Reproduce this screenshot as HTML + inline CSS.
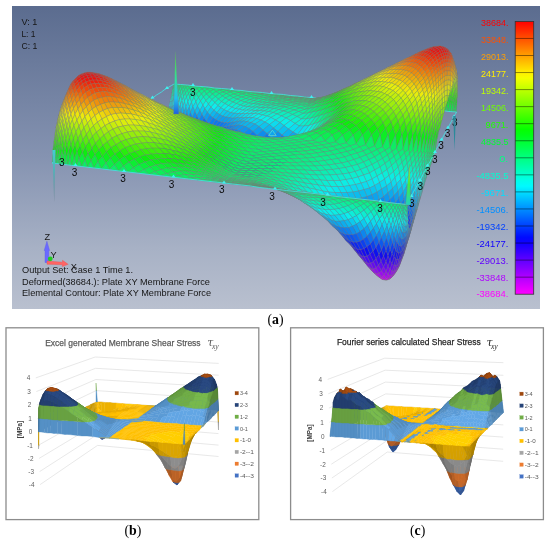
<!DOCTYPE html>
<html><head><meta charset="utf-8"><title>Membrane shear stress</title><style>
html,body{margin:0;padding:0;background:#fff;}
body{width:550px;height:543px;overflow:hidden;}
svg{display:block;}
text{font-family:"Liberation Sans",Arial,sans-serif;}
.cb{font-size:9.8px;}
.fe{font-size:9.2px;fill:#161616;}
.tr{font-size:9.2px;fill:#161616;}
.lg{font-size:6.2px;fill:#595959;}
.ax{font-size:6.4px;fill:#606060;}
.mpa{font-size:6.4px;font-weight:bold;fill:#404040;}
.tt{font-size:9.6px;stroke-width:0.25px;}
.tau{font-size:11px;font-style:italic;font-family:"DejaVu Serif","Liberation Serif",serif;}
.sub{font-size:7.6px;font-style:italic;font-family:"Liberation Serif",serif;}
.e{fill:none;stroke:#40e8e8;stroke-width:1.6px;stroke-opacity:1}
.m{fill:#40f0f0;stroke:none}
.three{font-size:10px;fill:#0a0a0a;text-anchor:middle}
.cap{font-size:13.8px;font-family:"Liberation Serif",serif;fill:#000;}
</style></head>
<body><svg width="550" height="543" viewBox="0 0 550 543"><defs>
<linearGradient id="bgA" x1="0" y1="0" x2="0" y2="1">
<stop offset="0" stop-color="#5b6c8f"/><stop offset="0.5" stop-color="#8593b1"/><stop offset="0.8" stop-color="#a7b1c5"/><stop offset="1" stop-color="#b9c0cf"/>
</linearGradient>
<linearGradient id="cbar" x1="0" y1="0" x2="0" y2="1"><stop offset="0.0000" stop-color="#ff0000"/><stop offset="0.0208" stop-color="#ff1b00"/><stop offset="0.0417" stop-color="#ff3500"/><stop offset="0.0625" stop-color="#ff5000"/><stop offset="0.0833" stop-color="#ff6a00"/><stop offset="0.1042" stop-color="#ff8500"/><stop offset="0.1250" stop-color="#ff9f00"/><stop offset="0.1458" stop-color="#ffba00"/><stop offset="0.1667" stop-color="#ffd400"/><stop offset="0.1875" stop-color="#ffef00"/><stop offset="0.2083" stop-color="#f4ff00"/><stop offset="0.2292" stop-color="#daff00"/><stop offset="0.2500" stop-color="#bfff00"/><stop offset="0.2708" stop-color="#a5ff00"/><stop offset="0.2917" stop-color="#8aff00"/><stop offset="0.3125" stop-color="#70ff00"/><stop offset="0.3333" stop-color="#55ff00"/><stop offset="0.3542" stop-color="#3aff00"/><stop offset="0.3750" stop-color="#20ff00"/><stop offset="0.3958" stop-color="#05ff00"/><stop offset="0.4167" stop-color="#00ff15"/><stop offset="0.4375" stop-color="#00ff30"/><stop offset="0.4583" stop-color="#00ff4a"/><stop offset="0.4792" stop-color="#00ff65"/><stop offset="0.5000" stop-color="#00ff80"/><stop offset="0.5208" stop-color="#00ff9a"/><stop offset="0.5417" stop-color="#00ffb5"/><stop offset="0.5625" stop-color="#00ffcf"/><stop offset="0.5833" stop-color="#00ffea"/><stop offset="0.6042" stop-color="#00faff"/><stop offset="0.6250" stop-color="#00dfff"/><stop offset="0.6458" stop-color="#00c5ff"/><stop offset="0.6667" stop-color="#00aaff"/><stop offset="0.6875" stop-color="#008fff"/><stop offset="0.7083" stop-color="#0075ff"/><stop offset="0.7292" stop-color="#005aff"/><stop offset="0.7500" stop-color="#0040ff"/><stop offset="0.7708" stop-color="#0025ff"/><stop offset="0.7917" stop-color="#000bff"/><stop offset="0.8125" stop-color="#1000ff"/><stop offset="0.8333" stop-color="#2a00ff"/><stop offset="0.8542" stop-color="#4500ff"/><stop offset="0.8750" stop-color="#6000ff"/><stop offset="0.8958" stop-color="#7a00ff"/><stop offset="0.9167" stop-color="#9500ff"/><stop offset="0.9375" stop-color="#af00ff"/><stop offset="0.9583" stop-color="#ca00ff"/><stop offset="0.9792" stop-color="#e400ff"/><stop offset="1.0000" stop-color="#ff00ff"/></linearGradient>
</defs>
<rect x="12" y="6" width="528" height="303" fill="url(#bgA)"/>
<g transform="scale(0.5)" stroke="#7a7a7a" stroke-width="1.0" stroke-opacity="0.6" stroke-linejoin="round">
<path fill="#0ded6c" d="M348 168l-1 0 2 0-1 0z"/>
<path fill="#0ded6d" d="M349 168l1 1 2-1-1 0z"/>
<path fill="#0ded6f" d="M347 168l1 2 2-1-1-1z"/>
<path fill="#0ded6d" d="M352 168l1 1 3-1-2 0z"/>
<path fill="#0ded6f" d="M350 169l1 2 2-2-1-1z"/>
<path fill="#0ded6d" d="M356 168l1 2 2-1-2 0z"/>
<path fill="#0ded73" d="M347 170l-1 2 2-2-1-2z"/>
<path fill="#0ded70" d="M353 169l1 3 3-2-1-2z"/>
<path fill="#0ded75" d="M348 170l1 3 2-2-1-2z"/>
<path fill="#0ded6d" d="M359 169l2 1 2-1-2 0z"/>
<path fill="#0d12ed" d="M358 261l2 13 4-8-2-13z"/>
<path fill="#0d42ed" d="M357 248l1 13 4-8-2-13z"/>
<path fill="#0ded77" d="M351 171l1 4 2-3-1-3z"/>
<path fill="#360ded" d="M360 274l1 13 4-9-1-12z"/>
<path fill="#240ded" d="M355 268l1 13 4-7-2-13z"/>
<path fill="#0ded7c" d="M346 172l1 4 2-3-1-3z"/>
<path fill="#0d27ed" d="M354 254l1 14 3-7-1-13z"/>
<path fill="#0ded70" d="M357 170l1 3 3-3-2-1z"/>
<path fill="#0d34ed" d="M362 253l2 13 4-10-2-12z"/>
<path fill="#0d73ed" d="M356 235l1 13 3-8-1-13z"/>
<path fill="#0d62ed" d="M360 240l2 13 4-9-2-13z"/>
<path fill="#130ded" d="M364 266l1 12 5-10-2-12z"/>
<path fill="#0d59ed" d="M353 241l1 13 3-6-1-13z"/>
<path fill="#0ded80" d="M349 173l1 5 2-3-1-4z"/>
<path fill="#520ded" d="M356 281l1 12 4-6-1-13z"/>
<path fill="#0ded79" d="M354 172l2 4 2-3-1-3z"/>
<path fill="#0d91ed" d="M359 227l1 13 4-9-2-12z"/>
<path fill="#0ded6d" d="M363 169l2 2 3-1-3-1z"/>
<path fill="#0da2ed" d="M355 222l1 13 3-8-1-12z"/>
<path fill="#0ded83" d="M346 175l-1 3 2-2-1-4z"/>
<path fill="#0d89ed" d="M352 228l1 13 3-6-1-13z"/>
<path fill="#0ded84" d="M352 175l1 5 3-4-2-4z"/>
<path fill="#5f0ded" d="M361 287l2 11 4-9-2-11z"/>
<path fill="#0d12ed" d="M350 259l1 14 4-5-1-14z"/>
<path fill="#0ded8a" d="M347 176l1 5 2-3-1-5z"/>
<path fill="#0ded71" d="M361 170l1 3 3-2-2-2z"/>
<path fill="#3d0ded" d="M365 278l2 11 5-10-2-11z"/>
<path fill="#0d44ed" d="M350 246l0 13 4-5-1-13z"/>
<path fill="#0d5aed" d="M366 244l2 12 4-10-2-12z"/>
<path fill="#380ded" d="M351 273l1 13 4-5-1-13z"/>
<path fill="#0ded91" d="M350 178l1 6 2-4-1-5z"/>
<path fill="#0dbeed" d="M358 215l1 12 3-8-1-11z"/>
<path fill="#0d86ed" d="M364 231l2 13 4-10-2-12z"/>
<path fill="#0d2eed" d="M368 256l2 12 5-11-3-11z"/>
<path fill="#0dceed" d="M354 210l1 12 3-7-2-11z"/>
<path fill="#0db7ed" d="M351 216l1 12 3-6-1-12z"/>
<path fill="#0ded7a" d="M358 173l1 4 3-4-1-3z"/>
<path fill="#0d75ed" d="M349 233l1 13 3-5-1-13z"/>
<path fill="#0ded88" d="M356 176l1 6 2-5-1-4z"/>
<path fill="#0ded97" d="M353 180l1 6 3-4-1-6z"/>
<path fill="#0ded9d" d="M348 181l1 6 2-3-1-6z"/>
<path fill="#0db2ed" d="M362 219l2 12 4-9-2-11z"/>
<path fill="#0de7ed" d="M356 204l2 11 3-7-2-10z"/>
<path fill="#7b0ded" d="M357 293l1 11 5-6-2-11z"/>
<path fill="#0deda7" d="M351 184l1 7 2-5-1-6z"/>
<path fill="#0ded93" d="M345 178l1 5 2-2-1-5z"/>
<path fill="#0dede6" d="M353 200l1 10 2-6-1-9z"/>
<path fill="#0de1ed" d="M350 205l1 11 3-6-1-10z"/>
<path fill="#0dedc4" d="M352 191l1 9 2-5-1-9z"/>
<path fill="#0dedb0" d="M354 186l1 9 3-6-1-7z"/>
<path fill="#0dedcf" d="M355 195l1 9 3-6-1-9z"/>
<path fill="#650ded" d="M352 286l1 11 4-4-1-12z"/>
<path fill="#0da4ed" d="M348 220l1 13 3-5-1-12z"/>
<path fill="#0dedb7" d="M349 187l0 8 3-4-1-7z"/>
<path fill="#0ddced" d="M361 208l1 11 4-8-2-11z"/>
<path fill="#140ded" d="M370 268l2 11 5-11-2-11z"/>
<path fill="#0ded6d" d="M368 170l2 1 3-1-2 0z"/>
<path fill="#0dedd6" d="M349 195l1 10 3-5-1-9z"/>
<path fill="#0ded9d" d="M357 182l1 7 3-6-2-6z"/>
<path fill="#0ded71" d="M365 171l2 3 3-3-2-1z"/>
<path fill="#0dedd9" d="M359 198l2 10 3-8-2-9z"/>
<path fill="#0deda9" d="M346 183l1 7 2-3-1-6z"/>
<path fill="#0ded8b" d="M359 177l2 6 3-5-2-5z"/>
<path fill="#0dedb8" d="M358 189l1 9 3-7-1-8z"/>
<path fill="#0dcfed" d="M348 209l0 11 3-4-1-11z"/>
<path fill="#0ded7c" d="M362 173l2 5 3-4-2-3z"/>
<path fill="#0dedc4" d="M347 190l0 9 2-4 0-8z"/>
<path fill="#0dede5" d="M347 199l1 10 2-4-1-10z"/>
<path fill="#0d83ed" d="M370 234l2 12 5-11-3-12z"/>
<path fill="#0ded9b" d="M344 181l0 4 2-2-1-5z"/>
<path fill="#600ded" d="M367 289l3 9 5-10-3-9z"/>
<path fill="#0daced" d="M368 222l2 12 4-11-2-10z"/>
<path fill="#0d36ed" d="M347 249l0 13 3-3 0-13z"/>
<path fill="#820ded" d="M363 298l2 9 5-9-3-9z"/>
<path fill="#150ded" d="M347 262l1 13 3-2-1-14z"/>
<path fill="#0deda2" d="M361 183l1 8 4-6-2-7z"/>
<path fill="#0d5aed" d="M372 246l3 11 4-12-2-10z"/>
<path fill="#0dd5ed" d="M366 211l2 11 4-9-3-11z"/>
<path fill="#0d67ed" d="M346 236l1 13 3-3-1-13z"/>
<path fill="#0dede0" d="M364 200l2 11 3-9-2-9z"/>
<path fill="#0dedbe" d="M362 191l2 9 3-7-1-8z"/>
<path fill="#0d96ed" d="M346 223l0 13 3-3-1-13z"/>
<path fill="#0dedb1" d="M344 185l0 8 3-3-1-7z"/>
<path fill="#440ded" d="M348 275l0 13 4-2-1-13z"/>
<path fill="#0ded8e" d="M364 178l2 7 3-6-2-5z"/>
<path fill="#370ded" d="M372 279l3 9 5-11-3-9z"/>
<path fill="#8d0ded" d="M353 297l1 11 4-4-1-11z"/>
<path fill="#0dc2ed" d="M345 212l1 11 2-3 0-11z"/>
<path fill="#0ded6d" d="M373 170l3 2 4-1-4-1z"/>
<path fill="#0d33ed" d="M375 257l2 11 6-12-4-11z"/>
<path fill="#0dedce" d="M344 193l1 9 2-3 0-9z"/>
<path fill="#0deaed" d="M345 202l0 10 3-3-1-10z"/>
<path fill="#0ded72" d="M370 171l2 4 4-3-3-2z"/>
<path fill="#0ded7d" d="M367 174l2 5 3-4-2-4z"/>
<path fill="#9d0ded" d="M358 304l2 9 5-6-2-9z"/>
<path fill="#0deda5" d="M366 185l1 8 4-7-2-7z"/>
<path fill="#0dedc2" d="M367 193l2 9 4-8-2-8z"/>
<path fill="#0dede4" d="M369 202l3 11 4-10-3-9z"/>
<path fill="#0dd2ed" d="M372 213l2 10 5-10-3-10z"/>
<path fill="#700ded" d="M348 288l1 12 4-3-1-11z"/>
<path fill="#0daced" d="M374 223l3 12 4-11-2-11z"/>
<path fill="#0dedb8" d="M343 190l-1 4 2-1 0-8z"/>
<path fill="#0ded8f" d="M369 179l2 7 4-6-3-5z"/>
<path fill="#0d86ed" d="M377 235l2 10 6-11-4-10z"/>
<path fill="#0d10ed" d="M377 268l3 9 6-12-3-9z"/>
<path fill="#0d60ed" d="M344 238l0 12 3-1-1-13z"/>
<path fill="#0dedd5" d="M342 194l1 9 2-1-1-9z"/>
<path fill="#0d8eed" d="M343 225l1 13 2-2 0-13z"/>
<path fill="#7c0ded" d="M370 298l2 8 6-10-3-8z"/>
<path fill="#0d30ed" d="M344 250l0 14 3-2 0-13z"/>
<path fill="#0ded7d" d="M372 175l3 5 4-4-3-4z"/>
<path fill="#0dbaed" d="M343 214l0 11 3-2-1-11z"/>
<path fill="#0de2ed" d="M343 203l0 11 2-2 0-10z"/>
<path fill="#0deda7" d="M371 186l2 8 4-7-2-7z"/>
<path fill="#0ded72" d="M376 172l3 4 4-3-3-2z"/>
<path fill="#0ded6d" d="M380 171l3 2 4-1-4-1z"/>
<path fill="#9d0ded" d="M365 307l2 7 5-8-2-8z"/>
<path fill="#0d61ed" d="M379 245l4 11 5-13-3-9z"/>
<path fill="#1a0ded" d="M344 264l1 12 3-1-1-13z"/>
<path fill="#540ded" d="M375 288l3 8 5-11-3-8z"/>
<path fill="#0dedc4" d="M373 194l3 9 4-8-3-8z"/>
<path fill="#ae0ded" d="M354 308l1 8 5-3-2-9z"/>
<path fill="#0dede4" d="M376 203l3 10 4-9-3-9z"/>
<path fill="#0ded90" d="M375 180l2 7 5-6-3-5z"/>
<path fill="#960ded" d="M349 300l1 10 4-2-1-11z"/>
<path fill="#0dd5ed" d="M379 213l2 11 5-11-3-9z"/>
<path fill="#470ded" d="M345 276l0 12 3 0 0-13z"/>
<path class="e" d="M348 168L361 169"/>
<path fill="#0d40ed" d="M383 256l3 9 6-13-4-9z"/>
<path fill="#b70ded" d="M360 313l2 6 5-5-2-7z"/>
<path fill="#260ded" d="M380 277l3 8 6-12-3-8z"/>
<path fill="#0dedd8" d="M341 199l-1 4 3 0-1-9z"/>
<path fill="#0db2ed" d="M381 224l4 10 5-12-4-9z"/>
<path fill="#0ded7d" d="M379 176l3 5 4-5-3-3z"/>
<path fill="#0deda7" d="M377 187l3 8 5-7-3-7z"/>
<path fill="#0ded72" d="M383 173l3 3 5-3-4-1z"/>
<path fill="#0ded6d" d="M387 172l4 1 5-1-5 0z"/>
<path fill="#0de1ed" d="M340 203l1 11 2 0 0-11z"/>
<path fill="#0db8ed" d="M341 214l0 11 2 0 0-11z"/>
<path fill="#0dedc3" d="M380 195l3 9 5-9-3-7z"/>
<path fill="#0d8ded" d="M341 225l0 13 3 0-1-13z"/>
<path fill="#0d90ed" d="M385 234l3 9 6-12-4-9z"/>
<path fill="#710ded" d="M345 288l0 11 4 1-1-12z"/>
<path fill="#0d5fed" d="M341 238l0 12 3 0 0-12z"/>
<path fill="#0ded8f" d="M382 181l3 7 4-6-3-6z"/>
<path fill="#0dede0" d="M383 204l3 9 6-10-4-8z"/>
<path fill="#0d31ed" d="M341 250l0 13 3 1 0-14z"/>
<path fill="#8f0ded" d="M372 306l3 5 6-10-3-5z"/>
<path fill="#0d24ed" d="M386 265l3 8 6-13-3-8z"/>
<path fill="#680ded" d="M378 296l3 5 6-10-4-6z"/>
<path fill="#0ded7d" d="M386 176l3 6 5-5-3-4z"/>
<path fill="#0d70ed" d="M388 243l4 9 6-12-4-9z"/>
<path fill="#b50ded" d="M350 310l1 8 4-2-1-8z"/>
<path fill="#0ddbed" d="M386 213l4 9 5-10-3-9z"/>
<path fill="#0deda6" d="M385 188l3 7 5-7-4-6z"/>
<path fill="#c60ded" d="M355 316l2 7 5-4-2-6z"/>
<path fill="#b00ded" d="M367 314l2 4 6-7-3-5z"/>
<path fill="#170ded" d="M341 263l0 12 4 1-1-12z"/>
<path fill="#0ded71" d="M391 173l3 4 6-3-4-2z"/>
<path fill="#0ded6d" d="M396 172l4 2 5-1-5 0z"/>
<path fill="#3c0ded" d="M383 285l4 6 6-12-4-6z"/>
<path fill="#0de2ed" d="M339 208l-1 5 3 1-1-11z"/>
<path fill="#0dbced" d="M390 222l4 9 6-11-5-8z"/>
<path class="e" d="M361 169L375 170"/>
<path fill="#0dedbf" d="M388 195l4 8 5-8-4-7z"/>
<path fill="#950ded" d="M345 299l1 10 4 1-1-10z"/>
<path fill="#0ded8e" d="M389 182l4 6 5-6-4-5z"/>
<path fill="#420ded" d="M341 275l1 12 3 1 0-12z"/>
<path fill="#0dbded" d="M338 213l0 11 3 1 0-11z"/>
<path fill="#0d55ed" d="M392 252l3 8 7-13-4-7z"/>
<path fill="#c70ded" d="M362 319l2 5 5-6-2-4z"/>
<path fill="#0d92ed" d="M338 224l0 12 3 2 0-13z"/>
<path fill="#0dedda" d="M392 203l3 9 6-10-4-7z"/>
<path fill="#0d0ded" d="M389 273l4 6 7-13-5-6z"/>
<path fill="#0ded7c" d="M394 177l4 5 6-4-4-4z"/>
<path fill="#0d9fed" d="M394 231l4 9 6-12-4-8z"/>
<path fill="#0d65ed" d="M338 236l0 12 3 2 0-12z"/>
<path fill="#0deda2" d="M393 188l4 7 6-7-5-6z"/>
<path fill="#0ded71" d="M400 174l4 4 6-3-5-2z"/>
<path fill="#0ded6d" d="M405 173l5 2 6-1-6 0z"/>
<path fill="#0de5ed" d="M395 212l5 8 6-10-5-8z"/>
<path class="e" d="M343 171L348 168"/>
<path fill="#6a0ded" d="M342 287l0 10 3 2 0-11z"/>
<path fill="#0d39ed" d="M338 248l0 12 3 3 0-13z"/>
<path fill="#cc0ded" d="M351 318l1 6 5-1-2-7z"/>
<path fill="#750ded" d="M381 301l3 4 6-10-3-4z"/>
<path fill="#0dedb9" d="M397 195l4 7 6-8-4-6z"/>
<path fill="#9a0ded" d="M375 311l3 3 6-9-3-4z"/>
<path fill="#0ded8c" d="M398 182l5 6 6-6-5-4z"/>
<path fill="#0d85ed" d="M398 240l4 7 6-12-4-7z"/>
<path fill="#b30ded" d="M346 309l1 8 4 1-1-8z"/>
<path fill="#0d3eed" d="M395 260l5 6 6-12-4-7z"/>
<path fill="#4b0ded" d="M387 291l3 4 7-12-4-4z"/>
<path class="e" d="M375 170L388 172"/>
<path fill="#d50ded" d="M357 323l1 4 6-3-2-5z"/>
<path fill="#0dcaed" d="M400 220l4 8 6-11-4-7z"/>
<path fill="#0d0eed" d="M338 260l0 12 3 3 0-12z"/>
<path fill="#0ded7b" d="M404 178l5 4 6-4-5-3z"/>
<path fill="#b80ded" d="M369 318l3 3 6-7-3-3z"/>
<path fill="#0dc4ed" d="M337 217l-1 4 2 3 0-11z"/>
<path fill="#0dedd1" d="M401 202l5 8 6-9-5-7z"/>
<path fill="#0ded71" d="M410 175l5 3 6-2-5-2z"/>
<path fill="#0ded9e" d="M403 188l4 6 6-6-4-6z"/>
<path fill="#1c0ded" d="M393 279l4 4 7-12-4-5z"/>
<path fill="#8c0ded" d="M342 297l0 9 4 3-1-10z"/>
<path fill="#0ded6d" d="M416 174l5 2 7 0-6-1z"/>
<path fill="#0d9eed" d="M336 221l0 12 2 3 0-12z"/>
<path fill="#0d6eed" d="M402 247l4 7 7-12-5-7z"/>
<path fill="#0db2ed" d="M404 228l4 7 7-11-5-7z"/>
<path fill="#350ded" d="M338 272l0 11 4 4-1-12z"/>
<path fill="#0dede9" d="M406 210l4 7 7-9-5-7z"/>
<path fill="#0ded89" d="M409 182l4 6 7-5-5-5z"/>
<path fill="#cf0ded" d="M364 324l2 2 6-5-3-3z"/>
<path fill="#0d73ed" d="M336 233l0 12 2 3 0-12z"/>
<path fill="#0dedb2" d="M407 194l5 7 7-7-6-6z"/>
<path fill="#0d2ded" d="M400 266l4 5 7-12-5-5z"/>
<path fill="#0ded79" d="M415 178l5 5 7-4-6-3z"/>
<path class="e" d="M388 172L402 173"/>
<path fill="#c90ded" d="M347 317l0 6 5 1-1-6z"/>
<path fill="#da0ded" d="M352 324l1 4 5-1-1-4z"/>
<path fill="#0d48ed" d="M336 245l-1 11 3 4 0-12z"/>
<path fill="#0ded70" d="M421 176l6 3 7-2-6-1z"/>
<path fill="#0d9ded" d="M408 235l5 7 7-12-5-6z"/>
<path fill="#0ddbed" d="M410 217l5 7 7-10-5-6z"/>
<path fill="#5a0ded" d="M338 283l0 10 4 4 0-10z"/>
<path fill="#0ded99" d="M413 188l6 6 6-6-5-5z"/>
<path fill="#790ded" d="M384 305l3 1 7-9-4-2z"/>
<path fill="#0dedc7" d="M412 201l5 7 7-9-5-5z"/>
<path fill="#510ded" d="M390 295l4 2 7-11-4-3z"/>
<path fill="#0ded6d" d="M428 176l6 1 7 0-7-1z"/>
<path fill="#9c0ded" d="M378 314l3 1 6-9-3-1z"/>
<path fill="#0d5ded" d="M406 254l5 5 7-12-5-5z"/>
<path fill="#a80ded" d="M342 306l0 8 5 3-1-8z"/>
<path class="m" d="M382 172l4-6 4 6z"/>
<path fill="#250ded" d="M397 283l4 3 8-12-5-3z"/>
<path fill="#db0ded" d="M358 327l2 2 6-3-2-2z"/>
<path fill="#0d1fed" d="M335 256l0 11 3 5 0-12z"/>
<path fill="#0ded85" d="M420 183l5 5 7-5-5-4z"/>
<path fill="#0daced" d="M334 225l-1 3 3 5 0-12z"/>
<path fill="#0dedaa" d="M419 194l5 5 7-6-6-5z"/>
<path fill="#b80ded" d="M372 321l2 1 7-7-3-1z"/>
<path fill="#0deddb" d="M417 208l5 6 8-9-6-6z"/>
<path fill="#0dc7ed" d="M415 224l5 6 8-10-6-6z"/>
<path fill="#0ded78" d="M427 179l5 4 8-3-6-3z"/>
<path class="e" d="M402 173L416 174"/>
<path fill="#0d23ed" d="M404 271l5 3 7-12-5-3z"/>
<path fill="#0d8ced" d="M413 242l5 5 8-12-6-5z"/>
<path fill="#0ded70" d="M434 177l6 3 7-1-6-2z"/>
<path fill="#7a0ded" d="M338 293l0 9 4 4 0-9z"/>
<path fill="#210ded" d="M335 267l0 11 3 5 0-11z"/>
<path fill="#0ded93" d="M425 188l6 5 8-6-7-4z"/>
<path fill="#0d87ed" d="M333 228l0 11 3 6 0-12z"/>
<path fill="#0ded6d" d="M441 177l6 2 8-1-7 0z"/>
<path fill="#0dedbb" d="M424 199l6 6 7-7-6-5z"/>
<path fill="#cd0ded" d="M366 326l2 1 6-5-2-1z"/>
<path fill="#0d52ed" d="M411 259l5 3 8-11-6-4z"/>
<path fill="#d60ded" d="M347 323l1 4 5 1-1-4z"/>
<path fill="#0deded" d="M422 214l6 6 8-9-6-6z"/>
<path fill="#0ded82" d="M432 183l7 4 7-3-6-4z"/>
<path fill="#bc0ded" d="M342 314l1 6 4 3 0-6z"/>
<path fill="#0db7ed" d="M420 230l6 5 8-10-6-5z"/>
<path fill="#0d5eed" d="M333 239l-1 12 3 5 1-11z"/>
<path fill="#dc0ded" d="M353 328l2 2 5-1-2-2z"/>
<path fill="#0ded76" d="M440 180l6 4 8-3-7-2z"/>
<path fill="#0deda2" d="M431 193l6 5 8-6-6-5z"/>
<path class="e" d="M416 174L429 176"/>
<path fill="#500ded" d="M394 297l4 0 8-10-5-1z"/>
<path fill="#760ded" d="M387 306l4 0 7-9-4 0z"/>
<path fill="#440ded" d="M335 278l0 9 3 6 0-10z"/>
<path fill="#0d7fed" d="M418 247l6 4 8-12-6-4z"/>
<path fill="#260ded" d="M401 286l5 1 7-11-4-2z"/>
<path fill="#0dedcc" d="M430 205l6 6 7-8-6-5z"/>
<path fill="#0ded6f" d="M447 179l7 2 8-1-7-2z"/>
<path fill="#940ded" d="M338 302l0 7 4 5 0-8z"/>
<path fill="#960ded" d="M381 315l3-1 7-8-4 0z"/>
<path fill="#0ddeed" d="M428 220l6 5 8-10-6-4z"/>
<path fill="#0ded8e" d="M439 187l6 5 8-5-7-3z"/>
<path fill="#0d37ed" d="M332 251l0 11 3 5 0-11z"/>
<path fill="#0d1fed" d="M409 274l4 2 8-12-5-2z"/>
<path fill="#0ded6c" d="M455 178l7 2 8 0-8-1z"/>
<path fill="#d90ded" d="M360 329l2 1 6-3-2-1z"/>
<path fill="#0dedb0" d="M437 198l6 5 8-7-6-4z"/>
<path fill="#0daaed" d="M426 235l6 4 8-10-6-4z"/>
<path fill="#0ded7f" d="M446 184l7 3 8-3-7-3z"/>
<path fill="#b00ded" d="M374 322l3-2 7-6-3 1z"/>
<path fill="#0d4ced" d="M416 262l5 2 8-11-5-2z"/>
<path class="e" d="M338 174L343 171"/>
<path fill="#0d9ced" d="M331 231l-1 2 3 6 0-11z"/>
<path class="e" d="M429 176L443 177"/>
<path fill="#0dedda" d="M436 211l6 4 8-8-7-4z"/>
<path fill="#0ded74" d="M454 181l7 3 8-2-7-2z"/>
<path fill="#620ded" d="M335 287l0 9 3 6 0-9z"/>
<path fill="#0d13ed" d="M332 262l0 10 3 6 0-11z"/>
<path fill="#0ded99" d="M445 192l6 4 9-5-7-4z"/>
<path fill="#c90ded" d="M343 320l1 4 4 3-1-4z"/>
<path fill="#db0ded" d="M348 327l2 3 5 0-2-2z"/>
<path fill="#0ded6f" d="M462 180l7 2 9-1-8-1z"/>
<path fill="#0dd2ed" d="M434 225l6 4 8-10-6-4z"/>
<path fill="#0d78ed" d="M424 251l5 2 9-11-6-3z"/>
<path fill="#0dedbd" d="M443 203l7 4 8-7-7-4z"/>
<path fill="#0ded6c" d="M470 180l8 1 9 0-9 0z"/>
<path fill="#c40ded" d="M368 327l3-2 6-5-3 2z"/>
<path fill="#0ded88" d="M453 187l7 4 8-3-7-4z"/>
<path fill="#a80ded" d="M338 309l1 6 4 5-1-6z"/>
<path fill="#0d79ed" d="M330 233l-1 11 3 7 1-12z"/>
<path fill="#dc0ded" d="M355 330l1 1 6-1-2-1z"/>
<path fill="#480ded" d="M398 297l5-1 8-10-5 1z"/>
<path fill="#0da2ed" d="M432 239l6 3 8-10-6-3z"/>
<path fill="#220ded" d="M406 287l5-1 8-10-6 0z"/>
<path fill="#0dede6" d="M442 215l6 4 9-8-7-4z"/>
<path fill="#0ded7b" d="M461 184l7 4 9-3-8-3z"/>
<path class="e" d="M443 177L457 178"/>
<path fill="#6b0ded" d="M391 306l4-2 8-8-5 1z"/>
<path fill="#0deda4" d="M451 196l7 4 9-5-7-4z"/>
<path fill="#0d21ed" d="M413 276l6 0 8-11-6-1z"/>
<path fill="#270ded" d="M332 272l-1 9 4 6 0-9z"/>
<path fill="#0ded73" d="M469 182l8 3 9-1-8-3z"/>
<path fill="#7a0ded" d="M335 296l-1 7 4 6 0-7z"/>
<path fill="#0d4bed" d="M421 264l6 1 8-11-6-1z"/>
<path fill="#0d54ed" d="M329 244l0 11 3 7 0-11z"/>
<path fill="#890ded" d="M384 314l4-2 7-8-4 2z"/>
<path fill="#0dc9ed" d="M440 229l6 3 9-10-7-3z"/>
<path fill="#0dedc7" d="M450 207l7 4 9-7-8-4z"/>
<path fill="#0ded91" d="M460 191l7 4 9-4-8-3z"/>
<path fill="#0ded6e" d="M478 181l8 3 9-1-8-2z"/>
<path fill="#cf0ded" d="M362 330l2-2 7-3-3 2z"/>
<path fill="#0d75ed" d="M429 253l6 1 9-10-6-2z"/>
<path fill="#0ded6c" d="M487 181l8 2 9 0-9-1z"/>
<path fill="#0ded83" d="M468 188l8 3 9-3-8-3z"/>
<path class="e" d="M457 178L470 180"/>
<path fill="#0dedae" d="M458 200l8 4 8-6-7-3z"/>
<path fill="#0deced" d="M448 219l7 3 9-8-7-3z"/>
<path fill="#a10ded" d="M377 320l4-2 7-6-4 2z"/>
<path fill="#cf0ded" d="M344 324l0 3 6 3-2-3z"/>
<path fill="#0ded78" d="M477 185l8 3 9-2-8-2z"/>
<path fill="#0d9eed" d="M438 242l6 2 9-10-7-2z"/>
<path fill="#b50ded" d="M339 315l0 5 5 4-1-4z"/>
<path fill="#440ded" d="M331 281l0 8 4 7 0-9z"/>
<path fill="#0d32ed" d="M329 255l-1 9 4 8 0-10z"/>
<path fill="#d90ded" d="M350 330l1 0 5 1-1-1z"/>
<path fill="#0ded99" d="M467 195l7 3 10-4-8-3z"/>
<path fill="#0ded72" d="M486 184l8 2 9-1-8-2z"/>
<path fill="#0dedd0" d="M457 211l7 3 9-7-7-3z"/>
<path fill="#0d94ed" d="M328 235l-2 2 3 7 1-11z"/>
<path fill="#0dc4ed" d="M446 232l7 2 9-9-7-3z"/>
<path fill="#0ded6e" d="M495 183l8 2 10 0-9-2z"/>
<path fill="#8d0ded" d="M334 303l0 6 5 6-1-6z"/>
<path fill="#0ded8a" d="M476 191l8 3 9-3-8-3z"/>
<path fill="#170ded" d="M411 286l5-2 8-9-5 1z"/>
<path fill="#0d29ed" d="M419 276l5-1 9-10-6 0z"/>
<path fill="#b30ded" d="M371 325l3-3 7-4-4 2z"/>
<path class="e" d="M470 180L484 181"/>
<path fill="#3b0ded" d="M403 296l4-3 9-9-5 2z"/>
<path fill="#d30ded" d="M356 331l2-1 6-2-2 2z"/>
<path fill="#0dedb6" d="M466 204l7 3 9-6-8-3z"/>
<path fill="#0ded6c" d="M504 183l9 2 9 0-9-1z"/>
<path fill="#0d50ed" d="M427 265l6 0 9-10-7-1z"/>
<path fill="#0ded7e" d="M485 188l8 3 9-2-8-3z"/>
<path fill="#0de7ed" d="M455 222l7 3 9-8-7-3z"/>
<path class="m" d="M460 180l4-6 4 6z"/>
<path fill="#5b0ded" d="M395 304l4-3 8-8-4 3z"/>
<path fill="#0d13ed" d="M328 264l0 9 3 8 1-9z"/>
<path fill="#0d78ed" d="M435 254l7 1 9-10-7-1z"/>
<path fill="#0deda0" d="M474 198l8 3 10-4-8-3z"/>
<path fill="#0ded75" d="M494 186l8 3 10-2-9-2z"/>
<path fill="#0d75ed" d="M326 237l0 10 3 8 0-11z"/>
<path fill="#5b0ded" d="M331 289l-1 7 4 7 1-7z"/>
<path fill="#0dedd5" d="M464 214l7 3 10-7-8-3z"/>
<path fill="#0d9fed" d="M444 244l7 1 9-10-7-1z"/>
<path fill="#770ded" d="M388 312l4-4 7-7-4 3z"/>
<path fill="#0ded70" d="M503 185l9 2 10 0-9-2z"/>
<path fill="#0ded8f" d="M484 194l8 3 9-4-8-2z"/>
<path class="e" d="M484 181L498 183"/>
<path fill="#bf0ded" d="M364 328l3-2 7-4-3 3z"/>
<path fill="#0ded6d" d="M513 185l9 2 10 0-10-2z"/>
<path fill="#bb0ded" d="M339 320l0 2 5 5 0-3z"/>
<path fill="#cd0ded" d="M344 327l1 1 6 2-1 0z"/>
<path fill="#0dc3ed" d="M453 234l7 1 9-9-7-1z"/>
<path fill="#0dedbb" d="M473 207l8 3 9-6-8-3z"/>
<path class="e" d="M333 177L338 174"/>
<path fill="#0ded83" d="M493 191l8 2 10-2-9-2z"/>
<path fill="#0ded6c" d="M522 185l10 2 10 0-10-1z"/>
<path fill="#9a0ded" d="M334 309l0 4 5 7 0-5z"/>
<path fill="#8d0ded" d="M381 318l3-4 8-6-4 4z"/>
<path fill="#0de5ed" d="M462 225l7 1 10-8-8-1z"/>
<path fill="#0d54ed" d="M326 247l-1 9 3 8 1-9z"/>
<path fill="#0ded79" d="M502 189l9 2 10-2-9-2z"/>
<path fill="#0deda5" d="M482 201l8 3 10-5-8-2z"/>
<path fill="#cf0ded" d="M351 330l1-1 6 1-2 1z"/>
<path fill="#220ded" d="M328 273l-1 8 4 8 0-8z"/>
<path fill="#0ded73" d="M512 187l9 2 10-1-9-1z"/>
<path class="e" d="M498 183L512 184"/>
<path fill="#0d35ed" d="M424 275l6-2 9-10-6 2z"/>
<path fill="#0ded94" d="M492 197l8 2 10-3-9-3z"/>
<path fill="#0dedd8" d="M471 217l8 1 9-6-7-2z"/>
<path fill="#0d59ed" d="M433 265l6-2 9-9-6 1z"/>
<path fill="#0d11ed" d="M416 284l5-2 9-9-6 2z"/>
<path fill="#6d0ded" d="M330 296l0 6 4 7 0-6z"/>
<path fill="#0ded6f" d="M522 187l9 1 10 0-9-1z"/>
<path fill="#0d7fed" d="M442 255l6-1 9-9-6 0z"/>
<path fill="#2a0ded" d="M407 293l5-3 9-8-5 2z"/>
<path fill="#0ded86" d="M501 193l9 3 10-3-9-2z"/>
<path fill="#0dedbe" d="M481 210l7 2 10-6-8-2z"/>
<path fill="#0da3ed" d="M451 245l6 0 10-9-7-1z"/>
<path fill="#c30ded" d="M358 330l2-3 7-1-3 2z"/>
<path fill="#0ded6d" d="M532 187l9 1 10 0-9-1z"/>
<path fill="#9e0ded" d="M374 322l3-3 7-5-3 4z"/>
<path fill="#470ded" d="M399 301l5-3 8-8-5 3z"/>
<path fill="#0ded7c" d="M511 191l9 2 10-2-9-2z"/>
<path fill="#0d36ed" d="M325 256l-1 9 4 8 0-9z"/>
<path fill="#0d94ed" d="M324 238l-2 0 4 9 0-10z"/>
<path fill="#0dc6ed" d="M460 235l7 1 10-9-8-1z"/>
<path fill="#0ded6c" d="M542 187l9 1 10 1-10-1z"/>
<path fill="#0deda8" d="M490 204l8 2 10-5-8-2z"/>
<path class="e" d="M512 184L525 185"/>
<path fill="#0ded76" d="M521 189l9 2 10-1-9-2z"/>
<path fill="#380ded" d="M327 281l0 7 3 8 1-7z"/>
<path fill="#0de6ed" d="M469 226l8 1 9-7-7-2z"/>
<path fill="#0ded97" d="M500 199l8 2 10-4-8-1z"/>
<path fill="#ba0ded" d="M339 322l1 2 5 4-1-1z"/>
<path fill="#610ded" d="M392 308l4-3 8-7-5 3z"/>
<path fill="#0ded71" d="M531 188l9 2 10 0-9-2z"/>
<path fill="#a00ded" d="M334 313l1 4 4 5 0-2z"/>
<path fill="#0dedd8" d="M479 218l7 2 10-7-8-1z"/>
<path fill="#c40ded" d="M345 328l1-1 6 2-1 1z"/>
<path fill="#0ded89" d="M510 196l8 1 10-2-8-2z"/>
<path fill="#0ded6e" d="M541 188l9 2 11 0-10-2z"/>
<path fill="#a90ded" d="M367 326l3-4 7-3-3 3z"/>
<path class="m" d="M330 178l4-6 4 6z"/>
<path fill="#0dedbe" d="M488 212l8 1 11-6-9-1z"/>
<path fill="#0ded7f" d="M520 193l8 2 11-2-9-2z"/>
<path fill="#0ded6d" d="M551 188l10 2 10 0-10-1z"/>
<path class="e" d="M525 185L539 187"/>
<path fill="#7a0ded" d="M330 302l0 4 4 7 0-4z"/>
<path fill="#0d79ed" d="M322 238l-1 10 4 8 1-9z"/>
<path fill="#0d1ded" d="M324 265l-1 8 4 8 1-8z"/>
<path fill="#0d66ed" d="M439 263l6-1 10-9-7 1z"/>
<path fill="#c00ded" d="M352 329l2-2 6 0-2 3z"/>
<path fill="#760ded" d="M384 314l4-4 8-5-4 3z"/>
<path fill="#0ded77" d="M530 191l9 2 10-1-9-2z"/>
<path fill="#0deda9" d="M498 206l9 1 10-4-9-2z"/>
<path fill="#0d88ed" d="M448 254l7-1 9-9-7 1z"/>
<path fill="#0d43ed" d="M430 273l6-2 9-9-6 1z"/>
<path fill="#0ded6c" d="M561 189l10 1 11 1-11-1z"/>
<path fill="#0daaed" d="M457 245l7-1 10-9-7 1z"/>
<path fill="#0d22ed" d="M421 282l5-3 10-8-6 2z"/>
<path fill="#0ded72" d="M540 190l9 2 11 0-10-2z"/>
<path fill="#0ded98" d="M508 201l9 2 10-4-9-2z"/>
<path fill="#0dcbed" d="M467 236l7-1 10-8-7 0z"/>
<path fill="#490ded" d="M327 288l-1 6 4 8 0-6z"/>
<path fill="#160ded" d="M412 290l6-3 8-8-5 3z"/>
<path fill="#0ded6f" d="M550 190l10 2 10 0-9-2z"/>
<path fill="#0deaed" d="M477 227l7 0 10-7-8 0z"/>
<path fill="#0ded8a" d="M518 197l9 2 11-3-10-1z"/>
<path class="e" d="M539 187L553 188"/>
<path fill="#0ded6e" d="M561 190l9 2 11 0-10-2z"/>
<path fill="#0dedd5" d="M486 220l8 0 11-6-9-1z"/>
<path fill="#0ded80" d="M528 195l10 1 10-1-9-2z"/>
<path fill="#ad0ded" d="M360 327l3-3 7-2-3 4z"/>
<path fill="#860ded" d="M377 319l3-4 8-5-4 4z"/>
<path fill="#320ded" d="M404 298l5-4 9-7-6 3z"/>
<path fill="#0d5ced" d="M321 248l0 9 3 8 1-9z"/>
<path fill="#0ded6d" d="M571 190l10 2 11 0-10-1z"/>
<path fill="#0dedbd" d="M496 213l9 1 10-6-8-1z"/>
<path fill="#0ded78" d="M539 193l9 2 11-1-10-2z"/>
<path class="e" d="M328 180L333 177"/>
<path fill="#a00ded" d="M335 317l0 1 5 6-1-2z"/>
<path fill="#0deda8" d="M507 207l8 1 11-4-9-1z"/>
<path fill="#b20ded" d="M340 324l1 0 5 3-1 1z"/>
<path fill="#120ded" d="M323 273l0 7 4 8 0-7z"/>
<path fill="#0ded73" d="M549 192l10 2 10-1-9-1z"/>
<path fill="#0ded6c" d="M582 191l10 1 10 1-10-1z"/>
<path class="e" d="M553 188L567 189"/>
<path fill="#0ded97" d="M517 203l9 1 10-4-9-1z"/>
<path fill="#810ded" d="M330 306l0 4 5 7-1-4z"/>
<path fill="#0ded70" d="M560 192l9 1 11 0-10-1z"/>
<path class="m" d="M539 188l4-6 4 6z"/>
<path fill="#4a0ded" d="M396 305l4-4 9-7-5 4z"/>
<path fill="#b60ded" d="M346 327l2-2 6 2-2 2z"/>
<path fill="#0ded8a" d="M527 199l9 1 11-2-9-2z"/>
<path fill="#0ded6e" d="M570 192l10 1 11 0-10-1z"/>
<path fill="#0d94ed" d="M455 253l6-1 11-9-8 1z"/>
<path fill="#0db4ed" d="M464 244l8-1 10-8-8 0z"/>
<path fill="#0d73ed" d="M445 262l7-2 9-8-6 1z"/>
<path fill="#0ded80" d="M538 196l9 2 11-2-10-1z"/>
<path fill="#0dd3ed" d="M474 235l8 0 10-8-8 0z"/>
<path fill="#0d9bed" d="M320 239l-2 0 3 9 1-10z"/>
<path fill="#900ded" d="M370 322l2-4 8-3-3 4z"/>
<path fill="#0ded6d" d="M581 192l10 1 11 1-10-2z"/>
<path fill="#0d53ed" d="M436 271l6-3 10-8-7 2z"/>
<path fill="#560ded" d="M326 294l-1 5 5 7 0-4z"/>
<path fill="#0dedeb" d="M484 227l8 0 11-7-9 0z"/>
<path fill="#0ded79" d="M548 195l10 1 10-1-9-1z"/>
<path fill="#0d43ed" d="M321 257l-1 7 3 9 1-8z"/>
<path fill="#0dedd1" d="M494 220l9 0 10-6-8 0z"/>
<path fill="#0ded6d" d="M592 192l10 2 11 0-11-1z"/>
<path fill="#0d34ed" d="M426 279l6-2 10-9-6 3z"/>
<path fill="#ab0ded" d="M354 327l2-3 7 0-3 3z"/>
<path class="e" d="M567 189L581 191"/>
<path fill="#5d0ded" d="M388 310l4-4 8-5-4 4z"/>
<path fill="#0ded74" d="M559 194l9 1 11 0-10-2z"/>
<path fill="#0dedb9" d="M505 214l8 0 11-5-9-1z"/>
<path fill="#0ded6c" d="M602 193l11 1 10 1-10-1z"/>
<path fill="#0ded70" d="M569 193l10 2 11 0-10-2z"/>
<path fill="#0deda6" d="M515 208l9 1 11-4-9-1z"/>
<path fill="#0d18ed" d="M418 287l5-3 9-7-6 2z"/>
<path fill="#230ded" d="M323 280l-1 6 4 8 1-6z"/>
<path fill="#0ded96" d="M526 204l9 1 10-4-9-1z"/>
<path fill="#0ded6e" d="M580 193l10 2 11 0-10-2z"/>
<path fill="#0ded89" d="M536 200l9 1 11-2-9-1z"/>
<path fill="#0ded6d" d="M591 193l10 2 11 0-10-1z"/>
<path fill="#0ded7f" d="M547 198l9 1 11-2-9-1z"/>
<path class="e" d="M581 191L595 192"/>
<path fill="#1c0ded" d="M409 294l5-3 9-7-5 3z"/>
<path fill="#0d83ed" d="M318 239l-1 9 4 9 0-9z"/>
<path fill="#0ded6d" d="M602 194l10 1 11 1-10-2z"/>
<path fill="#9b0ded" d="M335 318l0 1 6 5-1 0z"/>
<path fill="#950ded" d="M363 324l2-4 7-2-2 4z"/>
<path fill="#0ded78" d="M558 196l9 1 11-1-10-1z"/>
<path fill="#6c0ded" d="M380 315l4-4 8-5-4 4z"/>
<path fill="#820ded" d="M330 310l0 2 5 6 0-1z"/>
<path fill="#0ded73" d="M568 195l10 1 11 0-10-1z"/>
<path fill="#a60ded" d="M341 324l1-2 6 3-2 2z"/>
<path fill="#0ded6c" d="M613 194l10 2 11 0-11-1z"/>
<path fill="#0d2eed" d="M320 264l-1 7 4 9 0-7z"/>
<path fill="#0ded70" d="M579 195l10 1 11 0-10-1z"/>
<path fill="#0dbeed" d="M472 243l7-1 11-7-8 0z"/>
<path fill="#0ddbed" d="M482 235l8 0 10-8-8 0z"/>
<path fill="#0dede4" d="M492 227l8 0 11-6-8-1z"/>
<path fill="#0d9fed" d="M461 252l8-1 10-9-7 1z"/>
<path fill="#0dedcb" d="M503 220l8 1 11-6-9-1z"/>
<path fill="#5e0ded" d="M325 299l0 3 5 8 0-4z"/>
<path fill="#0ded6c" d="M623 195l11 1 10 1-10-1z"/>
<path fill="#0ded6f" d="M590 195l10 1 11 0-10-1z"/>
<path fill="#0d81ed" d="M452 260l6-1 11-8-8 1z"/>
<path fill="#0dedb5" d="M513 214l9 1 11-5-9-1z"/>
<path fill="#330ded" d="M400 301l5-4 9-6-5 3z"/>
<path fill="#a30ded" d="M348 325l1-2 7 1-2 3z"/>
<path fill="#0deda2" d="M524 209l9 1 11-4-9-1z"/>
<path class="e" d="M595 192L609 194"/>
<path fill="#0ded6e" d="M601 195l10 1 11 1-10-2z"/>
<path fill="#0d62ed" d="M442 268l6-1 10-8-6 1z"/>
<path fill="#0ded93" d="M535 205l9 1 11-4-10-1z"/>
<path fill="#0ded87" d="M545 201l10 1 11-2-10-1z"/>
<path fill="#0ded6c" d="M612 195l10 2 11-1-10 0z"/>
<path fill="#0ded7e" d="M556 199l10 1 11-1-10-2z"/>
<path fill="#300ded" d="M322 286l-1 4 4 9 1-5z"/>
<path fill="#0d45ed" d="M432 277l6-2 10-8-6 1z"/>
<path fill="#0ded77" d="M567 197l10 2 11-1-10-2z"/>
<path fill="#760ded" d="M372 318l4-4 8-3-4 4z"/>
<path fill="#0d6aed" d="M317 248l-1 8 4 8 1-7z"/>
<path fill="#0ded69" d="M623 196l10 0 11 0-10 0z"/>
<path fill="#0ded73" d="M578 196l10 2 11 0-10-2z"/>
<path class="e" d="M323 184L328 180"/>
<path fill="#0ded70" d="M589 196l10 2 11 0-10-2z"/>
<path fill="#940ded" d="M356 324l2-4 7 0-2 4z"/>
<path fill="#0ded69" d="M634 196l10 0 11 1-11 0z"/>
<path fill="#450ded" d="M392 306l4-3 9-6-5 4z"/>
<path class="e" d="M609 194L623 195"/>
<path fill="#0ded6f" d="M600 196l10 2 11 0-10-2z"/>
<path fill="#0d2aed" d="M423 284l5-2 10-7-6 2z"/>
<path fill="#0ded6c" d="M644 197l11 0 10 2-10-1z"/>
<path fill="#0ded6d" d="M611 196l10 2 11-1-10 0z"/>
<path fill="#0d1eed" d="M319 271l-1 6 4 9 1-6z"/>
<path fill="#0ded67" d="M622 197l10 0 11-1-10 0z"/>
<path fill="#0deddd" d="M500 227l8 0 11-6-8 0z"/>
<path fill="#0dedc5" d="M511 221l8 0 12-6-9 0z"/>
<path fill="#0de3ed" d="M490 235l7 0 11-8-8 0z"/>
<path fill="#0dedb0" d="M522 215l9 0 11-5-9 0z"/>
<path fill="#0da6ed" d="M316 240l-3 0 4 8 1-9z"/>
<path fill="#7e0ded" d="M330 312l0 1 5 6 0-1z"/>
<path fill="#0ded9e" d="M533 210l9 0 11-3-9-1z"/>
<path fill="#900ded" d="M335 319l1-1 6 4-1 2z"/>
<path fill="#0dc7ed" d="M479 242l8 0 10-7-7 0z"/>
<path fill="#0ded90" d="M544 206l9 1 11-3-9-2z"/>
<path fill="#0d11ed" d="M414 291l5-2 9-7-5 2z"/>
<path fill="#0ded85" d="M555 202l9 2 11-3-9-1z"/>
<path fill="#0ded7c" d="M566 200l9 1 12-1-10-1z"/>
<path fill="#0daaed" d="M469 251l7-1 11-8-8 0z"/>
<path class="e" d="M623 195L638 197"/>
<path fill="#0ded63" d="M633 196l10 0 11 0-10 0z"/>
<path fill="#0ded76" d="M577 199l10 1 11-1-10-1z"/>
<path fill="#600ded" d="M325 302l0 3 5 7 0-2z"/>
<path fill="#0ded72" d="M588 198l10 1 11 0-10-1z"/>
<path fill="#7b0ded" d="M365 320l3-4 8-2-4 4z"/>
<path fill="#540ded" d="M384 311l3-4 9-4-4 3z"/>
<path fill="#940ded" d="M342 322l1-2 6 3-1 2z"/>
<path fill="#0d8ced" d="M458 259l7-1 11-8-7 1z"/>
<path fill="#0ded70" d="M599 198l10 1 11 0-10-1z"/>
<path fill="#0ded62" d="M644 196l10 0 11 1-10 0z"/>
<path fill="#0d56ed" d="M316 256l-1 7 4 8 1-7z"/>
<path fill="#0ded6e" d="M610 198l10 1 11-2-10 1z"/>
<path fill="#0ded65" d="M655 197l10 0 11 1-11 1z"/>
<path fill="#0d6fed" d="M448 267l7-1 10-8-7 1z"/>
<path fill="#380ded" d="M321 290l-1 4 5 8 0-3z"/>
<path fill="#0ded6b" d="M665 199l11-1 10 3-10-1z"/>
<path class="m" d="M619 196l4-6 4 6z"/>
<path fill="#1e0ded" d="M405 297l4-2 10-6-5 2z"/>
<path fill="#0ded65" d="M621 198l10-1 11-2-10 2z"/>
<path fill="#8d0ded" d="M349 323l2-3 7 0-2 4z"/>
<path class="e" d="M638 197L652 198"/>
<path fill="#0ded5e" d="M632 197l10-2 11-1-10 2z"/>
<path fill="#0d53ed" d="M438 275l6-1 11-8-7 1z"/>
<path fill="#0d11ed" d="M318 277l-1 5 4 8 1-4z"/>
<path fill="#0ded59" d="M643 196l10-2 11 0-10 2z"/>
<path fill="#0d91ed" d="M313 240l-1 7 4 9 1-8z"/>
<path fill="#0ded7b" d="M575 201l10 2 11-1-9-2z"/>
<path fill="#0ded82" d="M564 204l10 1 11-2-10-2z"/>
<path fill="#0ded75" d="M587 200l9 2 12-1-10-2z"/>
<path fill="#0ded8d" d="M553 207l9 1 12-3-10-1z"/>
<path fill="#0ded9b" d="M542 210l9 1 11-3-9-1z"/>
<path fill="#0ded72" d="M598 199l10 2 11 0-10-2z"/>
<path fill="#5d0ded" d="M376 314l3-4 8-3-3 4z"/>
<path fill="#0dedac" d="M531 215l8 1 12-5-9-1z"/>
<path fill="#0dedc0" d="M519 221l9 1 11-6-8-1z"/>
<path fill="#0ded58" d="M654 196l10-2 11 1-10 2z"/>
<path fill="#0ded6f" d="M609 199l10 2 11-3-10 1z"/>
<path fill="#0dedd7" d="M508 227l9 1 11-6-9-1z"/>
<path fill="#0d38ed" d="M428 282l6-1 10-7-6 1z"/>
<path fill="#300ded" d="M396 303l4-3 9-5-4 2z"/>
<path fill="#0deaed" d="M497 235l8 0 12-7-9-1z"/>
<path fill="#0ded5a" d="M665 197l10-2 11 2-10 1z"/>
<path class="e" d="M652 198L666 199"/>
<path fill="#0ded64" d="M620 199l10-1 11-3-10 2z"/>
<path fill="#7b0ded" d="M358 320l2-3 8-1-3 4z"/>
<path fill="#0ded61" d="M676 198l10-1 10 2-10 2z"/>
<path fill="#0dcfed" d="M487 242l7 1 11-8-8 0z"/>
<path fill="#0ded6b" d="M686 201l10-2 10 4-10-1z"/>
<path fill="#0d45ed" d="M315 263l-2 6 5 8 1-6z"/>
<path fill="#0db2ed" d="M476 250l7 1 11-8-7-1z"/>
<path fill="#0ded59" d="M631 197l10-2 12-1-11 1z"/>
<path fill="#750ded" d="M330 313l0 0 6 5-1 1z"/>
<path fill="#5e0ded" d="M325 305l-1 1 6 7 0-1z"/>
<path fill="#0d21ed" d="M419 289l5-1 10-7-6 1z"/>
<path fill="#810ded" d="M336 318l0-2 7 4-1 2z"/>
<path fill="#0ded51" d="M642 195l11-1 11-2-11 2z"/>
<path fill="#0d94ed" d="M465 258l7 1 11-8-7-1z"/>
<path fill="#0ded4c" d="M653 194l11-2 11 0-11 2z"/>
<path fill="#3b0ded" d="M320 294l0 3 5 8 0-3z"/>
<path class="e" d="M666 199L680 201"/>
<path class="e" d="M318 187L323 184"/>
<path fill="#0d77ed" d="M455 266l6 1 11-8-7-1z"/>
<path fill="#0ded75" d="M596 202l10 1 11 0-9-2z"/>
<path fill="#0ded71" d="M608 201l9 2 12-4-10 2z"/>
<path fill="#0ded4a" d="M664 194l11-2 10 1-10 2z"/>
<path fill="#800ded" d="M343 320l1-3 7 3-2 3z"/>
<path fill="#3d0ded" d="M387 307l4-3 9-4-4 3z"/>
<path fill="#0ded7a" d="M585 203l10 1 11-1-10-1z"/>
<path fill="#620ded" d="M368 316l3-4 8-2-3 4z"/>
<path fill="#0ded81" d="M574 205l9 1 12-2-10-1z"/>
<path fill="#0d7ded" d="M312 247l-2 7 5 9 1-7z"/>
<path fill="#0ded4c" d="M675 195l10-2 11 1-10 3z"/>
<path fill="#0ded8a" d="M562 208l10 1 11-3-9-1z"/>
<path fill="#0ded63" d="M619 201l10-2 11-3-10 2z"/>
<path fill="#0ded52" d="M686 197l10-3 10 3-10 2z"/>
<path fill="#0ded98" d="M551 211l9 2 12-4-10-1z"/>
<path fill="#0ded5d" d="M696 199l10-2 10 3-10 3z"/>
<path fill="#0ded6a" d="M706 203l10-3 10 5-10-1z"/>
<path fill="#110ded" d="M317 282l-1 4 4 8 1-4z"/>
<path fill="#0deda8" d="M539 216l9 1 12-4-9-2z"/>
<path fill="#0e0ded" d="M409 295l5-1 10-6-5 1z"/>
<path fill="#0ded56" d="M630 198l10-2 12-3-11 2z"/>
<path fill="#0d5bed" d="M444 274l7 1 10-8-6-1z"/>
<path fill="#0dedbc" d="M528 222l9 1 11-6-9-1z"/>
<path fill="#0dedd3" d="M517 228l8 2 12-7-9-1z"/>
<path class="e" d="M680 201L694 202"/>
<path fill="#0ded4a" d="M641 195l11-2 11-2-10 3z"/>
<path fill="#740ded" d="M351 320l2-4 7 1-2 3z"/>
<path fill="#0dedec" d="M505 235l9 2 11-7-8-2z"/>
<path fill="#0ded41" d="M653 194l10-3 11-1-10 2z"/>
<path fill="#0db4ed" d="M310 239l-2 0 4 8 1-7z"/>
<path fill="#0dd3ed" d="M494 243l8 2 12-8-9-2z"/>
<path fill="#0d38ed" d="M313 269l-1 5 5 8 1-5z"/>
<path fill="#0d41ed" d="M434 281l6 2 11-8-7-1z"/>
<path fill="#0ded3b" d="M664 192l10-2 11-1-10 3z"/>
<path fill="#0db5ed" d="M483 251l8 2 11-8-8-2z"/>
<path fill="#460ded" d="M379 310l3-3 9-3-4 3z"/>
<path fill="#0ded39" d="M675 192l10-3 10 1-10 3z"/>
<path fill="#1e0ded" d="M400 300l5-1 9-5-5 1z"/>
<path fill="#0ded74" d="M606 203l10 2 12-4-11 2z"/>
<path fill="#0ded7a" d="M595 204l9 2 12-1-10-2z"/>
<path fill="#0ded3b" d="M685 193l10-3 11 1-10 3z"/>
<path fill="#0ded69" d="M726 205l10-4 9 6-9-1z"/>
<path class="e" d="M694 202L709 204"/>
<path fill="#0ded58" d="M716 200l10-3 10 4-10 4z"/>
<path fill="#0ded64" d="M617 203l11-2 11-4-10 2z"/>
<path fill="#0ded40" d="M696 194l10-3 10 2-10 4z"/>
<path fill="#0ded4a" d="M706 197l10-4 10 4-10 3z"/>
<path fill="#0d98ed" d="M472 259l7 3 12-9-8-2z"/>
<path fill="#0ded80" d="M583 206l10 2 11-2-9-2z"/>
<path fill="#610ded" d="M360 317l3-4 8-1-3 4z"/>
<path fill="#560ded" d="M324 306l0 0 6 7 0 0z"/>
<path fill="#0ded53" d="M629 199l10-2 12-4-11 3z"/>
<path fill="#0ded89" d="M572 209l9 2 12-3-10-2z"/>
<path fill="#680ded" d="M330 313l0-1 6 4 0 2z"/>
<path fill="#0d6ced" d="M310 254l-1 6 4 9 2-6z"/>
<path fill="#0d2aed" d="M424 288l6 1 10-6-6-2z"/>
<path fill="#0ded96" d="M560 213l9 1 12-3-9-2z"/>
<path fill="#3a0ded" d="M320 297l-1 2 5 7 1-1z"/>
<path fill="#0ded44" d="M640 196l11-3 11-3-10 3z"/>
<path fill="#0d7aed" d="M461 267l7 3 11-8-7-3z"/>
<path fill="#6e0ded" d="M336 316l1-2 7 3-1 3z"/>
<path fill="#0deda6" d="M548 217l9 2 12-5-9-1z"/>
<path fill="#0ded38" d="M652 193l10-3 11-2-10 3z"/>
<path fill="#0dedba" d="M537 223l9 2 11-6-9-2z"/>
<path class="e" d="M709 204L723 205"/>
<path fill="#150ded" d="M316 286l-1 3 5 8 0-3z"/>
<path fill="#0ded2e" d="M663 191l10-3 11-2-10 4z"/>
<path fill="#0dedd1" d="M525 230l9 2 12-7-9-2z"/>
<path fill="#0ded69" d="M745 207l10-5 8 7-9-1z"/>
<path fill="#2b0ded" d="M391 304l4-1 10-4-5 1z"/>
<path fill="#0ded28" d="M674 190l10-4 11 0-10 3z"/>
<path fill="#0d5eed" d="M451 275l6 4 11-9-7-3z"/>
<path fill="#0da3ed" d="M308 239l-2 7 4 8 2-7z"/>
<path fill="#0ded54" d="M736 201l9-4 10 5-10 5z"/>
<path fill="#690ded" d="M344 317l2-3 7 2-2 4z"/>
<path fill="#0dedeb" d="M514 237l8 3 12-8-9-2z"/>
<path fill="#0ded25" d="M685 189l10-3 10 0-10 4z"/>
<path class="m" d="M701 204l4-6 4 6z"/>
<path fill="#0d16ed" d="M414 294l6 1 10-6-6-1z"/>
<path fill="#4a0ded" d="M371 312l3-3 8-2-3 3z"/>
<path fill="#0ded42" d="M726 197l10-5 9 5-9 4z"/>
<path fill="#0ded26" d="M695 190l10-4 11 1-10 4z"/>
<path fill="#0ded34" d="M716 193l10-4 10 3-10 5z"/>
<path fill="#0ded2b" d="M706 191l10-4 10 2-10 4z"/>
<path fill="#0dd3ed" d="M502 245l8 3 12-8-8-3z"/>
<path fill="#0d30ed" d="M312 274l-1 4 5 8 1-4z"/>
<path fill="#0ded78" d="M604 206l10 3 12-6-10 2z"/>
<path fill="#0ded66" d="M616 205l10-2 12-5-10 3z"/>
<path class="e" d="M723 205L737 206"/>
<path fill="#0ded80" d="M593 208l9 2 12-1-10-3z"/>
<path fill="#0ded52" d="M628 201l10-3 11-5-10 4z"/>
<path fill="#0db4ed" d="M491 253l7 4 12-9-8-3z"/>
<path fill="#0d43ed" d="M440 283l6 3 11-7-6-4z"/>
<path fill="#0ded89" d="M581 211l9 2 12-3-9-2z"/>
<path fill="#0ded40" d="M639 197l10-4 12-4-10 4z"/>
<path fill="#5c0ded" d="M353 316l2-4 8 1-3 4z"/>
<path class="e" d="M313 190L318 187"/>
<path fill="#0ded30" d="M651 193l10-4 11-3-10 4z"/>
<path fill="#0ded68" d="M763 209l9-6 9 8-9-1z"/>
<path fill="#0d95ed" d="M479 262l8 5 11-10-7-4z"/>
<path fill="#0ded95" d="M569 214l10 3 11-4-9-2z"/>
<path fill="#0d5fed" d="M309 260l-1 6 4 8 1-5z"/>
<path fill="#0ded23" d="M662 190l10-4 11-2-10 4z"/>
<path fill="#0ded50" d="M755 202l9-5 8 6-9 6z"/>
<path fill="#130ded" d="M405 299l5 1 10-5-6-1z"/>
<path fill="#0deda6" d="M557 219l10 3 12-5-10-3z"/>
<path fill="#330ded" d="M382 307l4-2 9-2-4 1z"/>
<path fill="#0ded19" d="M673 188l10-4 11-2-10 4z"/>
<path class="e" d="M737 206L752 208"/>
<path fill="#0ded3a" d="M745 197l10-6 9 6-9 5z"/>
<path fill="#0ded12" d="M684 186l10-4 11-1-10 5z"/>
<path fill="#0d75ed" d="M468 270l7 6 12-9-8-5z"/>
<path fill="#0dedba" d="M546 225l8 3 13-6-10-3z"/>
<path fill="#0d2ced" d="M430 289l5 4 11-7-6-3z"/>
<path fill="#4b0ded" d="M324 306l0 0 6 6 0 1z"/>
<path fill="#0ded0f" d="M695 186l10-5 10 0-10 5z"/>
<path fill="#0ded29" d="M736 192l9-5 10 4-10 6z"/>
<path fill="#340ded" d="M319 299l0 0 5 7 0 0z"/>
<path fill="#0ded0f" d="M705 186l10-5 11 1-10 5z"/>
<path fill="#0ded1c" d="M726 189l10-5 9 3-9 5z"/>
<path fill="#0ded14" d="M716 187l10-5 10 2-10 5z"/>
<path fill="#0dedd2" d="M534 232l8 3 12-7-8-3z"/>
<path fill="#560ded" d="M330 312l1-2 6 4-1 2z"/>
<path fill="#0d92ed" d="M306 246l-1 7 4 7 1-6z"/>
<path fill="#490ded" d="M363 313l2-3 9-1-3 3z"/>
<path fill="#150ded" d="M315 289l-1 2 5 8 1-2z"/>
<path fill="#0ded68" d="M781 211l8-7 8 8-8 0z"/>
<path fill="#0deded" d="M522 240l8 4 12-9-8-3z"/>
<path fill="#0d58ed" d="M457 279l7 5 11-8-7-6z"/>
<path fill="#580ded" d="M337 314l1-3 8 3-2 3z"/>
<path class="e" d="M752 208L766 209"/>
<path fill="#0ded6a" d="M614 209l10-3 12-6-10 3z"/>
<path fill="#0ded80" d="M602 210l10 3 12-7-10 3z"/>
<path fill="#0ded4d" d="M772 203l9-6 8 7-8 7z"/>
<path fill="#0dceed" d="M510 248l8 5 12-9-8-4z"/>
<path fill="#0ded53" d="M626 203l10-3 12-5-10 3z"/>
<path fill="#0d2bed" d="M311 278l-1 3 5 8 1-3z"/>
<path fill="#0ded3d" d="M638 198l10-3 11-5-10 3z"/>
<path fill="#0ded8a" d="M590 213l10 3 12-3-10-3z"/>
<path fill="#0d19ed" d="M420 295l5 3 10-5-5-4z"/>
<path fill="#1e0ded" d="M395 303l5 0 10-3-5-1z"/>
<path fill="#0dc4ed" d="M305 239l-3 0 4 7 2-7z"/>
<path fill="#0ded2a" d="M649 193l10-3 12-4-10 3z"/>
<path fill="#0daded" d="M498 257l8 6 12-10-8-5z"/>
<path fill="#0ded33" d="M764 197l9-6 8 6-9 6z"/>
<path fill="#0ded19" d="M661 189l10-3 11-4-10 4z"/>
<path fill="#0ded97" d="M579 217l9 3 12-4-10-3z"/>
<path fill="#0d3ded" d="M446 286l6 6 12-8-7-5z"/>
<path fill="#0eed0d" d="M672 186l10-4 11-3-10 5z"/>
<path fill="#500ded" d="M346 314l1-3 8 1-2 4z"/>
<path fill="#0ded1e" d="M755 191l9-5 9 5-9 6z"/>
<path fill="#360ded" d="M374 309l3-2 9-2-4 2z"/>
<path fill="#0ded68" d="M797 212l8-7 7 9-7-1z"/>
<path fill="#19ed0d" d="M683 184l10-5 11-2-10 5z"/>
<path fill="#0d8bed" d="M487 267l7 6 12-10-8-6z"/>
<path fill="#0d57ed" d="M308 266l-2 4 5 8 1-4z"/>
<path fill="#0ded0d" d="M745 187l10-5 9 4-9 5z"/>
<path class="e" d="M766 209L781 211"/>
<path fill="#20ed0d" d="M694 182l10-5 11-1-10 5z"/>
<path fill="#0deda7" d="M567 222l9 3 12-5-9-3z"/>
<path fill="#18ed0d" d="M736 184l9-5 10 3-10 5z"/>
<path fill="#24ed0d" d="M705 181l10-5 10 0-10 5z"/>
<path fill="#24ed0d" d="M715 181l10-5 10 1-9 5z"/>
<path fill="#20ed0d" d="M726 182l9-5 10 2-9 5z"/>
<path fill="#0ded49" d="M789 204l9-8 7 9-8 7z"/>
<path fill="#0dedbd" d="M554 228l9 4 13-7-9-3z"/>
<path fill="#0d69ed" d="M475 276l7 7 12-10-7-6z"/>
<path fill="#0dedd7" d="M542 235l9 5 12-8-9-4z"/>
<path fill="#430ded" d="M355 312l2-3 8 1-2 3z"/>
<path fill="#0f0ded" d="M410 300l4 2 11-4-5-3z"/>
<path fill="#0ded2c" d="M781 197l9-7 8 6-9 8z"/>
<path fill="#0d85ed" d="M305 253l-2 5 5 8 1-6z"/>
<path fill="#0d26ed" d="M435 293l6 5 11-6-6-6z"/>
<path fill="#0ded67" d="M812 214l8-9 6 10-7 0z"/>
<path class="e" d="M781 211L795 212"/>
<path fill="#0de6ed" d="M530 244l9 5 12-9-9-5z"/>
<path fill="#250ded" d="M386 305l4 0 10-2-5 0z"/>
<path fill="#0ded13" d="M773 191l9-7 8 6-9 7z"/>
<path fill="#0d49ed" d="M464 284l6 8 12-9-7-7z"/>
<path fill="#2a0ded" d="M319 299l-1 0 6 7 0 0z"/>
<path fill="#0ded46" d="M805 205l8-9 7 9-8 9z"/>
<path fill="#3b0ded" d="M324 306l0-2 7 6-1 2z"/>
<path fill="#0ded71" d="M612 213l10-2 12-7-10 2z"/>
<path fill="#0ded56" d="M624 206l10-2 12-7-10 3z"/>
<path fill="#0dc4ed" d="M518 253l8 7 13-11-9-5z"/>
<path fill="#0ded3d" d="M636 200l10-3 12-6-10 4z"/>
<path fill="#0ded8b" d="M600 216l9 3 13-8-10 2z"/>
<path fill="#100ded" d="M314 291l-1 1 6 7 0 0z"/>
<path fill="#1aed0d" d="M764 186l9-7 9 5-9 7z"/>
<path fill="#0ded27" d="M648 195l10-4 11-5-10 4z"/>
<path fill="#0ded12" d="M659 190l10-4 12-5-10 5z"/>
<path fill="#0db7ed" d="M302 239l-2 6 5 8 1-7z"/>
<path fill="#420ded" d="M331 310l0-3 7 4-1 3z"/>
<path fill="#19ed0d" d="M671 186l10-5 11-4-10 5z"/>
<path fill="#2aed0d" d="M755 182l9-6 9 3-9 7z"/>
<path class="e" d="M308 194L313 190"/>
<path fill="#0ded67" d="M826 215l7-9 6 11-6-1z"/>
<path fill="#0d9fed" d="M506 263l8 8 12-11-8-7z"/>
<path fill="#0ded9a" d="M588 220l9 3 12-4-9-3z"/>
<path fill="#28ed0d" d="M682 182l10-5 11-3-10 5z"/>
<path fill="#340ded" d="M365 310l3-3 9 0-3 2z"/>
<path fill="#35ed0d" d="M745 179l10-6 9 3-9 6z"/>
<path fill="#0d2bed" d="M310 281l-1 2 5 8 1-2z"/>
<path fill="#33ed0d" d="M693 179l10-5 11-2-10 5z"/>
<path fill="#0ded25" d="M798 196l8-7 7 7-8 9z"/>
<path fill="#3bed0d" d="M704 177l10-5 11-1-10 5z"/>
<path fill="#3ced0d" d="M735 177l10-5 10 1-10 6z"/>
<path class="e" d="M795 212L810 214"/>
<path fill="#3fed0d" d="M715 176l10-5 10 0-10 5z"/>
<path fill="#3fed0d" d="M725 176l10-5 10 1-10 5z"/>
<path fill="#0d13ed" d="M425 298l5 5 11-5-6-5z"/>
<path fill="#0d2ded" d="M452 292l7 8 11-8-6-8z"/>
<path fill="#0dedab" d="M576 225l9 4 12-6-9-3z"/>
<path fill="#0d7aed" d="M494 273l8 9 12-11-8-8z"/>
<path class="m" d="M784 212l4-6 4 6z"/>
<path fill="#400ded" d="M338 311l2-3 7 3-1 3z"/>
<path fill="#0ded43" d="M820 205l7-9 6 10-7 9z"/>
<path fill="#180ded" d="M400 303l4 2 10-3-4-2z"/>
<path fill="#0d52ed" d="M306 270l-1 3 5 8 1-3z"/>
<path fill="#11ed0d" d="M790 190l8-8 8 7-8 7z"/>
<path fill="#0ded67" d="M839 217l6-11 6 12-6-1z"/>
<path fill="#0dedc2" d="M563 232l9 4 13-7-9-4z"/>
<path fill="#0d55ed" d="M482 283l7 10 13-11-8-9z"/>
<path fill="#28ed0d" d="M782 184l8-7 8 5-8 8z"/>
<path fill="#0dedde" d="M551 240l9 5 12-9-9-4z"/>
<path class="e" d="M810 214L825 215"/>
<path fill="#250ded" d="M377 307l4-1 9-1-4 0z"/>
<path fill="#0ded1f" d="M813 196l8-8 6 8-7 9z"/>
<path fill="#380ded" d="M347 311l2-4 8 2-2 3z"/>
<path fill="#0d7ded" d="M303 258l-2 4 5 8 2-4z"/>
<path fill="#3aed0d" d="M773 179l9-6 8 4-8 7z"/>
<path fill="#0ded40" d="M833 206l7-10 5 10-6 11z"/>
<path fill="#0d16ed" d="M441 298l6 8 12-6-7-8z"/>
<path fill="#0ddbed" d="M539 249l8 7 13-11-9-5z"/>
<path fill="#0ded66" d="M851 218l5-11 5 12-5-1z"/>
<path fill="#49ed0d" d="M764 176l9-7 9 4-9 6z"/>
<path fill="#120ded" d="M414 302l6 5 10-4-5-5z"/>
<path fill="#0d33ed" d="M470 292l7 10 12-9-7-10z"/>
<path fill="#0db6ed" d="M526 260l8 7 13-11-8-7z"/>
<path fill="#1aed0d" d="M806 189l8-8 7 7-8 8z"/>
<path fill="#54ed0d" d="M755 173l9-6 9 2-9 7z"/>
<path fill="#0ded27" d="M646 197l10-3 12-7-10 4z"/>
<path fill="#0ded41" d="M634 204l10-3 12-7-10 3z"/>
<path fill="#0ded0f" d="M658 191l10-4 11-5-10 4z"/>
<path fill="#5aed0d" d="M745 172l9-7 10 2-9 6z"/>
<path fill="#0ded5e" d="M622 211l9-3 13-7-10 3z"/>
<path fill="#20ed0d" d="M669 186l10-4 12-5-10 4z"/>
<path fill="#0ded7d" d="M609 219l10-2 12-9-9 3z"/>
<path fill="#33ed0d" d="M681 181l10-4 11-4-10 4z"/>
<path fill="#5ded0d" d="M735 171l9-6 10 0-9 7z"/>
<path fill="#42ed0d" d="M692 177l10-4 11-4-10 5z"/>
<path fill="#0daaed" d="M300 245l-2 6 5 7 2-5z"/>
<path class="e" d="M825 215L839 217"/>
<path fill="#4eed0d" d="M703 174l10-5 11-2-10 5z"/>
<path fill="#0ded66" d="M861 219l5-11 4 12-4-1z"/>
<path fill="#5ced0d" d="M725 171l9-6 10 0-9 6z"/>
<path fill="#57ed0d" d="M714 172l10-5 10-2-9 6z"/>
<path fill="#0d8ded" d="M514 271l8 9 12-13-8-7z"/>
<path fill="#0ded9c" d="M597 223l9 4 13-10-10 2z"/>
<path fill="#0ded3e" d="M845 206l7-10 4 11-5 11z"/>
<path fill="#0ded19" d="M827 196l7-9 6 9-7 10z"/>
<path fill="#2c0ded" d="M357 309l3-3 8 1-3 3z"/>
<path fill="#1b0ded" d="M390 305l4 1 10-1-4-2z"/>
<path fill="#34ed0d" d="M798 182l8-7 8 6-8 8z"/>
<path fill="#1c0ded" d="M318 299l0-1 6 6 0 2z"/>
<path fill="#0d13ed" d="M313 292l-1 0 6 7 1 0z"/>
<path fill="#0dedb0" d="M585 229l9 4 12-6-9-4z"/>
<path fill="#0d63ed" d="M502 282l7 10 13-12-8-9z"/>
<path fill="#0d16ed" d="M459 300l6 11 12-9-7-10z"/>
<path fill="#0ded66" d="M870 220l5-12 3 13-4-1z"/>
<path fill="#270ded" d="M324 304l1-2 6 5 0 3z"/>
<path fill="#140ded" d="M430 303l6 8 11-5-6-8z"/>
<path fill="#4aed0d" d="M790 177l8-7 8 5-8 7z"/>
<path fill="#0d2fed" d="M309 283l-1 1 5 8 1-1z"/>
<path fill="#0dd7ed" d="M299 239l-3-1 4 7 2-6z"/>
<path fill="#0ded3c" d="M856 207l6-10 4 11-5 11z"/>
<path fill="#22ed0d" d="M821 188l7-8 6 7-7 9z"/>
<path fill="#0dedc9" d="M572 236l9 5 13-8-9-4z"/>
<path class="e" d="M839 217L854 218"/>
<path fill="#0ded15" d="M840 196l6-9 6 9-7 10z"/>
<path fill="#5ced0d" d="M782 173l8-8 8 5-8 7z"/>
<path fill="#2b0ded" d="M331 307l1-4 8 5-2 3z"/>
<path fill="#0ded66" d="M878 221l4-12 3 12-3 0z"/>
<path fill="#0d3bed" d="M489 293l7 11 13-12-7-10z"/>
<path fill="#0d51ed" d="M305 273l-2 2 6 8 1-2z"/>
<path fill="#200ded" d="M368 307l3-2 10 1-4 1z"/>
<path fill="#0dede8" d="M560 245l8 6 13-10-9-5z"/>
<path fill="#180ded" d="M404 305l5 3 11-1-6-5z"/>
<path fill="#6aed0d" d="M773 169l9-7 8 3-8 8z"/>
<path fill="#0ded3b" d="M866 208l5-11 4 11-5 12z"/>
<path fill="#40ed0d" d="M814 181l7-8 7 7-7 8z"/>
<path fill="#0ded66" d="M885 221l4-11 2 12-3 0z"/>
<path fill="#74ed0d" d="M764 167l9-7 9 2-9 7z"/>
<path fill="#0dceed" d="M547 256l9 7 12-12-8-6z"/>
<path fill="#270ded" d="M340 308l1-4 8 3-2 4z"/>
<path fill="#1a0ded" d="M447 306l6 10 12-5-6-11z"/>
<path fill="#0d78ed" d="M301 262l-1 3 5 8 1-3z"/>
<path fill="#7aed0d" d="M754 165l9-6 10 1-9 7z"/>
<path fill="#0ded11" d="M852 196l6-9 4 10-6 10z"/>
<path fill="#2aed0d" d="M834 187l7-9 5 9-6 9z"/>
<path fill="#0d16ed" d="M477 302l7 12 12-10-7-11z"/>
<path fill="#0ded66" d="M891 222l3-11 2 11-2 0z"/>
<path fill="#7ced0d" d="M744 165l10-6 9 0-9 6z"/>
<path class="e" d="M854 218L869 220"/>
<path fill="#0da4ed" d="M534 267l9 9 13-13-9-7z"/>
<path fill="#0ded3b" d="M875 208l4-10 3 11-4 12z"/>
<path class="e" d="M303 197L308 194"/>
<path fill="#59ed0d" d="M806 175l8-8 7 6-7 8z"/>
<path fill="#7aed0d" d="M734 165l10-5 10-1-10 6z"/>
<path fill="#74ed0d" d="M724 167l9-6 11-1-10 5z"/>
<path fill="#6bed0d" d="M713 169l10-5 10-3-9 6z"/>
<path fill="#5eed0d" d="M702 173l10-5 11-4-10 5z"/>
<path fill="#0ded67" d="M896 222l3-10 2 11-2 0z"/>
<path fill="#4eed0d" d="M691 177l10-5 11-4-10 5z"/>
<path fill="#3aed0d" d="M679 182l10-5 12-5-10 5z"/>
<path fill="#24ed0d" d="M668 187l10-4 11-6-10 5z"/>
<path fill="#190ded" d="M381 306l3 0 10 0-4-1z"/>
<path fill="#0ded0f" d="M656 194l10-4 12-7-10 4z"/>
<path fill="#1d0ded" d="M420 307l5 6 11-2-6-8z"/>
<path fill="#0d77ed" d="M522 280l8 10 13-14-9-9z"/>
<path fill="#0ded2a" d="M644 201l9-4 13-7-10 4z"/>
<path fill="#0ded67" d="M901 223l2-10 2 10-2 0z"/>
<path fill="#0ded3b" d="M882 209l4-11 3 12-4 11z"/>
<path fill="#0da1ed" d="M298 251l-1 4 4 7 2-4z"/>
<path fill="#0ded49" d="M631 208l10-2 12-9-9 4z"/>
<path fill="#6eed0d" d="M798 170l8-8 8 5-8 8z"/>
<path fill="#0ded0e" d="M862 197l5-10 4 10-5 11z"/>
<path fill="#0ded6b" d="M619 217l10-2 12-9-10 2z"/>
<path fill="#4aed0d" d="M828 180l7-9 6 7-7 9z"/>
<path fill="#1f0ded" d="M349 307l2-4 9 3-3 3z"/>
<path fill="#0ded8f" d="M606 227l10-1 13-11-10 2z"/>
<path fill="#0ded67" d="M905 223l2-9 1 10-2-1z"/>
<path fill="#30ed0d" d="M846 187l7-10 5 10-6 9z"/>
<path fill="#0d48ed" d="M509 292l8 11 13-13-8-10z"/>
<path fill="#0ded3c" d="M889 210l3-10 2 11-3 11z"/>
<path fill="#0dedb4" d="M594 233l9 5 13-12-10 1z"/>
<path fill="#210ded" d="M465 311l7 11 12-8-7-12z"/>
<path fill="#0ded68" d="M908 224l2-9 1 9-1 0z"/>
<path fill="#7fed0d" d="M790 165l9-7 7 4-8 8z"/>
<path class="e" d="M869 220L883 221"/>
<path fill="#0ded68" d="M911 224l2-7 0 7 0 0z"/>
<path fill="#0ded3e" d="M894 211l4-10 1 11-3 10z"/>
<path fill="#0ded0d" d="M871 197l5-10 3 11-4 10z"/>
<path fill="#0dcded" d="M296 238l-2 6 4 7 2-6z"/>
<path fill="#66ed0d" d="M821 173l7-9 7 7-7 9z"/>
<path fill="#8ced0d" d="M782 162l8-7 9 3-9 7z"/>
<path fill="#280ded" d="M436 311l6 9 11-4-6-10z"/>
<path fill="#0dedd1" d="M581 241l9 6 13-9-9-5z"/>
<path fill="#170ded" d="M394 306l5 2 10 0-5-3z"/>
<path fill="#0d1ced" d="M496 304l8 12 13-13-8-11z"/>
<path fill="#0ded41" d="M899 212l3-9 1 10-2 10z"/>
<path class="m" d="M301 197l4-6 4 6z"/>
<path fill="#95ed0d" d="M773 160l8-7 9 2-8 7z"/>
<path fill="#35ed0d" d="M858 187l5-10 4 10-5 10z"/>
<path fill="#0d20ed" d="M312 292l0-1 6 7 0 1z"/>
<path fill="#53ed0d" d="M841 178l6-9 6 8-7 10z"/>
<path fill="#0ded44" d="M903 213l3-9 1 10-2 9z"/>
<path fill="#160ded" d="M360 306l2-3 9 2-3 2z"/>
<path fill="#0ded0d" d="M879 198l5-10 2 10-4 11z"/>
<path fill="#0d10ed" d="M318 298l0-3 7 7-1 2z"/>
<path fill="#0de8ed" d="M568 251l9 7 13-11-9-6z"/>
<path fill="#0d37ed" d="M308 284l-1 0 5 8 1 0z"/>
<path fill="#0ded47" d="M907 214l2-7 1 8-2 9z"/>
<path fill="#9aed0d" d="M763 159l9-7 9 1-8 7z"/>
<path fill="#7fed0d" d="M814 167l8-8 6 5-7 9z"/>
<path fill="#0ded4b" d="M910 215l2-6 1 8-2 7z"/>
<path class="m" d="M867 221l4-6 4 6z"/>
<path class="e" d="M883 221L898 223"/>
<path fill="#9ced0d" d="M754 159l9-7 9 0-9 7z"/>
<path fill="#110ded" d="M325 302l0-4 7 5-1 4z"/>
<path fill="#0dc0ed" d="M556 263l8 7 13-12-9-7z"/>
<path fill="#0d55ed" d="M303 275l-1 2 6 7 1-1z"/>
<path fill="#0ded0e" d="M886 198l4-9 2 11-3 10z"/>
<path fill="#99ed0d" d="M744 160l9-6 10-2-9 7z"/>
<path fill="#240ded" d="M484 314l7 12 13-10-8-12z"/>
<path fill="#360ded" d="M453 316l7 11 12-5-7-11z"/>
<path fill="#38ed0d" d="M867 187l5-10 4 10-5 10z"/>
<path fill="#1e0ded" d="M409 308l5 5 11 0-5-6z"/>
<path fill="#92ed0d" d="M733 161l10-5 10-2-9 6z"/>
<path fill="#93ed0d" d="M806 162l8-8 8 5-8 8z"/>
<path fill="#72ed0d" d="M835 171l7-9 5 7-6 9z"/>
<path fill="#0ded11" d="M892 200l4-10 2 11-4 10z"/>
<path fill="#0d91ed" d="M543 276l8 9 13-15-8-7z"/>
<path fill="#88ed0d" d="M723 164l9-5 11-3-10 5z"/>
<path fill="#7aed0d" d="M712 168l10-5 10-4-9 5z"/>
<path fill="#5aed0d" d="M853 177l6-9 4 9-5 10z"/>
<path fill="#0d77ed" d="M300 265l-2 3 5 7 2-2z"/>
<path fill="#69ed0d" d="M701 172l9-5 12-4-10 5z"/>
<path fill="#110ded" d="M332 303l1-3 8 4-1 4z"/>
<path fill="#100ded" d="M371 305l4-1 9 2-3 0z"/>
<path fill="#0ded15" d="M898 201l2-9 2 11-3 9z"/>
<path fill="#54ed0d" d="M689 177l10-4 11-6-9 5z"/>
<path fill="#0d5fed" d="M530 290l8 10 13-15-8-9z"/>
<path fill="#3ded0d" d="M678 183l9-4 12-6-10 4z"/>
<path fill="#0ded1b" d="M902 203l2-8 2 9-3 9z"/>
<path fill="#a3ed0d" d="M799 158l8-8 7 4-8 8z"/>
<path fill="#39ed0d" d="M876 187l5-10 3 11-5 10z"/>
<path fill="#23ed0d" d="M666 190l9-4 12-7-9 4z"/>
<path fill="#0ded21" d="M906 204l2-7 1 10-2 7z"/>
<path class="e" d="M898 223L913 224"/>
<path fill="#0ded28" d="M909 207l2-7 1 9-2 6z"/>
<path fill="#0ded31" d="M912 209l2-5 0 6-1 7z"/>
<path fill="#8ded0d" d="M828 164l7-8 7 6-7 9z"/>
<path fill="#0ded13" d="M653 197l10-3 12-8-9 4z"/>
<path fill="#2c0ded" d="M425 313l5 7 12 0-6-9z"/>
<path fill="#0d9ced" d="M297 255l-2 3 5 7 1-3z"/>
<path fill="#0d2ded" d="M517 303l7 11 14-14-8-10z"/>
<path fill="#afed0d" d="M790 155l8-7 9 2-8 8z"/>
<path fill="#0ded33" d="M641 206l10-3 12-9-10 3z"/>
<path fill="#38ed0d" d="M884 188l4-10 2 11-4 9z"/>
<path fill="#5fed0d" d="M863 177l5-9 4 9-5 10z"/>
<path fill="#420ded" d="M472 322l7 12 12-8-7-12z"/>
<path fill="#0d0ded" d="M341 304l2-4 8 3-2 4z"/>
<path fill="#7ced0d" d="M847 169l6-9 6 8-6 9z"/>
<path fill="#0ded57" d="M629 215l9-2 13-10-10 3z"/>
<path fill="#0ded7e" d="M616 226l9-2 13-11-9 2z"/>
<path fill="#b8ed0d" d="M781 153l9-7 8 2-8 7z"/>
<path fill="#100ded" d="M384 306l4 0 11 2-5-2z"/>
<path fill="#35ed0d" d="M890 189l4-9 2 10-4 10z"/>
<path fill="#0dedaa" d="M603 238l9 0 13-14-9 2z"/>
<path fill="#a5ed0d" d="M822 159l7-9 6 6-7 8z"/>
<path fill="#1c0ded" d="M504 316l7 11 13-13-7-11z"/>
<path fill="#0dc4ed" d="M294 244l-2 4 5 7 1-4z"/>
<path fill="#0dedd7" d="M590 247l9 5 13-14-9 0z"/>
<path fill="#2fed0d" d="M896 190l3-8 1 10-2 9z"/>
<path fill="#bced0d" d="M772 152l9-6 9 0-9 7z"/>
<path fill="#400ded" d="M442 320l6 9 12-2-7-11z"/>
<path fill="#62ed0d" d="M872 177l5-9 4 9-5 10z"/>
<path fill="#28ed0d" d="M900 192l3-7 1 10-2 8z"/>
<path fill="#20ed0d" d="M904 195l3-7 1 9-2 7z"/>
<path fill="#0ded0f" d="M911 200l2-4 1 8-2 5z"/>
<path fill="#bced0d" d="M763 152l9-6 9 0-9 6z"/>
<path fill="#16ed0d" d="M908 197l2-6 1 9-2 7z"/>
<path fill="#9aed0d" d="M842 162l6-9 5 7-6 9z"/>
<path fill="#0ddded" d="M577 258l9 6 13-12-9-5z"/>
<path fill="#84ed0d" d="M859 168l5-9 4 9-5 9z"/>
<path fill="#0d13ed" d="M351 303l2-3 9 3-2 3z"/>
<path fill="#b8ed0d" d="M814 154l8-8 7 4-7 9z"/>
<path class="e" d="M297 201L303 197"/>
<path fill="#b8ed0d" d="M753 154l9-6 10-2-9 6z"/>
<path fill="#62ed0d" d="M881 177l4-9 3 10-4 10z"/>
<path fill="#0deaed" d="M292 238l-3 0 5 6 2-6z"/>
<path fill="#170ded" d="M399 308l4 3 11 2-5-5z"/>
<path fill="#b0ed0d" d="M743 156l9-6 10-2-9 6z"/>
<path fill="#0db2ed" d="M564 270l9 7 13-13-9-6z"/>
<path fill="#440ded" d="M491 326l7 12 13-11-7-11z"/>
<path fill="#a5ed0d" d="M732 159l10-6 10-3-9 6z"/>
<path fill="#530ded" d="M460 327l6 10 13-3-7-12z"/>
<path fill="#c8ed0d" d="M807 150l7-7 8 3-8 8z"/>
<path fill="#5fed0d" d="M888 178l3-8 3 10-4 9z"/>
<path fill="#96ed0d" d="M722 163l9-5 11-5-10 6z"/>
<path fill="#b5ed0d" d="M835 156l7-9 6 6-6 9z"/>
<path fill="#0d80ed" d="M551 285l8 8 14-16-9-7z"/>
<path fill="#88ed0d" d="M868 168l5-10 4 10-5 9z"/>
<path fill="#0d31ed" d="M312 291l-1-2 7 6 0 3z"/>
<path fill="#0d44ed" d="M307 284l-1 0 6 7 0 1z"/>
<path fill="#84ed0d" d="M710 167l10-4 11-5-9 5z"/>
<path fill="#5aed0d" d="M894 180l3-8 2 10-3 8z"/>
<path fill="#1eed0d" d="M913 196l2-4-1 6 0 6z"/>
<path fill="#a5ed0d" d="M853 160l6-9 5 8-5 9z"/>
<path fill="#0d5ded" d="M302 277l-1 0 6 7 1 0z"/>
<path fill="#0d26ed" d="M318 295l0-3 7 6 0 4z"/>
<path fill="#0d18ed" d="M362 303l3-2 10 3-4 1z"/>
<path fill="#d3ed0d" d="M798 148l8-8 8 3-7 7z"/>
<path fill="#6fed0d" d="M699 173l10-5 11-5-10 4z"/>
<path fill="#52ed0d" d="M899 182l2-7 2 10-3 7z"/>
<path fill="#270ded" d="M414 313l5 5 11 2-5-7z"/>
<path fill="#2eed0d" d="M910 191l2-4 1 9-2 4z"/>
<path fill="#0d4aed" d="M538 300l8 9 13-16-8-8z"/>
<path fill="#48ed0d" d="M903 185l2-7 2 10-3 7z"/>
<path fill="#3ced0d" d="M907 188l2-6 1 9-2 6z"/>
<path fill="#57ed0d" d="M687 179l10-4 12-7-10 5z"/>
<path fill="#0d7aed" d="M298 268l-1 1 5 8 1-2z"/>
<path fill="#8aed0d" d="M877 168l5-9 3 9-4 9z"/>
<path fill="#cbed0d" d="M829 150l7-8 6 5-7 9z"/>
<path class="e" d="M911 228L913 224"/>
<path fill="#3ced0d" d="M675 186l10-4 12-7-10 4z"/>
<path fill="#daed0d" d="M790 146l8-7 8 1-8 8z"/>
<path fill="#0d22ed" d="M325 298l1-4 7 6-1 3z"/>
<path fill="#0d14ed" d="M524 314l8 10 14-15-8-9z"/>
<path fill="#600ded" d="M479 334l6 10 13-6-7-12z"/>
<path fill="#1eed0d" d="M663 194l10-3 12-9-10 4z"/>
<path fill="#3e0ded" d="M430 320l6 7 12 2-6-9z"/>
<path fill="#aced0d" d="M864 159l5-9 4 8-5 10z"/>
<path fill="#c2ed0d" d="M848 153l6-9 5 7-6 9z"/>
<path fill="#88ed0d" d="M885 168l4-8 2 10-3 8z"/>
<path fill="#dded0d" d="M781 146l8-7 9 0-8 7z"/>
<path fill="#0d9bed" d="M295 258l-2 3 5 7 2-3z"/>
<path fill="#0ded1d" d="M651 203l9-3 13-9-10 3z"/>
<path fill="#0d18ed" d="M375 304l3-1 10 3-4 0z"/>
<path fill="#deed0d" d="M822 146l7-8 7 4-7 8z"/>
<path fill="#40ed0d" d="M912 187l2-3 1 8-2 4z"/>
<path fill="#83ed0d" d="M891 170l4-8 2 10-3 8z"/>
<path fill="#0d23ed" d="M333 300l2-5 8 5-2 4z"/>
<path fill="#dced0d" d="M772 146l8-6 9-1-8 7z"/>
<path fill="#0ded42" d="M638 213l10-3 12-10-9 3z"/>
<path fill="#360ded" d="M511 327l8 10 13-13-8-10z"/>
<path fill="#53ed0d" d="M909 182l2-4 1 9-2 4z"/>
<path fill="#7bed0d" d="M897 172l3-7 1 10-2 7z"/>
<path fill="#63ed0d" d="M905 178l3-5 1 9-2 6z"/>
<path fill="#70ed0d" d="M901 175l3-6 1 9-2 7z"/>
<path fill="#0ded6b" d="M625 224l10-2 13-12-10 3z"/>
<path fill="#0dbfed" d="M292 248l-2 4 5 6 2-3z"/>
<path fill="#d7ed0d" d="M762 148l9-6 9-2-8 6z"/>
<path fill="#b0ed0d" d="M873 158l5-8 4 9-5 9z"/>
<path fill="#580ded" d="M448 329l6 8 12 0-6-10z"/>
<path fill="#0ded9a" d="M612 238l10-2 13-14-10 2z"/>
<path fill="#dbed0d" d="M842 147l6-8 6 5-6 9z"/>
<path fill="#eced0d" d="M814 143l8-8 7 3-7 8z"/>
<path fill="#0dedce" d="M599 252l9 0 14-16-10 2z"/>
<path fill="#ceed0d" d="M752 150l9-6 10-2-9 6z"/>
<path fill="#cced0d" d="M859 151l6-8 4 7-5 9z"/>
<path fill="#0dd6ed" d="M586 264l9 5 13-17-9 0z"/>
<path fill="#0d11ed" d="M388 306l5 1 10 4-4-3z"/>
<path fill="#0d27ed" d="M343 300l2-4 8 4-2 3z"/>
<path fill="#c1ed0d" d="M742 153l9-5 10-4-9 6z"/>
<path fill="#b0ed0d" d="M882 159l4-8 3 9-4 8z"/>
<path fill="#0de4ed" d="M289 238l-2 4 5 6 2-4z"/>
<path fill="#4fed0d" d="M914 184l1-2 0 5 0 5z"/>
<path fill="#ede40d" d="M806 140l8-7 8 2-8 8z"/>
<path fill="#0da6ed" d="M573 277l8 7 14-15-9-5z"/>
<path fill="#5d0ded" d="M498 338l8 9 13-10-8-10z"/>
<path fill="#b1ed0d" d="M731 158l9-5 11-5-9 5z"/>
<path fill="#ede90d" d="M836 142l6-8 6 5-6 8z"/>
<path fill="#65ed0d" d="M911 178l1-3 2 9-2 3z"/>
<path fill="#6d0ded" d="M466 337l7 9 12-2-6-10z"/>
<path fill="#aced0d" d="M889 160l3-8 3 10-4 8z"/>
<path fill="#9eed0d" d="M720 163l9-5 11-5-9 5z"/>
<path fill="#d2ed0d" d="M869 150l5-8 4 8-5 8z"/>
<path fill="#0d71ed" d="M559 293l9 6 13-15-8-7z"/>
<path fill="#79ed0d" d="M908 173l1-4 2 9-2 4z"/>
<path fill="#190ded" d="M403 311l5 3 11 4-5-5z"/>
<path fill="#a4ed0d" d="M895 162l3-7 2 10-3 7z"/>
<path fill="#edde0d" d="M798 139l8-7 8 1-8 7z"/>
<path fill="#e9ed0d" d="M854 144l6-8 5 7-6 8z"/>
<path fill="#8aed0d" d="M904 169l2-6 2 10-3 5z"/>
<path fill="#98ed0d" d="M900 165l2-6 2 10-3 6z"/>
<path fill="#88ed0d" d="M709 168l9-4 11-6-9 5z"/>
<path fill="#0d2bed" d="M353 300l3-4 9 5-3 2z"/>
<path fill="#0d39ed" d="M546 309l8 7 14-17-9-6z"/>
<path fill="#6fed0d" d="M697 175l9-4 12-7-9 4z"/>
<path fill="#eddc0d" d="M789 139l9-7 8 0-8 7z"/>
<path fill="#edd80d" d="M829 138l7-8 6 4-6 8z"/>
<path fill="#d4ed0d" d="M878 150l4-8 4 9-4 8z"/>
<path fill="#310ded" d="M419 318l6 5 11 4-6-7z"/>
<path fill="#0d54ed" d="M306 284l-1-2 6 7 1 2z"/>
<path fill="#54ed0d" d="M685 182l9-3 12-8-9 4z"/>
<path fill="#0d68ed" d="M301 277l-1-1 6 8 1 0z"/>
<path fill="#72ed0d" d="M912 175l2-2 1 9-1 2z"/>
<path fill="#0d47ed" d="M311 289l0-3 7 6 0 3z"/>
<path fill="#170ded" d="M532 324l8 7 14-15-8-7z"/>
<path fill="#eddf0d" d="M780 140l9-6 9-2-9 7z"/>
<path fill="#edd90d" d="M848 139l6-9 6 6-6 8z"/>
<path class="e" d="M292 204L297 201"/>
<path fill="#ede90d" d="M865 143l5-9 4 8-5 8z"/>
<path fill="#760ded" d="M485 344l8 8 13-5-8-9z"/>
<path fill="#d2ed0d" d="M886 151l3-8 3 9-3 8z"/>
<path fill="#0d82ed" d="M297 269l-2 1 6 7 1 0z"/>
<path fill="#35ed0d" d="M673 191l9-4 12-8-9 3z"/>
<path fill="#8bed0d" d="M909 169l2-4 1 10-1 3z"/>
<path fill="#edca0d" d="M822 135l7-8 7 3-7 8z"/>
<path fill="#0d2bed" d="M365 301l4-3 9 5-3 1z"/>
<path fill="#0d3fed" d="M318 292l0-4 8 6-1 4z"/>
<path fill="#ede50d" d="M771 142l8-6 10-2-9 6z"/>
<path fill="#4e0ded" d="M436 327l6 6 12 4-6-8z"/>
<path fill="#cbed0d" d="M892 152l3-6 3 9-3 7z"/>
<path fill="#a0ed0d" d="M906 163l2-4 1 10-1 4z"/>
<path fill="#13ed0d" d="M660 200l10-3 12-10-9 4z"/>
<path fill="#0d9eed" d="M293 261l-2 1 6 7 1-1z"/>
<path fill="#b2ed0d" d="M902 159l3-5 1 9-2 6z"/>
<path fill="#c0ed0d" d="M898 155l2-6 2 10-2 6z"/>
<path fill="#ebed0d" d="M761 144l9-5 9-3-8 6z"/>
<path fill="#480ded" d="M519 337l8 6 13-12-8-7z"/>
<path fill="#ede40d" d="M874 142l5-8 3 8-4 8z"/>
<path fill="#edc10d" d="M814 133l7-7 8 1-7 8z"/>
<path fill="#0ded2c" d="M648 210l9-3 13-10-10 3z"/>
<path fill="#7bed0d" d="M914 173l1-1 0 5 0 5z"/>
<path fill="#0d3ded" d="M326 294l1-4 8 5-2 5z"/>
<path fill="#edc40d" d="M842 134l7-8 5 4-6 9z"/>
<path fill="#0dbeed" d="M290 252l-2 2 5 7 2-3z"/>
<path fill="#dded0d" d="M751 148l9-5 10-4-9 5z"/>
<path fill="#6a0ded" d="M454 337l6 7 13 2-7-9z"/>
<path fill="#edcd0d" d="M860 136l5-8 5 6-5 9z"/>
<path fill="#0ded57" d="M635 222l9-2 13-13-9 3z"/>
<path fill="#0d25ed" d="M378 303l4-1 11 5-5-1z"/>
<path fill="#98ed0d" d="M911 165l2-1 1 9-2 2z"/>
<path fill="#ede40d" d="M882 142l4-7 3 8-3 8z"/>
<path fill="#cced0d" d="M740 153l9-5 11-5-9 5z"/>
<path fill="#edbd0d" d="M806 132l8-7 7 1-7 7z"/>
<path fill="#0ded88" d="M622 236l9-2 13-14-9 2z"/>
<path class="e" d="M909 231L911 228"/>
<path fill="#0dedbe" d="M608 252l10-1 13-17-9 2z"/>
<path fill="#0ddfed" d="M287 242l-2 4 5 6 2-4z"/>
<path fill="#b1ed0d" d="M908 159l2-3 1 9-2 4z"/>
<path fill="#0d3fed" d="M335 295l1-4 9 5-2 4z"/>
<path fill="#0de0ed" d="M595 269l9 0 14-18-10 1z"/>
<path fill="#edb40d" d="M836 130l6-8 7 4-7 8z"/>
<path fill="#ede90d" d="M889 143l4-6 2 9-3 6z"/>
<path fill="#b8ed0d" d="M729 158l9-4 11-6-9 5z"/>
<path fill="#0da1ed" d="M581 284l9 4 14-19-9 0z"/>
<path fill="#c7ed0d" d="M905 154l2-4 1 9-2 4z"/>
<path fill="#6c0ded" d="M506 347l7 5 14-9-8-6z"/>
<path fill="#edbd0d" d="M798 132l7-6 9-1-8 7z"/>
<path fill="#e8ed0d" d="M895 146l3-6 2 9-2 6z"/>
<path fill="#edc50d" d="M870 134l5-7 4 7-5 8z"/>
<path fill="#d9ed0d" d="M900 149l3-5 2 10-3 5z"/>
<path fill="#0d17ed" d="M393 307l4 1 11 6-5-3z"/>
<path fill="#edb50d" d="M854 130l6-7 5 5-5 8z"/>
<path fill="#7d0ded" d="M473 346l7 6 13 0-8-8z"/>
<path fill="#a1ed0d" d="M718 164l9-3 11-7-9 4z"/>
<path fill="#0deddb" d="M285 237l-3 0 5 5 2-4z"/>
<path fill="#0d69ed" d="M568 299l8 5 14-16-9-4z"/>
<path fill="#9fed0d" d="M913 164l1-1 1 9-1 1z"/>
<path fill="#edc00d" d="M789 134l8-6 8-2-7 6z"/>
<path fill="#eda80d" d="M829 127l7-7 6 2-6 8z"/>
<path fill="#87ed0d" d="M706 171l10-3 11-7-9 3z"/>
<path fill="#0d42ed" d="M345 296l2-5 9 5-3 4z"/>
<path fill="#edc20d" d="M879 134l4-7 3 8-4 7z"/>
<path fill="#190ded" d="M408 314l5 2 12 7-6-5z"/>
<path fill="#0d31ed" d="M554 316l8 4 14-16-8-5z"/>
<path fill="#beed0d" d="M910 156l2-2 1 10-2 1z"/>
<path fill="#edc80d" d="M779 136l9-5 9-3-8 6z"/>
<path fill="#6bed0d" d="M694 179l10-3 12-8-10 3z"/>
<path fill="#eda10d" d="M849 126l6-8 5 5-6 7z"/>
<path fill="#eda90d" d="M865 128l5-7 5 6-5 7z"/>
<path fill="#edc50d" d="M886 135l4-7 3 9-4 6z"/>
<path fill="#eda00d" d="M821 126l7-7 8 1-7 7z"/>
<path fill="#d8ed0d" d="M907 150l2-3 1 9-2 3z"/>
<path fill="#370ded" d="M425 323l5 3 12 7-6-6z"/>
<path fill="#edd40d" d="M770 139l8-5 10-3-9 5z"/>
<path fill="#edcd0d" d="M893 137l3-6 2 9-3 6z"/>
<path fill="#eded0d" d="M903 144l2-3 2 9-2 4z"/>
<path fill="#a3ed0d" d="M914 163l1 1 0 4 0 4z"/>
<path fill="#4ced0d" d="M682 187l10-3 12-8-10 3z"/>
<path fill="#1e0ded" d="M540 331l9 3 13-14-8-4z"/>
<path fill="#eddb0d" d="M898 140l3-5 2 9-3 5z"/>
<path fill="#0d43ed" d="M356 296l3-3 10 5-4 3z"/>
<path fill="#7f0ded" d="M493 352l7 3 13-3-7-5z"/>
<path fill="#0d78ed" d="M300 276l-1-2 6 8 1 2z"/>
<path fill="#0d69ed" d="M305 282l-1-3 7 7 0 3z"/>
<path fill="#0d8ded" d="M295 270l-1-1 6 7 1 1z"/>
<path fill="#ede30d" d="M760 143l8-4 10-5-8 5z"/>
<path fill="#ed9d0d" d="M814 125l7-6 7 0-7 7z"/>
<path fill="#2aed0d" d="M670 197l9-3 13-10-10 3z"/>
<path fill="#eda40d" d="M875 127l4-7 4 7-4 7z"/>
<path fill="#ed910d" d="M842 122l7-7 6 3-6 8z"/>
<path fill="#570ded" d="M442 333l6 4 12 7-6-7z"/>
<path fill="#c5ed0d" d="M912 154l1 0 1 9-1 1z"/>
<path fill="#0d5fed" d="M311 286l0-4 7 6 0 4z"/>
<path fill="#0da6ed" d="M291 262l-2 1 6 7 2-1z"/>
<path fill="#ed920d" d="M860 123l5-8 5 6-5 7z"/>
<path fill="#e5ed0d" d="M749 148l9-4 10-5-8 4z"/>
<path fill="#0ded16" d="M657 207l10-2 12-11-9 3z"/>
<path fill="#4c0ded" d="M527 343l8 3 14-12-9-3z"/>
<path fill="#e4ed0d" d="M909 147l1-2 2 9-2 2z"/>
<path fill="#ed9e0d" d="M805 126l8-6 8-1-7 6z"/>
<path fill="#0d3eed" d="M369 298l3-2 10 6-4 1z"/>
<path fill="#eda40d" d="M883 127l4-7 3 8-4 7z"/>
<path fill="#0dc1ed" d="M288 254l-2 2 5 6 2-1z"/>
<path fill="#0d5bed" d="M318 288l1-4 8 6-1 4z"/>
<path fill="#d0ed0d" d="M738 154l9-4 11-6-9 4z"/>
<path fill="#eddd0d" d="M905 141l2-3 2 9-2 3z"/>
<path fill="#ed870d" d="M836 120l6-6 7 1-7 7z"/>
<path fill="#720ded" d="M460 344l7 3 13 5-7-6z"/>
<path fill="#0ded42" d="M644 220l10-3 13-12-10 2z"/>
<path fill="#edaa0d" d="M890 128l3-5 3 8-3 6z"/>
<path class="e" d="M286 208L292 204"/>
<path fill="#edc70d" d="M901 135l2-3 2 9-2 3z"/>
<path fill="#0ddeed" d="M285 246l-3 2 6 6 2-2z"/>
<path fill="#edb60d" d="M896 131l3-4 2 8-3 5z"/>
<path fill="#eda40d" d="M797 128l7-5 9-3-8 6z"/>
<path fill="#c7ed0d" d="M913 154l1 1 1 9-1-1z"/>
<path fill="#ed890d" d="M870 121l5-7 4 6-4 7z"/>
<path fill="#0ded73" d="M631 234l9-3 14-14-10 3z"/>
<path fill="#ed7f0d" d="M855 118l5-6 5 3-5 8z"/>
<path fill="#b8ed0d" d="M727 161l9-4 11-7-9 4z"/>
<path fill="#0d5bed" d="M327 290l1-5 8 6-1 4z"/>
<path fill="#0d33ed" d="M382 302l4-2 11 8-4-1z"/>
<path fill="#0dedab" d="M618 251l9-3 13-17-9 3z"/>
<path fill="#0dedde" d="M282 237l-3 4 6 5 2-4z"/>
<path fill="#ed800d" d="M828 119l7-6 7 1-6 6z"/>
<path fill="#0dede9" d="M604 269l9-2 14-19-9 3z"/>
<path fill="#edad0d" d="M788 131l7-5 9-3-7 5z"/>
<path fill="#ebed0d" d="M910 145l2 0 1 9-1 0z"/>
<path fill="#0daeed" d="M590 288l9-2 14-19-9 2z"/>
<path fill="#9eed0d" d="M716 168l9-4 11-7-9 4z"/>
<path fill="#ed860d" d="M879 120l4-6 4 6-4 7z"/>
<path fill="#6b0ded" d="M513 352l8 0 14-6-8-3z"/>
<path fill="#0d6bed" d="M576 304l9 2 14-20-9 2z"/>
<path fill="#7f0ded" d="M480 352l7 1 13 2-7-3z"/>
<path fill="#0d1fed" d="M397 308l5-1 11 9-5-2z"/>
<path fill="#edd10d" d="M907 138l2-1 1 8-1 2z"/>
<path fill="#c6ed0d" d="M914 155l1 3 0 3 0 3z"/>
<path fill="#0d5ced" d="M336 291l2-5 9 5-2 5z"/>
<path fill="#edba0d" d="M778 134l8-4 9-4-7 5z"/>
<path fill="#ed710d" d="M849 115l5-6 6 3-5 6z"/>
<path fill="#ed730d" d="M865 115l5-6 5 5-5 7z"/>
<path fill="#ed890d" d="M887 120l3-5 3 8-3 5z"/>
<path fill="#82ed0d" d="M704 176l9-4 12-8-9 4z"/>
<path fill="#ed7f0d" d="M821 119l7-5 7-1-7 6z"/>
<path fill="#edb80d" d="M903 132l2-3 2 9-2 3z"/>
<path class="e" d="M907 235L909 231"/>
<path fill="#ed930d" d="M893 123l3-4 3 8-3 4z"/>
<path fill="#eda30d" d="M899 127l2-4 2 9-2 3z"/>
<path fill="#0d34ed" d="M562 320l9 1 14-15-9-2z"/>
<path fill="#edcb0d" d="M768 139l8-4 10-5-8 4z"/>
<path fill="#160ded" d="M413 316l6 1 11 9-5-3z"/>
<path fill="#eded0d" d="M912 145l1 1 1 9-1-1z"/>
<path fill="#62ed0d" d="M692 184l9-3 12-9-9 4z"/>
<path fill="#ed820d" d="M813 120l7-5 8-1-7 5z"/>
<path fill="#0d5ded" d="M347 291l2-4 10 6-3 3z"/>
<path fill="#ed680d" d="M842 114l6-6 6 1-5 6z"/>
<path fill="#ed6c0d" d="M875 114l4-6 4 6-4 6z"/>
<path fill="#edde0d" d="M758 144l8-3 10-6-8 4z"/>
<path fill="#370ded" d="M430 326l6 1 12 10-6-4z"/>
<path fill="#edcb0d" d="M909 137l1 0 2 8-2 0z"/>
<path fill="#ed610d" d="M860 112l5-6 5 3-5 6z"/>
<path fill="#40ed0d" d="M679 194l10-3 12-10-9 3z"/>
<path fill="#180ded" d="M549 334l8 0 14-13-9-1z"/>
<path fill="#ed890d" d="M804 123l8-5 8-3-7 5z"/>
<path fill="#ed6c0d" d="M883 114l4-5 3 6-3 5z"/>
<path fill="#0d9ced" d="M294 269l-2-2 7 7 1 2z"/>
<path fill="#edad0d" d="M905 129l2-1 2 9-2 1z"/>
<path fill="#e7ed0d" d="M747 150l9-3 10-6-8 3z"/>
<path fill="#0d8ced" d="M299 274l-1-2 6 7 1 3z"/>
<path fill="#780ded" d="M500 355l8-1 13-2-8 0z"/>
<path fill="#e9ed0d" d="M913 146l1 3 1 9-1-3z"/>
<path fill="#0db1ed" d="M289 263l-1-1 6 7 1 1z"/>
<path fill="#ed630d" d="M835 113l6-5 7 0-6 6z"/>
<path fill="#560ded" d="M448 337l7 1 12 9-7-3z"/>
<path fill="#0d5bed" d="M359 293l3-4 10 7-3 2z"/>
<path fill="#0d81ed" d="M304 279l0-4 7 7 0 4z"/>
<path fill="#19ed0d" d="M667 205l9-3 13-11-10 3z"/>
<path fill="#ed730d" d="M890 115l3-4 3 8-3 4z"/>
<path fill="#ed940d" d="M901 123l2-2 2 8-2 3z"/>
<path fill="#ed810d" d="M896 119l3-3 2 7-2 4z"/>
<path fill="#0dc8ed" d="M286 256l-2 0 5 7 2-1z"/>
<path fill="#ed940d" d="M795 126l8-4 9-4-8 5z"/>
<path fill="#ed570d" d="M870 109l5-5 4 4-4 6z"/>
<path fill="#ceed0d" d="M736 157l9-3 11-7-9 3z"/>
<path fill="#ed540d" d="M854 109l6-6 5 3-5 6z"/>
<path fill="#0d7aed" d="M311 282l0-5 8 7-1 4z"/>
<path fill="#0de1ed" d="M282 248l-2 2 6 6 2-2z"/>
<path fill="#edca0d" d="M910 137l1 1 2 8-1-1z"/>
<path fill="#0ded2c" d="M654 217l9-3 13-12-9 3z"/>
<path fill="#400ded" d="M535 346l8-3 14-9-8 0z"/>
<path fill="#ed630d" d="M828 114l6-5 7-1-6 5z"/>
<path fill="#0d53ed" d="M372 296l4-3 10 7-4 2z"/>
<path fill="#eda20d" d="M786 130l8-4 9-4-8 4z"/>
<path fill="#e2ed0d" d="M914 149l1 4 0 2 0 3z"/>
<path fill="#6b0ded" d="M467 347l7-1 13 7-7-1z"/>
<path fill="#0deddf" d="M279 241l-2 2 5 5 3-2z"/>
<path fill="#b4ed0d" d="M725 164l8-2 12-8-9 3z"/>
<path fill="#0d78ed" d="M319 284l1-5 8 6-1 5z"/>
<path fill="#ed530d" d="M879 108l4-4 4 5-4 5z"/>
<path fill="#0ded5d" d="M640 231l10-3 13-14-9 3z"/>
<path fill="#eda80d" d="M907 128l2 1 1 8-1 0z"/>
<path fill="#ed4c0d" d="M848 108l6-5 6 0-6 6z"/>
<path fill="#0dedc5" d="M278 237l-4-1 5 5 3-4z"/>
<path class="m" d="M904 235l4-6 4 6z"/>
<path fill="#0ded95" d="M627 248l9-3 14-17-10 3z"/>
<path fill="#ed8b0d" d="M903 121l2 0 2 7-2 1z"/>
<path fill="#ed570d" d="M887 109l3-4 3 6-3 4z"/>
<path fill="#ed460d" d="M865 106l5-5 5 3-5 5z"/>
<path fill="#ed680d" d="M820 115l7-4 7-2-6 5z"/>
<path fill="#edb40d" d="M776 135l8-3 10-6-8 4z"/>
<path fill="#97ed0d" d="M713 172l9-2 11-8-8 2z"/>
<path fill="#0d43ed" d="M386 300l5-2 11 9-5 1z"/>
<path fill="#ed740d" d="M899 116l2-2 2 7-2 2z"/>
<path fill="#ed620d" d="M893 111l3-2 3 7-3 3z"/>
<path fill="#edce0d" d="M911 138l2 3 1 8-1-3z"/>
<path fill="#0dedd2" d="M613 267l9-4 14-18-9 3z"/>
<path fill="#0d79ed" d="M328 285l1-5 9 6-2 5z"/>
<path class="e" d="M281 211L286 208"/>
<path fill="#0dc6ed" d="M599 286l9-4 14-19-9 4z"/>
<path fill="#edc80d" d="M766 141l8-3 10-6-8 3z"/>
<path fill="#ed710d" d="M812 118l7-4 8-3-7 4z"/>
<path fill="#0d82ed" d="M585 306l9-5 14-19-9 4z"/>
<path fill="#580ded" d="M521 352l9-4 13-5-8 3z"/>
<path fill="#ed490d" d="M841 108l6-5 7 0-6 5z"/>
<path fill="#77ed0d" d="M701 181l9-2 12-9-9 2z"/>
<path fill="#0d2bed" d="M402 307l5-1 12 11-6-1z"/>
<path fill="#ed3f0d" d="M875 104l4-4 4 4-4 4z"/>
<path fill="#eda70d" d="M909 129l1 1 1 8-1-1z"/>
<path fill="#700ded" d="M487 353l8-4 13 5-8 1z"/>
<path fill="#ed3b0d" d="M860 103l5-4 5 2-5 5z"/>
<path fill="#0d7aed" d="M338 286l2-5 9 6-2 4z"/>
<path fill="#edd80d" d="M913 141l0 4 2 8-1-4z"/>
<path fill="#0d44ed" d="M571 321l9-3 14-17-9 5z"/>
<path fill="#ed870d" d="M905 121l2 0 2 8-2-1z"/>
<path fill="#eddf0d" d="M756 147l8-3 10-6-8 3z"/>
<path fill="#ed3f0d" d="M883 104l4-4 3 5-3 4z"/>
<path fill="#0d0eed" d="M419 317l5-1 12 11-6-1z"/>
<path fill="#ed7d0d" d="M803 122l7-4 9-4-7 4z"/>
<path fill="#55ed0d" d="M689 191l9-2 12-10-9 2z"/>
<path fill="#ed6b0d" d="M901 114l2 0 2 7-2 0z"/>
<path fill="#ed4b0d" d="M834 109l6-5 7-1-6 5z"/>
<path fill="#ed470d" d="M890 105l3-2 3 6-3 2z"/>
<path fill="#ed560d" d="M896 109l3-2 2 7-2 2z"/>
<path class="e" d="M905 239L907 235"/>
<path fill="#e3ed0d" d="M745 154l8-3 11-7-8 3z"/>
<path fill="#2c0ded" d="M436 327l7-1 12 12-7-1z"/>
<path fill="#edac0d" d="M910 130l1 3 2 8-2-3z"/>
<path fill="#ed300d" d="M870 101l4-4 5 3-4 4z"/>
<path fill="#0d7aed" d="M349 287l3-5 10 7-3 4z"/>
<path fill="#ed340d" d="M854 103l5-5 6 1-5 4z"/>
<path fill="#ed8d0d" d="M794 126l7-3 9-5-7 4z"/>
<path fill="#2fed0d" d="M676 202l9-3 13-10-9 2z"/>
<path fill="#0d16ed" d="M557 334l9-5 14-11-9 3z"/>
<path fill="#0dafed" d="M292 267l-1-2 7 7 1 2z"/>
<path fill="#0dbfed" d="M288 262l-2-1 6 6 2 2z"/>
<path fill="#ede40d" d="M913 145l1 5 1 1 0 2z"/>
<path fill="#0dd2ed" d="M284 256l-2 0 6 6 1 1z"/>
<path fill="#0da3ed" d="M298 272l-1-4 7 7 0 4z"/>
<path fill="#ed510d" d="M827 111l6-4 7-3-6 5z"/>
<path fill="#ed870d" d="M907 121l1 2 2 7-1-1z"/>
<path fill="#0de7ed" d="M280 250l-2 0 6 6 2 0z"/>
<path fill="#c8ed0d" d="M733 162l9-3 11-8-8 3z"/>
<path fill="#ed2c0d" d="M879 100l4-3 4 3-4 4z"/>
<path fill="#0d9bed" d="M304 275l0-4 7 6 0 5z"/>
<path fill="#0ded16" d="M663 214l9-2 13-13-9 3z"/>
<path fill="#460ded" d="M455 338l7-3 12 11-7 1z"/>
<path fill="#ed9f0d" d="M784 132l8-3 9-6-7 3z"/>
<path fill="#0d75ed" d="M362 289l3-4 11 8-4 3z"/>
<path fill="#5e0ded" d="M508 354l8-7 14 1-9 4z"/>
<path fill="#0deddc" d="M277 243l-2 2 5 5 2-2z"/>
<path fill="#ed680d" d="M903 114l2 1 2 6-2 0z"/>
<path fill="#ed330d" d="M847 103l6-4 6-1-5 5z"/>
<path fill="#ed300d" d="M887 100l3-2 3 5-3 2z"/>
<path fill="#edb60d" d="M911 133l1 4 1 8 0-4z"/>
<path fill="#ed250d" d="M865 99l4-4 5 2-4 4z"/>
<path fill="#ed4f0d" d="M899 107l2 0 2 7-2 0z"/>
<path fill="#ed5b0d" d="M819 114l6-3 8-4-6 4z"/>
<path fill="#0d98ed" d="M311 277l1-4 8 6-1 5z"/>
<path fill="#ed3c0d" d="M893 103l3-1 3 5-3 2z"/>
<path fill="#0dedc5" d="M274 236l-2 3 5 4 2-2z"/>
<path fill="#0ded46" d="M650 228l9-3 13-13-9 2z"/>
<path fill="#abed0d" d="M722 170l9-3 11-8-9 3z"/>
<path fill="#edb50d" d="M774 138l8-3 10-6-8 3z"/>
<path fill="#240ded" d="M543 343l9-6 14-8-9 5z"/>
<path fill="#0d69ed" d="M376 293l4-4 11 9-5 2z"/>
<path fill="#ed8d0d" d="M908 123l1 3 2 7-1-3z"/>
<path fill="#0d98ed" d="M320 279l1-5 8 6-1 5z"/>
<path fill="#0ded7c" d="M636 245l9-4 14-16-9 3z"/>
<path fill="#ed1e0d" d="M874 97l4-3 5 3-4 3z"/>
<path fill="#540ded" d="M474 346l8-6 13 9-8 4z"/>
<path fill="#ed360d" d="M840 104l6-3 7-2-6 4z"/>
<path fill="#ed690d" d="M810 118l7-3 8-4-6 3z"/>
<path fill="#8bed0d" d="M710 179l9-3 12-9-9 3z"/>
<path fill="#edc50d" d="M912 137l1 6 1 7-1-5z"/>
<path fill="#ed200d" d="M859 98l5-3 5 0-4 4z"/>
<path fill="#edcc0d" d="M764 144l8-2 10-7-8 3z"/>
<path fill="#ed6a0d" d="M905 115l1 2 2 6-1-2z"/>
<path fill="#0dedb7" d="M622 263l9-5 14-17-9 4z"/>
<path fill="#0d57ed" d="M391 298l5-3 11 11-5 1z"/>
<path fill="#ed1e0d" d="M883 97l3-2 4 3-3 2z"/>
<path fill="#ed4d0d" d="M901 107l2 2 2 6-2-1z"/>
<path fill="#0d99ed" d="M329 280l2-6 9 7-2 5z"/>
<path fill="#0de5ed" d="M608 282l9-6 14-18-9 5z"/>
<path fill="#ed7a0d" d="M801 123l7-2 9-6-7 3z"/>
<path fill="#ed260d" d="M890 98l3 0 3 4-3 1z"/>
<path fill="#ed360d" d="M896 102l2 0 3 5-2 0z"/>
<path fill="#ed3d0d" d="M833 107l6-3 7-3-6 3z"/>
<path fill="#69ed0d" d="M698 189l8-3 13-10-9 3z"/>
<path fill="#ed970d" d="M909 126l1 5 2 6-1-4z"/>
<path class="e" d="M275 215L281 211"/>
<path fill="#ede50d" d="M753 151l8-2 11-7-8 2z"/>
<path fill="#0d3eed" d="M407 306l5-3 12 13-5 1z"/>
<path fill="#ed140d" d="M869 95l4-2 5 1-4 3z"/>
<path fill="#0da5ed" d="M594 301l9-8 14-17-9 6z"/>
<path fill="#ed200d" d="M853 99l5-3 6-1-5 3z"/>
<path fill="#edd60d" d="M913 143l0 7 1 0 0 0z"/>
<path fill="#350ded" d="M530 348l8-9 14-2-9 6z"/>
<path fill="#0d99ed" d="M340 281l2-5 10 6-3 5z"/>
<path fill="#ed8d0d" d="M792 129l7-2 9-6-7 2z"/>
<path fill="#ed710d" d="M906 117l1 3 2 6-1-3z"/>
<path fill="#4f0ded" d="M495 349l8-7 13 5-8 7z"/>
<path fill="#0d21ed" d="M424 316l6-4 13 14-7 1z"/>
<path fill="#ed490d" d="M825 111l6-3 8-4-6 3z"/>
<path fill="#44ed0d" d="M685 199l9-2 12-11-8 3z"/>
<path fill="#ed100d" d="M878 94l4-1 4 2-3 2z"/>
<path fill="#daed0d" d="M742 159l8-2 11-8-8 2z"/>
<path fill="#0d6aed" d="M580 318l9-9 14-16-9 8z"/>
<path fill="#ed500d" d="M903 109l1 2 2 6-1-2z"/>
<path fill="#eda70d" d="M910 131l1 6 2 6-1-6z"/>
<path fill="#0dd1ed" d="M286 261l-1-2 6 6 1 2z"/>
<path fill="#0de0ed" d="M282 256l-2-1 6 6 2 1z"/>
<path fill="#ed150d" d="M886 95l3 0 4 3-3 0z"/>
<path fill="#ed240d" d="M846 101l5-2 7-3-5 3z"/>
<path fill="#0dc5ed" d="M291 265l-1-3 7 6 1 4z"/>
<path fill="#0dede9" d="M278 250l-2 0 6 6 2 0z"/>
<path fill="#ed100d" d="M864 95l4-2 5 0-4 2z"/>
<path fill="#ed350d" d="M898 102l2 2 3 5-2-2z"/>
<path fill="#eda30d" d="M782 135l7-2 10-6-7 2z"/>
<path fill="#ed210d" d="M893 98l2 0 3 4-2 0z"/>
<path class="e" d="M903 243L905 239"/>
<path fill="#140ded" d="M443 326l6-5 13 14-7 3z"/>
<path fill="#0d97ed" d="M352 282l3-5 10 8-3 4z"/>
<path fill="#0dedd6" d="M275 245l-3 1 6 4 2 0z"/>
<path fill="#1aed0d" d="M672 212l9-3 13-12-9 2z"/>
<path fill="#0dbded" d="M297 268l0-3 7 6 0 4z"/>
<path fill="#ed570d" d="M817 115l6-2 8-5-6 3z"/>
<path fill="#bded0d" d="M731 167l8-1 11-9-8 2z"/>
<path fill="#0dedc2" d="M272 239l-3 2 6 4 2-2z"/>
<path fill="#ed7c0d" d="M907 120l1 5 2 6-1-5z"/>
<path fill="#0d39ed" d="M566 329l9-7 14-13-9 9z"/>
<path fill="#0dedaf" d="M270 236l-4 0 6 3 2-3z"/>
<path fill="#0db8ed" d="M304 271l0-5 8 7-1 4z"/>
<path fill="#ed0d0d" d="M873 93l4-1 5 1-4 1z"/>
<path fill="#edbb0d" d="M772 142l7-2 10-7-7 2z"/>
<path fill="#ed2d0d" d="M839 104l5-2 7-3-5 2z"/>
<path fill="#0ded2e" d="M659 225l9-3 13-13-9 3z"/>
<path fill="#0d90ed" d="M365 285l4-5 11 9-4 4z"/>
<path fill="#edbb0d" d="M911 137l0 6 2 7 0-7z"/>
<path fill="#280ded" d="M462 335l7-7 13 12-8 6z"/>
<path fill="#ed580d" d="M904 111l1 4 2 5-1-3z"/>
<path fill="#ed110d" d="M858 96l4-1 6-2-4 2z"/>
<path fill="#ed690d" d="M808 121l7-2 8-6-6 2z"/>
<path fill="#9eed0d" d="M719 176l8-1 12-9-8 1z"/>
<path fill="#0db7ed" d="M312 273l0-5 9 6-1 5z"/>
<path fill="#ed0d0d" d="M882 93l3 0 4 2-3 0z"/>
<path fill="#ed3a0d" d="M900 104l2 3 2 4-1-2z"/>
<path fill="#330ded" d="M516 347l9-10 13 2-8 9z"/>
<path fill="#ed110d" d="M889 95l3 1 3 2-2 0z"/>
<path fill="#0ded61" d="M645 241l9-5 14-14-9 3z"/>
<path fill="#ed220d" d="M895 98l2 2 3 4-2-2z"/>
<path fill="#edd50d" d="M761 149l8-1 10-8-7 2z"/>
<path fill="#0d83ed" d="M380 289l4-4 12 10-5 3z"/>
<path fill="#ed8c0d" d="M908 125l1 6 2 6-1-6z"/>
<path fill="#ed390d" d="M831 108l6-1 7-5-5 2z"/>
<path fill="#0db7ed" d="M321 274l1-6 9 6-2 6z"/>
<path fill="#ed7e0d" d="M799 127l7-2 9-6-7 2z"/>
<path fill="#ed0d0d" d="M868 93l4 0 5-1-4 1z"/>
<path fill="#7ced0d" d="M706 186l9-2 12-9-8 1z"/>
<path fill="#0d1fed" d="M552 337l9-10 14-5-9 7z"/>
<path fill="#ed170d" d="M851 99l5-1 6-3-4 1z"/>
<path fill="#edd00d" d="M911 143l1 9 0-1 1-1z"/>
<path fill="#0ded98" d="M631 258l10-6 13-16-9 5z"/>
<path fill="#ed640d" d="M905 115l1 5 2 5-1-5z"/>
<path fill="#2d0ded" d="M482 340l8-9 13 11-8 7z"/>
<path fill="#0d70ed" d="M396 295l5-4 11 12-5 3z"/>
<path fill="#eaed0d" d="M750 157l8-1 11-8-8 1z"/>
<path fill="#ed0d0d" d="M877 92l4 0 4 1-3 0z"/>
<path fill="#0db8ed" d="M331 274l2-5 9 7-2 5z"/>
<path fill="#ed490d" d="M823 113l6-1 8-5-6 1z"/>
<path fill="#ed420d" d="M902 107l1 4 2 4-1-4z"/>
<path fill="#0dedd2" d="M617 276l10-8 14-16-10 6z"/>
<path fill="#ed940d" d="M789 133l8-1 9-7-7 2z"/>
<path fill="#58ed0d" d="M694 197l9-2 12-11-9 2z"/>
<path fill="#eda00d" d="M909 131l1 7 1 5 0-6z"/>
<path fill="#ed0d0d" d="M885 93l3 1 4 2-3-1z"/>
<path fill="#ed270d" d="M897 100l2 4 3 3-2-3z"/>
<path fill="#0d58ed" d="M412 303l6-4 12 13-6 4z"/>
<path fill="#ed0d0d" d="M862 95l5-1 5-1-4 0z"/>
<path fill="#ed200d" d="M844 102l6-1 6-3-5 1z"/>
<path fill="#ed120d" d="M892 96l2 2 3 2-2-2z"/>
<path class="e" d="M270 218L275 215"/>
<path fill="#0dd0ed" d="M603 293l10-9 14-16-10 8z"/>
<path class="m" d="M270 217l4-6 4 6z"/>
<path fill="#cded0d" d="M739 166l8-2 11-8-8 1z"/>
<path fill="#0db8ed" d="M342 276l3-5 10 6-3 5z"/>
<path fill="#0dede9" d="M280 255l-2-2 7 6 1 2z"/>
<path fill="#0deddc" d="M276 250l-2-1 6 6 2 1z"/>
<path fill="#ed740d" d="M906 120l1 6 2 5-1-6z"/>
<path fill="#ed5c0d" d="M815 119l6-1 8-6-6 1z"/>
<path fill="#0dedcc" d="M272 246l-2 0 6 4 2 0z"/>
<path fill="#0de6ed" d="M285 259l-2-3 7 6 1 3z"/>
<path fill="#edad0d" d="M779 140l8-1 10-7-8 1z"/>
<path fill="#30ed0d" d="M681 209l9-3 13-11-9 2z"/>
<path fill="#0dedbc" d="M269 241l-2 1 5 4 3-1z"/>
<path fill="#0d3eed" d="M430 312l7-5 12 14-6 5z"/>
<path fill="#ed0d0d" d="M872 93l4 0 5-1-4 0z"/>
<path fill="#0ddded" d="M290 262l-1-4 8 7 0 3z"/>
<path fill="#0dedab" d="M266 236l-2 2 5 3 3-2z"/>
<path fill="#0d16ed" d="M538 339l9-11 14-1-9 10z"/>
<path fill="#edb80d" d="M910 138l0 8 2 6-1-9z"/>
<path fill="#ed2d0d" d="M837 107l6-1 7-5-6 1z"/>
<path fill="#ed500d" d="M903 111l1 6 2 3-1-5z"/>
<path fill="#1e0ded" d="M503 342l8-12 14 7-9 10z"/>
<path fill="#ed0d0d" d="M856 98l5-1 6-3-5 1z"/>
<path fill="#0dd8ed" d="M297 265l-1-5 8 6 0 5z"/>
<path fill="#0d9bed" d="M589 309l9-11 15-14-10 9z"/>
<path fill="#0db5ed" d="M355 277l4-4 10 7-4 5z"/>
<path fill="#ed0d0d" d="M881 92l3 2 4 0-3-1z"/>
<path fill="#aeed0d" d="M727 175l9-2 11-9-8 2z"/>
<path class="e" d="M901 246L903 243"/>
<path fill="#ed310d" d="M899 104l1 4 3 3-1-4z"/>
<path fill="#ed710d" d="M806 125l6-1 9-6-6 1z"/>
<path fill="#edc70d" d="M769 148l8-1 10-8-8 1z"/>
<path fill="#0ded15" d="M668 222l9-4 13-12-9 3z"/>
<path fill="#0d29ed" d="M449 321l7-7 13 14-7 7z"/>
<path fill="#ed0d0d" d="M888 94l2 3 4 1-2-2z"/>
<path fill="#ed180d" d="M894 98l2 3 3 3-2-4z"/>
<path fill="#0dd6ed" d="M304 266l0-4 8 6 0 5z"/>
<path fill="#ed890d" d="M907 126l0 8 3 4-1-7z"/>
<path fill="#ed0d0d" d="M867 94l4 1 5-2-4 0z"/>
<path fill="#ed3e0d" d="M829 112l6-1 8-5-6 1z"/>
<path fill="#0daded" d="M369 280l4-4 11 9-4 4z"/>
<path fill="#ed170d" d="M850 101l4 0 7-4-5 1z"/>
<path fill="#0dd6ed" d="M312 268l1-5 9 5-1 6z"/>
<path fill="#8eed0d" d="M715 184l9-1 12-10-9 2z"/>
<path fill="#edd00d" d="M910 146l0 9 1-2 1-1z"/>
<path fill="#0d6fed" d="M575 322l9-13 14-11-9 11z"/>
<path fill="#0ded45" d="M654 236l10-4 13-14-9 4z"/>
<path fill="#ed600d" d="M904 117l1 6 2 3-1-6z"/>
<path fill="#ed880d" d="M797 132l6-1 9-7-6 1z"/>
<path fill="#ede20d" d="M758 156l8-1 11-8-8 1z"/>
<path fill="#ed0d0d" d="M876 93l3 2 5-1-3-2z"/>
<path fill="#0d1ded" d="M469 328l8-9 13 12-8 9z"/>
<path fill="#ed3e0d" d="M900 108l1 6 3 3-1-6z"/>
<path fill="#0d9fed" d="M384 285l5-4 12 10-5 4z"/>
<path fill="#0dd7ed" d="M322 268l2-5 9 6-2 5z"/>
<path fill="#ed510d" d="M821 118l6-1 8-6-6 1z"/>
<path fill="#ed0d0d" d="M884 94l2 2 4 1-2-3z"/>
<path fill="#eda00d" d="M907 134l1 7 2 5 0-8z"/>
<path fill="#ed230d" d="M896 101l1 5 3 2-1-4z"/>
<path fill="#ed0e0d" d="M890 97l2 3 4 1-2-3z"/>
<path fill="#0ded77" d="M641 252l9-6 14-14-10 4z"/>
<path fill="#ed0d0d" d="M861 97l4 1 6-3-4-1z"/>
<path fill="#6aed0d" d="M703 195l8-2 13-10-9 1z"/>
<path fill="#0d1fed" d="M525 337l9-13 13 4-9 11z"/>
<path fill="#ed250d" d="M843 106l4 0 7-5-4 0z"/>
<path fill="#eda10d" d="M787 139l7 0 9-8-6 1z"/>
<path fill="#dbed0d" d="M747 164l8-1 11-8-8 1z"/>
<path fill="#0d8ded" d="M401 291l5-5 12 13-6 4z"/>
<path fill="#ed750d" d="M905 123l0 7 2 4 0-8z"/>
<path fill="#0dd8ed" d="M333 269l2-5 10 7-3 5z"/>
<path fill="#0d54ed" d="M561 327l9-12 14-6-9 13z"/>
<path fill="#ed0d0d" d="M871 95l3 2 5-2-3-2z"/>
<path fill="#0dedab" d="M627 268l9-8 14-14-9 6z"/>
<path fill="#ed660d" d="M812 124l6 0 9-7-6 1z"/>
<path fill="#0dedc0" d="M270 246l-2-1 6 4 2 1z"/>
<path fill="#0dedcc" d="M274 249l-2-1 6 5 2 2z"/>
<path fill="#0dedb3" d="M267 242l-3 0 6 4 2 0z"/>
<path fill="#0d21ed" d="M490 331l8-11 13 10-8 12z"/>
<path fill="#0deda6" d="M264 238l-3 1 6 3 2-1z"/>
<path fill="#0dedd6" d="M278 253l-1-3 6 6 2 3z"/>
<path fill="#ed500d" d="M901 114l1 6 3 3-1-6z"/>
<path fill="#45ed0d" d="M690 206l9-2 12-11-8 2z"/>
<path fill="#0ded99" d="M262 235l-4 0 6 3 2-2z"/>
<path fill="#edbb0d" d="M908 141l0 9 2 5 0-9z"/>
<path class="e" d="M264 222L270 218"/>
<path fill="#0d78ed" d="M418 299l6-6 13 14-7 5z"/>
<path fill="#0dedde" d="M283 256l-1-3 7 5 1 4z"/>
<path fill="#edbb0d" d="M777 147l7 0 10-8-7 0z"/>
<path fill="#ed360d" d="M835 111l5 1 7-6-4 0z"/>
<path fill="#ed120d" d="M854 101l5 1 6-4-4-1z"/>
<path fill="#ed0d0d" d="M879 95l3 2 4-1-2-2z"/>
<path fill="#bded0d" d="M736 173l8-1 11-9-8 1z"/>
<path fill="#ed310d" d="M897 106l1 6 3 2-1-6z"/>
<path fill="#0dd7ed" d="M345 271l3-5 11 7-4 4z"/>
<path fill="#0dede3" d="M289 258l0-3 7 5 1 5z"/>
<path fill="#ed0d0d" d="M886 96l2 4 4 0-2-3z"/>
<path fill="#ed190d" d="M892 100l2 5 3 1-1-5z"/>
<path fill="#0deddd" d="M613 284l9-10 14-14-9 8z"/>
<path fill="#ed8c0d" d="M905 130l1 8 2 3-1-7z"/>
<path fill="#ed7e0d" d="M803 131l7 0 8-7-6 0z"/>
<path fill="#0dede6" d="M296 260l0-4 8 6 0 4z"/>
<path fill="#0d64ed" d="M437 307l6-7 13 14-7 7z"/>
<path fill="#1ced0d" d="M677 218l9-3 13-11-9 2z"/>
<path fill="#ed0d0d" d="M865 98l3 2 6-3-3-2z"/>
<path fill="#edd60d" d="M766 155l7 0 11-8-7 0z"/>
<path fill="#0dd3ed" d="M359 273l3-5 11 8-4 4z"/>
<path fill="#ed490d" d="M827 117l5 1 8-6-5-1z"/>
<path fill="#9ded0d" d="M724 183l8-1 12-10-8 1z"/>
<path fill="#ed200d" d="M847 106l5 1 7-5-5-1z"/>
<path fill="#ed640d" d="M902 120l1 7 2 3 0-7z"/>
<path class="e" d="M899 250L901 246"/>
<path fill="#0dede7" d="M304 262l1-5 8 6-1 5z"/>
<path fill="#edd60d" d="M908 150l0 10 1-3 1-2z"/>
<path fill="#0d50ed" d="M547 328l9-13 14 0-9 12z"/>
<path fill="#ed0d0d" d="M874 97l3 2 5-2-3-2z"/>
<path fill="#0dd1ed" d="M598 298l10-12 14-12-9 10z"/>
<path fill="#ed430d" d="M898 112l1 6 3 2-1-6z"/>
<path fill="#0d37ed" d="M511 330l9-13 14 7-9 13z"/>
<path fill="#ed970d" d="M794 139l6 0 10-8-7 0z"/>
<path fill="#0ded29" d="M664 232l9-5 13-12-9 3z"/>
<path fill="#0d55ed" d="M456 314l7-9 14 14-8 9z"/>
<path fill="#ed0d0d" d="M882 97l2 4 4-1-2-4z"/>
<path fill="#0dcaed" d="M373 276l5-5 11 10-5 4z"/>
<path fill="#ed270d" d="M894 105l1 6 3 1-1-6z"/>
<path fill="#0dede6" d="M313 263l1-5 10 5-2 5z"/>
<path fill="#ed130d" d="M888 100l2 5 4 0-2-5z"/>
<path fill="#eda70d" d="M906 138l0 9 2 3 0-9z"/>
<path fill="#e8ed0d" d="M755 163l8 0 10-8-7 0z"/>
<path fill="#ed100d" d="M859 102l4 2 5-4-3-2z"/>
<path fill="#ed5f0d" d="M818 124l6 1 8-7-5-1z"/>
<path fill="#7ced0d" d="M711 193l9-1 12-10-8 1z"/>
<path fill="#ed310d" d="M840 112l5 1 7-6-5-1z"/>
<path fill="#ed7c0d" d="M903 127l0 8 3 3-1-8z"/>
<path fill="#0dede5" d="M324 263l1-4 10 5-2 5z"/>
<path fill="#0dbeed" d="M389 281l5-5 12 10-5 5z"/>
<path fill="#0ded56" d="M650 246l9-6 14-13-9 5z"/>
<path fill="#0daded" d="M584 309l10-14 14-9-10 12z"/>
<path fill="#edb10d" d="M784 147l7 0 9-8-6 0z"/>
<path fill="#ed0d0d" d="M868 100l4 3 5-4-3-2z"/>
<path fill="#0d52ed" d="M477 319l7-11 14 12-8 11z"/>
<path fill="#0ded9e" d="M261 239l-3 0 6 3 3 0z"/>
<path fill="#0deda8" d="M264 242l-2-1 6 4 2 1z"/>
<path fill="#0ded93" d="M258 235l-3 2 6 2 3-1z"/>
<path fill="#ed580d" d="M899 118l1 8 3 1-1-7z"/>
<path fill="#0dedb1" d="M268 245l-2-1 6 4 2 1z"/>
<path fill="#caed0d" d="M744 172l7 0 12-9-8 0z"/>
<path fill="#0dedb9" d="M272 248l-2-2 7 4 1 3z"/>
<path fill="#58ed0d" d="M699 204l8-2 13-10-9 1z"/>
<path fill="#ed760d" d="M810 131l6 1 8-7-6-1z"/>
<path fill="#ed0d0d" d="M877 99l3 4 4-2-2-4z"/>
<path fill="#edc40d" d="M906 147l0 9 2 4 0-10z"/>
<path fill="#ed1e0d" d="M852 107l4 2 7-5-4-2z"/>
<path fill="#ed390d" d="M895 111l1 7 3 0-1-6z"/>
<path fill="#0dedc0" d="M277 250l-2-2 7 5 1 3z"/>
<path fill="#0dede4" d="M335 264l3-4 10 6-3 5z"/>
<path fill="#0daeed" d="M406 286l6-5 12 12-6 6z"/>
<path fill="#ed440d" d="M832 118l6 1 7-6-5-1z"/>
<path fill="#ed110d" d="M884 101l2 5 4-1-2-5z"/>
<path fill="#ed210d" d="M890 105l2 6 3 0-1-6z"/>
<path fill="#0dedc6" d="M282 253l-1-4 8 6 0 3z"/>
<path fill="#0ded83" d="M636 260l9-8 14-12-9 6z"/>
<path fill="#0d5ded" d="M534 324l8-13 14 4-9 13z"/>
<path fill="#edcc0d" d="M773 155l7 0 11-8-7 0z"/>
<path fill="#ed960d" d="M903 135l1 9 2 3 0-9z"/>
<path class="e" d="M258 226L264 222"/>
<path fill="#0dedc9" d="M289 255l-1-4 8 5 0 4z"/>
<path fill="#ed120d" d="M863 104l3 3 6-4-4-3z"/>
<path fill="#0dede6" d="M348 266l3-4 11 6-3 5z"/>
<path fill="#0d9ded" d="M424 293l7-6 12 13-6 7z"/>
<path fill="#0d95ed" d="M570 315l10-14 14-6-10 14z"/>
<path fill="#abed0d" d="M732 182l8-1 11-9-7 0z"/>
<path fill="#32ed0d" d="M686 215l8-2 13-11-8 2z"/>
<path fill="#ed8f0d" d="M800 139l7 1 9-8-6-1z"/>
<path fill="#ed6f0d" d="M900 126l1 8 2 1 0-8z"/>
<path fill="#0dedca" d="M296 256l0-4 9 5-1 5z"/>
<path fill="#ed2f0d" d="M845 113l4 1 7-5-4-2z"/>
<path fill="#0d5ded" d="M498 320l8-12 14 9-9 13z"/>
<path fill="#ed5a0d" d="M824 125l6 1 8-7-6-1z"/>
<path fill="#ed0e0d" d="M872 103l3 3 5-3-3-4z"/>
<path fill="#ede00d" d="M906 156l0 10 1-3 1-3z"/>
<path fill="#0dedae" d="M622 274l9-10 14-12-9 8z"/>
<path fill="#ed4e0d" d="M896 118l1 7 3 1-1-8z"/>
<path fill="#ede80d" d="M763 163l7 1 10-9-7 0z"/>
<path fill="#0dedea" d="M362 268l4-4 12 7-5 5z"/>
<path fill="#ed120d" d="M880 103l2 5 4-2-2-5z"/>
<path fill="#0dedca" d="M305 257l0-4 9 5-1 5z"/>
<path fill="#ed330d" d="M892 111l1 7 3 0-1-7z"/>
<path fill="#0d8fed" d="M443 300l7-8 13 13-7 9z"/>
<path fill="#ed1f0d" d="M886 106l2 6 4-1-2-6z"/>
<path class="e" d="M897 254L899 250"/>
<path fill="#0ded0f" d="M673 227l8-3 13-11-8 2z"/>
<path fill="#edb20d" d="M904 144l0 9 2 3 0-9z"/>
<path fill="#8bed0d" d="M720 192l8-1 12-10-8 1z"/>
<path fill="#ed1f0d" d="M856 109l4 3 6-5-3-3z"/>
<path fill="#eda90d" d="M791 147l6 1 10-8-7-1z"/>
<path fill="#0dedc9" d="M314 258l2-4 9 5-1 4z"/>
<path fill="#ed710d" d="M816 132l5 1 9-7-6-1z"/>
<path fill="#ed420d" d="M838 119l4 2 7-7-4-1z"/>
<path fill="#0de9ed" d="M378 271l4-4 12 9-5 5z"/>
<path fill="#0dedd4" d="M608 286l9-12 14-10-9 10z"/>
<path fill="#ed880d" d="M901 134l0 8 3 2-1-9z"/>
<path fill="#ed180d" d="M866 107l3 3 6-4-3-3z"/>
<path fill="#d5ed0d" d="M751 172l8 0 11-8-7-1z"/>
<path fill="#0d8eed" d="M556 315l9-13 15-1-10 14z"/>
<path fill="#0ded85" d="M254 235l-5 1 6 1 3-2z"/>
<path fill="#0ded8c" d="M255 237l-3 0 6 2 3 0z"/>
<path fill="#0ded93" d="M258 239l-2 0 6 2 2 1z"/>
<path fill="#0d88ed" d="M463 305l8-9 13 12-7 11z"/>
<path fill="#0ded9a" d="M262 241l-3 0 7 3 2 1z"/>
<path fill="#ed650d" d="M897 125l1 8 3 1-1-8z"/>
<path fill="#0d77ed" d="M520 317l9-12 13 6-8 13z"/>
<path fill="#0dedc8" d="M325 259l3-4 10 5-3 4z"/>
<path fill="#0deda0" d="M266 244l-2-2 6 4 2 2z"/>
<path fill="#0ded37" d="M659 240l9-5 13-11-8 3z"/>
<path fill="#69ed0d" d="M707 202l9-1 12-10-8 1z"/>
<path fill="#ed180d" d="M875 106l2 5 5-3-2-5z"/>
<path fill="#0deda6" d="M270 246l-2-2 7 4 2 2z"/>
<path fill="#edc40d" d="M780 155l7 1 10-8-6-1z"/>
<path fill="#0ddeed" d="M394 276l5-5 13 10-6 5z"/>
<path fill="#ed470d" d="M893 118l1 7 3 0-1-7z"/>
<path fill="#ed300d" d="M849 114l4 3 7-5-4-3z"/>
<path fill="#ed200d" d="M882 108l2 6 4-2-2-6z"/>
<path fill="#edd00d" d="M904 153l0 10 2 3 0-10z"/>
<path fill="#ed300d" d="M888 112l1 7 4-1-1-7z"/>
<path fill="#0dedaa" d="M275 248l-1-3 7 4 1 4z"/>
<path fill="#ed8a0d" d="M807 140l5 1 9-8-5-1z"/>
<path fill="#ed570d" d="M830 126l5 2 7-7-4-2z"/>
<path fill="#0dedad" d="M281 249l-1-3 8 5 1 4z"/>
<path fill="#0dedc8" d="M338 260l2-4 11 6-3 4z"/>
<path fill="#0de9ed" d="M594 295l9-13 14-8-9 12z"/>
<path fill="#b7ed0d" d="M740 181l8 1 11-10-8 0z"/>
<path fill="#eda40d" d="M901 142l0 9 3 2 0-9z"/>
<path fill="#ed240d" d="M860 112l3 3 6-5-3-3z"/>
<path fill="#0dd1ed" d="M412 281l6-5 13 11-7 6z"/>
<path fill="#0d8bed" d="M484 308l8-11 14 11-8 12z"/>
<path fill="#0ded5e" d="M645 252l9-6 14-11-9 5z"/>
<path fill="#0dedaf" d="M288 251l0-4 8 5 0 4z"/>
<path fill="#46ed0d" d="M694 213l9-2 13-10-9 1z"/>
<path fill="#ede00d" d="M770 164l7 1 10-9-7-1z"/>
<path class="e" d="M252 230L258 226"/>
<path fill="#ed7e0d" d="M898 133l0 9 3 0 0-8z"/>
<path fill="#ed430d" d="M842 121l5 3 6-7-4-3z"/>
<path fill="#ed210d" d="M869 110l3 5 5-4-2-5z"/>
<path fill="#0dedca" d="M351 262l4-4 11 6-4 4z"/>
<path fill="#eda40d" d="M797 148l6 1 9-8-5-1z"/>
<path fill="#0dedaf" d="M296 252l1-4 8 5 0 4z"/>
<path fill="#ed6f0d" d="M821 133l5 2 9-7-5-2z"/>
<path fill="#ed5e0d" d="M894 125l1 8 3 0-1-8z"/>
<path fill="#eded0d" d="M904 163l0 11 1-4 1-4z"/>
<path fill="#ed250d" d="M877 111l2 6 5-3-2-6z"/>
<path fill="#0dc5ed" d="M431 287l6-6 13 11-7 8z"/>
<path fill="#0d9bed" d="M542 311l9-12 14 3-9 13z"/>
<path fill="#ed440d" d="M889 119l1 7 4-1-1-7z"/>
<path fill="#97ed0d" d="M728 191l8 0 12-9-8-1z"/>
<path fill="#ed310d" d="M884 114l1 6 4-1-1-7z"/>
<path fill="#0dedae" d="M305 253l1-4 10 5-2 4z"/>
<path fill="#0ded82" d="M631 264l9-8 14-10-9 6z"/>
<path fill="#ed340d" d="M853 117l4 4 6-6-3-3z"/>
<path fill="#22ed0d" d="M681 224l9-3 13-10-9 2z"/>
<path fill="#0dedce" d="M366 264l4-3 12 6-4 4z"/>
<path fill="#0dd7ed" d="M580 301l9-14 14-5-9 13z"/>
<path fill="#edc10d" d="M901 151l0 10 3 2 0-10z"/>
<path class="e" d="M895 258L897 254"/>
<path fill="#dded0d" d="M759 172l7 1 11-8-7-1z"/>
<path fill="#0d9aed" d="M506 308l9-12 14 9-9 12z"/>
<path fill="#0ded7d" d="M249 236l-3 1 6 0 3 0z"/>
<path fill="#0ded82" d="M252 237l-2 1 6 1 2 0z"/>
<path fill="#ed580d" d="M835 128l4 3 8-7-5-3z"/>
<path fill="#edbf0d" d="M787 156l6 2 10-9-6-1z"/>
<path fill="#0dedae" d="M316 254l2-3 10 4-3 4z"/>
<path fill="#0ded87" d="M256 239l-3 0 6 2 3 0z"/>
<path fill="#0dbced" d="M450 292l8-7 13 11-8 9z"/>
<path fill="#ed990d" d="M898 142l0 9 3 0 0-9z"/>
<path fill="#ed870d" d="M812 141l6 2 8-8-5-2z"/>
<path fill="#ed2d0d" d="M863 115l3 5 6-5-3-5z"/>
<path fill="#0ded8b" d="M259 241l-2-1 7 2 2 2z"/>
<path fill="#0dedd5" d="M382 267l5-3 12 7-5 5z"/>
<path fill="#77ed0d" d="M716 201l8 0 12-10-8 0z"/>
<path fill="#0ded8e" d="M264 242l-2-1 6 3 2 2z"/>
<path fill="#ed770d" d="M895 133l0 9 3 0 0-9z"/>
<path fill="#ed2d0d" d="M872 115l2 5 5-3-2-6z"/>
<path fill="#0ded92" d="M268 244l-1-2 7 3 1 3z"/>
<path fill="#0ded1b" d="M668 235l9-4 13-10-9 3z"/>
<path fill="#ed5a0d" d="M890 126l1 8 4-1-1-8z"/>
<path fill="#0dedad" d="M328 255l2-3 10 4-2 4z"/>
<path fill="#0deda1" d="M617 274l9-10 14-8-9 8z"/>
<path fill="#ed350d" d="M879 117l2 6 4-3-1-6z"/>
<path fill="#ed440d" d="M885 120l2 8 3-2-1-7z"/>
<path fill="#ed470d" d="M847 124l3 3 7-6-4-4z"/>
<path fill="#c0ed0d" d="M748 182l7 1 11-10-7-1z"/>
<path class="m" d="M892 257l4-6 4 6z"/>
<path fill="#0ded94" d="M274 245l-1-2 7 3 1 3z"/>
<path fill="#eddf0d" d="M901 161l0 10 3 3 0-11z"/>
<path fill="#0deddd" d="M399 271l6-3 13 8-6 5z"/>
<path fill="#eddb0d" d="M777 165l6 1 10-8-6-2z"/>
<path fill="#0dbbed" d="M471 296l8-9 13 10-8 11z"/>
<path fill="#ed6f0d" d="M826 135l5 3 8-7-4-3z"/>
<path fill="#0ded95" d="M280 246l0-2 8 3 0 4z"/>
<path fill="#eda10d" d="M803 149l6 2 9-8-6-2z"/>
<path fill="#0dd0ed" d="M565 302l10-13 14-2-9 14z"/>
<path fill="#0dedae" d="M340 256l4-2 11 4-4 4z"/>
<path fill="#0db4ed" d="M529 305l8-12 14 6-9 12z"/>
<path fill="#57ed0d" d="M703 211l8-1 13-9-8 0z"/>
<path fill="#ed3c0d" d="M857 121l3 4 6-5-3-5z"/>
<path fill="#edb50d" d="M898 151l0 9 3 1 0-10z"/>
<path fill="#0ded96" d="M288 247l0-2 9 3-1 4z"/>
<path fill="#0ded3d" d="M654 246l9-5 14-10-9 4z"/>
<path fill="#ed910d" d="M895 142l0 9 3 0 0-9z"/>
<path fill="#0dede7" d="M418 276l6-4 13 9-6 6z"/>
<path fill="#ed380d" d="M866 120l3 5 5-5-2-5z"/>
<path fill="#a2ed0d" d="M736 191l7 1 12-9-7-1z"/>
<path fill="#ed5b0d" d="M839 131l4 3 7-7-3-3z"/>
<path class="e" d="M246 234L252 230"/>
<path fill="#0dedba" d="M603 282l9-11 14-7-9 10z"/>
<path fill="#0ded96" d="M297 248l0-2 9 3-1 4z"/>
<path fill="#0dedb0" d="M355 258l4-2 11 5-4 3z"/>
<path fill="#ed730d" d="M891 134l1 8 3 0 0-9z"/>
<path fill="#ed3c0d" d="M874 120l2 7 5-4-2-6z"/>
<path fill="#e3ed0d" d="M766 173l7 2 10-9-6-1z"/>
<path fill="#ed870d" d="M818 143l5 3 8-8-5-3z"/>
<path fill="#ed5a0d" d="M887 128l1 8 3-2-1-8z"/>
<path fill="#ed470d" d="M881 123l1 7 5-2-2-8z"/>
<path fill="#0dc2ed" d="M492 297l9-9 14 8-9 12z"/>
<path fill="#edbc0d" d="M793 158l6 2 10-9-6-2z"/>
<path fill="#deed0d" d="M901 171l0 11 1-4 2-4z"/>
<path fill="#0ded73" d="M245 236l-5 2 6-1 3-1z"/>
<path fill="#0ded75" d="M246 237l-2 1 6 0 2-1z"/>
<path fill="#36ed0d" d="M690 221l8-1 13-10-8 1z"/>
<path fill="#0ded96" d="M306 249l2-2 10 4-2 3z"/>
<path fill="#0ded77" d="M250 238l-3 0 6 1 3 0z"/>
<path fill="#ed4d0d" d="M850 127l4 5 6-7-3-4z"/>
<path fill="#0deced" d="M437 281l7-6 14 10-8 7z"/>
<path fill="#0ded79" d="M253 239l-2 0 6 1 2 1z"/>
<path fill="#0dedb4" d="M370 261l5-3 12 6-5 3z"/>
<path fill="#edd30d" d="M898 160l0 10 3 1 0-10z"/>
<path fill="#0ded5c" d="M640 256l9-7 14-8-9 5z"/>
<path class="e" d="M893 262L895 258"/>
<path fill="#0ded7b" d="M257 240l-2-1 7 2 2 1z"/>
<path fill="#83ed0d" d="M724 201l7 0 12-9-7-1z"/>
<path fill="#0dd5ed" d="M551 299l9-10 15 0-10 13z"/>
<path fill="#0ded96" d="M318 251l2-3 10 4-2 3z"/>
<path fill="#0ded7d" d="M262 241l-2-1 7 2 1 2z"/>
<path fill="#ed720d" d="M831 138l5 4 7-8-4-3z"/>
<path fill="#ed460d" d="M860 125l3 6 6-6-3-5z"/>
<path fill="#edad0d" d="M895 151l1 9 2 0 0-9z"/>
<path fill="#c6ed0d" d="M755 183l7 1 11-9-7-2z"/>
<path fill="#eda10d" d="M809 151l5 3 9-8-5-3z"/>
<path fill="#0ded7e" d="M267 242l-2-2 8 3 1 2z"/>
<path fill="#0dedc9" d="M589 287l9-11 14-5-9 11z"/>
<path fill="#edd80d" d="M783 166l7 3 9-9-6-2z"/>
<path fill="#ed8d0d" d="M892 142l0 9 3 0 0-9z"/>
<path fill="#0dedba" d="M387 264l5-3 13 7-6 3z"/>
<path fill="#ed460d" d="M869 125l2 6 5-4-2-7z"/>
<path fill="#0dd2ed" d="M515 296l8-9 14 6-8 12z"/>
<path fill="#17ed0d" d="M677 231l8-2 13-9-8 1z"/>
<path fill="#0de8ed" d="M458 285l7-7 14 9-8 9z"/>
<path fill="#0ded7f" d="M273 243l-1-2 8 3 0 2z"/>
<path fill="#ed720d" d="M888 136l0 8 4-2-1-8z"/>
<path fill="#0ded96" d="M330 252l3-2 11 4-4 2z"/>
<path fill="#ed4e0d" d="M876 127l2 7 4-4-1-7z"/>
<path fill="#ed5c0d" d="M882 130l2 8 4-2-1-8z"/>
<path fill="#ed610d" d="M843 134l4 5 7-7-4-5z"/>
<path fill="#0ded80" d="M280 244l0-2 8 3 0 2z"/>
<path fill="#0ded76" d="M626 264l10-7 13-8-9 7z"/>
<path fill="#65ed0d" d="M711 210l8 0 12-9-7 0z"/>
<path fill="#e9ed0d" d="M898 170l0 10 3 2 0-11z"/>
<path fill="#0dedc1" d="M405 268l6-3 13 7-6 4z"/>
<path fill="#ed8a0d" d="M823 146l5 4 8-8-5-4z"/>
<path fill="#0ded98" d="M344 254l3-2 12 4-4 2z"/>
<path fill="#a9ed0d" d="M743 192l8 1 11-9-7-1z"/>
<path fill="#0ded80" d="M288 245l0-2 9 3 0 2z"/>
<path fill="#ed570d" d="M854 132l3 5 6-6-3-6z"/>
<path fill="#edbc0d" d="M799 160l6 3 9-9-5-3z"/>
<path fill="#e7ed0d" d="M773 175l6 3 11-9-7-3z"/>
<path fill="#edca0d" d="M896 160l-1 10 3 0 0-10z"/>
<path fill="#0deaed" d="M479 287l8-7 14 8-9 9z"/>
<path fill="#0ded21" d="M663 241l9-3 13-9-8 2z"/>
<path fill="#0ded81" d="M297 246l1-1 10 2-2 2z"/>
<path fill="#ed530d" d="M863 131l3 6 5-6-2-6z"/>
<path fill="#0dedd0" d="M575 289l9-10 14-3-9 11z"/>
<path fill="#eda80d" d="M892 151l0 10 4-1-1-9z"/>
<path fill="#0ded66" d="M240 238l-2-14 6 14 2-1z"/>
<path fill="#0de9ed" d="M537 293l9-8 14 4-9 10z"/>
<path class="e" d="M240 237L246 234"/>
<path fill="#0ded9a" d="M359 256l4-2 12 4-5 3z"/>
<path fill="#0dedc7" d="M424 272l7-4 13 7-7 6z"/>
<path fill="#ed770d" d="M836 142l4 4 7-7-4-5z"/>
<path fill="#0ded65" d="M244 238l-3-16 6 16 3 0z"/>
<path fill="#ed8b0d" d="M888 144l1 9 3-2 0-9z"/>
<path fill="#ed570d" d="M871 131l2 7 5-4-2-7z"/>
<path fill="#46ed0d" d="M698 220l9-1 12-9-8 0z"/>
<path fill="#ed730d" d="M884 138l1 9 3-3 0-8z"/>
<path fill="#ed620d" d="M878 134l1 8 5-4-2-8z"/>
<path fill="#0ded64" d="M247 238l-3-17 7 18 2 0z"/>
<path fill="#0ded81" d="M308 247l1-1 11 2-2 3z"/>
<path fill="#0ded8b" d="M612 271l9-8 15-6-10 7z"/>
<path fill="#eda30d" d="M814 154l5 4 9-8-5-4z"/>
<path fill="#0ded64" d="M251 239l-3-19 7 19 2 1z"/>
<path fill="#8ced0d" d="M731 201l8 2 12-10-8-1z"/>
<path fill="#cced0d" d="M898 180l0 11 1-4 2-5z"/>
<path fill="#edd70d" d="M790 169l6 3 9-9-6-3z"/>
<path fill="#caed0d" d="M762 184l7 3 10-9-6-3z"/>
<path fill="#0ded64" d="M255 239l-2-20 7 21 2 1z"/>
<path fill="#ed6a0d" d="M847 139l3 5 7-7-3-5z"/>
<path fill="#0ded9e" d="M375 258l5-1 12 4-5 3z"/>
<path fill="#0dede8" d="M501 288l8-7 14 6-8 9z"/>
<path class="e" d="M890 266L893 262"/>
<path fill="#0ded3c" d="M649 249l9-3 14-8-9 3z"/>
<path fill="#0dedcb" d="M444 275l7-4 14 7-7 7z"/>
<path fill="#0ded82" d="M320 248l2 0 11 2-3 2z"/>
<path fill="#0ded64" d="M260 240l-2-21 7 21 2 2z"/>
<path fill="#ede70d" d="M895 170l0 10 3 0 0-10z"/>
<path fill="#ed630d" d="M857 137l3 6 6-6-3-6z"/>
<path fill="#0ded64" d="M265 240l-1-21 8 22 1 2z"/>
<path fill="#ed8f0d" d="M828 150l4 4 8-8-4-4z"/>
<path fill="#edc40d" d="M892 161l0 10 3-1 1-10z"/>
<path fill="#29ed0d" d="M685 229l9-1 13-9-9 1z"/>
<path fill="#0deda3" d="M392 261l6-1 13 5-6 3z"/>
<path fill="#0ded83" d="M333 250l3 0 11 2-3 2z"/>
<path fill="#0ded64" d="M272 241l-1-21 9 22 0 2z"/>
<path fill="#0dedce" d="M560 289l9-9 15-1-9 10z"/>
<path fill="#ed630d" d="M866 137l2 7 5-6-2-7z"/>
<path fill="#eda60d" d="M889 153l0 10 3-2 0-10z"/>
<path fill="#edbe0d" d="M805 163l5 4 9-9-5-4z"/>
<path fill="#6eed0d" d="M719 210l8 2 12-9-8-2z"/>
<path fill="#ed6a0d" d="M873 138l2 8 4-4-1-8z"/>
<path fill="#ed8c0d" d="M885 147l0 9 4-3-1-9z"/>
<path fill="#0ded99" d="M598 276l9-8 14-5-9 8z"/>
<path fill="#e8ed0d" d="M779 178l7 3 10-9-6-3z"/>
<path fill="#aded0d" d="M751 193l7 3 11-9-7-3z"/>
<path fill="#ed780d" d="M879 142l1 8 5-3-1-9z"/>
<path fill="#0dedcc" d="M465 278l8-4 14 6-8 7z"/>
<path fill="#0ded65" d="M280 242l0-21 8 22 0 2z"/>
<path fill="#ed800d" d="M840 146l3 5 7-7-3-5z"/>
<path fill="#0dedd9" d="M523 287l9-7 14 5-9 8z"/>
<path fill="#0ded54" d="M636 257l8-4 14-7-9 3z"/>
<path fill="#0ded85" d="M347 252l4 0 12 2-4 2z"/>
<path fill="#0deda7" d="M411 265l6-2 14 5-7 4z"/>
<path fill="#0ded66" d="M288 243l1-21 9 23-1 1z"/>
<path class="m" d="M236 238l4-6 4 6z"/>
<path fill="#d4ed0d" d="M895 180l0 11 3 0 0-11z"/>
<path fill="#eda80d" d="M819 158l5 5 8-9-4-4z"/>
<path fill="#ed760d" d="M850 144l3 6 7-7-3-6z"/>
<path fill="#0eed0d" d="M672 238l8-1 14-9-9 1z"/>
<path fill="#0ded35" d="M236 225l-4-5 6 4 2 14z"/>
<path fill="#0ded67" d="M298 245l2-21 9 22-1 1z"/>
<path fill="#ede10d" d="M892 171l0 10 3-1 0-10z"/>
<path fill="#edd90d" d="M796 172l5 4 9-9-5-4z"/>
<path fill="#52ed0d" d="M707 219l7 2 13-9-8-2z"/>
<path fill="#0ded88" d="M363 254l4 1 13 2-5 1z"/>
<path fill="#0dedc8" d="M487 280l8-4 14 5-8 7z"/>
<path fill="#0ded2e" d="M238 224l-3-7 6 5 3 16z"/>
<path fill="#cbed0d" d="M769 187l6 3 11-9-7-3z"/>
<path fill="#91ed0d" d="M739 203l7 2 12-9-7-3z"/>
<path fill="#ed720d" d="M860 143l2 7 6-6-2-7z"/>
<path class="e" d="M234 241L240 237"/>
<path fill="#edc10d" d="M889 163l0 9 3-1 0-10z"/>
<path fill="#0dedac" d="M431 268l6-2 14 5-7 4z"/>
<path fill="#0ded27" d="M241 222l-3-8 6 7 3 17z"/>
<path fill="#ed760d" d="M868 144l2 7 5-5-2-8z"/>
<path fill="#ed970d" d="M832 154l4 5 7-8-3-5z"/>
<path fill="#0deda0" d="M584 279l9-7 14-4-9 8z"/>
<path fill="#eda60d" d="M885 156l1 9 3-2 0-10z"/>
<path fill="#0ded68" d="M309 246l3-19 10 21-2 0z"/>
<path fill="#0dedc5" d="M546 285l9-6 14 1-9 9z"/>
<path fill="#ed800d" d="M875 146l1 8 4-4-1-8z"/>
<path fill="#ed910d" d="M880 150l1 9 4-3 0-9z"/>
<path fill="#0ded21" d="M244 221l-2-9 6 8 3 19z"/>
<path fill="#0ded67" d="M621 263l9-4 14-6-8 4z"/>
<path fill="#0ded8c" d="M380 257l5 0 13 3-6 1z"/>
<path fill="#0ded1c" d="M248 220l-2-9 7 8 2 20z"/>
<path fill="#edc20d" d="M810 167l5 4 9-8-5-5z"/>
<path fill="#0ded25" d="M658 246l9-2 13-7-8 1z"/>
<path fill="#0ded6a" d="M322 248l3-18 11 20-3 0z"/>
<path class="e" d="M888 270L890 266"/>
<path fill="#ed8b0d" d="M843 151l4 6 6-7-3-6z"/>
<path fill="#b7ed0d" d="M895 191l0 11 1-6 2-5z"/>
<path fill="#0ded18" d="M253 219l-2-10 7 10 2 21z"/>
<path fill="#e6ed0d" d="M786 181l5 4 10-9-5-4z"/>
<path fill="#0dedae" d="M451 271l7-2 15 5-8 4z"/>
<path fill="#36ed0d" d="M694 228l8 1 12-8-7-2z"/>
<path fill="#0dedc0" d="M509 281l8-5 15 4-9 7z"/>
<path fill="#afed0d" d="M758 196l6 3 11-9-6-3z"/>
<path fill="#74ed0d" d="M727 212l7 2 12-9-7-2z"/>
<path fill="#0ded16" d="M258 219l-1-10 7 10 1 21z"/>
<path fill="#dced0d" d="M892 181l0 10 3 0 0-11z"/>
<path fill="#ed840d" d="M853 150l3 6 6-6-2-7z"/>
<path fill="#0ded90" d="M398 260l6 0 13 3-6 2z"/>
<path fill="#0ded6d" d="M336 250l3-17 12 19-4 0z"/>
<path fill="#edb00d" d="M824 163l4 5 8-9-4-5z"/>
<path fill="#0ded15" d="M264 219l0-10 7 11 1 21z"/>
<path fill="#edde0d" d="M889 172l0 11 3-2 0-10z"/>
<path fill="#ed840d" d="M862 150l2 7 6-6-2-7z"/>
<path fill="#edc20d" d="M886 165l0 10 3-3 0-9z"/>
<path fill="#0deda2" d="M569 280l9-6 15-2-9 7z"/>
<path fill="#0ded15" d="M271 220l0-10 9 11 0 21z"/>
<path fill="#ed8b0d" d="M870 151l1 9 5-6-1-8z"/>
<path fill="#0ded75" d="M607 268l9-4 14-5-9 4z"/>
<path fill="#edaa0d" d="M881 159l1 10 4-4-1-9z"/>
<path fill="#edde0d" d="M801 176l5 5 9-10-5-4z"/>
<path fill="#ed980d" d="M876 154l1 9 4-4-1-9z"/>
<path fill="#0dedad" d="M473 274l7-2 15 4-8 4z"/>
<path fill="#0ded70" d="M351 252l4-15 12 18-4-1z"/>
<path fill="#0ded3b" d="M644 253l9-1 14-8-9 2z"/>
<path fill="#eda20d" d="M836 159l3 6 8-8-4-6z"/>
<path fill="#0ded93" d="M417 263l6 0 14 3-6 2z"/>
<path fill="#c9ed0d" d="M775 190l6 4 10-9-5-4z"/>
<path fill="#0dedb3" d="M532 280l8-3 15 2-9 6z"/>
<path fill="#0ded17" d="M280 221l0-10 9 11-1 21z"/>
<path fill="#1ced0d" d="M680 237l9 1 13-9-8-1z"/>
<path fill="#92ed0d" d="M746 205l7 4 11-10-6-3z"/>
<path fill="#59ed0d" d="M714 221l8 2 12-9-7-2z"/>
<path fill="#0ded0e" d="M232 220l-3-6 6 3 3 7z"/>
<path fill="#0ded1a" d="M289 222l1-8 10 10-2 21z"/>
<path fill="#ed990d" d="M847 157l3 7 6-8-3-6z"/>
<path fill="#bded0d" d="M892 191l0 11 3 0 0-11z"/>
<path fill="#edca0d" d="M815 171l5 6 8-9-4-5z"/>
<path fill="#0ded74" d="M367 255l5-14 13 16-5 0z"/>
<path fill="#18ed0d" d="M235 217l-3-6 6 3 3 8z"/>
<path class="e" d="M228 245L234 241"/>
<path fill="#0deda9" d="M495 276l8-3 14 3-8 5z"/>
<path fill="#0ded96" d="M437 266l7 0 14 3-7 2z"/>
<path fill="#dfed0d" d="M889 183l0 10 3-2 0-10z"/>
<path fill="#22ed0d" d="M238 214l-2-7 6 5 2 9z"/>
<path fill="#0ded1e" d="M300 224l1-8 11 11-3 19z"/>
<path fill="#ed950d" d="M856 156l2 8 6-7-2-7z"/>
<path fill="#e1ed0d" d="M791 185l6 5 9-9-5-5z"/>
<path fill="#edde0d" d="M886 175l0 10 3-2 0-11z"/>
<path fill="#2aed0d" d="M242 212l-2-7 6 6 2 9z"/>
<path fill="#ed990d" d="M864 157l2 8 5-5-1-9z"/>
<path fill="#0ded7e" d="M593 272l9-4 14-4-9 4z"/>
<path fill="#aded0d" d="M764 199l6 5 11-10-6-4z"/>
<path fill="#0ded4d" d="M630 259l9-1 14-6-9 1z"/>
<path fill="#edc50d" d="M882 169l0 10 4-4 0-10z"/>
<path fill="#edba0d" d="M828 168l4 6 7-9-3-6z"/>
<path fill="#0ded78" d="M385 257l6-11 13 14-6 0z"/>
<path fill="#0ded9f" d="M555 279l9-4 14-1-9 6z"/>
<path fill="#0ded15" d="M667 244l8 1 14-7-9-1z"/>
<path fill="#eda20d" d="M871 160l1 9 5-6-1-9z"/>
<path fill="#edb10d" d="M877 163l0 10 5-4-1-10z"/>
<path fill="#76ed0d" d="M734 214l7 4 12-9-7-4z"/>
<path fill="#0ded23" d="M312 227l2-7 11 10-3 18z"/>
<path fill="#3eed0d" d="M702 229l7 3 13-9-8-2z"/>
<path fill="#31ed0d" d="M246 211l-2-8 7 6 2 10z"/>
<path class="e" d="M886 274L888 270"/>
<path fill="#0ded97" d="M458 269l8 0 14 3-7 2z"/>
<path fill="#36ed0d" d="M251 209l-1-7 7 7 1 10z"/>
<path fill="#ede50d" d="M806 181l5 5 9-9-5-6z"/>
<path fill="#edaf0d" d="M839 165l4 7 7-8-3-7z"/>
<path fill="#0ded29" d="M325 230l3-6 11 9-3 17z"/>
<path fill="#0deda1" d="M517 276l9-1 14 2-8 3z"/>
<path fill="#0ded7c" d="M404 260l6-10 13 13-6 0z"/>
<path fill="#a0ed0d" d="M892 202l-1 11 2-6 2-5z"/>
<path fill="#3aed0d" d="M257 209l-1-8 8 8 0 10z"/>
<path fill="#c4ed0d" d="M781 194l6 5 10-9-6-5z"/>
<path fill="#eda90d" d="M850 164l2 8 6-8-2-8z"/>
<path fill="#c1ed0d" d="M889 193l0 11 3-2 0-11z"/>
<path fill="#3bed0d" d="M264 209l-1-7 8 8 0 10z"/>
<path fill="#90ed0d" d="M753 209l6 4 11-9-6-5z"/>
<path fill="#0ded30" d="M339 233l4-5 12 9-4 15z"/>
<path fill="#edd40d" d="M820 177l4 6 8-9-4-6z"/>
<path fill="#5bed0d" d="M722 223l7 4 12-9-7-4z"/>
<path fill="#1fed0d" d="M227 216l-5-2 7 0 3 6z"/>
<path fill="#0ded2b" d="M653 252l9 1 13-8-8-1z"/>
<path fill="#0ded5c" d="M616 264l9-1 14-5-9 1z"/>
<path fill="#25ed0d" d="M689 238l8 2 12-8-7-3z"/>
<path fill="#dfed0d" d="M886 185l-1 11 4-3 0-10z"/>
<path fill="#eda90d" d="M858 164l2 8 6-7-2-8z"/>
<path fill="#0ded83" d="M578 274l9-3 15-3-9 4z"/>
<path fill="#0ded95" d="M480 272l8-1 15 2-8 3z"/>
<path fill="#39ed0d" d="M271 210l0-7 9 8 0 10z"/>
<path fill="#ede10d" d="M882 179l0 10 4-4 0-10z"/>
<path fill="#edaf0d" d="M866 165l1 10 5-6-1-9z"/>
<path fill="#0ded80" d="M423 263l7-8 14 11-7 0z"/>
<path fill="#2eed0d" d="M229 214l-3-5 6 2 3 6z"/>
<path fill="#edcc0d" d="M877 173l1 10 4-4 0-10z"/>
<path fill="#edbb0d" d="M872 169l1 9 4-5 0-10z"/>
<path fill="#0ded98" d="M540 277l9-2 15 0-9 4z"/>
<path fill="#0ded38" d="M355 237l5-4 12 8-5 14z"/>
<path fill="#d9ed0d" d="M797 190l5 6 9-10-5-5z"/>
<path fill="#36ed0d" d="M280 211l1-6 9 9-1 8z"/>
<path fill="#edc80d" d="M832 174l3 7 8-9-4-7z"/>
<path fill="#3ced0d" d="M232 211l-3-6 7 2 2 7z"/>
<path fill="#a8ed0d" d="M770 204l6 5 11-10-6-5z"/>
<path class="e" d="M222 249L228 245"/>
<path fill="#31ed0d" d="M290 214l1-6 10 8-1 8z"/>
<path fill="#48ed0d" d="M236 207l-3-6 7 4 2 7z"/>
<path fill="#74ed0d" d="M741 218l7 5 11-10-6-4z"/>
<path fill="#0ded41" d="M372 241l6-3 13 8-6 11z"/>
<path fill="#edbf0d" d="M843 172l2 8 7-8-2-8z"/>
<path fill="#0ded82" d="M444 266l8-6 14 9-8 0z"/>
<path fill="#0ded92" d="M503 273l8 0 15 2-9 1z"/>
<path fill="#40ed0d" d="M709 232l8 4 12-9-7-4z"/>
<path fill="#ebed0d" d="M811 186l4 7 9-10-4-6z"/>
<path fill="#52ed0d" d="M240 205l-3-7 7 5 2 8z"/>
<path fill="#0ded0d" d="M675 245l8 3 14-8-8-2z"/>
<path fill="#a3ed0d" d="M889 204l-1 11 3-2 1-11z"/>
<path fill="#2aed0d" d="M301 216l2-5 11 9-2 7z"/>
<path fill="#0ded3d" d="M639 258l9 1 14-6-9-1z"/>
<path fill="#0ded67" d="M602 268l9 0 14-5-9 1z"/>
<path fill="#edbd0d" d="M852 172l2 8 6-8-2-8z"/>
<path fill="#c2ed0d" d="M885 196l0 10 4-2 0-11z"/>
<path fill="#5aed0d" d="M244 203l-2-7 8 6 1 7z"/>
<path fill="#0ded84" d="M564 275l9-1 14-3-9 3z"/>
<path class="e" d="M884 279L886 274"/>
<path fill="#bced0d" d="M787 199l5 7 10-10-5-6z"/>
<path fill="#22ed0d" d="M314 220l3-5 11 9-3 6z"/>
<path fill="#0ded4a" d="M391 246l5-3 14 7-6 10z"/>
<path fill="#edc00d" d="M860 172l2 9 5-6-1-10z"/>
<path fill="#dced0d" d="M882 189l0 10 3-3 1-11z"/>
<path fill="#ede80d" d="M878 183l0 10 4-4 0-10z"/>
<path fill="#edc80d" d="M867 175l1 9 5-6-1-9z"/>
<path fill="#ede20d" d="M824 183l3 7 8-9-3-7z"/>
<path fill="#60ed0d" d="M250 202l-2-7 8 6 1 8z"/>
<path fill="#edd60d" d="M873 178l1 10 4-5-1-10z"/>
<path fill="#0ded84" d="M466 269l8-5 14 7-8 1z"/>
<path fill="#8bed0d" d="M759 213l7 6 10-10-6-5z"/>
<path fill="#0ded8c" d="M526 275l8 0 15 0-9 2z"/>
<path fill="#62ed0d" d="M256 201l-1-6 8 7 1 7z"/>
<path fill="#19ed0d" d="M328 224l3-4 12 8-4 5z"/>
<path fill="#58ed0d" d="M729 227l7 5 12-9-7-5z"/>
<path fill="#0ded53" d="M410 250l6-2 14 7-7 8z"/>
<path fill="#26ed0d" d="M697 240l7 5 13-9-8-4z"/>
<path fill="#edd80d" d="M835 181l3 8 7-9-2-8z"/>
<path fill="#3ded0d" d="M222 214l-2-6 6 1 3 5z"/>
<path fill="#ceed0d" d="M802 196l4 6 9-9-4-7z"/>
<path fill="#62ed0d" d="M263 202l0-6 8 7 0 7z"/>
<path fill="#0ded23" d="M662 253l8 3 13-8-8-3z"/>
<path fill="#0ded4e" d="M625 263l8 3 15-7-9-1z"/>
<path fill="#0eed0d" d="M343 228l4-3 13 8-5 4z"/>
<path fill="#4fed0d" d="M226 209l-3-6 6 2 3 6z"/>
<path fill="#86ed0d" d="M888 215l0 11 1-7 2-6z"/>
<path fill="#5fed0d" d="M271 203l1-5 9 7-1 6z"/>
<path fill="#0ded6f" d="M587 271l9 2 15-5-9 0z"/>
<path fill="#edd30d" d="M845 180l3 8 6-8-2-8z"/>
<path fill="#0ded83" d="M488 271l8-2 15 4-8 0z"/>
<path fill="#9fed0d" d="M776 209l6 7 10-10-5-7z"/>
<path fill="#a4ed0d" d="M885 206l0 11 3-2 1-11z"/>
<path fill="#0ded5b" d="M430 255l7-1 15 6-8 6z"/>
<path fill="#5fed0d" d="M229 205l-2-6 6 2 3 6z"/>
<path fill="#dded0d" d="M815 193l4 7 8-10-3-7z"/>
<path fill="#edd30d" d="M854 180l2 9 6-8-2-9z"/>
<path fill="#0ded83" d="M549 275l9 1 15-2-9 1z"/>
<path fill="#5aed0d" d="M281 205l1-5 9 8-1 6z"/>
<path fill="#6eed0d" d="M748 223l6 6 12-10-7-6z"/>
<path fill="#bfed0d" d="M882 199l0 11 3-4 0-10z"/>
<path fill="#0ded17" d="M360 233l5-2 13 7-6 3z"/>
<path fill="#edd80d" d="M862 181l1 10 5-7-1-9z"/>
<path fill="#d6ed0d" d="M878 193l0 11 4-5 0-10z"/>
<path fill="#ede30d" d="M868 184l1 10 5-6-1-10z"/>
<path fill="#e9ed0d" d="M874 188l0 11 4-6 0-10z"/>
<path fill="#3ded0d" d="M717 236l7 5 12-9-7-5z"/>
<path fill="#6ced0d" d="M233 201l-2-6 6 3 3 7z"/>
<path class="e" d="M216 253L222 249"/>
<path fill="#53ed0d" d="M291 208l2-4 10 7-2 5z"/>
<path fill="#0eed0d" d="M683 248l8 5 13-8-7-5z"/>
<path fill="#b1ed0d" d="M792 206l5 7 9-11-4-6z"/>
<path fill="#e8ed0d" d="M827 190l4 8 7-9-3-8z"/>
<path fill="#0ded81" d="M511 273l8 0 15 2-8 0z"/>
<path fill="#76ed0d" d="M237 198l-2-6 7 4 2 7z"/>
<path fill="#0ded37" d="M648 259l8 4 14-7-8-3z"/>
<path fill="#0ded23" d="M378 238l5-2 13 7-5 3z"/>
<path fill="#0ded64" d="M452 260l7 0 15 4-8 5z"/>
<path fill="#4aed0d" d="M303 211l3-3 11 7-3 5z"/>
<path fill="#0ded5c" d="M611 268l8 4 14-6-8-3z"/>
<path fill="#7eed0d" d="M242 196l-1-6 7 5 2 7z"/>
<path fill="#81ed0d" d="M766 219l5 7 11-10-6-7z"/>
<path fill="#edeb0d" d="M838 189l3 8 7-9-3-8z"/>
<path fill="#0ded76" d="M573 274l8 3 15-4-9-2z"/>
<path class="e" d="M881 283L884 279"/>
<path fill="#3fed0d" d="M317 215l3-2 11 7-3 4z"/>
<path fill="#c0ed0d" d="M806 202l5 8 8-10-4-7z"/>
<path fill="#83ed0d" d="M248 195l-1-6 8 6 1 6z"/>
<path fill="#51ed0d" d="M736 232l7 7 11-10-6-6z"/>
<path fill="#47ed0d" d="M218 211l-5-1 7-2 2 6z"/>
<path fill="#0ded2f" d="M396 243l7 0 13 5-6 2z"/>
<path class="m" d="M879 281l4-6 4 6z"/>
<path fill="#85ed0d" d="M885 217l-1 11 4-2 0-11z"/>
<path fill="#ede90d" d="M848 188l2 10 6-9-2-9z"/>
<path fill="#22ed0d" d="M704 245l8 6 12-10-7-5z"/>
<path fill="#0ded6b" d="M474 264l8 1 14 4-8 2z"/>
<path fill="#85ed0d" d="M255 195l-1-5 9 6 0 6z"/>
<path fill="#0ded7f" d="M534 275l9 2 15-1-9-1z"/>
<path fill="#a1ed0d" d="M882 210l-1 11 4-4 0-11z"/>
<path fill="#33ed0d" d="M331 220l4-2 12 7-4 3z"/>
<path fill="#edeb0d" d="M856 189l1 10 6-8-1-10z"/>
<path fill="#5ced0d" d="M220 208l-3-5 6 0 3 6z"/>
<path fill="#0ded23" d="M670 256l8 6 13-9-8-5z"/>
<path fill="#93ed0d" d="M782 216l5 7 10-10-5-7z"/>
<path fill="#b8ed0d" d="M878 204l0 11 4-5 0-11z"/>
<path fill="#e8ed0d" d="M863 191l1 11 5-8-1-10z"/>
<path fill="#cced0d" d="M819 200l4 8 8-10-4-8z"/>
<path fill="#cced0d" d="M874 199l0 11 4-6 0-11z"/>
<path fill="#dced0d" d="M869 194l0 11 5-6 0-11z"/>
<path fill="#83ed0d" d="M263 196l0-5 9 7-1 5z"/>
<path fill="#0ded4a" d="M633 266l9 5 14-8-8-4z"/>
<path fill="#0ded3c" d="M416 248l7 1 14 5-7 1z"/>
<path fill="#6fed0d" d="M223 203l-3-5 7 1 2 6z"/>
<path fill="#26ed0d" d="M347 225l5-1 13 7-5 2z"/>
<path fill="#0ded69" d="M596 273l8 6 15-7-8-4z"/>
<path fill="#64ed0d" d="M754 229l7 7 10-10-5-7z"/>
<path fill="#7fed0d" d="M272 198l0-5 10 7-1 5z"/>
<path fill="#0ded71" d="M496 269l9 2 14 2-8 0z"/>
<path fill="#d5ed0d" d="M831 198l3 9 7-10-3-8z"/>
<path fill="#80ed0d" d="M227 199l-3-6 7 2 2 6z"/>
<path fill="#35ed0d" d="M724 241l7 8 12-10-7-7z"/>
<path fill="#a2ed0d" d="M797 213l4 8 10-11-5-8z"/>
<path fill="#77ed0d" d="M282 200l1-3 10 7-2 4z"/>
<path fill="#0ded7a" d="M558 276l8 2 15-1-8-3z"/>
<path fill="#0ded48" d="M437 254l8 1 14 5-7 0z"/>
<path fill="#18ed0d" d="M365 231l5 0 13 5-5 2z"/>
<path fill="#0ded11" d="M691 253l8 7 13-9-8-6z"/>
<path fill="#8ded0d" d="M231 195l-3-6 7 3 2 6z"/>
<path fill="#d9ed0d" d="M841 197l2 10 7-9-2-10z"/>
<path fill="#6ded0d" d="M293 204l2-3 11 7-3 3z"/>
<path fill="#69ed0d" d="M884 228l0 12 2-7 2-7z"/>
<path fill="#0ded3a" d="M656 263l8 7 14-8-8-6z"/>
<path fill="#74ed0d" d="M771 226l6 8 10-11-5-7z"/>
<path class="e" d="M209 258L216 253"/>
<path fill="#98ed0d" d="M235 192l-2-5 8 3 1 6z"/>
<path fill="#d9ed0d" d="M850 198l1 10 6-9-1-10z"/>
<path fill="#aeed0d" d="M811 210l3 9 9-11-4-8z"/>
<path fill="#83ed0d" d="M881 221l0 12 3-5 1-11z"/>
<path fill="#0ded5d" d="M619 272l8 9 15-10-9-5z"/>
<path fill="#0ded76" d="M519 273l9 3 15 1-9-2z"/>
<path fill="#0ded11" d="M383 236l6 1 14 6-7 0z"/>
<path fill="#62ed0d" d="M306 208l3-2 11 7-3 2z"/>
<path fill="#d4ed0d" d="M857 199l2 11 5-8-1-11z"/>
<path fill="#9aed0d" d="M878 215l0 11 3-5 1-11z"/>
<path fill="#0ded54" d="M459 260l8 2 15 3-8-1z"/>
<path fill="#45ed0d" d="M743 239l6 8 12-11-7-7z"/>
<path fill="#aeed0d" d="M874 210l0 11 4-6 0-11z"/>
<path fill="#9fed0d" d="M241 190l-2-5 8 4 1 6z"/>
<path fill="#cbed0d" d="M864 202l1 11 4-8 0-11z"/>
<path fill="#beed0d" d="M869 205l1 12 4-7 0-11z"/>
<path fill="#0ded75" d="M581 277l9 3 14-1-8-6z"/>
<path fill="#64ed0d" d="M213 210l-3-6 7-1 3 5z"/>
<path fill="#b8ed0d" d="M823 208l3 10 8-11-3-9z"/>
<path fill="#18ed0d" d="M712 251l7 8 12-10-7-8z"/>
<path fill="#54ed0d" d="M320 213l3-1 12 6-4 2z"/>
<path fill="#a3ed0d" d="M247 189l-1-4 8 5 1 5z"/>
<path fill="#82ed0d" d="M787 223l5 9 9-11-4-8z"/>
<path class="e" d="M879 287L881 283"/>
<path fill="#0ded20" d="M403 243l6 1 14 5-7-1z"/>
<path fill="#0ded2c" d="M678 262l7 8 14-10-8-7z"/>
<path fill="#7bed0d" d="M217 203l-3-5 6 0 3 5z"/>
<path fill="#a3ed0d" d="M254 190l0-5 9 6 0 5z"/>
<path fill="#0ded60" d="M482 265l8 4 15 2-9-2z"/>
<path fill="#0ded76" d="M543 277l8 2 15-1-8-2z"/>
<path fill="#beed0d" d="M834 207l2 11 7-11-2-10z"/>
<path fill="#46ed0d" d="M335 218l4 0 13 6-5 1z"/>
<path fill="#0ded52" d="M642 271l8 11 14-12-8-7z"/>
<path fill="#54ed0d" d="M761 236l5 9 11-11-6-8z"/>
<path fill="#a0ed0d" d="M263 191l0-4 9 6 0 5z"/>
<path fill="#8fed0d" d="M801 221l5 9 8-11-3-9z"/>
<path fill="#8fed0d" d="M220 198l-2-6 6 1 3 6z"/>
<path fill="#0ded30" d="M423 249l7 2 15 4-8-1z"/>
<path fill="#0ded71" d="M604 279l9 3 14-1-8-9z"/>
<path fill="#c0ed0d" d="M843 207l2 11 6-10-1-10z"/>
<path fill="#27ed0d" d="M731 249l6 9 12-11-6-8z"/>
<path fill="#36ed0d" d="M352 224l5 1 13 6-5 0z"/>
<path fill="#99ed0d" d="M272 193l1-2 10 6-1 3z"/>
<path fill="#64ed0d" d="M881 233l-1 11 4-4 0-12z"/>
<path fill="#beed0d" d="M851 208l2 11 6-9-2-11z"/>
<path fill="#a0ed0d" d="M224 193l-2-5 6 1 3 6z"/>
<path fill="#0ded6a" d="M505 271l8 4 15 1-9-3z"/>
<path fill="#7bed0d" d="M878 226l-1 12 4-5 0-12z"/>
<path fill="#0ded1f" d="M699 260l7 10 13-11-7-8z"/>
<path fill="#b7ed0d" d="M859 210l0 11 6-8-1-11z"/>
<path fill="#62ed0d" d="M777 234l5 10 10-12-5-9z"/>
<path fill="#8fed0d" d="M874 221l0 12 4-7 0-11z"/>
<path fill="#99ed0d" d="M814 219l4 10 8-11-3-10z"/>
<path fill="#8fed0d" d="M283 197l2-2 10 6-2 3z"/>
<path fill="#aded0d" d="M865 213l0 11 5-7-1-12z"/>
<path fill="#a0ed0d" d="M870 217l0 11 4-7 0-11z"/>
<path fill="#0ded74" d="M566 278l9 4 15-2-9-3z"/>
<path fill="#0ded3f" d="M445 255l7 4 15 3-8-2z"/>
<path fill="#0ded48" d="M664 270l7 14 14-14-7-8z"/>
<path fill="#25ed0d" d="M370 231l5 1 14 5-6-1z"/>
<path fill="#aded0d" d="M228 189l-2-5 7 3 2 5z"/>
<path fill="#83ed0d" d="M295 201l3-1 11 6-3 2z"/>
<path fill="#0ded6d" d="M627 281l9 4 14-3-8-11z"/>
<path fill="#34ed0d" d="M749 247l6 10 11-12-5-9z"/>
<path fill="#a0ed0d" d="M826 218l3 11 7-11-2-11z"/>
<path fill="#b7ed0d" d="M233 187l-1-6 7 4 2 5z"/>
<path fill="#69ed0d" d="M209 208l-5-1 6-3 3 6z"/>
<path class="e" d="M203 262L209 258"/>
<path fill="#6eed0d" d="M792 232l4 10 10-12-5-9z"/>
<path fill="#0ded72" d="M528 276l8 5 15-2-8-2z"/>
<path fill="#14ed0d" d="M389 237l6 2 14 5-6-1z"/>
<path fill="#74ed0d" d="M309 206l3 0 11 6-3 1z"/>
<path fill="#0ded13" d="M719 259l6 11 12-12-6-9z"/>
<path fill="#0ded4e" d="M467 262l8 4 15 3-8-4z"/>
<path fill="#beed0d" d="M239 185l-1-5 8 5 1 4z"/>
<path fill="#a3ed0d" d="M836 218l2 11 7-11-2-11z"/>
<path fill="#83ed0d" d="M210 204l-2-5 6-1 3 5z"/>
<path fill="#0ded72" d="M590 280l8 4 15-2-9-3z"/>
<path fill="#0ded40" d="M685 270l7 16 14-16-7-10z"/>
<path fill="#64ed0d" d="M323 212l4 0 12 6-4 0z"/>
<path fill="#c0ed0d" d="M246 185l-1-5 9 5 0 5z"/>
<path fill="#40ed0d" d="M766 245l5 11 11-12-5-10z"/>
<path fill="#a3ed0d" d="M845 218l2 12 6-11-2-11z"/>
<path fill="#77ed0d" d="M806 230l3 11 9-12-4-10z"/>
<path fill="#0ded18" d="M409 244l7 3 14 4-7-2z"/>
<path fill="#0ded6b" d="M650 282l8 5 13-3-7-14z"/>
<path fill="#47ed0d" d="M880 244l0 12 2-9 2-7z"/>
<path fill="#9aed0d" d="M214 198l-3-6 7 0 2 6z"/>
<path fill="#a0ed0d" d="M853 219l1 12 5-10 0-11z"/>
<path class="e" d="M877 292L879 287"/>
<path fill="#5ced0d" d="M877 238l-1 12 4-6 1-11z"/>
<path fill="#beed0d" d="M254 185l0-3 9 5 0 4z"/>
<path fill="#0ded5d" d="M490 269l8 4 15 2-8-4z"/>
<path fill="#98ed0d" d="M859 221l1 13 5-10 0-11z"/>
<path fill="#70ed0d" d="M874 233l-1 12 4-7 1-12z"/>
<path fill="#0ded71" d="M551 279l9 4 15-1-9-4z"/>
<path fill="#53ed0d" d="M339 218l5 1 13 6-5-1z"/>
<path fill="#12ed0d" d="M737 258l6 12 12-13-6-10z"/>
<path fill="#80ed0d" d="M870 228l-1 13 5-8 0-12z"/>
<path fill="#8ded0d" d="M865 224l0 13 5-9 0-11z"/>
<path fill="#b8ed0d" d="M263 187l1-2 9 6-1 2z"/>
<path fill="#aeed0d" d="M218 192l-3-5 7 1 2 5z"/>
<path fill="#7fed0d" d="M818 229l3 12 8-12-3-11z"/>
<path fill="#0ded71" d="M613 282l9 5 14-2-9-4z"/>
<path fill="#4aed0d" d="M782 244l4 11 10-13-4-10z"/>
<path fill="#0ded38" d="M706 270l6 18 13-18-6-11z"/>
<path fill="#0ded2a" d="M430 251l7 4 15 4-7-4z"/>
<path class="m" d="M201 262l4-6 4 6z"/>
<path fill="#41ed0d" d="M357 225l5 1 13 6-5-1z"/>
<path fill="#aeed0d" d="M273 191l1-2 11 6-2 2z"/>
<path fill="#0ded69" d="M671 284l8 5 13-3-7-16z"/>
<path fill="#beed0d" d="M222 188l-3-6 7 2 2 5z"/>
<path fill="#84ed0d" d="M829 229l2 12 7-12-2-11z"/>
<path fill="#0ded6a" d="M513 275l8 5 15 1-8-5z"/>
<path fill="#1bed0d" d="M755 257l5 13 11-14-5-11z"/>
<path fill="#a2ed0d" d="M285 195l2-1 11 6-3 1z"/>
<path fill="#0ded71" d="M575 282l9 4 14-2-8-4z"/>
<path fill="#54ed0d" d="M796 242l4 13 9-14-3-11z"/>
<path fill="#cbed0d" d="M226 184l-2-5 8 2 1 6z"/>
<path fill="#0ded3c" d="M452 259l8 4 15 3-8-4z"/>
<path fill="#2eed0d" d="M375 232l6 2 14 5-6-2z"/>
<path fill="#85ed0d" d="M838 229l2 12 7-11-2-12z"/>
<path fill="#0ded31" d="M725 270l6 20 12-20-6-12z"/>
<path fill="#0ded71" d="M636 285l8 5 14-3-8-5z"/>
<path fill="#93ed0d" d="M298 200l2-1 12 7-3 0z"/>
<path fill="#85ed0d" d="M204 207l-3-6 7-2 2 5z"/>
<path fill="#83ed0d" d="M847 230l1 13 6-12-1-12z"/>
<path fill="#d5ed0d" d="M232 181l-2-4 8 3 1 5z"/>
<path fill="#0ded67" d="M692 286l8 6 12-4-6-18z"/>
<path fill="#7fed0d" d="M854 231l0 13 6-10-1-13z"/>
<path fill="#3ded0d" d="M876 250l0 12 4-6 0-12z"/>
<path fill="#5bed0d" d="M809 241l3 13 9-13-3-12z"/>
<path fill="#24ed0d" d="M771 256l5 14 10-15-4-11z"/>
<path fill="#19ed0d" d="M395 239l7 4 14 4-7-3z"/>
<path fill="#0ded70" d="M536 281l9 4 15-2-9-4z"/>
<path fill="#83ed0d" d="M312 206l3 0 12 6-4 0z"/>
<path fill="#4fed0d" d="M873 245l0 12 3-7 1-12z"/>
<path fill="#77ed0d" d="M860 234l0 13 5-10 0-13z"/>
<path fill="#5fed0d" d="M869 241l0 12 4-8 1-12z"/>
<path fill="#6ced0d" d="M865 237l0 13 4-9 1-13z"/>
<path fill="#0ded4e" d="M475 266l8 5 15 2-8-4z"/>
<path fill="#d9ed0d" d="M238 180l-1-4 8 4 1 5z"/>
<path fill="#a1ed0d" d="M208 199l-3-6 6-1 3 6z"/>
<path class="e" d="M196 266L203 262"/>
<path fill="#0ded71" d="M598 284l9 5 15-2-9-5z"/>
<path fill="#0ded2b" d="M743 270l6 22 11-22-5-13z"/>
<path fill="#d9ed0d" d="M245 180l0-3 9 5 0 3z"/>
<path fill="#60ed0d" d="M821 241l2 13 8-13-2-12z"/>
<path fill="#70ed0d" d="M327 212l4 1 13 6-5-1z"/>
<path fill="#0ded71" d="M658 287l8 6 13-4-8-5z"/>
<path fill="#0ded15" d="M416 247l7 4 14 4-7-4z"/>
<path fill="#b8ed0d" d="M211 192l-2-5 6 0 3 5z"/>
<path fill="#0ded66" d="M712 288l7 6 12-4-6-20z"/>
<path fill="#2ced0d" d="M786 255l5 15 9-15-4-13z"/>
<path fill="#d5ed0d" d="M254 182l0-3 10 6-1 2z"/>
<path fill="#0ded5f" d="M498 273l8 6 15 1-8-5z"/>
<path fill="#63ed0d" d="M831 241l2 14 7-14-2-12z"/>
<path fill="#5ded0d" d="M344 219l5 2 13 5-5-1z"/>
<path fill="#0ded6f" d="M560 283l9 5 15-2-9-4z"/>
<path class="e" d="M874 296L877 292"/>
<path fill="#0ded25" d="M760 270l5 24 11-24-5-14z"/>
<path fill="#cced0d" d="M215 187l-2-6 6 1 3 6z"/>
<path fill="#cced0d" d="M264 185l1-2 9 6-1 2z"/>
<path fill="#63ed0d" d="M840 241l1 15 7-13-1-13z"/>
<path fill="#0ded72" d="M622 287l8 5 14-2-8-5z"/>
<path fill="#32ed0d" d="M800 255l4 15 8-16-3-13z"/>
<path fill="#0ded2a" d="M437 255l8 5 15 3-8-4z"/>
<path fill="#0ded72" d="M679 289l8 7 13-4-8-6z"/>
<path fill="#0ded65" d="M731 290l6 7 12-5-6-22z"/>
<path fill="#c0ed0d" d="M274 189l2-2 11 7-2 1z"/>
<path fill="#48ed0d" d="M362 226l6 3 13 5-6-2z"/>
<path fill="#60ed0d" d="M848 243l1 14 5-13 0-13z"/>
<path fill="#dced0d" d="M219 182l-2-5 7 2 2 5z"/>
<path fill="#86ed0d" d="M200 206l-5-1 6-4 3 6z"/>
<path fill="#5aed0d" d="M854 244l1 15 5-12 0-13z"/>
<path fill="#0ded6d" d="M521 280l9 6 15-1-9-4z"/>
<path fill="#1fed0d" d="M876 262l-1 12 2-10 3-8z"/>
<path fill="#52ed0d" d="M860 247l0 14 5-11 0-13z"/>
<path fill="#2eed0d" d="M873 257l-1 13 4-8 0-12z"/>
<path fill="#0ded20" d="M776 270l4 25 11-25-5-15z"/>
<path fill="#b2ed0d" d="M287 194l2-1 11 6-2 1z"/>
<path fill="#37ed0d" d="M812 254l3 16 8-16-2-13z"/>
<path fill="#48ed0d" d="M865 250l-1 14 5-11 0-12z"/>
<path fill="#3ced0d" d="M869 253l-1 14 5-10 0-12z"/>
<path fill="#e8ed0d" d="M224 179l-1-5 7 3 2 4z"/>
<path fill="#0ded3e" d="M460 263l8 6 15 2-8-5z"/>
<path fill="#0ded70" d="M584 286l8 5 15-2-9-5z"/>
<path fill="#32ed0d" d="M381 234l7 4 14 5-7-4z"/>
<path fill="#0ded64" d="M749 292l5 7 11-5-5-24z"/>
<path fill="#a4ed0d" d="M201 201l-2-6 6-2 3 6z"/>
<path fill="#0ded73" d="M644 290l8 5 14-2-8-6z"/>
<path fill="#0ded73" d="M700 292l7 7 12-5-7-6z"/>
<path fill="#a0ed0d" d="M300 199l4 1 11 6-3 0z"/>
<path fill="#3aed0d" d="M823 254l2 17 8-16-2-14z"/>
<path fill="#edeb0d" d="M230 177l-1-4 8 3 1 4z"/>
<path fill="#0ded1b" d="M791 270l2 27 11-27-4-15z"/>
<path fill="#1bed0d" d="M402 243l6 4 15 4-7-4z"/>
<path fill="#8ded0d" d="M315 206l4 1 12 6-4-1z"/>
<path fill="#0ded6e" d="M545 285l9 4 15-1-9-5z"/>
<path fill="#3bed0d" d="M833 255l1 17 7-16-1-15z"/>
<path fill="#0ded52" d="M483 271l8 6 15 2-8-6z"/>
<path fill="#ede90d" d="M237 176l0-3 8 4 0 3z"/>
<path fill="#bfed0d" d="M205 193l-3-5 7-1 2 5z"/>
<path fill="#0ded64" d="M765 294l5 7 10-6-4-25z"/>
<path fill="#0ded72" d="M607 289l9 5 14-2-8-5z"/>
<path fill="#0ded74" d="M719 294l7 8 11-5-6-7z"/>
<path fill="#0ded18" d="M804 270l2 28 9-28-3-16z"/>
<path fill="#3aed0d" d="M841 256l1 17 7-16-1-14z"/>
<path fill="#edeb0d" d="M245 177l0-3 9 5 0 3z"/>
<path fill="#78ed0d" d="M331 213l5 2 13 6-5-2z"/>
<path fill="#0ded75" d="M666 293l8 6 13-3-8-7z"/>
<path class="e" d="M190 270L196 266"/>
<path fill="#d6ed0d" d="M209 187l-3-5 7-1 2 6z"/>
<path fill="#0ded15" d="M423 251l7 5 15 4-8-5z"/>
<path fill="#37ed0d" d="M849 257l0 17 6-15-1-15z"/>
<path fill="#e9ed0d" d="M254 179l1-2 10 6-1 2z"/>
<path fill="#32ed0d" d="M855 259l0 17 5-15 0-14z"/>
<path fill="#0ded63" d="M780 295l4 8 9-6-2-27z"/>
<path fill="#0ded65" d="M506 279l9 7 15 0-9-6z"/>
<path fill="#0ded15" d="M815 270l2 29 8-28-2-17z"/>
<path fill="#2bed0d" d="M860 261l0 16 4-13 1-14z"/>
<path fill="#62ed0d" d="M349 221l5 3 14 5-6-3z"/>
<path fill="#0ded0e" d="M872 270l-1 14 4-10 1-12z"/>
<path fill="#22ed0d" d="M864 264l0 15 4-12 1-14z"/>
<path fill="#18ed0d" d="M868 267l0 15 4-12 1-13z"/>
<path fill="#e9ed0d" d="M213 181l-2-5 6 1 2 5z"/>
<path fill="#0ded75" d="M737 297l6 8 11-6-5-7z"/>
<path fill="#0ded6f" d="M569 288l9 4 14-1-8-5z"/>
<path fill="#dded0d" d="M265 183l1-1 10 5-2 2z"/>
<path fill="#0ded2d" d="M445 260l8 6 15 3-8-6z"/>
<path fill="#0ded75" d="M630 292l8 6 14-3-8-5z"/>
<path fill="#0ded78" d="M687 296l7 7 13-4-7-7z"/>
<path fill="#0ded14" d="M825 271l1 29 8-28-1-17z"/>
<path fill="#0ded63" d="M793 297l4 8 9-7-2-28z"/>
<path class="e" d="M872 300L874 296"/>
<path fill="#cfed0d" d="M276 187l2 0 11 6-2 1z"/>
<path fill="#4bed0d" d="M368 229l6 4 14 5-7-4z"/>
<path fill="#a3ed0d" d="M195 205l-3-6 7-4 2 6z"/>
<path fill="#ede20d" d="M217 177l-1-5 7 2 1 5z"/>
<path fill="#0ded14" d="M834 272l1 29 7-28-1-17z"/>
<path fill="#0ded77" d="M754 299l6 8 10-6-5-7z"/>
<path fill="#0ded6d" d="M530 286l9 5 15-2-9-4z"/>
<path fill="#bded0d" d="M289 193l3 1 12 6-4-1z"/>
<path fill="#0ded63" d="M806 298l3 8 8-7-2-29z"/>
<path fill="#edd80d" d="M223 174l-1-4 7 3 1 4z"/>
<path fill="#0ded15" d="M842 273l0 29 7-28 0-17z"/>
<path fill="#0ded43" d="M468 269l8 6 15 2-8-6z"/>
<path fill="#32ed0d" d="M388 238l6 4 14 5-6-4z"/>
<path fill="#0ded72" d="M592 291l9 5 15-2-9-5z"/>
<path fill="#0ded7b" d="M707 299l7 7 12-4-7-8z"/>
<path fill="#c2ed0d" d="M199 195l-3-5 6-2 3 5z"/>
<path fill="#0ded78" d="M652 295l8 7 14-3-8-6z"/>
<path fill="#aaed0d" d="M304 200l3 1 12 6-4-1z"/>
<path fill="#0ded18" d="M849 274l-1 29 7-27 0-17z"/>
<path fill="#edd30d" d="M229 173l0-4 8 4 0 3z"/>
<path fill="#0ded62" d="M817 299l2 9 7-8-1-29z"/>
<path fill="#0ded1c" d="M855 276l-1 27 6-26 0-16z"/>
<path fill="#0ded79" d="M770 301l5 9 9-7-4-8z"/>
<path fill="#0ded21" d="M860 277l-2 27 6-25 0-15z"/>
<path fill="#0ded26" d="M864 279l-2 25 6-22 0-15z"/>
<path fill="#19ed0d" d="M408 247l8 5 14 4-7-5z"/>
<path fill="#94ed0d" d="M319 207l5 2 12 6-5-2z"/>
<path fill="#0ded2d" d="M868 282l-2 23 5-21 1-14z"/>
<path fill="#dced0d" d="M202 188l-2-5 6-1 3 5z"/>
<path fill="#0ded59" d="M491 277l8 7 16 2-9-7z"/>
<path fill="#0ded35" d="M871 284l-1 21 3-19 2-12z"/>
<path fill="#edd20d" d="M237 173l0-3 8 4 0 3z"/>
<path fill="#0ded62" d="M826 300l2 9 7-8-1-29z"/>
<path fill="#0ded6e" d="M554 289l9 5 15-2-9-4z"/>
<path fill="#0ded7f" d="M726 302l6 8 11-5-6-8z"/>
<path fill="#0ded7a" d="M784 303l4 10 9-8-4-8z"/>
<path fill="#0ded75" d="M616 294l8 6 14-2-8-6z"/>
<path fill="#0ded7d" d="M674 299l7 7 13-3-7-7z"/>
<path fill="#edd80d" d="M245 174l1-2 9 5-1 2z"/>
<path fill="#7ded0d" d="M336 215l5 3 13 6-5-3z"/>
<path fill="#0ded62" d="M835 301l1 9 6-8 0-29z"/>
<path fill="#ede80d" d="M206 182l-2-6 7 0 2 5z"/>
<path fill="#0ded1a" d="M430 256l8 6 15 4-8-6z"/>
<path fill="#0ded63" d="M842 302l1 8 5-7 1-29z"/>
<path fill="#ede10d" d="M255 177l1-1 10 6-1 1z"/>
<path fill="#a0ed0d" d="M191 204l-5-1 6-4 3 6z"/>
<path fill="#0ded7b" d="M797 305l4 10 8-9-3-8z"/>
<path fill="#0ded6c" d="M515 286l8 7 16-2-9-5z"/>
<path fill="#0ded82" d="M743 305l6 9 11-7-6-8z"/>
<path fill="#64ed0d" d="M354 224l6 4 14 5-6-4z"/>
<path class="e" d="M183 275L190 270"/>
<path fill="#0ded63" d="M848 303l1 7 5-7 1-27z"/>
<path fill="#edd60d" d="M211 176l-2-4 7 0 1 5z"/>
<path fill="#ebed0d" d="M266 182l2 0 10 5-2 0z"/>
<path fill="#0ded63" d="M854 303l0 8 4-7 2-27z"/>
<path fill="#0ded71" d="M578 292l8 5 15-1-9-5z"/>
<path fill="#0ded82" d="M694 303l7 7 13-4-7-7z"/>
<path fill="#0ded33" d="M453 266l8 6 15 3-8-6z"/>
<path fill="#0ded7c" d="M809 306l3 10 7-8-2-9z"/>
<path fill="#0ded7a" d="M638 298l9 6 13-2-8-7z"/>
<path fill="#0ded64" d="M858 304l0 7 4-7 2-25z"/>
<path fill="#daed0d" d="M278 187l3 1 11 6-3-1z"/>
<path fill="#4aed0d" d="M374 233l6 4 14 5-6-4z"/>
<path fill="#c1ed0d" d="M192 199l-2-6 6-3 3 5z"/>
<path fill="#0ded86" d="M760 307l5 10 10-7-5-9z"/>
<path fill="#edc80d" d="M216 172l-2-4 8 2 1 4z"/>
<path fill="#0ded64" d="M862 304l0 6 4-5 2-23z"/>
<path fill="#0ded65" d="M866 305l0 5 4-5 1-21z"/>
<path fill="#0ded7d" d="M819 308l2 10 7-9-2-9z"/>
<path fill="#c6ed0d" d="M292 194l3 1 12 6-3-1z"/>
<path class="e" d="M870 305L872 300"/>
<path fill="#0ded6d" d="M539 291l8 5 16-2-9-5z"/>
<path fill="#edbf0d" d="M222 170l-1-4 8 3 0 4z"/>
<path fill="#0ded4b" d="M476 275l8 7 15 2-8-7z"/>
<path fill="#0ded87" d="M714 306l6 9 12-5-6-8z"/>
<path fill="#30ed0d" d="M394 242l7 5 15 5-8-5z"/>
<path fill="#e0ed0d" d="M196 190l-3-6 7-1 2 5z"/>
<path fill="#0ded7d" d="M828 309l2 10 6-9-1-9z"/>
<path fill="#0ded89" d="M775 310l4 10 9-7-4-10z"/>
<path fill="#0ded75" d="M601 296l9 6 14-2-8-6z"/>
<path fill="#b0ed0d" d="M307 201l4 3 13 5-5-2z"/>
<path fill="#0ded80" d="M660 302l8 7 13-3-7-7z"/>
<path fill="#edbd0d" d="M229 169l-1-3 9 4 0 3z"/>
<path fill="#0ded7c" d="M836 310l1 9 6-9-1-8z"/>
<path fill="#98ed0d" d="M324 209l4 3 13 6-5-3z"/>
<path fill="#15ed0d" d="M416 252l7 6 15 4-8-6z"/>
<path fill="#0ded8c" d="M788 313l4 10 9-8-4-10z"/>
<path fill="#0ded8d" d="M732 310l6 9 11-5-6-9z"/>
<path fill="#ede10d" d="M200 183l-3-6 7-1 2 6z"/>
<path fill="#0ded62" d="M499 284l9 7 15 2-8-7z"/>
<path fill="#edbf0d" d="M237 170l0-2 9 4-1 2z"/>
<path fill="#0ded7b" d="M843 310l1 9 5-9-1-7z"/>
<path fill="#0ded70" d="M563 294l8 5 15-2-8-5z"/>
<path fill="#0ded7a" d="M849 310l0 9 5-8 0-8z"/>
<path fill="#0ded87" d="M681 306l8 8 12-4-7-7z"/>
<path fill="#edc70d" d="M246 172l1-1 9 5-1 1z"/>
<path fill="#7eed0d" d="M341 218l6 4 13 6-6-4z"/>
<path fill="#0ded7b" d="M624 300l9 6 14-2-9-6z"/>
<path fill="#0ded8f" d="M801 315l3 10 8-9-3-10z"/>
<path fill="#edcc0d" d="M204 176l-2-5 7 1 2 4z"/>
<path fill="#0ded78" d="M854 311l0 7 4-7 0-7z"/>
<path fill="#0ded20" d="M438 262l8 6 15 4-8-6z"/>
<path fill="#0ded93" d="M749 314l6 9 10-6-5-10z"/>
<path fill="#edd40d" d="M256 176l2 0 10 6-2 0z"/>
<path fill="#bded0d" d="M186 203l-2-6 6-4 2 6z"/>
<path fill="#0ded76" d="M858 311l0 7 4-8 0-6z"/>
<path fill="#0ded90" d="M812 316l2 11 7-9-2-10z"/>
<path fill="#63ed0d" d="M360 228l6 4 14 5-6-4z"/>
<path fill="#0ded6d" d="M523 293l9 4 15-1-8-5z"/>
<path fill="#0ded75" d="M862 310l0 7 4-7 0-5z"/>
<path fill="#ede40d" d="M268 182l2 0 11 6-3-1z"/>
<path fill="#edbb0d" d="M209 172l-2-5 7 1 2 4z"/>
<path fill="#0ded8e" d="M701 310l7 9 12-4-6-9z"/>
<path fill="#0ded73" d="M866 310l0 6 2-6 2-5z"/>
<path fill="#0ded99" d="M765 317l5 10 9-7-4-10z"/>
<path fill="#0ded3b" d="M461 272l8 7 15 3-8-7z"/>
<path fill="#0ded91" d="M821 318l2 11 7-10-2-10z"/>
<path fill="#0ded74" d="M586 297l9 6 15-1-9-6z"/>
<path fill="#0ded82" d="M647 304l8 7 13-2-8-7z"/>
<path fill="#e2ed0d" d="M281 188l3 1 11 6-3-1z"/>
<path fill="#dfed0d" d="M190 193l-3-6 6-3 3 6z"/>
<path fill="#47ed0d" d="M380 237l7 6 14 4-7-5z"/>
<path class="e" d="M176 279L183 275"/>
<path fill="#edaf0d" d="M214 168l-1-4 8 2 1 4z"/>
<path fill="#0ded90" d="M830 319l1 10 6-10-1-9z"/>
<path fill="#cced0d" d="M295 195l4 3 12 6-4-3z"/>
<path fill="#0ded9e" d="M779 320l4 11 9-8-4-10z"/>
<path class="m" d="M866 306l4-6 4 6z"/>
<path fill="#0ded96" d="M720 315l7 9 11-5-6-9z"/>
<path fill="#eda90d" d="M221 166l-1-3 8 3 1 3z"/>
<path fill="#0ded55" d="M484 282l9 7 15 2-9-7z"/>
<path fill="#0ded8f" d="M837 319l1 10 6-10-1-9z"/>
<path fill="#2bed0d" d="M401 247l7 6 15 5-7-6z"/>
<path fill="#edde0d" d="M193 184l-2-5 6-2 3 6z"/>
<path fill="#0ded6e" d="M547 296l9 4 15-1-8-5z"/>
<path fill="#b3ed0d" d="M311 204l5 3 12 5-4-3z"/>
<path fill="#0ded8a" d="M668 309l8 8 13-3-8-8z"/>
<path fill="#0deda2" d="M792 323l4 11 8-9-3-10z"/>
<path fill="#0ded7a" d="M610 302l8 6 15-2-9-6z"/>
<path fill="#0ded8c" d="M844 319l0 10 5-10 0-9z"/>
<path fill="#eda90d" d="M228 166l0-2 9 4 0 2z"/>
<path class="e" d="M867 310L870 305"/>
<path fill="#0ded9f" d="M738 319l6 10 11-6-6-9z"/>
<path fill="#99ed0d" d="M328 212l6 4 13 6-6-4z"/>
<path fill="#0ded89" d="M849 319l0 9 5-10 0-7z"/>
<path fill="#0ded0d" d="M423 258l8 6 15 4-8-6z"/>
<path fill="#edc50d" d="M197 177l-2-5 7-1 2 5z"/>
<path fill="#b7ed0d" d="M182 202l-4 0 6-5 2 6z"/>
<path fill="#edaf0d" d="M237 168l0-2 10 5-1 1z"/>
<path fill="#0deda6" d="M804 325l3 12 7-10-2-11z"/>
<path fill="#0ded6b" d="M508 291l9 8 15-2-9-4z"/>
<path fill="#0ded85" d="M854 318l0 8 4-8 0-7z"/>
<path fill="#0ded94" d="M689 314l7 9 12-4-7-9z"/>
<path fill="#edba0d" d="M247 171l1 0 10 5-2 0z"/>
<path fill="#0deda7" d="M755 323l5 11 10-7-5-10z"/>
<path fill="#7ded0d" d="M347 222l6 5 13 5-6-4z"/>
<path fill="#0ded81" d="M858 318l0 7 4-8 0-7z"/>
<path fill="#0ded72" d="M571 299l9 5 15-1-9-6z"/>
<path fill="#0deda7" d="M814 327l2 12 7-10-2-11z"/>
<path fill="#0ded82" d="M633 306l8 7 14-2-8-7z"/>
<path fill="#edb10d" d="M202 171l-2-4 7 0 2 5z"/>
<path fill="#0ded29" d="M446 268l8 8 15 3-8-7z"/>
<path fill="#edc90d" d="M258 176l2 1 10 5-2 0z"/>
<path fill="#0ded7c" d="M862 317l0 6 4-7 0-6z"/>
<path fill="#dced0d" d="M184 197l-3-6 6-4 3 6z"/>
<path fill="#0deda7" d="M823 329l2 11 6-11-1-10z"/>
<path fill="#60ed0d" d="M366 232l7 5 14 6-7-6z"/>
<path fill="#0dedaf" d="M770 327l4 12 9-8-4-11z"/>
<path fill="#0ded9e" d="M708 319l7 10 12-5-7-9z"/>
<path fill="#eddc0d" d="M270 182l3 2 11 5-3-1z"/>
<path fill="#eda20d" d="M207 167l-1-4 7 1 1 4z"/>
<path fill="#0ded6d" d="M532 297l9 5 15-2-9-4z"/>
<path fill="#0deda5" d="M831 329l1 11 6-11-1-10z"/>
<path fill="#0ded46" d="M469 279l8 8 16 2-9-7z"/>
<path fill="#e8ed0d" d="M284 189l3 3 12 6-4-3z"/>
<path fill="#0ded8c" d="M655 311l8 8 13-2-8-8z"/>
<path fill="#0dedb5" d="M783 331l4 12 9-9-4-11z"/>
<path fill="#edde0d" d="M187 187l-2-6 6-2 2 5z"/>
<path fill="#42ed0d" d="M387 243l7 6 14 4-7-6z"/>
<path fill="#0ded79" d="M595 303l9 6 14-1-8-6z"/>
<path fill="#ed990d" d="M213 164l-1-3 8 2 1 3z"/>
<path fill="#0deda2" d="M838 329l1 10 5-10 0-10z"/>
<path fill="#0deda9" d="M727 324l6 10 11-5-6-10z"/>
<path fill="#cfed0d" d="M299 198l4 3 13 6-5-3z"/>
<path fill="#0dedbb" d="M796 334l3 12 8-9-3-12z"/>
<path fill="#0ded9d" d="M844 329l0 9 5-10 0-9z"/>
<path fill="#ed950d" d="M220 163l0-3 8 4 0 2z"/>
<path fill="#0ded61" d="M493 289l8 8 16 2-9-8z"/>
<path fill="#23ed0d" d="M408 253l8 7 15 4-8-6z"/>
<path fill="#edc20d" d="M191 179l-2-5 6-2 2 5z"/>
<path class="e" d="M170 283L176 279"/>
<path fill="#b4ed0d" d="M316 207l5 3 13 6-6-4z"/>
<path fill="#0ded97" d="M676 317l7 9 13-3-7-9z"/>
<path fill="#0ded97" d="M849 328l0 8 5-10 0-8z"/>
<path fill="#0dedb3" d="M744 329l5 11 11-6-5-11z"/>
<path fill="#0ded71" d="M556 300l9 6 15-2-9-5z"/>
<path fill="#0dedbe" d="M807 337l2 12 7-10-2-12z"/>
<path fill="#ed980d" d="M228 164l0-2 9 4 0 2z"/>
<path fill="#0ded81" d="M618 308l9 7 14-2-8-7z"/>
<path fill="#0ded91" d="M854 326l0 7 4-8 0-7z"/>
<path fill="#97ed0d" d="M334 216l5 5 14 6-6-5z"/>
<path fill="#d4ed0d" d="M178 202l-3-7 6-4 3 6z"/>
<path fill="#0ded16" d="M431 264l8 8 15 4-8-8z"/>
<path fill="#eda10d" d="M237 166l1 0 10 5-1 0z"/>
<path fill="#edaa0d" d="M195 172l-2-5 7 0 2 4z"/>
<path fill="#0dedc0" d="M816 339l2 11 7-10-2-11z"/>
<path fill="#0dedbe" d="M760 334l4 12 10-7-4-12z"/>
<path fill="#0ded8a" d="M858 325l0 6 4-8 0-6z"/>
<path fill="#0deda3" d="M696 323l7 9 12-3-7-10z"/>
<path fill="#0ded6d" d="M517 299l9 4 15-1-9-5z"/>
<path fill="#edaf0d" d="M248 171l2 0 10 6-2-1z"/>
<path fill="#79ed0d" d="M353 227l6 5 14 5-7-5z"/>
<path fill="#0dedbe" d="M825 340l1 11 6-11-1-11z"/>
<path class="e" d="M865 314L867 310"/>
<path fill="#0ded83" d="M862 323l0 5 2-6 2-6z"/>
<path fill="#ed980d" d="M200 167l-1-5 7 1 1 4z"/>
<path fill="#0ded35" d="M454 276l8 7 15 4-8-8z"/>
<path fill="#0dedc7" d="M774 339l4 12 9-8-4-12z"/>
<path fill="#0ded8c" d="M641 313l8 8 14-2-8-8z"/>
<path fill="#0ded77" d="M580 304l9 6 15-1-9-6z"/>
<path fill="#edc10d" d="M260 177l2 1 11 6-3-2z"/>
<path fill="#ede10d" d="M181 191l-2-6 6-4 2 6z"/>
<path fill="#0dedbb" d="M832 340l1 10 6-11-1-10z"/>
<path fill="#0dedb0" d="M715 329l6 10 12-5-6-10z"/>
<path fill="#5aed0d" d="M373 237l7 6 14 6-7-6z"/>
<path fill="#edd70d" d="M273 184l3 2 11 6-3-3z"/>
<path fill="#0dedcf" d="M787 343l3 12 9-9-3-12z"/>
<path fill="#ed8b0d" d="M206 163l-1-4 7 2 1 3z"/>
<path fill="#0dedb5" d="M839 339l0 9 5-10 0-9z"/>
<path fill="#0ded52" d="M477 287l9 8 15 2-8-8z"/>
<path fill="#eaed0d" d="M287 192l4 3 12 6-4-3z"/>
<path fill="#0ded99" d="M663 319l7 9 13-2-7-9z"/>
<path fill="#0ded6f" d="M541 302l9 5 15-1-9-6z"/>
<path fill="#edc10d" d="M185 181l-2-5 6-2 2 5z"/>
<path fill="#3aed0d" d="M394 249l7 6 15 5-8-7z"/>
<path fill="#0dedbe" d="M733 334l6 12 10-6-5-11z"/>
<path fill="#0dedd5" d="M799 346l2 13 8-10-2-12z"/>
<path fill="#ed840d" d="M212 161l0-3 8 2 0 3z"/>
<path fill="#0dedad" d="M844 338l1 8 4-10 0-8z"/>
<path fill="#0ded7f" d="M604 309l9 7 14-1-9-7z"/>
<path fill="#cfed0d" d="M303 201l5 3 13 6-5-3z"/>
<path fill="#cced0d" d="M174 202l-4-1 5-6 3 7z"/>
<path fill="#0dedd8" d="M809 349l2 12 7-11-2-11z"/>
<path fill="#0deda5" d="M849 336l0 7 5-10 0-7z"/>
<path fill="#ed840d" d="M220 160l0-1 8 3 0 2z"/>
<path fill="#0dedcb" d="M749 340l5 12 10-6-4-12z"/>
<path fill="#19ed0d" d="M416 260l8 7 15 5-8-8z"/>
<path fill="#0ded6b" d="M501 297l9 8 16-2-9-4z"/>
<path fill="#eda60d" d="M189 174l-2-5 6-2 2 5z"/>
<path fill="#b2ed0d" d="M321 210l5 5 13 6-5-5z"/>
<path fill="#0deda7" d="M683 326l8 9 12-3-7-9z"/>
<path fill="#0dedd8" d="M818 350l2 12 6-11-1-11z"/>
<path fill="#0ded9b" d="M854 333l0 7 4-9 0-6z"/>
<path fill="#ed8a0d" d="M228 162l1-1 9 5-1 0z"/>
<path fill="#0dedd7" d="M764 346l5 12 9-7-4-12z"/>
<path fill="#0ded74" d="M565 306l9 5 15-1-9-6z"/>
<path fill="#0ded8b" d="M627 315l8 8 14-2-8-8z"/>
<path fill="#93ed0d" d="M339 221l6 5 14 6-6-5z"/>
<path fill="#ede70d" d="M175 195l-2-6 6-4 2 6z"/>
<path fill="#0ded21" d="M439 272l8 7 15 4-8-7z"/>
<path fill="#ed960d" d="M238 166l2 0 10 5-2 0z"/>
<path fill="#0ded91" d="M858 331l0 6 4-9 0-5z"/>
<path fill="#ed900d" d="M193 167l-1-4 7-1 1 5z"/>
<path fill="#0dedd5" d="M826 351l1 11 6-12-1-10z"/>
<path fill="#0dedb6" d="M703 332l7 11 11-4-6-10z"/>
<path class="e" d="M163 288L170 283"/>
<path fill="#0dede2" d="M778 351l4 13 8-9-3-12z"/>
<path fill="#eda70d" d="M250 171l2 1 10 6-2-1z"/>
<path fill="#73ed0d" d="M359 232l7 6 14 5-7-6z"/>
<path fill="#0dedcf" d="M833 350l1 10 5-12 0-9z"/>
<path fill="#0ded6e" d="M526 303l9 5 15-1-9-5z"/>
<path fill="#ed800d" d="M199 162l-2-4 8 1 1 4z"/>
<path fill="#0ded41" d="M462 283l9 8 15 4-9-8z"/>
<path fill="#edbc0d" d="M262 178l3 2 11 6-3-2z"/>
<path fill="#0dedeb" d="M790 355l3 13 8-9-2-13z"/>
<path fill="#0ded98" d="M649 321l8 9 13-2-7-9z"/>
<path fill="#0dedc6" d="M721 339l6 11 12-4-6-12z"/>
<path fill="#edc40d" d="M179 185l-2-6 6-3 2 5z"/>
<path fill="#0ded7d" d="M589 310l9 7 15-1-9-7z"/>
<path fill="#0dedc6" d="M839 348l1 9 5-11-1-8z"/>
<path fill="#51ed0d" d="M380 243l7 7 14 5-7-6z"/>
<path fill="#edd50d" d="M276 186l4 3 11 6-4-3z"/>
<path fill="#0deaed" d="M801 359l3 13 7-11-2-12z"/>
<path fill="#ed760d" d="M205 159l-1-3 8 2 0 3z"/>
<path class="m" d="M162 286l4-6 4 6z"/>
<path class="e" d="M862 319L865 314"/>
<path fill="#0dedd6" d="M739 346l5 12 10-6-5-12z"/>
<path fill="#0dedbb" d="M845 346l0 8 4-11 0-7z"/>
<path fill="#ebed0d" d="M291 195l5 3 12 6-5-3z"/>
<path fill="#0ded5f" d="M486 295l9 8 15 2-9-8z"/>
<path fill="#0deda8" d="M670 328l8 9 13-2-8-9z"/>
<path fill="#2fed0d" d="M401 255l8 7 15 5-8-7z"/>
<path fill="#eda50d" d="M183 176l-2-5 6-2 2 5z"/>
<path fill="#0de8ed" d="M811 361l2 12 7-11-2-12z"/>
<path fill="#ed720d" d="M212 158l0-2 8 3 0 1z"/>
<path fill="#0ded72" d="M550 307l9 5 15-1-9-5z"/>
<path fill="#cded0d" d="M308 204l5 5 13 6-5-5z"/>
<path fill="#0dede5" d="M754 352l5 13 10-7-5-12z"/>
<path fill="#0dedb0" d="M849 343l0 7 5-10 0-7z"/>
<path fill="#e9ed0d" d="M170 201l-3-6 6-6 2 6z"/>
<path fill="#0ded88" d="M613 316l8 8 14-1-8-8z"/>
<path fill="#0deaed" d="M820 362l1 12 6-12-1-11z"/>
<path fill="#ed760d" d="M220 159l0-2 9 4-1 1z"/>
<path fill="#0ded0d" d="M424 267l8 8 15 4-8-7z"/>
<path fill="#0dedb9" d="M691 335l7 11 12-3-7-11z"/>
<path fill="#aeed0d" d="M326 215l6 5 13 6-6-5z"/>
<path fill="#ed8c0d" d="M187 169l-2-5 7-1 1 4z"/>
<path fill="#0de7ed" d="M769 358l4 14 9-8-4-13z"/>
<path fill="#0deda3" d="M854 340l-1 6 5-9 0-6z"/>
<path fill="#ed7f0d" d="M229 161l1 0 10 5-2 0z"/>
<path fill="#0ded6d" d="M510 305l9 5 16-2-9-5z"/>
<path fill="#0dedeb" d="M827 362l1 10 6-12-1-10z"/>
<path fill="#0ddbed" d="M782 364l3 13 8-9-3-13z"/>
<path fill="#0ded96" d="M858 337l-1 4 3-6 2-7z"/>
<path fill="#8ded0d" d="M345 226l7 6 14 6-7-6z"/>
<path fill="#edca0d" d="M173 189l-2-6 6-4 2 6z"/>
<path fill="#ed8e0d" d="M240 166l2 1 10 5-2-1z"/>
<path fill="#0ded97" d="M635 323l8 8 14-1-8-9z"/>
<path fill="#0ded2f" d="M447 279l9 9 15 3-9-8z"/>
<path fill="#0dedcb" d="M710 343l6 11 11-4-6-11z"/>
<path fill="#0ded7a" d="M574 311l9 7 15-1-9-7z"/>
<path fill="#ed780d" d="M192 163l-2-5 7 0 2 4z"/>
<path fill="#0dede1" d="M834 360l0 9 6-12-1-9z"/>
<path fill="#0dd2ed" d="M793 368l3 14 8-10-3-13z"/>
<path fill="#eda20d" d="M252 172l2 2 11 6-3-2z"/>
<path fill="#6aed0d" d="M366 238l7 6 14 6-7-7z"/>
<path fill="#0dedde" d="M727 350l6 13 11-5-5-12z"/>
<path fill="#edba0d" d="M265 180l3 3 12 6-4-3z"/>
<path fill="#ed6a0d" d="M197 158l0-3 7 1 1 3z"/>
<path fill="#0dedd5" d="M840 357l0 9 5-12 0-8z"/>
<path fill="#0ded4f" d="M471 291l9 9 15 3-9-8z"/>
<path fill="#0dceed" d="M804 372l2 12 7-11-2-12z"/>
<path fill="#0deda7" d="M657 330l8 9 13-2-8-9z"/>
<path fill="#eda80d" d="M177 179l-2-5 6-3 2 5z"/>
<path fill="#0ded70" d="M535 308l9 5 15-1-9-5z"/>
<path fill="#deed0d" d="M166 201l-4 0 5-6 3 6z"/>
<path fill="#47ed0d" d="M387 250l7 7 15 5-8-7z"/>
<path fill="#edd50d" d="M280 189l4 3 12 6-5-3z"/>
<path fill="#0deaed" d="M744 358l5 13 10-6-5-13z"/>
<path fill="#0ded85" d="M598 317l9 7 14 0-8-8z"/>
<path class="e" d="M156 292L163 288"/>
<path fill="#0dceed" d="M813 373l1 12 7-11-1-12z"/>
<path fill="#ed630d" d="M204 156l0-3 8 3 0 2z"/>
<path fill="#0dedc7" d="M845 354l0 7 4-11 0-7z"/>
<path fill="#e8ed0d" d="M296 198l5 5 12 6-5-5z"/>
<path fill="#0dd9ed" d="M759 365l4 13 10-6-4-14z"/>
<path fill="#0dedba" d="M678 337l7 11 13-2-7-11z"/>
<path fill="#0ded6b" d="M495 303l9 8 15-1-9-5z"/>
<path fill="#23ed0d" d="M409 262l8 8 15 5-8-8z"/>
<path fill="#ed8b0d" d="M181 171l-2-5 6-2 2 5z"/>
<path fill="#ed630d" d="M212 156l0-2 8 3 0 2z"/>
<path fill="#0dd3ed" d="M821 374l1 11 6-13-1-10z"/>
<path fill="#0dedb8" d="M849 350l0 6 4-10 1-6z"/>
<path fill="#c8ed0d" d="M313 209l6 5 13 6-6-5z"/>
<path fill="#edd30d" d="M167 195l-2-7 6-5 2 6z"/>
<path fill="#0dc9ed" d="M773 372l3 13 9-8-3-13z"/>
<path fill="#ed6a0d" d="M220 157l1 0 9 4-1 0z"/>
<path fill="#0ded94" d="M621 324l9 8 13-1-8-8z"/>
<path fill="#0ded76" d="M559 312l9 6 15 0-9-7z"/>
<path fill="#0dedce" d="M698 346l6 11 12-3-6-11z"/>
<path fill="#0ded1a" d="M432 275l9 8 15 5-9-9z"/>
<path fill="#0ddced" d="M828 372l1 10 5-13 0-9z"/>
<path fill="#a7ed0d" d="M332 220l6 6 14 6-7-6z"/>
<path fill="#0deda8" d="M853 346l0 5 4-10 1-4z"/>
<path fill="#0dbded" d="M785 377l3 14 8-9-3-14z"/>
<path fill="#ed730d" d="M185 164l-1-5 6-1 2 5z"/>
<path class="e" d="M860 324L862 319"/>
<path fill="#ed770d" d="M230 161l2 1 10 5-2-1z"/>
<path fill="#0db5ed" d="M796 382l2 13 8-11-2-12z"/>
<path fill="#0dede4" d="M716 354l6 12 11-3-6-13z"/>
<path fill="#84ed0d" d="M352 232l7 6 14 6-7-6z"/>
<path fill="#ed890d" d="M242 167l2 2 10 5-2-2z"/>
<path fill="#0de9ed" d="M834 369l1 9 5-12 0-9z"/>
<path fill="#edad0d" d="M171 183l-2-6 6-3 2 5z"/>
<path fill="#0ded6e" d="M519 310l10 4 15-1-9-5z"/>
<path fill="#0ded3d" d="M456 288l9 8 15 4-9-9z"/>
<path fill="#0deda5" d="M643 331l9 9 13-1-8-9z"/>
<path fill="#ed620d" d="M190 158l0-4 7 1 0 3z"/>
<path fill="#eda00d" d="M254 174l3 3 11 6-3-3z"/>
<path fill="#0db2ed" d="M806 384l2 13 6-12-1-12z"/>
<path fill="#0ded81" d="M583 318l9 7 15-1-9-7z"/>
<path fill="#0de2ed" d="M733 363l6 13 10-5-5-13z"/>
<path fill="#60ed0d" d="M373 244l7 7 14 6-7-7z"/>
<path fill="#0dede2" d="M840 366l0 7 5-12 0-7z"/>
<path fill="#edba0d" d="M268 183l4 3 12 6-4-3z"/>
<path fill="#ed570d" d="M197 155l-1-3 8 1 0 3z"/>
<path fill="#0dcded" d="M749 371l5 13 9-6-4-13z"/>
<path fill="#0ded5e" d="M480 300l9 9 15 2-9-8z"/>
<path fill="#0db5ed" d="M814 385l2 12 6-12-1-11z"/>
<path fill="#ed8c0d" d="M175 174l-2-6 6-2 2 5z"/>
<path fill="#0dedb9" d="M665 339l8 10 12-1-7-11z"/>
<path fill="#eddf0d" d="M162 201l-2-7 5-6 2 7z"/>
<path fill="#edd70d" d="M284 192l4 4 13 7-5-5z"/>
<path fill="#3bed0d" d="M394 257l8 8 15 5-8-8z"/>
<path fill="#0dedd0" d="M845 361l0 6 4-11 0-6z"/>
<path fill="#0dbaed" d="M763 378l4 15 9-8-3-13z"/>
<path fill="#ed530d" d="M204 153l0-2 8 3 0 2z"/>
<path fill="#0ded73" d="M544 313l9 6 15-1-9-6z"/>
<path fill="#e3ed0d" d="M301 203l5 5 13 6-6-5z"/>
<path fill="#0ded8f" d="M607 324l9 8 14 0-9-8z"/>
<path fill="#0dbeed" d="M822 385l1 10 6-13-1-10z"/>
<path fill="#0dedcf" d="M685 348l7 11 12-2-6-11z"/>
<path fill="#0daaed" d="M776 385l4 14 8-8-3-14z"/>
<path fill="#15ed0d" d="M417 270l9 8 15 5-9-8z"/>
<path fill="#ed720d" d="M179 166l-2-5 7-2 1 5z"/>
<path fill="#ed570d" d="M212 154l1-1 8 4-1 0z"/>
<path fill="#0dedbd" d="M849 356l0 5 4-10 0-5z"/>
<path fill="#c2ed0d" d="M319 214l6 6 13 6-6-6z"/>
<path fill="#0ded6d" d="M504 311l9 5 16-2-10-4z"/>
<path fill="#0d9eed" d="M788 391l3 14 7-10-2-13z"/>
<path fill="#edb50d" d="M165 188l-2-6 6-5 2 6z"/>
<path fill="#0dcbed" d="M829 382l0 9 6-13-1-9z"/>
<path fill="#ed610d" d="M221 157l2 0 9 5-2-1z"/>
<path fill="#0dede7" d="M704 357l7 12 11-3-6-12z"/>
<path fill="#0ded29" d="M441 283l8 9 16 4-9-8z"/>
<path fill="#9eed0d" d="M338 226l7 6 14 6-7-6z"/>
<path fill="#0deda1" d="M630 332l8 9 14-1-9-9z"/>
<path fill="#0dedab" d="M853 351l0 3 2-6 2-7z"/>
<path class="e" d="M149 297L156 292"/>
<path fill="#0d98ed" d="M798 395l3 13 7-11-2-13z"/>
<path fill="#ed5c0d" d="M184 159l-1-4 7-1 0 4z"/>
<path fill="#ed710d" d="M232 162l2 1 10 6-2-2z"/>
<path fill="#0ded7d" d="M568 318l10 7 14 0-9-7z"/>
<path fill="#0ddced" d="M722 366l6 13 11-3-6-13z"/>
<path fill="#0ddced" d="M835 378l0 8 5-13 0-7z"/>
<path fill="#ed860d" d="M244 169l3 2 10 6-3-3z"/>
<path fill="#eded0d" d="M158 201l-4 0 6-7 2 7z"/>
<path fill="#79ed0d" d="M359 238l7 8 14 5-7-7z"/>
<path fill="#0d98ed" d="M808 397l1 12 7-12-2-12z"/>
<path fill="#ed910d" d="M169 177l-2-5 6-4 2 6z"/>
<path fill="#0dc4ed" d="M739 376l5 13 10-5-5-13z"/>
<path fill="#0ded4d" d="M465 296l9 9 15 4-9-9z"/>
<path fill="#ed4e0d" d="M190 154l-1-3 7 1 1 3z"/>
<path fill="#0dedb6" d="M652 340l8 10 13-1-8-10z"/>
<path fill="#eda00d" d="M257 177l4 3 11 6-4-3z"/>
<path fill="#0ded70" d="M529 314l9 6 15-1-9-6z"/>
<path fill="#53ed0d" d="M380 251l8 8 14 6-8-8z"/>
<path fill="#0daeed" d="M754 384l4 15 9-6-4-15z"/>
<path fill="#0dedeb" d="M840 373l0 6 5-12 0-6z"/>
<path fill="#0d9fed" d="M816 397l1 11 6-13-1-10z"/>
<path fill="#edbd0d" d="M272 186l5 4 11 6-4-4z"/>
<path fill="#0ded8a" d="M592 325l9 7 15 0-9-8z"/>
<path class="e" d="M857 328L860 324"/>
<path fill="#ed460d" d="M196 152l0-2 8 1 0 2z"/>
<path fill="#0d9aed" d="M767 393l4 14 9-8-4-14z"/>
<path fill="#0dedce" d="M673 349l7 12 12-2-7-11z"/>
<path fill="#ed730d" d="M173 168l-2-5 6-2 2 5z"/>
<path fill="#edc10d" d="M160 194l-2-7 5-5 2 6z"/>
<path fill="#eddc0d" d="M288 196l5 5 13 7-5-5z"/>
<path fill="#0ded6a" d="M489 309l9 8 15-1-9-5z"/>
<path fill="#2ced0d" d="M402 265l9 8 15 5-9-8z"/>
<path fill="#0d8aed" d="M780 399l3 15 8-9-3-14z"/>
<path fill="#0dedd6" d="M845 367l0 5 4-11 0-5z"/>
<path fill="#0dabed" d="M823 395l1 9 5-13 0-9z"/>
<path fill="#ed460d" d="M204 151l0-1 9 3-1 1z"/>
<path fill="#dced0d" d="M306 208l6 5 13 7-6-6z"/>
<path fill="#0dede7" d="M692 359l7 12 12-2-7-12z"/>
<path fill="#0d80ed" d="M791 405l2 14 8-11-3-13z"/>
<path fill="#0ded9c" d="M616 332l8 9 14 0-8-9z"/>
<path fill="#0ded78" d="M553 319l10 6 15 0-10-7z"/>
<path fill="#0ded14" d="M426 278l8 9 15 5-8-9z"/>
<path fill="#ed4d0d" d="M213 153l1 0 9 4-2 0z"/>
<path fill="#ed5a0d" d="M177 161l-1-5 7-1 1 4z"/>
<path fill="#b8ed0d" d="M325 220l6 6 14 6-7-6z"/>
<path fill="#0dedc0" d="M849 361l0 4 4-11 0-3z"/>
<path fill="#0dbded" d="M829 391l1 8 5-13 0-8z"/>
<path fill="#0dd9ed" d="M711 369l6 13 11-3-6-13z"/>
<path fill="#0d7ced" d="M801 408l2 13 6-12-1-12z"/>
<path fill="#ed990d" d="M163 182l-1-6 5-4 2 5z"/>
<path fill="#ed5b0d" d="M223 157l2 2 9 4-2-1z"/>
<path fill="#93ed0d" d="M345 232l7 7 14 7-7-8z"/>
<path fill="#0dbeed" d="M728 379l6 14 10-4-5-13z"/>
<path fill="#0ded39" d="M449 292l9 9 16 4-9-9z"/>
<path fill="#0ded6e" d="M513 316l10 4 15 0-9-6z"/>
<path fill="#ed6e0d" d="M234 163l3 3 10 5-3-2z"/>
<path fill="#ed470d" d="M183 155l-1-4 7 0 1 3z"/>
<path fill="#0dedb2" d="M638 341l8 9 14 0-8-10z"/>
<path fill="#0d80ed" d="M809 409l2 11 6-12-1-11z"/>
<path fill="#0dd2ed" d="M835 386l0 6 5-13 0-6z"/>
<path fill="#0da4ed" d="M744 389l5 15 9-5-4-15z"/>
<path fill="#edd00d" d="M154 201l-1-7 5-7 2 7z"/>
<path fill="#ed860d" d="M247 171l3 3 11 6-4-3z"/>
<path fill="#6ced0d" d="M366 246l7 7 15 6-8-8z"/>
<path fill="#0ded85" d="M578 325l9 7 14 0-9-7z"/>
<path fill="#ed770d" d="M167 172l-1-6 5-3 2 5z"/>
<path fill="#0d8ced" d="M758 399l4 14 9-6-4-14z"/>
<path fill="#eda20d" d="M261 180l4 4 12 6-5-4z"/>
<path fill="#ed3c0d" d="M189 151l0-2 7 1 0 2z"/>
<path fill="#0ded5d" d="M474 305l9 9 15 3-9-8z"/>
<path fill="#0dedca" d="M660 350l7 11 13 0-7-12z"/>
<path fill="#0d8bed" d="M817 408l1 10 6-14-1-9z"/>
<path fill="#0d78ed" d="M771 407l4 15 8-8-3-15z"/>
<path fill="#45ed0d" d="M388 259l8 8 15 6-9-8z"/>
<path fill="#edc10d" d="M277 190l4 5 12 6-5-5z"/>
<path fill="#0de9ed" d="M840 379l0 6 5-13 0-5z"/>
<path fill="#0d6aed" d="M783 414l3 14 7-9-2-14z"/>
<path fill="#ed380d" d="M196 150l0-2 8 2 0 1z"/>
<path fill="#0ded74" d="M538 320l10 5 15 0-10-6z"/>
<path class="e" d="M141 302L149 297"/>
<path fill="#0dede5" d="M680 361l7 12 12-2-7-12z"/>
<path fill="#ede30d" d="M293 201l6 6 13 6-6-5z"/>
<path fill="#0ded96" d="M601 332l9 8 14 1-8-9z"/>
<path fill="#ed5a0d" d="M171 163l-1-4 6-3 1 5z"/>
<path fill="#eda30d" d="M158 187l-2-6 6-5 1 6z"/>
<path fill="#0d9ced" d="M824 404l1 9 5-14-1-8z"/>
<path fill="#1ded0d" d="M411 273l8 9 15 5-8-9z"/>
<path fill="#0d62ed" d="M793 419l3 13 7-11-2-13z"/>
<path fill="#ed3b0d" d="M204 150l1 0 9 3-1 0z"/>
<path fill="#d3ed0d" d="M312 213l6 7 13 6-6-6z"/>
<path fill="#0dedd9" d="M845 372l0 5 4-12 0-4z"/>
<path fill="#0dd8ed" d="M699 371l7 13 11-2-6-13z"/>
<path fill="#0ded6d" d="M498 317l10 4 15-1-10-4z"/>
<path fill="#ede00d" d="M151 201l-3 1 5-8 1 7z"/>
<path fill="#ed460d" d="M214 153l1 1 10 5-2-2z"/>
<path fill="#0d62ed" d="M803 421l1 12 7-13-2-11z"/>
<path fill="#0ded25" d="M434 287l9 9 15 5-9-9z"/>
<path fill="#0dbbed" d="M717 382l6 14 11-3-6-14z"/>
<path fill="#ed440d" d="M176 156l-1-4 7-1 1 4z"/>
<path fill="#aded0d" d="M331 226l7 7 14 6-7-7z"/>
<path fill="#0dedac" d="M624 341l9 9 13 0-8-9z"/>
<path fill="#0db2ed" d="M830 399l0 7 5-14 0-6z"/>
<path fill="#ed570d" d="M225 159l2 2 10 5-3-3z"/>
<path fill="#ed7e0d" d="M162 176l-2-5 6-5 1 6z"/>
<path fill="#0ded80" d="M563 325l9 7 15 0-9-7z"/>
<path fill="#0d9eed" d="M734 393l5 15 10-4-5-15z"/>
<path fill="#0dedc0" d="M849 365l0 3 2-7 2-7z"/>
<path class="e" d="M854 333L857 328"/>
<path fill="#86ed0d" d="M352 239l7 8 14 6-7-7z"/>
<path fill="#0d6aed" d="M811 420l1 11 6-13-1-10z"/>
<path fill="#0d82ed" d="M749 404l4 15 9-6-4-14z"/>
<path fill="#ed6e0d" d="M237 166l3 3 10 5-3-3z"/>
<path fill="#0ded4b" d="M458 301l10 9 15 4-9-9z"/>
<path fill="#ed350d" d="M182 151l0-3 7 1 0 2z"/>
<path fill="#0d6aed" d="M762 413l4 15 9-6-4-15z"/>
<path fill="#0dedc5" d="M646 350l8 11 13 0-7-11z"/>
<path fill="#ed890d" d="M250 174l4 4 11 6-4-4z"/>
<path fill="#edb20d" d="M153 194l-2-7 5-6 2 6z"/>
<path fill="#0dcbed" d="M835 392l1 6 4-13 0-6z"/>
<path fill="#5ded0d" d="M373 253l9 8 14 6-8-8z"/>
<path fill="#0ded71" d="M523 320l10 6 15-1-10-5z"/>
<path fill="#0d57ed" d="M775 422l3 14 8-8-3-14z"/>
<path fill="#ed5e0d" d="M166 166l-2-4 6-3 1 4z"/>
<path fill="#eda70d" d="M265 184l5 5 11 6-4-5z"/>
<path fill="#0d7aed" d="M818 418l1 8 6-13-1-9z"/>
<path fill="#ed2d0d" d="M189 149l0-2 7 1 0 2z"/>
<path fill="#0ded90" d="M587 332l9 8 14 0-9-8z"/>
<path fill="#0dede1" d="M667 361l8 12 12 0-7-12z"/>
<path fill="#0d4aed" d="M786 428l2 14 8-10-3-13z"/>
<path fill="#0ded6a" d="M483 314l9 9 16-2-10-4z"/>
<path fill="#edc90d" d="M281 195l6 5 12 7-6-6z"/>
<path fill="#34ed0d" d="M396 267l9 9 14 6-8-9z"/>
<path fill="#0de6ed" d="M840 385l0 4 5-12 0-5z"/>
<path fill="#ed2c0d" d="M196 148l1-1 8 3-1 0z"/>
<path fill="#0d46ed" d="M796 432l2 12 6-11-1-12z"/>
<path fill="#0ddbed" d="M687 373l7 12 12-1-7-13z"/>
<path fill="#eded0d" d="M299 207l6 6 13 7-6-7z"/>
<path fill="#ed880d" d="M156 181l-1-5 5-5 2 5z"/>
<path fill="#ed440d" d="M170 159l-1-5 6-2 1 4z"/>
<path fill="#0d90ed" d="M825 413l0 7 5-14 0-7z"/>
<path fill="#0ded0e" d="M419 282l9 9 15 5-9-9z"/>
<path fill="#0dbbed" d="M706 384l6 14 11-2-6-14z"/>
<path fill="#0deda5" d="M610 340l9 9 14 1-9-9z"/>
<path fill="#ed340d" d="M205 150l2 1 8 3-1-1z"/>
<path fill="#0ded7a" d="M548 325l9 6 15 1-9-7z"/>
<path fill="#c8ed0d" d="M318 220l7 6 13 7-7-7z"/>
<path fill="#0d4bed" d="M804 433l2 11 6-13-1-11z"/>
<path fill="#edc40d" d="M148 202l-2-7 5-8 2 7z"/>
<path fill="#0d9bed" d="M723 396l5 15 11-3-5-15z"/>
<path fill="#ed420d" d="M215 154l3 2 9 5-2-2z"/>
<path fill="#0dedd8" d="M845 377l0 2 4-11 0-3z"/>
<path class="m" d="M851 333l4-6 4 6z"/>
<path fill="#0d7ced" d="M739 408l5 15 9-4-4-15z"/>
<path fill="#a0ed0d" d="M338 233l7 7 14 7-7-8z"/>
<path fill="#ed310d" d="M175 152l0-3 7-1 0 3z"/>
<path fill="#0ded36" d="M443 296l10 9 15 5-10-9z"/>
<path fill="#0ded6e" d="M508 321l9 5 16 0-10-6z"/>
<path fill="#0d5fed" d="M753 419l4 15 9-6-4-15z"/>
<path fill="#ed570d" d="M227 161l3 2 10 6-3-3z"/>
<path fill="#0daaed" d="M830 406l1 5 5-13-1-6z"/>
<path fill="#0dedbe" d="M633 350l8 10 13 1-8-11z"/>
<path fill="#ed650d" d="M160 171l-1-5 5-4 2 4z"/>
<path fill="#0d47ed" d="M766 428l4 16 8-8-3-14z"/>
<path fill="#0d58ed" d="M812 431l1 9 6-14-1-8z"/>
<path fill="#ed700d" d="M240 169l3 3 11 6-4-4z"/>
<path fill="#77ed0d" d="M359 247l8 8 15 6-9-8z"/>
<path fill="#0ded89" d="M572 332l9 7 15 1-9-8z"/>
<path class="e" d="M134 306L141 302"/>
<path fill="#0d36ed" d="M778 436l3 15 7-9-2-14z"/>
<path fill="#ed250d" d="M182 148l0-2 7 1 0 2z"/>
<path fill="#0ded5c" d="M468 310l9 9 15 4-9-9z"/>
<path fill="#ed8e0d" d="M254 178l4 5 12 6-5-5z"/>
<path fill="#0deddb" d="M654 361l8 12 13 0-8-12z"/>
<path fill="#ed960d" d="M151 187l-1-6 5-5 1 5z"/>
<path fill="#4ded0d" d="M382 261l8 9 15 6-9-9z"/>
<path fill="#0d2ced" d="M788 442l3 13 7-11-2-12z"/>
<path fill="#edaf0d" d="M270 189l5 5 12 6-6-5z"/>
<path fill="#0dc7ed" d="M836 398l0 4 4-13 0-4z"/>
<path fill="#ed470d" d="M164 162l-1-5 6-3 1 5z"/>
<path fill="#edd60d" d="M144 202l-3 1 5-8 2 7z"/>
<path fill="#0d6ded" d="M819 426l1 8 5-14 0-7z"/>
<path fill="#ed200d" d="M189 147l0-1 8 1-1 1z"/>
<path fill="#0ddfed" d="M675 373l7 12 12 0-7-12z"/>
<path fill="#edd20d" d="M287 200l6 7 12 6-6-6z"/>
<path fill="#0ded76" d="M533 326l9 5 15 0-9-6z"/>
<path fill="#0d2ced" d="M798 444l1 12 7-12-2-11z"/>
<path fill="#23ed0d" d="M405 276l8 9 15 6-9-9z"/>
<path fill="#0ded9d" d="M596 340l9 8 14 1-9-9z"/>
<path fill="#0dbeed" d="M694 385l7 14 11-1-6-14z"/>
<path fill="#ed240d" d="M197 147l1 1 9 3-2-1z"/>
<path fill="#e3ed0d" d="M305 213l7 7 13 6-7-6z"/>
<path fill="#0ded6d" d="M492 323l10 4 15-1-9-5z"/>
<path fill="#ed6f0d" d="M155 176l-2-6 6-4 1 5z"/>
<path class="e" d="M852 338L854 333"/>
<path fill="#0d9bed" d="M712 398l6 14 10-1-5-15z"/>
<path fill="#ed300d" d="M169 154l0-3 6-2 0 3z"/>
<path fill="#0de6ed" d="M840 389l0 3 5-13 0-2z"/>
<path fill="#ed300d" d="M207 151l2 1 9 4-3-2z"/>
<path fill="#0d87ed" d="M825 420l1 6 5-15-1-5z"/>
<path fill="#0ded20" d="M428 291l10 9 15 5-10-9z"/>
<path fill="#0d79ed" d="M728 411l6 15 10-3-5-15z"/>
<path fill="#0d36ed" d="M806 444l1 10 6-14-1-9z"/>
<path fill="#bbed0d" d="M325 226l7 8 13 6-7-7z"/>
<path fill="#0d58ed" d="M744 423l4 15 9-4-4-15z"/>
<path fill="#eda70d" d="M146 195l-1-7 5-7 1 6z"/>
<path fill="#0dedb6" d="M619 349l9 10 13 1-8-10z"/>
<path fill="#ed420d" d="M218 156l2 3 10 4-3-2z"/>
<path fill="#0d3ced" d="M757 434l4 15 9-5-4-16z"/>
<path fill="#0ded82" d="M557 331l10 7 14 1-9-7z"/>
<path fill="#0d25ed" d="M770 444l3 14 8-7-3-15z"/>
<path fill="#91ed0d" d="M345 240l8 8 14 7-8-8z"/>
<path fill="#ed200d" d="M175 149l0-2 7-1 0 2z"/>
<path fill="#ed590d" d="M230 163l3 4 10 5-3-3z"/>
<path fill="#0ded49" d="M453 305l9 10 15 4-9-9z"/>
<path fill="#ed4e0d" d="M159 166l-1-5 5-4 1 5z"/>
<path fill="#0dedd5" d="M845 379l0 2 2-7 2-6z"/>
<path fill="#0d16ed" d="M781 451l2 14 8-10-3-13z"/>
<path fill="#0d49ed" d="M813 440l1 8 6-14-1-8z"/>
<path fill="#0dedd3" d="M641 360l8 12 13 1-8-12z"/>
<path fill="#ed750d" d="M243 172l4 5 11 6-4-5z"/>
<path fill="#0da6ed" d="M831 411l0 5 5-14 0-4z"/>
<path fill="#67ed0d" d="M367 255l9 9 14 6-8-9z"/>
<path fill="#0ded72" d="M517 326l10 5 15 0-9-5z"/>
<path fill="#ed180d" d="M182 146l0-1 7 1 0 1z"/>
<path fill="#ed950d" d="M258 183l5 5 12 6-5-5z"/>
<path fill="#0d11ed" d="M791 455l2 12 6-11-1-12z"/>
<path fill="#ed7c0d" d="M150 181l-2-5 5-6 2 6z"/>
<path fill="#0de6ed" d="M662 373l8 12 12 0-7-12z"/>
<path fill="#0ded6a" d="M477 319l10 9 15-1-10-4z"/>
<path fill="#0ded95" d="M581 339l10 8 14 1-9-8z"/>
<path fill="#3ced0d" d="M390 270l9 9 14 6-8-9z"/>
<path fill="#edb80d" d="M275 194l5 6 13 7-6-7z"/>
<path fill="#edbb0d" d="M141 203l-1-7 5-8 1 7z"/>
<path fill="#ed330d" d="M163 157l0-3 6-3 0 3z"/>
<path fill="#ed180d" d="M189 146l1 0 8 2-1-1z"/>
<path fill="#0dc3ed" d="M682 385l7 14 12 0-7-14z"/>
<path fill="#0d63ed" d="M820 434l1 6 5-14-1-6z"/>
<path fill="#0d16ed" d="M799 456l2 11 6-13-1-10z"/>
<path fill="#edde0d" d="M293 207l6 6 13 7-7-7z"/>
<path fill="#0dc7ed" d="M836 402l0 3 4-13 0-3z"/>
<path fill="#0d9eed" d="M701 399l6 14 11-1-6-14z"/>
<path fill="#10ed0d" d="M413 285l10 9 15 6-10-9z"/>
<path fill="#ed1f0d" d="M198 148l2 1 9 3-2-1z"/>
<path fill="#0d79ed" d="M718 412l6 16 10-2-6-15z"/>
<path fill="#d5ed0d" d="M312 220l7 7 13 7-7-8z"/>
<path fill="#0d55ed" d="M734 426l5 15 9-3-4-15z"/>
<path fill="#0dedad" d="M605 348l9 10 14 1-9-10z"/>
<path fill="#ed580d" d="M153 170l-1-4 6-5 1 5z"/>
<path fill="#0ded7c" d="M542 331l10 7 15 0-10-7z"/>
<path fill="#0d34ed" d="M748 438l4 16 9-5-4-15z"/>
<path fill="#ed1f0d" d="M169 151l-1-3 7-1 0 2z"/>
<path fill="#ed2e0d" d="M209 152l2 3 9 4-2-3z"/>
<path fill="#0d18ed" d="M761 449l4 16 8-7-3-14z"/>
<path fill="#0d26ed" d="M807 454l2 8 5-14-1-8z"/>
<path fill="#abed0d" d="M332 234l8 8 13 6-8-8z"/>
<path fill="#0ded33" d="M438 300l9 9 15 6-9-10z"/>
<path fill="#160ded" d="M773 458l3 15 7-8-2-14z"/>
<path fill="#ed8c0d" d="M145 188l-1-5 4-7 2 5z"/>
<path fill="#ed440d" d="M220 159l3 3 10 5-3-4z"/>
<path fill="#0d83ed" d="M826 426l0 4 5-14 0-5z"/>
<path fill="#edd00d" d="M138 204l-3 1 5-9 1 7z"/>
<path fill="#0ded6f" d="M502 327l10 5 15-1-10-5z"/>
<path class="e" d="M127 311L134 306"/>
<path fill="#0debed" d="M840 392l1 2 4-13 0-2z"/>
<path fill="#0dedca" d="M628 359l8 11 13 2-8-12z"/>
<path fill="#210ded" d="M783 465l3 13 7-11-2-12z"/>
<path fill="#ed5e0d" d="M233 167l4 4 10 6-4-5z"/>
<path fill="#81ed0d" d="M353 248l8 9 15 7-9-9z"/>
<path fill="#ed120d" d="M175 147l0-2 7 0 0 1z"/>
<path fill="#ed390d" d="M158 161l-1-4 6-3 0 3z"/>
<path fill="#0ded5b" d="M462 315l10 9 15 4-10-9z"/>
<path fill="#ed7d0d" d="M247 177l5 5 11 6-5-5z"/>
<path fill="#0ded8d" d="M567 338l9 8 15 1-10-8z"/>
<path fill="#0d3fed" d="M814 448l1 7 6-15-1-6z"/>
<path fill="#55ed0d" d="M376 264l8 8 15 7-9-9z"/>
<path fill="#0dedeb" d="M649 372l8 12 13 1-8-12z"/>
<path fill="#210ded" d="M793 467l2 12 6-12-2-11z"/>
<path fill="#ed9f0d" d="M263 188l6 6 11 6-5-6z"/>
<path fill="#ed0e0d" d="M182 145l1 0 7 1-1 0z"/>
<path fill="#ed640d" d="M148 176l-1-5 5-5 1 4z"/>
<path fill="#0da6ed" d="M831 416l0 3 5-14 0-3z"/>
<path fill="#0dcbed" d="M670 385l7 13 12 1-7-14z"/>
<path fill="#edc40d" d="M280 200l7 7 12 6-6-6z"/>
<path fill="#eda00d" d="M140 196l-1-6 5-7 1 5z"/>
<path fill="#29ed0d" d="M399 279l9 9 15 6-10-9z"/>
<path fill="#ed210d" d="M163 154l-1-3 6-3 1 3z"/>
<path fill="#ed120d" d="M190 146l2 1 8 2-2-1z"/>
<path fill="#0ded77" d="M527 331l10 6 15 1-10-7z"/>
<path class="e" d="M849 343L852 338"/>
<path fill="#0da4ed" d="M689 399l7 14 11 0-6-14z"/>
<path fill="#160ded" d="M801 467l2 9 6-14-2-8z"/>
<path fill="#edeb0d" d="M299 213l7 8 13 6-7-7z"/>
<path fill="#0d7ced" d="M707 413l6 15 11 0-6-16z"/>
<path fill="#0deda4" d="M591 347l9 9 14 2-9-10z"/>
<path fill="#0d55ed" d="M724 428l5 15 10-2-5-15z"/>
<path fill="#0ded6d" d="M487 328l10 4 15 0-10-5z"/>
<path fill="#0d30ed" d="M739 441l4 16 9-3-4-16z"/>
<path fill="#0d0fed" d="M752 454l4 15 9-4-4-16z"/>
<path fill="#ed1e0d" d="M200 149l2 2 9 4-2-3z"/>
<path fill="#0d5eed" d="M821 440l0 5 5-15 0-4z"/>
<path fill="#0ded1d" d="M423 294l9 10 15 5-9-9z"/>
<path fill="#250ded" d="M765 465l3 14 8-6-3-15z"/>
<path fill="#c6ed0d" d="M319 227l7 8 14 7-8-8z"/>
<path fill="#ed430d" d="M152 166l0-4 5-5 1 4z"/>
<path fill="#ed300d" d="M211 155l3 3 9 4-3-3z"/>
<path fill="#360ded" d="M776 473l3 13 7-8-3-13z"/>
<path fill="#ed110d" d="M168 148l1-2 6-1 0 2z"/>
<path fill="#0dcbed" d="M836 405l0 2 5-13-1-2z"/>
<path fill="#edb80d" d="M135 205l-1-6 5-9 1 6z"/>
<path fill="#9bed0d" d="M340 242l8 8 13 7-8-9z"/>
<path fill="#0dedc0" d="M614 358l9 10 13 2-8-11z"/>
<path fill="#ed750d" d="M144 183l-1-5 4-7 1 5z"/>
<path fill="#ed490d" d="M223 162l4 5 10 4-4-4z"/>
<path fill="#0d1aed" d="M809 462l1 7 5-14-1-7z"/>
<path fill="#0ded47" d="M447 309l10 10 15 5-10-9z"/>
<path fill="#3c0ded" d="M786 478l2 11 7-10-2-12z"/>
<path fill="#0ded85" d="M552 338l10 7 14 1-9-8z"/>
<path fill="#ed660d" d="M237 171l4 6 11 5-5-5z"/>
<path fill="#ed0d0d" d="M175 145l1-1 7 1-1 0z"/>
<path fill="#6eed0d" d="M361 257l9 9 14 6-8-8z"/>
<path fill="#0dede1" d="M636 370l9 12 12 2-8-12z"/>
<path fill="#0d82ed" d="M826 430l1 4 4-15 0-3z"/>
<path fill="#ed870d" d="M252 182l5 6 12 6-6-6z"/>
<path fill="#ed270d" d="M157 157l0-3 5-3 1 3z"/>
<path fill="#0ded72" d="M512 332l10 5 15 0-10-6z"/>
<path fill="#360ded" d="M795 479l1 9 7-12-2-9z"/>
<path fill="#0dedea" d="M841 394l0 0 2-6 2-7z"/>
<path fill="#edab0d" d="M269 194l6 7 12 6-7-7z"/>
<path fill="#41ed0d" d="M384 272l9 10 15 6-9-9z"/>
<path fill="#0ded6a" d="M472 324l10 9 15-1-10-4z"/>
<path fill="#ed0d0d" d="M183 145l1 0 8 2-2-1z"/>
<path fill="#0dd4ed" d="M657 384l8 12 12 2-7-13z"/>
<path fill="#edd00d" d="M133 207l-3 2 4-10 1 6z"/>
<path fill="#ed500d" d="M147 171l0-3 5-6 0 4z"/>
<path fill="#0d38ed" d="M815 455l1 5 5-15 0-5z"/>
<path fill="#ed890d" d="M139 190l-1-4 5-8 1 5z"/>
<path fill="#0ded9a" d="M576 346l10 8 14 2-9-9z"/>
<path fill="#edd20d" d="M287 207l6 7 13 7-7-8z"/>
<path fill="#0daced" d="M677 398l8 14 11 1-7-14z"/>
<path fill="#ed100d" d="M192 147l2 2 8 2-2-2z"/>
<path fill="#0d82ed" d="M696 413l7 15 10 0-6-15z"/>
<path fill="#ed130d" d="M162 151l0-2 7-3-1 2z"/>
<path fill="#0f0ded" d="M743 457l5 16 8-4-4-15z"/>
<path fill="#14ed0d" d="M408 288l9 10 15 6-9-10z"/>
<path fill="#0d30ed" d="M729 443l5 16 9-2-4-16z"/>
<path fill="#0d58ed" d="M713 428l6 16 10-1-5-15z"/>
<path fill="#2f0ded" d="M756 469l4 16 8-6-3-14z"/>
<path fill="#dfed0d" d="M306 221l7 8 13 6-7-8z"/>
<path fill="#460ded" d="M768 479l3 15 8-8-3-13z"/>
<path fill="#230ded" d="M803 476l1 7 6-14-1-7z"/>
<path fill="#0da9ed" d="M831 419l1 2 4-14 0-2z"/>
<path fill="#ed1f0d" d="M202 151l3 3 9 4-3-3z"/>
<path fill="#530ded" d="M779 486l2 13 7-10-2-11z"/>
<path fill="#b4ed0d" d="M326 235l8 9 14 6-8-8z"/>
<path fill="#0ded7e" d="M537 337l10 6 15 2-10-7z"/>
<path fill="#0dedb5" d="M600 356l9 10 14 2-9-10z"/>
<path fill="#0ded31" d="M432 304l10 10 15 5-10-10z"/>
<path fill="#ed350d" d="M214 158l3 4 10 5-4-5z"/>
<path fill="#ed310d" d="M152 162l-1-3 6-5 0 3z"/>
<path fill="#ed0d0d" d="M169 146l0 0 7-2-1 1z"/>
<path class="m" d="M121 313l4-6 4 6z"/>
<path class="e" d="M119 316L127 311"/>
<path fill="#eda00d" d="M134 199l0-5 4-8 1 4z"/>
<path fill="#0d5ded" d="M821 445l1 4 5-15-1-4z"/>
<path fill="#ed510d" d="M227 167l4 5 10 5-4-6z"/>
<path fill="#ed600d" d="M143 178l-1-4 5-6 0 3z"/>
<path fill="#0ded6f" d="M497 332l10 5 15 0-10-5z"/>
<path fill="#88ed0d" d="M348 250l8 9 14 7-9-9z"/>
<path fill="#520ded" d="M788 489l2 11 6-12-1-9z"/>
<path fill="#ed700d" d="M241 177l5 6 11 5-5-6z"/>
<path fill="#0dedd5" d="M623 368l9 11 13 3-9-12z"/>
<path fill="#0ded5a" d="M457 319l10 10 15 4-10-9z"/>
<path fill="#0d12ed" d="M810 469l1 6 5-15-1-5z"/>
<path fill="#ed0d0d" d="M176 144l1 1 7 0-1 0z"/>
<path fill="#5bed0d" d="M370 266l9 9 14 7-9-10z"/>
<path fill="#ed930d" d="M257 188l6 7 12 6-6-7z"/>
<path fill="#ed190d" d="M157 154l0-2 5-3 0 2z"/>
<path fill="#0dd3ed" d="M836 407l1 1 4-14 0 0z"/>
<path fill="#edbb0d" d="M130 209l0-5 4-10 0 5z"/>
<path fill="#0ded90" d="M562 345l10 7 14 2-10-8z"/>
<path fill="#0de0ed" d="M645 382l8 12 12 2-8-12z"/>
<path fill="#edb90d" d="M275 201l6 7 12 6-6-7z"/>
<path fill="#ed0d0d" d="M184 145l2 2 8 2-2-2z"/>
<path fill="#450ded" d="M796 488l2 9 6-14-1-7z"/>
<path fill="#2ded0d" d="M393 282l10 9 14 7-9-10z"/>
<path fill="#ed3e0d" d="M147 168l-1-3 5-6 1 3z"/>
<path fill="#0db7ed" d="M665 396l8 14 12 2-8-14z"/>
<path fill="#ed740d" d="M138 186l-1-4 5-8 1 4z"/>
<path fill="#350ded" d="M748 473l4 15 8-3-4-16z"/>
<path fill="#100ded" d="M734 459l5 16 9-2-5-16z"/>
<path fill="#520ded" d="M760 485l4 14 7-5-3-15z"/>
<path fill="#0d85ed" d="M827 434l0 2 5-15-1-2z"/>
<path fill="#ede20d" d="M293 214l7 8 13 7-7-8z"/>
<path fill="#0d8ced" d="M685 412l7 14 11 2-7-15z"/>
<path fill="#0d33ed" d="M719 444l6 15 9 0-5-16z"/>
<path class="e" d="M846 348L849 343"/>
<path fill="#0d5fed" d="M703 428l6 15 10 1-6-16z"/>
<path fill="#ed120d" d="M194 149l2 3 9 2-3-3z"/>
<path fill="#0ded78" d="M522 337l10 5 15 1-10-6z"/>
<path fill="#ed0d0d" d="M162 149l1-1 6-2 0 0z"/>
<path fill="#650ded" d="M771 494l3 13 7-8-2-13z"/>
<path fill="#0ded6d" d="M482 333l10 4 15 0-10-5z"/>
<path fill="#edd60d" d="M128 212l-2 2 4-10 0 5z"/>
<path fill="#ceed0d" d="M313 229l8 8 13 7-8-9z"/>
<path fill="#0ded1a" d="M417 298l10 10 15 6-10-10z"/>
<path fill="#0d36ed" d="M816 460l1 4 5-15-1-4z"/>
<path fill="#ed250d" d="M205 154l3 5 9 3-3-4z"/>
<path fill="#0dedaa" d="M586 354l9 9 14 3-9-10z"/>
<path fill="#6b0ded" d="M781 499l3 11 6-10-2-11z"/>
<path fill="#ed3e0d" d="M217 162l4 5 10 5-4-5z"/>
<path fill="#2c0ded" d="M804 483l1 6 6-14-1-6z"/>
<path fill="#a1ed0d" d="M334 244l8 9 14 6-8-9z"/>
<path fill="#ed230d" d="M151 159l0-2 6-5 0 2z"/>
<path fill="#ed8c0d" d="M134 194l-1-3 4-9 1 4z"/>
<path fill="#ed0d0d" d="M169 146l1 0 7-1-1-1z"/>
<path fill="#ed500d" d="M142 174l-1-3 5-6 1 3z"/>
<path fill="#0ded46" d="M442 314l10 9 15 6-10-10z"/>
<path fill="#ed5b0d" d="M231 172l5 6 10 5-5-6z"/>
<path fill="#0dedc9" d="M609 366l9 10 14 3-9-11z"/>
<path fill="#74ed0d" d="M356 259l9 10 14 6-9-9z"/>
<path fill="#ed7d0d" d="M246 183l6 6 11 6-6-7z"/>
<path fill="#0db1ed" d="M832 421l0 1 5-14-1-1z"/>
<path fill="#640ded" d="M790 500l2 9 6-12-2-9z"/>
<path fill="#0ded87" d="M547 343l10 7 15 2-10-7z"/>
<path fill="#ed0d0d" d="M177 145l2 2 7 0-2-2z"/>
<path fill="#eda20d" d="M263 195l6 7 12 6-6-7z"/>
<path fill="#eda70d" d="M130 204l-1-4 4-9 1 3z"/>
<path fill="#ed0e0d" d="M157 152l0-1 6-3-1 1z"/>
<path fill="#46ed0d" d="M379 275l9 10 15 6-10-9z"/>
<path fill="#0deded" d="M632 379l8 12 13 3-8-12z"/>
<path fill="#0d60ed" d="M822 449l1 2 4-15 0-2z"/>
<path fill="#0ded73" d="M507 337l10 5 15 0-10-5z"/>
<path fill="#0ded6a" d="M467 329l10 9 15-1-10-4z"/>
<path fill="#ed0d0d" d="M186 147l2 3 8 2-2-3z"/>
<path fill="#edca0d" d="M281 208l7 8 12 6-7-8z"/>
<path fill="#580ded" d="M752 488l4 15 8-4-4-14z"/>
<path fill="#0d10ed" d="M811 475l1 4 5-15-1-4z"/>
<path fill="#350ded" d="M739 475l5 15 8-2-4-15z"/>
<path fill="#ed640d" d="M137 182l0-3 4-8 1 3z"/>
<path fill="#ed310d" d="M146 165l0-2 5-6 0 2z"/>
<path fill="#0dc4ed" d="M653 394l8 13 12 3-8-14z"/>
<path fill="#720ded" d="M764 499l3 14 7-6-3-13z"/>
<path fill="#0d0eed" d="M725 459l5 16 9 0-5-16z"/>
<path fill="#0d3bed" d="M709 443l6 15 10 1-6-15z"/>
<path fill="#edc50d" d="M126 214l-1-4 4-10 1 4z"/>
<path fill="#0d98ed" d="M673 410l7 14 12 2-7-14z"/>
<path fill="#17ed0d" d="M403 291l10 10 14 7-10-10z"/>
<path fill="#e6ed0d" d="M300 222l8 9 13 6-8-8z"/>
<path fill="#ed170d" d="M196 152l3 4 9 3-3-5z"/>
<path fill="#0d69ed" d="M692 426l6 15 11 2-6-15z"/>
<path fill="#500ded" d="M798 497l2 6 5-14-1-6z"/>
<path fill="#800ded" d="M774 507l3 11 7-8-3-11z"/>
<path fill="#ed0d0d" d="M163 148l1 0 6-2-1 0z"/>
<path fill="#0ded9e" d="M572 352l9 9 14 2-9-9z"/>
<path fill="#0ddced" d="M837 408l0-1 2-6 2-7z"/>
<path fill="#ed2d0d" d="M208 159l4 5 9 3-4-5z"/>
<path fill="#baed0d" d="M321 237l8 9 13 7-8-9z"/>
<path fill="#0ded2f" d="M427 308l10 9 15 6-10-9z"/>
<path fill="#ede40d" d="M123 218l-2 4 4-12 1 4z"/>
<path fill="#ed7c0d" d="M133 191l0-3 4-9 0 3z"/>
<path fill="#ed490d" d="M221 167l5 7 10 4-5-6z"/>
<path fill="#800ded" d="M784 510l2 10 6-11-2-9z"/>
<path fill="#ed180d" d="M151 157l1-1 5-5 0 1z"/>
<path fill="#ed0d0d" d="M170 146l2 2 7-1-2-2z"/>
<path fill="#8ded0d" d="M342 253l9 9 14 7-9-10z"/>
<path fill="#ed420d" d="M141 171l0-1 5-7 0 2z"/>
<path fill="#0d8ded" d="M827 436l1 0 4-14 0-1z"/>
<path fill="#0ded7f" d="M532 342l11 7 14 1-10-7z"/>
<path fill="#ed690d" d="M236 178l5 7 11 4-6-6z"/>
<path fill="#0dedbc" d="M595 363l10 10 13 3-9-10z"/>
<path fill="#0d39ed" d="M817 464l1 2 5-15-1-2z"/>
<path fill="#0ded6f" d="M492 337l11 4 14 1-10-5z"/>
<path class="e" d="M112 321L119 316"/>
<path fill="#ed8d0d" d="M252 189l6 8 11 5-6-7z"/>
<path fill="#310ded" d="M805 489l2 5 5-15-1-4z"/>
<path fill="#0ded5a" d="M452 323l10 10 15 5-10-9z"/>
<path fill="#ed970d" d="M129 200l0-2 4-10 0 3z"/>
<path fill="#5fed0d" d="M365 269l9 9 14 7-9-10z"/>
<path fill="#ed0d0d" d="M179 147l2 3 7 0-2-3z"/>
<path fill="#edb30d" d="M269 202l7 8 12 6-7-8z"/>
<path fill="#ed0d0d" d="M157 151l1 1 6-4-1 0z"/>
<path fill="#710ded" d="M792 509l2 7 6-13-2-6z"/>
<path fill="#0deddf" d="M618 376l9 11 13 4-8-12z"/>
<path fill="#7a0ded" d="M756 503l4 14 7-4-3-14z"/>
<path fill="#5a0ded" d="M744 490l4 15 8-2-4-15z"/>
<path fill="#ed0d0d" d="M188 150l3 4 8 2-3-4z"/>
<path fill="#ed580d" d="M137 179l0-1 4-8 0 1z"/>
<path fill="#30ed0d" d="M388 285l10 10 15 6-10-10z"/>
<path fill="#edb60d" d="M125 210l0-2 4-10 0 2z"/>
<path fill="#ed270d" d="M146 163l0-1 6-6-1 1z"/>
<path fill="#eddd0d" d="M288 216l7 9 13 6-8-9z"/>
<path fill="#320ded" d="M730 475l5 15 9 0-5-15z"/>
<path fill="#8f0ded" d="M767 513l3 12 7-7-3-11z"/>
<path fill="#0dd2ed" d="M640 391l9 12 12 4-8-13z"/>
<path fill="#0ded93" d="M557 350l10 8 14 3-9-9z"/>
<path fill="#0d15ed" d="M715 458l6 16 9 1-5-16z"/>
<path fill="#ed200d" d="M199 156l4 5 9 3-4-5z"/>
<path fill="#0da6ed" d="M661 407l8 13 11 4-7-14z"/>
<path fill="#0d46ed" d="M698 441l7 15 10 2-6-15z"/>
<path fill="#edd80d" d="M121 222l0-3 4-11 0 2z"/>
<path fill="#d3ed0d" d="M308 231l8 9 13 6-8-9z"/>
<path fill="#0d76ed" d="M680 424l7 14 11 3-6-15z"/>
<path fill="#ed0d0d" d="M164 148l1 2 7-2-2-2z"/>
<path fill="#0dbded" d="M832 422l1-1 4-14 0 1z"/>
<path fill="#960ded" d="M777 518l3 10 6-8-2-10z"/>
<path fill="#0ded18" d="M413 301l10 10 14 6-10-9z"/>
<path fill="#ed390d" d="M212 164l4 6 10 4-5-7z"/>
<path fill="#ed710d" d="M133 188l0-1 4-9 0 1z"/>
<path fill="#0ded6d" d="M477 338l11 3 15 0-11-4z"/>
<path fill="#0ded78" d="M517 342l11 5 15 2-11-7z"/>
<path fill="#0d67ed" d="M823 451l0 0 5-15-1 0z"/>
<path fill="#e2ed0d" d="M120 226l-2 5 3-12 0 3z"/>
<path fill="#0d11ed" d="M812 479l1 2 5-15-1-2z"/>
<path class="e" d="M844 354L846 348"/>
<path fill="#a5ed0d" d="M329 246l9 10 13 6-9-9z"/>
<path fill="#ed570d" d="M226 174l5 7 10 4-5-7z"/>
<path fill="#560ded" d="M800 503l1 5 6-14-2-5z"/>
<path fill="#ed120d" d="M152 156l0 1 6-5-1-1z"/>
<path fill="#ed3a0d" d="M141 170l0-1 5-7 0 1z"/>
<path fill="#ed0d0d" d="M172 148l2 3 7-1-2-3z"/>
<path fill="#0dedaf" d="M581 361l10 9 14 3-10-10z"/>
<path fill="#ed790d" d="M241 185l6 7 11 5-6-8z"/>
<path fill="#0ded45" d="M437 317l10 10 15 6-10-10z"/>
<path fill="#ed8d0d" d="M129 198l0-1 4-10 0 1z"/>
<path fill="#8e0ded" d="M786 520l2 7 6-11-2-7z"/>
<path fill="#77ed0d" d="M351 262l9 10 14 6-9-9z"/>
<path fill="#ed9f0d" d="M258 197l6 8 12 5-7-8z"/>
<path fill="#ed0d0d" d="M181 150l2 4 8 0-3-4z"/>
<path fill="#edac0d" d="M125 208l0-1 4-10 0 1z"/>
<path fill="#ed0d0d" d="M158 152l1 2 6-4-1-2z"/>
<path fill="#48ed0d" d="M374 278l10 10 14 7-10-10z"/>
<path fill="#ed500d" d="M137 178l0 0 4-9 0 1z"/>
<path fill="#edc70d" d="M276 210l7 9 12 6-7-9z"/>
<path fill="#0dedd1" d="M605 373l9 11 13 3-9-11z"/>
<path fill="#7c0ded" d="M748 505l4 14 8-2-4-14z"/>
<path fill="#ed170d" d="M191 154l3 6 9 1-4-5z"/>
<path fill="#980ded" d="M760 517l3 12 7-4-3-12z"/>
<path fill="#ed220d" d="M146 162l1 1 5-6 0-1z"/>
<path fill="#edce0d" d="M121 219l0-1 4-11 0 1z"/>
<path fill="#0ded89" d="M543 349l10 7 14 2-10-8z"/>
<path fill="#560ded" d="M735 490l5 15 8 0-4-15z"/>
<path fill="#0ded6a" d="M462 333l11 9 15-1-11-3z"/>
<path fill="#e9ed0d" d="M118 231l0-1 3-12 0 1z"/>
<path fill="#e9ed0d" d="M295 225l8 9 13 6-8-9z"/>
<path fill="#290ded" d="M721 474l5 15 9 1-5-15z"/>
<path fill="#ed2d0d" d="M203 161l4 7 9 2-4-6z"/>
<path fill="#a70ded" d="M770 525l3 10 7-7-3-10z"/>
<path fill="#0ded73" d="M503 341l10 5 15 1-11-5z"/>
<path fill="#300ded" d="M807 494l1 2 5-15-1-2z"/>
<path fill="#c6ed0d" d="M116 236l-1 6 3-12 0 1z"/>
<path fill="#0de2ed" d="M627 387l9 12 13 4-9-12z"/>
<path fill="#0d98ed" d="M828 436l1 0 4-15-1 1z"/>
<path fill="#19ed0d" d="M398 295l10 10 15 6-10-10z"/>
<path fill="#0d40ed" d="M818 466l1 1 4-16 0 0z"/>
<path fill="#780ded" d="M794 516l2 5 5-13-1-5z"/>
<path fill="#ed0d0d" d="M165 150l2 3 7-2-2-3z"/>
<path fill="#ed6a0d" d="M133 187l0 0 4-9 0 0z"/>
<path fill="#0d21ed" d="M705 456l6 15 10 3-6-16z"/>
<path fill="#ed480d" d="M216 170l5 7 10 4-5-7z"/>
<path fill="#0db6ed" d="M649 403l8 13 12 4-8-13z"/>
<path fill="#bded0d" d="M316 240l8 9 14 7-9-10z"/>
<path fill="#0d54ed" d="M687 438l7 15 11 3-7-15z"/>
<path fill="#0d86ed" d="M669 420l7 14 11 4-7-14z"/>
<path fill="#ed350d" d="M141 169l1 1 5-7-1-1z"/>
<path fill="#ed110d" d="M152 157l1 2 6-5-1-2z"/>
<path fill="#ed690d" d="M231 181l5 8 11 3-6-7z"/>
<path fill="#a70ded" d="M780 528l2 8 6-9-2-7z"/>
<path fill="#ed870d" d="M129 197l0 0 4-10 0 0z"/>
<path fill="#ed0d0d" d="M174 151l2 4 7-1-2-4z"/>
<path fill="#0ded2e" d="M423 311l10 10 14 6-10-10z"/>
<path fill="#8fed0d" d="M338 256l9 9 13 7-9-10z"/>
<path fill="#0deda2" d="M567 358l10 8 14 4-10-9z"/>
<path fill="#ed8c0d" d="M247 192l6 9 11 4-6-8z"/>
<path fill="#eda70d" d="M125 207l0 1 4-11 0 0z"/>
<path fill="#a3ed0d" d="M114 248l-2 7 3-12 0-1z"/>
<path fill="#ed110d" d="M183 154l3 6 8 0-3-6z"/>
<path fill="#c7ed0d" d="M115 242l0 1 3-12 0-1z"/>
<path fill="#edca0d" d="M121 218l1 1 3-11 0-1z"/>
<path fill="#eded0d" d="M118 230l0 1 4-12-1-1z"/>
<path fill="#edb30d" d="M264 205l7 9 12 5-7-9z"/>
<path fill="#ed4d0d" d="M137 178l0 1 5-9-1-1z"/>
<path fill="#60ed0d" d="M360 272l10 10 14 6-10-10z"/>
<path fill="#ed0d0d" d="M159 154l2 3 6-4-2-3z"/>
<path fill="#0ded59" d="M447 327l11 10 15 5-11-9z"/>
<path fill="#0ded80" d="M528 347l10 6 15 3-10-7z"/>
<path fill="#0ded6f" d="M488 341l10 5 15 0-10-5z"/>
<path fill="#560ded" d="M801 508l2 2 5-14-1-2z"/>
<path fill="#ed210d" d="M147 163l1 2 5-6-1-2z"/>
<path fill="#ed240d" d="M194 160l4 7 9 1-4-7z"/>
<path fill="#0dc9ed" d="M833 421l1-2 2-6 1-6z"/>
<path fill="#970ded" d="M788 527l2 5 6-11-2-5z"/>
<path fill="#0dedc2" d="M591 370l10 9 13 5-9-11z"/>
<path fill="#eddc0d" d="M283 219l8 10 12 5-8-9z"/>
<path fill="#0d18ed" d="M813 481l1 1 5-15-1-1z"/>
<path fill="#9b0ded" d="M752 519l4 13 7-3-3-12z"/>
<path fill="#0ded68" d="M104 326l0 0 2 0-1-10z"/>
<path fill="#790ded" d="M740 505l4 14 8 0-4-14z"/>
<path fill="#0d72ed" d="M823 451l1 0 5-15-1 0z"/>
<path fill="#ed680d" d="M133 187l0 2 4-10 0-1z"/>
<path fill="#31ed0d" d="M384 288l10 10 14 7-10-10z"/>
<path fill="#b10ded" d="M763 529l4 11 6-5-3-10z"/>
<path fill="#7bed0d" d="M111 261l-1 7 3-11-1-2z"/>
<path fill="#ed3d0d" d="M207 168l4 7 10 2-5-7z"/>
<path fill="#ed0d0d" d="M167 153l2 5 7-3-2-4z"/>
<path fill="#4e0ded" d="M726 489l5 14 9 2-5-15z"/>
<path fill="#9fed0d" d="M112 255l1 2 3-12-1-2z"/>
<path fill="#0ded68" d="M106 326l2 0 1 1-1-11z"/>
<path fill="#d3ed0d" d="M303 234l8 10 13 5-8-9z"/>
<path fill="#0ded4b" d="M105 316l1 10 2-10-1-10z"/>
<path fill="#0ded31" d="M106 308l-1 8 2-10-1-7z"/>
<path fill="#ed870d" d="M129 197l0 2 4-10 0-2z"/>
<path fill="#ed5b0d" d="M221 177l5 9 10 3-5-8z"/>
<path class="e" d="M104 326L112 321"/>
<path fill="#4fed0d" d="M109 276l-1 7 3-11-1-4z"/>
<path fill="#0dede8" d="M614 384l9 11 13 4-9-12z"/>
<path fill="#c5ed0d" d="M115 243l1 2 3-12-1-2z"/>
<path fill="#1d0ded" d="M711 471l6 15 9 3-5-15z"/>
<path fill="#ed360d" d="M142 170l1 3 5-8-1-2z"/>
<path fill="#1eed0d" d="M107 291l-1 8 3-10-1-6z"/>
<path fill="#b90ded" d="M773 535l3 9 6-8-2-8z"/>
<path fill="#0ded67" d="M109 327l2 0 2 0-1-12z"/>
<path fill="#eda80d" d="M125 208l1 2 3-11 0-2z"/>
<path fill="#ed150d" d="M153 159l2 3 6-5-2-3z"/>
<path fill="#ebed0d" d="M118 231l1 2 3-12 0-2z"/>
<path fill="#edcb0d" d="M122 219l0 2 4-11-1-2z"/>
<path fill="#0ded17" d="M408 305l10 10 15 6-10-10z"/>
<path fill="#0ded0f" d="M106 299l1 7 3-10-1-7z"/>
<path fill="#0ded47" d="M108 316l1 11 3-12-1-11z"/>
<path fill="#72ed0d" d="M110 268l1 4 3-11-1-4z"/>
<path fill="#a6ed0d" d="M324 249l9 10 14 6-9-9z"/>
<path fill="#ed100d" d="M176 155l3 6 7-1-3-6z"/>
<path fill="#ed7d0d" d="M236 189l6 8 11 4-6-9z"/>
<path fill="#0d30ed" d="M694 453l7 14 10 4-6-15z"/>
<path fill="#0ded28" d="M107 306l1 10 3-12-1-8z"/>
<path fill="#0dc7ed" d="M636 399l9 12 12 5-8-13z"/>
<path fill="#40ed0d" d="M108 283l1 6 3-11-1-6z"/>
<path fill="#0ded67" d="M113 327l2 0 3 1-2-14z"/>
<path fill="#0ded96" d="M553 356l10 7 14 3-10-8z"/>
<path fill="#0d64ed" d="M676 434l8 14 10 5-7-15z"/>
<path fill="#0d97ed" d="M657 416l8 13 11 5-7-14z"/>
<path fill="#0ded6d" d="M473 342l11 3 14 1-10-5z"/>
<path fill="#98ed0d" d="M113 257l1 4 2-12 0-4z"/>
<path fill="#ed4f0d" d="M137 179l1 3 5-9-1-3z"/>
<path fill="#eda20d" d="M253 201l7 9 11 4-7-9z"/>
<path fill="#0ded44" d="M112 315l1 12 3-13-1-11z"/>
<path fill="#2eed0d" d="M109 289l1 7 3-12-1-6z"/>
<path fill="#790ded" d="M796 521l2 3 5-14-2-2z"/>
<path fill="#ed200d" d="M186 160l4 7 8 0-4-7z"/>
<path fill="#77ed0d" d="M347 265l9 10 14 7-10-10z"/>
<path fill="#65ed0d" d="M111 272l1 6 2-12 0-5z"/>
<path fill="#0ded67" d="M118 328l2 0 3 0-2-14z"/>
<path fill="#0ded21" d="M111 304l1 11 3-12-1-10z"/>
<path fill="#0ded79" d="M513 346l11 6 14 1-10-6z"/>
<path fill="#16ed0d" d="M110 296l1 8 3-11-1-9z"/>
<path fill="#ed100d" d="M161 157l2 5 6-4-2-5z"/>
<path fill="#beed0d" d="M116 245l0 4 3-12 0-4z"/>
<path fill="#290ded" d="M808 496l1 1 5-15-1-1z"/>
<path fill="#0ded44" d="M433 321l10 10 15 6-11-10z"/>
<path fill="#b10ded" d="M782 536l3 6 5-10-2-5z"/>
<path fill="#ed260d" d="M148 165l1 4 6-7-2-3z"/>
<path fill="#ed6b0d" d="M133 189l1 3 4-10-1-3z"/>
<path fill="#edca0d" d="M271 214l8 10 12 5-8-10z"/>
<path fill="#0ded41" d="M116 314l2 14 3-14-2-12z"/>
<path fill="#ed360d" d="M198 167l5 8 8 0-4-7z"/>
<path fill="#e4ed0d" d="M119 233l0 4 4-12-1-4z"/>
<path fill="#53ed0d" d="M112 278l1 6 2-11-1-7z"/>
<path fill="#0d4bed" d="M819 467l1-1 4-15-1 0z"/>
<path fill="#8bed0d" d="M114 261l0 5 3-12-1-5z"/>
<path fill="#ed8b0d" d="M129 199l1 3 4-10-1-3z"/>
<path fill="#0ded66" d="M123 328l3 1 3 0-3-15z"/>
<path fill="#edd10d" d="M122 221l1 4 3-11 0-4z"/>
<path fill="#48ed0d" d="M370 282l10 10 14 6-10-10z"/>
<path fill="#edad0d" d="M126 210l0 4 4-12-1-3z"/>
<path fill="#0ded1b" d="M115 303l1 11 3-12-1-11z"/>
<path fill="#3ced0d" d="M113 284l1 9 2-12-1-8z"/>
<path fill="#0da8ed" d="M829 436l0-3 5-14-1 2z"/>
<path fill="#0dedb3" d="M577 366l10 9 14 4-10-9z"/>
<path fill="#20ed0d" d="M114 293l1 10 3-12-2-10z"/>
<path fill="#e7ed0d" d="M291 229l8 9 12 6-8-10z"/>
<path fill="#ed510d" d="M211 175l5 9 10 2-5-9z"/>
<path fill="#ed140d" d="M169 158l3 6 7-3-3-6z"/>
<path fill="#0ded3e" d="M121 314l2 14 3-14-2-13z"/>
<path fill="#980ded" d="M744 519l5 12 7 1-4-13z"/>
<path fill="#b1ed0d" d="M116 249l1 5 3-12-1-5z"/>
<path fill="#b50ded" d="M756 532l4 10 7-2-4-11z"/>
<path fill="#ed3c0d" d="M143 173l1 4 5-8-1-4z"/>
<path fill="#79ed0d" d="M114 266l1 7 3-12-1-7z"/>
<path class="e" d="M841 359L844 354"/>
<path fill="#0ded66" d="M129 329l3 0 3 1-2-16z"/>
<path fill="#ed1e0d" d="M155 162l2 5 6-5-2-5z"/>
<path fill="#700ded" d="M731 503l5 14 8 2-4-14z"/>
<path fill="#ed700d" d="M226 186l6 9 10 2-6-8z"/>
<path fill="#0ded15" d="M119 302l2 12 3-13-2-12z"/>
<path fill="#0ded6a" d="M458 337l11 9 15-1-11-3z"/>
<path fill="#bbed0d" d="M311 244l9 10 13 5-9-10z"/>
<path fill="#c50ded" d="M767 540l3 9 6-5-3-9z"/>
<path fill="#d8ed0d" d="M119 237l1 5 4-12-1-5z"/>
<path fill="#19ed0d" d="M394 298l10 11 14 6-10-10z"/>
<path fill="#63ed0d" d="M115 273l1 8 3-12-1-8z"/>
<path fill="#ed200d" d="M179 161l3 7 8-1-4-7z"/>
<path fill="#28ed0d" d="M118 291l1 11 3-13-1-11z"/>
<path fill="#ed560d" d="M138 182l1 4 5-9-1-4z"/>
<path fill="#48ed0d" d="M116 281l2 10 3-13-2-9z"/>
<path fill="#0ded3c" d="M126 314l3 15 4-15-3-14z"/>
<path fill="#a0ed0d" d="M117 254l1 7 3-12-1-7z"/>
<path fill="#400ded" d="M717 486l6 14 8 3-5-14z"/>
<path fill="#0dedd7" d="M601 379l9 11 13 5-9-11z"/>
<path fill="#ed940d" d="M242 197l7 10 11 3-7-9z"/>
<path fill="#990ded" d="M790 532l2 4 6-12-2-3z"/>
<path fill="#eddd0d" d="M123 225l1 5 3-11-1-5z"/>
<path fill="#0ded8b" d="M538 353l11 7 14 3-10-7z"/>
<path fill="#ed740d" d="M134 192l1 4 4-10-1-4z"/>
<path fill="#0ded73" d="M498 346l11 4 15 2-11-6z"/>
<path fill="#edb80d" d="M126 214l1 5 4-12-1-5z"/>
<path fill="#0ded66" d="M135 330l4 0 4 1-3-16z"/>
<path fill="#500ded" d="M803 510l1 1 5-14-1-1z"/>
<path fill="#ed940d" d="M130 202l1 5 4-11-1-4z"/>
<path fill="#0ded11" d="M124 301l2 13 4-14-2-12z"/>
<path fill="#ed330d" d="M190 167l4 8 9 0-5-8z"/>
<path fill="#8ded0d" d="M333 259l9 11 14 5-9-10z"/>
<path fill="#0d0ded" d="M701 467l6 14 10 5-6-15z"/>
<path fill="#ed1e0d" d="M163 162l2 6 7-4-3-6z"/>
<path fill="#8aed0d" d="M118 261l1 8 4-12-2-8z"/>
<path fill="#ed300d" d="M149 169l2 5 6-7-2-5z"/>
<path fill="#c7ed0d" d="M120 242l1 7 4-12-1-7z"/>
<path fill="#edba0d" d="M260 210l7 10 12 4-8-10z"/>
<path fill="#c50ded" d="M776 544l3 6 6-8-3-6z"/>
<path fill="#0ded2e" d="M418 315l11 10 14 6-10-10z"/>
<path fill="#0ddaed" d="M623 395l9 11 13 5-9-12z"/>
<path fill="#2fed0d" d="M122 289l2 12 4-13-2-12z"/>
<path fill="#0ded3b" d="M133 314l2 16 5-15-3-14z"/>
<path fill="#70ed0d" d="M119 269l2 9 3-12-1-9z"/>
<path fill="#52ed0d" d="M121 278l1 11 4-13-2-10z"/>
<path fill="#0d43ed" d="M684 448l7 14 10 5-7-14z"/>
<path fill="#0d23ed" d="M814 482l1-1 5-15-1 1z"/>
<path fill="#ed4b0d" d="M203 175l4 8 9 1-5-9z"/>
<path fill="#0dabed" d="M645 411l8 13 12 5-8-13z"/>
<path fill="#0d78ed" d="M665 429l8 14 11 5-8-14z"/>
<path fill="#eded0d" d="M124 230l1 7 3-12-1-6z"/>
<path fill="#5fed0d" d="M356 275l10 11 14 6-10-10z"/>
<path fill="#ede20d" d="M279 224l8 10 12 4-8-9z"/>
<path fill="#b2ed0d" d="M121 249l2 8 3-12-1-8z"/>
<path fill="#ed470d" d="M144 177l2 5 5-8-2-5z"/>
<path fill="#0ded0e" d="M130 300l3 14 4-13-3-14z"/>
<path fill="#ed250d" d="M172 164l3 7 7-3-3-7z"/>
<path fill="#0ded66" d="M143 331l5 0 5 1-4-16z"/>
<path fill="#ed680d" d="M216 184l6 9 10 2-6-9z"/>
<path fill="#0d81ed" d="M824 451l1-3 4-15 0 3z"/>
<path fill="#edc70d" d="M127 219l1 6 4-12-1-6z"/>
<path fill="#ed2c0d" d="M157 167l2 7 6-6-2-6z"/>
<path fill="#35ed0d" d="M128 288l2 12 4-13-2-12z"/>
<path fill="#98ed0d" d="M123 257l1 9 4-12-2-9z"/>
<path fill="#ed620d" d="M139 186l2 6 5-10-2-5z"/>
<path fill="#0ded3b" d="M140 315l3 16 6-15-4-15z"/>
<path fill="#eda30d" d="M131 207l1 6 4-11-1-6z"/>
<path fill="#5aed0d" d="M126 276l2 12 4-13-2-11z"/>
<path fill="#7bed0d" d="M124 266l2 10 4-12-2-10z"/>
<path fill="#0deda4" d="M563 363l10 8 14 4-10-9z"/>
<path fill="#ed810d" d="M135 196l1 6 5-10-2-6z"/>
<path fill="#0ded59" d="M443 331l11 9 15 6-11-9z"/>
<path fill="#d9ed0d" d="M125 237l1 8 4-12-2-8z"/>
<path fill="#ceed0d" d="M299 238l8 11 13 5-9-10z"/>
<path class="e" d="M104 326L121 328"/>
<path fill="#ed340d" d="M182 168l4 9 8-2-4-8z"/>
<path fill="#ed890d" d="M232 195l6 10 11 2-7-10z"/>
<path fill="#30ed0d" d="M380 292l10 10 14 7-10-11z"/>
<path fill="#0ded0d" d="M137 301l3 14 5-14-3-14z"/>
<path fill="#0ded6f" d="M484 345l10 4 15 1-11-4z"/>
<path fill="#b40ded" d="M785 542l2 3 5-9-2-4z"/>
<path fill="#b20ded" d="M749 531l4 11 7 0-4-10z"/>
<path fill="#740ded" d="M798 524l2 0 4-13-1-1z"/>
<path fill="#ed3f0d" d="M151 174l2 7 6-7-2-7z"/>
<path fill="#c0ed0d" d="M126 245l2 9 4-13-2-8z"/>
<path fill="#eddb0d" d="M128 225l2 8 4-12-2-8z"/>
<path fill="#0ded66" d="M153 332l5 0 5 1-5-16z"/>
<path fill="#ca0ded" d="M760 542l3 9 7-2-3-9z"/>
<path fill="#8e0ded" d="M736 517l5 12 8 2-5-12z"/>
<path fill="#ed300d" d="M165 168l3 8 7-5-3-7z"/>
<path fill="#38ed0d" d="M134 287l3 14 5-14-3-13z"/>
<path fill="#0ded81" d="M524 352l11 6 14 2-11-7z"/>
<path fill="#edad0d" d="M249 207l7 10 11 3-7-10z"/>
<path fill="#ed490d" d="M194 175l5 9 8-1-4-8z"/>
<path fill="#a1ed0d" d="M320 254l9 10 13 6-9-11z"/>
<path fill="#a4ed0d" d="M128 254l2 10 4-13-2-10z"/>
<path fill="#0ded3b" d="M149 316l4 16 5-15-4-15z"/>
<path fill="#5fed0d" d="M132 275l2 12 5-13-3-12z"/>
<path fill="#83ed0d" d="M130 264l2 11 4-13-2-11z"/>
<path fill="#edb60d" d="M132 213l2 8 4-11-2-8z"/>
<path fill="#ed570d" d="M146 182l2 7 5-8-2-7z"/>
<path fill="#610ded" d="M723 500l5 13 8 4-5-14z"/>
<path fill="#0ded18" d="M404 309l11 10 14 6-11-10z"/>
<path fill="#0dedc5" d="M587 375l10 10 13 5-9-11z"/>
<path fill="#1e0ded" d="M809 497l2-1 4-15-1 1z"/>
<path fill="#ed930d" d="M136 202l2 8 5-11-2-7z"/>
<path fill="#e8ed0d" d="M130 233l2 8 4-11-2-9z"/>
<path fill="#ed730d" d="M141 192l2 7 5-10-2-7z"/>
<path fill="#ed630d" d="M207 183l6 10 9 0-6-9z"/>
<path fill="#0ded0d" d="M145 301l4 15 5-14-4-14z"/>
<path fill="#edd30d" d="M267 220l8 11 12 3-8-10z"/>
<path fill="#d20ded" d="M770 549l3 6 6-5-3-6z"/>
<path fill="#ed3b0d" d="M175 171l4 9 7-3-4-9z"/>
<path fill="#ed3f0d" d="M159 174l3 8 6-6-3-8z"/>
<path fill="#74ed0d" d="M342 270l10 10 14 6-10-11z"/>
<path fill="#2e0ded" d="M707 481l7 14 9 5-6-14z"/>
<path fill="#39ed0d" d="M142 287l3 14 5-13-3-13z"/>
<path fill="#cbed0d" d="M132 241l2 10 4-12-2-9z"/>
<path fill="#edcd0d" d="M134 221l2 9 4-12-2-8z"/>
<path fill="#ed820d" d="M222 193l6 11 10 1-6-10z"/>
<path fill="#62ed0d" d="M139 274l3 13 5-12-4-13z"/>
<path fill="#0ded66" d="M163 333l6 1 6 0-5-15z"/>
<path fill="#aced0d" d="M134 251l2 11 4-12-2-11z"/>
<path fill="#0d5aed" d="M820 466l1-3 4-15-1 3z"/>
<path fill="#88ed0d" d="M136 262l3 12 4-12-3-12z"/>
<path fill="#deed0d" d="M287 234l8 11 12 4-8-11z"/>
<path fill="#0deded" d="M610 390l10 10 12 6-9-11z"/>
<path fill="#0ded3c" d="M158 317l5 16 7-14-5-15z"/>
<path class="e" d="M121 328L137 330"/>
<path fill="#ed4c0d" d="M186 177l4 9 9-2-5-9z"/>
<path fill="#0ded6d" d="M469 346l11 3 14 0-10-4z"/>
<path fill="#ed530d" d="M153 181l3 8 6-7-3-8z"/>
<path fill="#0d22ed" d="M691 462l7 14 9 5-6-14z"/>
<path fill="#edaa0d" d="M138 210l2 8 5-10-2-9z"/>
<path fill="#0ded45" d="M429 325l11 10 14 5-11-9z"/>
<path fill="#0db7ed" d="M829 433l1-3 2-6 2-5z"/>
<path fill="#ed460d" d="M168 176l3 9 8-5-4-9z"/>
<path fill="#ede90d" d="M136 230l2 9 4-11-2-10z"/>
<path fill="#0ded0e" d="M154 302l4 15 7-13-5-14z"/>
<path fill="#ed6c0d" d="M148 189l2 9 6-9-3-8z"/>
<path fill="#46ed0d" d="M366 286l10 10 14 6-10-10z"/>
<path fill="#ed890d" d="M143 199l2 9 5-10-2-9z"/>
<path fill="#eda30d" d="M238 205l7 10 11 2-7-10z"/>
<path fill="#0d58ed" d="M673 443l7 13 11 6-7-14z"/>
<path fill="#0dbfed" d="M632 406l9 12 12 6-8-13z"/>
<path fill="#950ded" d="M792 536l3 0 5-12-2 0z"/>
<path fill="#0ded97" d="M549 360l10 8 14 3-10-8z"/>
<path fill="#0d8ded" d="M653 424l8 12 12 7-8-14z"/>
<path fill="#c90ded" d="M779 550l3 3 5-8-2-3z"/>
<path fill="#38ed0d" d="M150 288l4 14 6-12-4-14z"/>
<path fill="#ed630d" d="M199 184l5 11 9-2-6-10z"/>
<path fill="#b3ed0d" d="M307 249l9 10 13 5-9-10z"/>
<path fill="#d2ed0d" d="M138 239l2 11 5-11-3-11z"/>
<path fill="#0ded79" d="M509 350l11 6 15 2-11-6z"/>
<path fill="#62ed0d" d="M147 275l3 13 6-12-4-13z"/>
<path fill="#b0ed0d" d="M140 250l3 12 5-11-3-12z"/>
<path fill="#edc50d" d="M140 218l2 10 5-11-2-9z"/>
<path fill="#8aed0d" d="M143 262l4 13 5-12-4-12z"/>
<path fill="#ed570d" d="M162 182l3 9 6-6-3-9z"/>
<path fill="#edc80d" d="M256 217l7 11 12 3-8-11z"/>
<path fill="#ed540d" d="M179 180l4 10 7-4-4-9z"/>
<path fill="#450ded" d="M804 511l2-1 5-14-2 1z"/>
<path fill="#ed7f0d" d="M213 193l5 11 10 0-6-11z"/>
<path fill="#eda40d" d="M145 208l2 9 6-10-3-9z"/>
<path fill="#0ded67" d="M175 334l6 1 7 1-6-15z"/>
<path fill="#17ed0d" d="M390 302l10 10 15 7-11-10z"/>
<path fill="#0ded3e" d="M170 319l5 15 7-13-6-14z"/>
<path fill="#ed6c0d" d="M156 189l3 10 6-8-3-9z"/>
<path fill="#ede40d" d="M142 228l3 11 5-11-3-11z"/>
<path fill="#ed860d" d="M150 198l3 9 6-8-3-10z"/>
<path fill="#87ed0d" d="M329 264l10 11 13 5-10-10z"/>
<path fill="#0ded11" d="M165 304l5 15 6-12-5-15z"/>
<path fill="#c60ded" d="M753 542l4 8 6 1-3-9z"/>
<path fill="#a80ded" d="M741 529l5 10 7 3-4-11z"/>
<path fill="#0ded6a" d="M454 340l11 9 15 0-11-3z"/>
<path fill="#ebed0d" d="M275 231l8 10 12 4-8-11z"/>
<path fill="#ed680d" d="M190 186l5 11 9-2-5-11z"/>
<path fill="#35ed0d" d="M160 290l5 14 6-12-5-13z"/>
<path fill="#d4ed0d" d="M145 239l3 12 6-11-4-12z"/>
<path fill="#ed610d" d="M171 185l4 10 8-5-4-10z"/>
<path fill="#ed9e0d" d="M228 204l7 11 10 0-7-10z"/>
<path fill="#5fed0d" d="M156 276l4 14 6-11-4-14z"/>
<path fill="#b0ed0d" d="M148 251l4 12 6-11-4-12z"/>
<path fill="#88ed0d" d="M152 263l4 13 6-11-4-13z"/>
<path fill="#0dedb5" d="M573 371l11 9 13 5-10-10z"/>
<path fill="#edc20d" d="M147 217l3 11 6-10-3-11z"/>
<path fill="#7e0ded" d="M728 513l5 12 8 4-5-12z"/>
<path fill="#d70ded" d="M763 551l4 6 6-2-3-6z"/>
<path class="e" d="M137 330L154 332"/>
<path fill="#0d32ed" d="M815 481l1-3 5-15-1 3z"/>
<path fill="#ed730d" d="M165 191l3 11 7-7-4-10z"/>
<path fill="#eda40d" d="M153 207l3 11 6-9-3-10z"/>
<path fill="#0ded2f" d="M415 319l10 10 15 6-11-10z"/>
<path fill="#5aed0d" d="M352 280l10 11 14 5-10-10z"/>
<path fill="#ed800d" d="M204 195l5 11 9-2-5-11z"/>
<path fill="#ed890d" d="M159 199l3 10 6-7-3-11z"/>
<path fill="#ede40d" d="M150 228l4 12 6-10-4-12z"/>
<path fill="#c2ed0d" d="M295 245l9 11 12 3-9-10z"/>
<path fill="#edc00d" d="M245 215l7 12 11 1-7-11z"/>
<path fill="#4d0ded" d="M714 495l6 12 8 6-5-13z"/>
<path fill="#b00ded" d="M787 545l2 1 6-10-3 0z"/>
<path fill="#ed710d" d="M183 190l4 11 8-4-5-11z"/>
<path fill="#0ded73" d="M494 349l12 5 14 2-11-6z"/>
<path fill="#d2ed0d" d="M154 240l4 12 6-10-4-12z"/>
<path fill="#0ded40" d="M182 321l6 15 8-13-6-14z"/>
<path fill="#0ded15" d="M176 307l6 14 8-12-6-13z"/>
<path fill="#0ded8b" d="M535 358l10 6 14 4-10-8z"/>
<path fill="#aced0d" d="M158 252l4 13 6-10-4-13z"/>
<path fill="#0ded67" d="M188 336l7 1 8 1-7-15z"/>
<path fill="#edc50d" d="M156 218l4 12 6-9-4-12z"/>
<path fill="#30ed0d" d="M171 292l5 15 8-11-6-14z"/>
<path fill="#0d95ed" d="M825 448l1-3 4-15-1 3z"/>
<path fill="#84ed0d" d="M162 265l4 14 7-11-5-13z"/>
<path fill="#5aed0d" d="M166 279l5 13 7-10-5-14z"/>
<path fill="#0dedda" d="M597 385l10 10 13 5-10-10z"/>
<path fill="#d60ded" d="M773 555l3 3 6-5-3-3z"/>
<path fill="#ed9d0d" d="M218 204l7 11 10 0-7-11z"/>
<path fill="#ed7f0d" d="M175 195l5 11 7-5-4-11z"/>
<path fill="#180ded" d="M698 476l6 12 10 7-7-14z"/>
<path fill="#690ded" d="M800 524l1-1 5-13-2 1z"/>
<path fill="#ede50d" d="M263 228l8 11 12 2-8-10z"/>
<path fill="#eda90d" d="M162 209l4 12 7-8-5-11z"/>
<path fill="#ed870d" d="M195 197l6 12 8-3-5-11z"/>
<path fill="#ed920d" d="M168 202l5 11 7-7-5-11z"/>
<path fill="#98ed0d" d="M316 259l10 11 13 5-10-11z"/>
<path fill="#2ced0d" d="M376 296l10 11 14 5-10-10z"/>
<path fill="#ede90d" d="M160 230l4 12 6-9-4-12z"/>
<path fill="#0d39ed" d="M680 456l8 12 10 8-7-14z"/>
<path fill="#0ded5a" d="M440 335l11 9 14 5-11-9z"/>
<path fill="#0dd5ed" d="M620 400l9 11 12 7-9-12z"/>
<path fill="#edbc0d" d="M235 215l7 11 10 1-7-12z"/>
<path fill="#cced0d" d="M164 242l4 13 7-9-5-13z"/>
<path fill="#ed910d" d="M187 201l5 12 9-4-6-12z"/>
<path fill="#0d70ed" d="M661 436l8 13 11 7-7-13z"/>
<path fill="#edcd0d" d="M166 221l4 12 7-8-4-12z"/>
<path fill="#0da4ed" d="M641 418l9 11 11 7-8-12z"/>
<path class="e" d="M838 364L841 359"/>
<path fill="#eda00d" d="M209 206l6 11 10-2-7-11z"/>
<path fill="#a5ed0d" d="M168 255l5 13 7-9-5-13z"/>
<path fill="#cfed0d" d="M283 241l9 12 12 3-9-11z"/>
<path class="e" d="M154 332L171 334"/>
<path fill="#eda10d" d="M180 206l4 12 8-5-5-12z"/>
<path fill="#7ced0d" d="M173 268l5 14 7-10-5-13z"/>
<path fill="#edb50d" d="M173 213l4 12 7-7-4-12z"/>
<path fill="#0f0ded" d="M811 496l1-3 4-15-1 3z"/>
<path fill="#6ced0d" d="M339 275l10 11 13 5-10-11z"/>
<path fill="#53ed0d" d="M178 282l6 14 7-10-6-14z"/>
<path fill="#2aed0d" d="M184 296l6 13 8-10-7-13z"/>
<path fill="#e9ed0d" d="M170 233l5 13 7-8-5-13z"/>
<path fill="#0ded19" d="M190 309l6 14 9-10-7-14z"/>
<path fill="#0ded1a" d="M400 312l11 11 14 6-10-10z"/>
<path fill="#0ded6f" d="M480 349l11 4 15 1-12-5z"/>
<path fill="#0ded43" d="M196 323l7 15 9-12-7-13z"/>
<path fill="#eddf0d" d="M252 227l8 11 11 1-8-11z"/>
<path fill="#eda80d" d="M201 209l5 12 9-4-6-11z"/>
<path fill="#0deda5" d="M559 368l11 7 14 5-11-9z"/>
<path fill="#edbd0d" d="M225 215l7 12 10-1-7-11z"/>
<path fill="#c50ded" d="M782 553l2 1 5-8-2-1z"/>
<path fill="#bb0ded" d="M746 539l4 8 7 3-4-8z"/>
<path fill="#c2ed0d" d="M175 246l5 13 7-8-5-13z"/>
<path fill="#0ded67" d="M203 338l8 0 8 1-7-13z"/>
<path fill="#edd90d" d="M177 225l5 13 8-7-6-13z"/>
<path fill="#a6ed0d" d="M304 256l9 11 13 3-10-11z"/>
<path fill="#edb40d" d="M192 213l6 12 8-4-5-12z"/>
<path fill="#d30ded" d="M757 550l4 6 6 1-4-6z"/>
<path fill="#edc40d" d="M184 218l6 13 8-6-6-12z"/>
<path fill="#970ded" d="M733 525l5 9 8 5-5-10z"/>
<path fill="#890ded" d="M795 536l2-1 4-12-1 1z"/>
<path fill="#9aed0d" d="M180 259l5 13 8-8-6-13z"/>
<path fill="#0ded81" d="M520 356l11 5 14 3-10-6z"/>
<path fill="#40ed0d" d="M362 291l11 10 13 6-10-11z"/>
<path class="m" d="M147 332l4-6 4 6z"/>
<path fill="#0d6eed" d="M821 463l1-3 4-15-1 3z"/>
<path fill="#d7ed0d" d="M271 239l9 12 12 2-9-12z"/>
<path fill="#72ed0d" d="M185 272l6 14 9-9-7-13z"/>
<path fill="#dbed0d" d="M182 238l5 13 8-7-5-13z"/>
<path fill="#edc10d" d="M215 217l7 12 10-2-7-12z"/>
<path fill="#eddc0d" d="M242 226l7 12 11 0-8-11z"/>
<path fill="#690ded" d="M720 507l5 11 8 7-5-12z"/>
<path fill="#4aed0d" d="M191 286l7 13 8-9-6-13z"/>
<path fill="#0ded46" d="M425 329l11 9 15 6-11-9z"/>
<path fill="#db0ded" d="M767 557l3 3 6-2-3-3z"/>
<path fill="#ede90d" d="M190 231l5 13 9-6-6-13z"/>
<path fill="#edca0d" d="M206 221l7 12 9-4-7-12z"/>
<path fill="#22ed0d" d="M198 299l7 14 8-10-7-13z"/>
<path fill="#7ced0d" d="M326 270l10 11 13 5-10-11z"/>
<path fill="#0ded6d" d="M465 349l12 3 14 1-11-4z"/>
<path fill="#b5ed0d" d="M187 251l6 13 9-7-7-13z"/>
<path fill="#edd80d" d="M198 225l6 13 9-5-7-12z"/>
<path fill="#0dedc7" d="M584 380l10 9 13 6-10-10z"/>
<path fill="#0ded1f" d="M205 313l7 13 9-10-8-13z"/>
<path fill="#340ded" d="M806 510l2-3 4-14-1 3z"/>
<path fill="#350ded" d="M704 488l7 12 9 7-6-12z"/>
<path class="e" d="M171 334L188 336"/>
<path fill="#edde0d" d="M232 227l7 12 10-1-7-12z"/>
<path fill="#b1ed0d" d="M292 253l9 11 12 3-9-11z"/>
<path fill="#8ded0d" d="M193 264l7 13 8-7-6-13z"/>
<path fill="#13ed0d" d="M386 307l11 10 14 6-11-11z"/>
<path class="m" d="M836 362l4-6 4 6z"/>
<path fill="#0ded46" d="M212 326l7 13 10-10-8-13z"/>
<path fill="#dced0d" d="M260 238l8 12 12 1-9-12z"/>
<path fill="#cbed0d" d="M195 244l7 13 8-6-6-13z"/>
<path fill="#66ed0d" d="M200 277l6 13 9-7-7-13z"/>
<path fill="#ede40d" d="M222 229l7 13 10-3-7-12z"/>
<path fill="#0d1ced" d="M688 468l7 12 9 8-6-12z"/>
<path fill="#deed0d" d="M204 238l6 13 9-5-6-13z"/>
<path fill="#0debed" d="M607 395l9 10 13 6-9-11z"/>
<path fill="#eced0d" d="M213 233l6 13 10-4-7-13z"/>
<path fill="#51ed0d" d="M349 286l10 10 14 5-11-10z"/>
<path fill="#0ded68" d="M219 339l9 1 9 2-8-13z"/>
<path fill="#a5ed0d" d="M202 257l6 13 9-7-7-12z"/>
<path fill="#0ded79" d="M506 354l11 5 14 2-11-5z"/>
<path fill="#40ed0d" d="M206 290l7 13 9-8-7-12z"/>
<path fill="#a40ded" d="M789 546l3-2 5-9-2 1z"/>
<path fill="#0ded97" d="M545 364l11 7 14 4-11-7z"/>
<path fill="#d20ded" d="M776 558l3 0 5-4-2-1z"/>
<path fill="#dded0d" d="M249 238l8 12 11 0-8-12z"/>
<path fill="#0d53ed" d="M669 449l8 11 11 8-8-12z"/>
<path fill="#0ded6a" d="M451 344l11 8 15 0-12-3z"/>
<path fill="#89ed0d" d="M313 267l10 11 13 3-10-11z"/>
<path fill="#0dbced" d="M629 411l9 11 12 7-9-11z"/>
<path fill="#b8ed0d" d="M280 251l9 11 12 2-9-11z"/>
<path fill="#0d89ed" d="M650 429l8 12 11 8-8-13z"/>
<path fill="#0d46ed" d="M816 478l2-4 4-14-1 3z"/>
<path fill="#1aed0d" d="M213 303l8 13 9-8-8-13z"/>
<path fill="#0ded32" d="M411 323l11 9 14 6-11-9z"/>
<path fill="#b8ed0d" d="M210 251l7 12 9-5-7-12z"/>
<path fill="#7fed0d" d="M208 270l7 13 9-7-7-13z"/>
<path fill="#daed0d" d="M239 239l7 13 11-2-8-12z"/>
<path fill="#c8ed0d" d="M219 246l7 12 10-4-7-12z"/>
<path fill="#d3ed0d" d="M229 242l7 12 10-2-7-13z"/>
<path fill="#0ded25" d="M221 316l8 13 10-9-9-12z"/>
<path fill="#26ed0d" d="M373 301l10 10 14 6-11-10z"/>
<path fill="#580ded" d="M801 523l2-3 5-13-2 3z"/>
<path fill="#59ed0d" d="M215 283l7 12 10-6-8-13z"/>
<path fill="#bced0d" d="M268 250l9 12 12 0-9-11z"/>
<path fill="#c70ded" d="M750 547l5 5 6 4-4-6z"/>
<path fill="#a90ded" d="M738 534l5 7 7 6-4-8z"/>
<path fill="#93ed0d" d="M217 263l7 13 10-5-8-13z"/>
<path class="e" d="M188 336L205 338"/>
<path fill="#60ed0d" d="M336 281l10 11 13 4-10-10z"/>
<path fill="#93ed0d" d="M301 264l9 11 13 3-10-11z"/>
<path fill="#0da8ed" d="M826 445l1-5 2-5 1-5z"/>
<path fill="#0ded49" d="M229 329l8 13 10-10-8-12z"/>
<path fill="#7f0ded" d="M725 518l6 9 7 7-5-9z"/>
<path fill="#0dedb5" d="M570 375l10 9 14 5-10-9z"/>
<path fill="#d70ded" d="M761 556l4 3 5 1-3-3z"/>
<path fill="#34ed0d" d="M222 295l8 13 10-7-8-12z"/>
<path fill="#bced0d" d="M257 250l9 12 11 0-9-12z"/>
<path fill="#0ded73" d="M491 353l11 4 15 2-11-5z"/>
<path fill="#a3ed0d" d="M226 258l8 13 10-4-8-13z"/>
<path fill="#0ded5a" d="M436 338l12 9 14 5-11-8z"/>
<path fill="#b8ed0d" d="M246 252l9 12 11-2-9-12z"/>
<path fill="#6eed0d" d="M224 276l8 13 10-6-8-12z"/>
<path fill="#afed0d" d="M236 254l8 13 11-3-9-12z"/>
<path fill="#0ded68" d="M237 342l9 1 10 1-9-12z"/>
<path fill="#0ded1f" d="M397 317l11 10 14 5-11-9z"/>
<path fill="#4e0ded" d="M711 500l6 10 8 8-5-11z"/>
<path fill="#99ed0d" d="M289 262l9 12 12 1-9-11z"/>
<path fill="#b90ded" d="M784 554l3-3 5-7-3 2z"/>
<path fill="#11ed0d" d="M230 308l9 12 10-7-9-12z"/>
<path fill="#0ded8b" d="M531 361l11 6 14 4-11-7z"/>
<path fill="#36ed0d" d="M359 296l11 11 13 4-10-10z"/>
<path fill="#0d20ed" d="M812 493l1-4 5-15-2 4z"/>
<path fill="#6ced0d" d="M323 278l10 11 13 3-10-11z"/>
<path fill="#7fed0d" d="M234 271l8 12 10-4-8-12z"/>
<path fill="#4aed0d" d="M232 289l8 12 11-6-9-12z"/>
<path fill="#d70ded" d="M770 560l4 0 5-2-3 0z"/>
<path fill="#0dedda" d="M594 389l10 9 12 7-9-10z"/>
<path fill="#9ced0d" d="M277 262l9 11 12 1-9-12z"/>
<path fill="#190ded" d="M695 480l7 11 9 9-7-12z"/>
<path fill="#770ded" d="M797 535l2-4 4-11-2 3z"/>
<path fill="#0ded2c" d="M239 320l8 12 11-8-9-11z"/>
<path fill="#8ced0d" d="M244 267l8 12 11-3-8-12z"/>
<path fill="#0ded6f" d="M477 352l11 4 14 1-11-4z"/>
<path fill="#9bed0d" d="M266 262l8 12 12-1-9-11z"/>
<path fill="#95ed0d" d="M255 264l8 12 11-2-8-12z"/>
<path fill="#0d38ed" d="M677 460l8 11 10 9-7-12z"/>
<path fill="#75ed0d" d="M310 275l10 12 13 2-10-11z"/>
<path class="e" d="M205 338L222 340"/>
<path fill="#28ed0d" d="M240 301l9 12 10-6-8-12z"/>
<path fill="#0dd5ed" d="M616 405l10 10 12 7-9-11z"/>
<path fill="#5ced0d" d="M242 283l9 12 10-4-9-12z"/>
<path fill="#0ded48" d="M422 332l12 9 14 6-12-9z"/>
<path fill="#44ed0d" d="M346 292l10 11 14 4-11-11z"/>
<path fill="#0ded0d" d="M383 311l11 10 14 6-11-10z"/>
<path fill="#0d6fed" d="M658 441l9 11 10 8-8-11z"/>
<path fill="#0ded4d" d="M247 332l9 12 11-8-9-12z"/>
<path fill="#0da4ed" d="M638 422l9 11 11 8-8-12z"/>
<path fill="#0d85ed" d="M822 460l1-6 4-14-1 5z"/>
<path fill="#7aed0d" d="M298 274l10 11 12 2-10-12z"/>
<path fill="#6aed0d" d="M252 279l9 12 11-3-9-12z"/>
<path fill="#0deda4" d="M556 371l11 7 13 6-10-9z"/>
<path fill="#0ded6d" d="M462 352l12 3 14 1-11-4z"/>
<path fill="#0ded80" d="M517 359l11 5 14 3-11-6z"/>
<path fill="#0ded13" d="M249 313l9 11 11-6-10-11z"/>
<path fill="#1f0ded" d="M808 507l1-5 4-13-1 4z"/>
<path fill="#3aed0d" d="M251 295l8 12 11-4-9-12z"/>
<path fill="#7ced0d" d="M286 273l9 12 13 0-10-11z"/>
<path fill="#74ed0d" d="M263 276l9 12 12-2-10-12z"/>
<path fill="#c60ded" d="M779 558l3-2 5-5-3 3z"/>
<path fill="#7aed0d" d="M274 274l10 12 11-1-9-12z"/>
<path fill="#0ded68" d="M256 344l10 1 10 1-9-10z"/>
<path fill="#50ed0d" d="M333 289l10 11 13 3-10-11z"/>
<path fill="#b30ded" d="M743 541l5 5 7 6-5-5z"/>
<path fill="#ca0ded" d="M755 552l4 3 6 4-4-3z"/>
<path fill="#8f0ded" d="M731 527l5 6 7 8-5-7z"/>
<path fill="#920ded" d="M792 544l2-4 5-9-2 4z"/>
<path fill="#1ded0d" d="M370 307l11 10 13 4-11-10z"/>
<path fill="#0ded35" d="M408 327l12 9 14 5-12-9z"/>
<path fill="#49ed0d" d="M261 291l9 12 12-4-10-11z"/>
<path fill="#0ded33" d="M258 324l9 12 11-7-9-11z"/>
<path fill="#0ded6a" d="M448 347l11 8 15 0-12-3z"/>
<path fill="#58ed0d" d="M320 287l10 10 13 3-10-11z"/>
<path fill="#1aed0d" d="M259 307l10 11 11-5-10-10z"/>
<path fill="#620ded" d="M717 510l6 7 8 10-6-9z"/>
<path fill="#0dedc6" d="M580 384l11 8 13 6-10-9z"/>
<path class="e" d="M222 340L239 342"/>
<path fill="#d20ded" d="M765 559l4-1 5 2-4 0z"/>
<path fill="#54ed0d" d="M272 288l10 11 11-2-9-11z"/>
<path fill="#5ced0d" d="M308 285l10 11 12 1-10-10z"/>
<path fill="#0ded78" d="M502 357l12 5 14 2-11-5z"/>
<path fill="#2f0ded" d="M702 491l7 9 8 10-6-10z"/>
<path fill="#5aed0d" d="M284 286l9 11 12-1-10-11z"/>
<path fill="#2aed0d" d="M356 303l11 10 14 4-11-10z"/>
<path fill="#5ded0d" d="M295 285l10 11 13 0-10-11z"/>
<path fill="#0d5eed" d="M818 474l1-5 4-15-1 6z"/>
<path fill="#0ded50" d="M267 336l9 10 12-7-10-10z"/>
<path class="e" d="M835 369L838 364"/>
<path fill="#410ded" d="M803 520l2-6 4-12-1 5z"/>
<path fill="#2aed0d" d="M270 303l10 10 11-3-9-11z"/>
<path fill="#0ded96" d="M542 367l11 7 14 4-11-7z"/>
<path fill="#0ded25" d="M394 321l12 10 14 5-12-9z"/>
<path fill="#0ded1e" d="M269 318l9 11 12-5-10-11z"/>
<path fill="#0deded" d="M604 398l10 9 12 8-10-10z"/>
<path fill="#0d21ed" d="M685 471l7 10 10 10-7-11z"/>
<path fill="#0ded5c" d="M434 341l11 9 14 5-11-8z"/>
<path fill="#34ed0d" d="M343 300l11 10 13 3-11-10z"/>
<path fill="#35ed0d" d="M282 299l9 11 12-2-10-11z"/>
<path fill="#0d58ed" d="M667 452l8 9 10 10-8-11z"/>
<path fill="#0dbfed" d="M626 415l9 9 12 9-9-11z"/>
<path fill="#a50ded" d="M787 551l3-5 4-6-2 4z"/>
<path fill="#0d8ded" d="M647 433l9 9 11 10-9-11z"/>
<path fill="#ca0ded" d="M774 560l3-3 5-1-3 2z"/>
<path fill="#0ded73" d="M488 356l12 4 14 2-12-5z"/>
<path fill="#3ced0d" d="M330 297l11 11 13 2-11-10z"/>
<path fill="#0ded69" d="M276 346l11 1 11 2-10-10z"/>
<path fill="#3ced0d" d="M293 297l10 11 13-1-11-11z"/>
<path fill="#0ded0d" d="M280 313l10 11 12-4-11-10z"/>
<path fill="#0ded16" d="M381 317l11 9 14 5-12-10z"/>
<path fill="#0ded3a" d="M278 329l10 10 12-5-10-10z"/>
<path fill="#3fed0d" d="M318 296l10 11 13 1-11-11z"/>
<path fill="#40ed0d" d="M305 296l11 11 12 0-10-11z"/>
<path class="e" d="M239 342L256 344"/>
<path fill="#0ded4b" d="M420 336l11 9 14 5-11-9z"/>
<path fill="#0d38ed" d="M813 489l2-6 4-14-1 5z"/>
<path fill="#0dedb3" d="M567 378l10 8 14 6-11-8z"/>
<path fill="#5f0ded" d="M799 531l2-6 4-11-2 6z"/>
<path fill="#0ded89" d="M528 364l11 6 14 4-11-7z"/>
<path fill="#18ed0d" d="M291 310l11 10 12-2-11-10z"/>
<path fill="#0ded6f" d="M474 355l11 4 15 1-12-4z"/>
<path fill="#11ed0d" d="M367 313l11 10 14 3-11-9z"/>
<path fill="#970ded" d="M736 533l6 4 6 9-5-5z"/>
<path fill="#b50ded" d="M748 546l5 1 6 8-4-3z"/>
<path fill="#6f0ded" d="M723 517l6 6 7 10-5-6z"/>
<path fill="#0ded29" d="M290 324l10 10 12-4-10-10z"/>
<path fill="#0ded54" d="M288 339l10 10 12-6-10-9z"/>
<path fill="#c40ded" d="M759 555l4-1 6 4-4 1z"/>
<path fill="#20ed0d" d="M303 308l11 10 12-1-10-10z"/>
<path fill="#1aed0d" d="M354 310l11 10 13 3-11-10z"/>
<path fill="#0ded3a" d="M406 331l11 9 14 5-11-9z"/>
<path fill="#0ded6d" d="M459 355l12 3 14 1-11-4z"/>
<path fill="#400ded" d="M709 500l6 6 8 11-6-7z"/>
<path fill="#0dedd6" d="M591 392l10 8 13 7-10-9z"/>
<path fill="#24ed0d" d="M316 307l10 10 13 0-11-10z"/>
<path fill="#21ed0d" d="M341 308l11 10 13 2-11-10z"/>
<path fill="#b10ded" d="M782 556l3-6 5-4-3 5z"/>
<path fill="#24ed0d" d="M328 307l11 10 13 1-11-10z"/>
<path fill="#0d9ced" d="M823 454l1-6 2-4 1-4z"/>
<path fill="#0ded1c" d="M302 320l10 10 12-3-10-9z"/>
<path fill="#0d0eed" d="M692 481l8 7 9 12-7-9z"/>
<path fill="#0ded6a" d="M445 350l12 7 14 1-12-3z"/>
<path fill="#0d15ed" d="M809 502l2-7 4-12-2 6z"/>
<path fill="#0ded7f" d="M514 362l11 5 14 3-11-6z"/>
<path fill="#0ded2c" d="M392 326l11 9 14 5-11-9z"/>
<path fill="#780ded" d="M794 540l3-7 4-8-2 6z"/>
<path fill="#c40ded" d="M769 558l4-3 4 2-3 3z"/>
<path fill="#0ddaed" d="M614 407l9 8 12 9-9-9z"/>
<path class="e" d="M256 344L273 346"/>
<path fill="#0ded42" d="M300 334l10 9 13-4-11-9z"/>
<path fill="#0ded69" d="M298 349l12 1 11 1-11-8z"/>
<path fill="#0d43ed" d="M675 461l8 9 9 11-7-10z"/>
<path fill="#0deda1" d="M553 374l11 6 13 6-10-8z"/>
<path fill="#0ded13" d="M314 318l10 9 13-1-11-9z"/>
<path fill="#0dabed" d="M635 424l10 9 11 9-9-9z"/>
<path fill="#0d78ed" d="M656 442l8 9 11 10-8-9z"/>
<path fill="#0ded20" d="M378 323l12 9 13 3-11-9z"/>
<path fill="#0ded5d" d="M431 345l12 7 14 5-12-7z"/>
<path class="m" d="M244 344l4-6 4 6z"/>
<path fill="#0ded0f" d="M326 317l11 9 13 0-11-9z"/>
<path fill="#0ded17" d="M365 320l11 9 14 3-12-9z"/>
<path fill="#0ded34" d="M312 330l11 9 12-3-11-9z"/>
<path fill="#0ded77" d="M500 360l11 4 14 3-11-5z"/>
<path fill="#0ded0e" d="M339 317l11 9 13 1-11-9z"/>
<path fill="#0ded11" d="M352 318l11 9 13 2-11-9z"/>
<path fill="#0ded58" d="M310 343l11 8 13-4-11-8z"/>
<path fill="#260ded" d="M805 514l2-7 4-12-2 7z"/>
<path fill="#0ded4e" d="M417 340l12 8 14 4-12-7z"/>
<path fill="#0dedc1" d="M577 386l11 7 13 7-10-8z"/>
<path fill="#0d7aed" d="M819 469l1-7 4-14-1 6z"/>
<path fill="#b30ded" d="M777 557l4-6 4-1-3 6z"/>
<path fill="#0ded2b" d="M324 327l11 9 13-1-11-9z"/>
<path fill="#970ded" d="M742 537l5 1 6 9-5-1z"/>
<path fill="#8a0ded" d="M790 546l2-7 5-6-3 7z"/>
<path fill="#0ded93" d="M539 370l12 6 13 4-11-6z"/>
<path fill="#0ded72" d="M485 359l12 3 14 2-11-4z"/>
<path fill="#750ded" d="M729 523l6 3 7 11-6-4z"/>
<path fill="#ad0ded" d="M753 547l5-1 5 8-4 1z"/>
<path class="e" d="M273 346L290 348"/>
<path fill="#0ded41" d="M403 335l12 9 14 4-12-8z"/>
<path fill="#4a0ded" d="M715 506l7 5 7 12-6-6z"/>
<path fill="#0ded26" d="M337 326l11 9 13-1-11-8z"/>
<path fill="#0ded4a" d="M323 339l11 8 13-3-12-8z"/>
<path fill="#0dede7" d="M601 400l10 7 12 8-9-8z"/>
<path fill="#0ded6e" d="M471 358l12 3 14 1-12-3z"/>
<path fill="#0ded35" d="M390 332l11 8 14 4-12-9z"/>
<path fill="#1a0ded" d="M700 488l7 6 8 12-6-6z"/>
<path fill="#0ded25" d="M350 326l11 8 13 1-11-8z"/>
<path fill="#0ded2d" d="M376 329l12 8 13 3-11-8z"/>
<path fill="#b40ded" d="M763 554l5-5 5 6-4 3z"/>
<path fill="#0ded6a" d="M321 351l12 2 12 1-11-7z"/>
<path fill="#0ded27" d="M363 327l11 8 14 2-12-8z"/>
<path fill="#0ded6d" d="M457 357l12 3 14 1-12-3z"/>
<path fill="#420ded" d="M801 525l2-8 4-10-2 7z"/>
<path fill="#0d33ed" d="M683 470l8 6 9 12-8-7z"/>
<path fill="#0dc9ed" d="M623 415l10 8 12 10-10-9z"/>
<path fill="#0d55ed" d="M815 483l1-8 4-13-1 7z"/>
<path fill="#0ded86" d="M525 367l12 5 14 4-12-6z"/>
<path fill="#0ded40" d="M335 336l12 8 13-2-12-7z"/>
<path fill="#0ded6b" d="M443 352l12 7 14 1-12-3z"/>
<path fill="#0d67ed" d="M664 451l9 7 10 12-8-9z"/>
<path fill="#0d99ed" d="M645 433l9 7 10 11-8-9z"/>
<path fill="#0dedad" d="M564 380l11 7 13 6-11-7z"/>
<path fill="#940ded" d="M785 550l3-8 4-3-2 7z"/>
<path fill="#0ded5f" d="M429 348l12 7 14 4-12-7z"/>
<path fill="#0ded3a" d="M348 335l12 7 13 0-12-8z"/>
<path fill="#0ded5d" d="M334 347l11 7 13-3-11-7z"/>
<path class="e" d="M290 348L308 350"/>
<path fill="#ac0ded" d="M773 555l3-7 5 3-4 6z"/>
<path fill="#0ded52" d="M415 344l12 7 14 4-12-7z"/>
<path fill="#0ded7d" d="M511 364l12 4 14 4-12-5z"/>
<path fill="#0ded38" d="M361 334l12 8 13 1-12-8z"/>
<path fill="#0ded48" d="M401 340l12 7 14 4-12-7z"/>
<path fill="#590ded" d="M797 533l2-9 4-7-2 8z"/>
<path fill="#0ded3a" d="M374 335l12 8 14 2-12-8z"/>
<path fill="#0dedce" d="M588 393l11 6 12 8-10-7z"/>
<path fill="#0d33ed" d="M811 495l2-8 3-12-1 8z"/>
<path fill="#0ded40" d="M388 337l12 8 13 2-12-7z"/>
<path fill="#0ded52" d="M347 344l11 7 13-2-11-7z"/>
<path fill="#0ded9c" d="M551 376l11 5 13 6-11-7z"/>
<path class="e" d="M832 375L835 369"/>
<path fill="#0ded76" d="M497 362l12 4 14 2-12-4z"/>
<path fill="#720ded" d="M735 526l6 0 6 12-5-1z"/>
<path fill="#8d0ded" d="M747 538l5-3 6 11-5 1z"/>
<path fill="#4d0ded" d="M722 511l6 2 7 13-6-3z"/>
<path fill="#0de5ed" d="M611 407l10 7 12 9-10-8z"/>
<path fill="#0ded6b" d="M345 354l12 2 13 1-12-6z"/>
<path fill="#0ded4c" d="M360 342l11 7 14 0-12-7z"/>
<path fill="#210ded" d="M707 494l7 4 8 13-7-5z"/>
<path fill="#0ded71" d="M483 361l12 3 14 2-12-4z"/>
<path fill="#9b0ded" d="M758 546l5-5 5 8-5 5z"/>
<path fill="#0d29ed" d="M691 476l7 5 9 13-7-6z"/>
<path fill="#950ded" d="M781 551l3-9 4 0-3 8z"/>
<path fill="#0dbaed" d="M633 423l10 7 11 10-9-7z"/>
<path class="e" d="M308 350L325 352"/>
<path fill="#0ded6e" d="M469 360l12 3 14 1-12-3z"/>
<path fill="#0ded49" d="M373 342l12 7 13 0-12-6z"/>
<path fill="#0d14ed" d="M807 507l2-9 4-11-2 8z"/>
<path fill="#0d5aed" d="M673 458l8 6 10 12-8-6z"/>
<path fill="#0ded6d" d="M455 359l12 3 14 1-12-3z"/>
<path fill="#0d8bed" d="M654 440l9 7 10 11-9-7z"/>
<path fill="#0ded6b" d="M441 355l12 6 14 1-12-3z"/>
<path fill="#0d95ed" d="M820 462l2-8 1-3 1-3z"/>
<path fill="#680ded" d="M792 539l3-10 4-5-2 9z"/>
<path fill="#0ded8e" d="M537 372l11 4 14 5-11-5z"/>
<path fill="#0ded61" d="M427 351l12 6 14 4-12-6z"/>
<path fill="#0ded4b" d="M386 343l12 6 14 2-12-6z"/>
<path fill="#0dedb8" d="M575 387l11 5 13 7-11-6z"/>
<path fill="#0ded61" d="M358 351l12 6 13-2-12-6z"/>
<path fill="#0ded57" d="M413 347l12 7 14 3-12-6z"/>
<path fill="#0ded50" d="M400 345l12 6 13 3-12-7z"/>
<path fill="#9b0ded" d="M768 549l4-7 4 6-3 7z"/>
<path fill="#0ded5a" d="M371 349l12 6 14 0-12-6z"/>
<path fill="#0ded82" d="M523 368l12 5 13 3-11-4z"/>
<path fill="#0dedda" d="M599 399l10 7 12 8-10-7z"/>
<path fill="#200ded" d="M803 517l2-10 4-9-2 9z"/>
<path class="e" d="M325 352L342 354"/>
<path fill="#0ded57" d="M385 349l12 6 13 0-12-6z"/>
<path fill="#0d76ed" d="M816 475l2-8 4-13-2 8z"/>
<path fill="#0deda5" d="M562 381l11 5 13 6-11-5z"/>
<path fill="#0ded7a" d="M509 366l12 4 14 3-12-5z"/>
<path fill="#700ded" d="M788 542l3-11 4-2-3 10z"/>
<path fill="#8c0ded" d="M776 548l4-10 4 4-3 9z"/>
<path fill="#0ded6b" d="M370 357l12 2 13 1-12-5z"/>
<path fill="#0dd9ed" d="M621 414l10 6 12 10-10-7z"/>
<path fill="#0ded58" d="M398 349l12 6 14 2-12-6z"/>
<path fill="#470ded" d="M728 513l6-1 7 14-6 0z"/>
<path fill="#660ded" d="M741 526l6-3 5 12-5 3z"/>
<path fill="#0ded5d" d="M412 351l12 6 14 2-13-5z"/>
<path fill="#0ded74" d="M495 364l12 3 14 3-12-4z"/>
<path fill="#210ded" d="M714 498l7 1 7 14-6-2z"/>
<path fill="#0ded64" d="M425 354l13 5 13 3-12-5z"/>
<path fill="#0ded6b" d="M439 357l12 5 14 1-12-2z"/>
<path fill="#0daeed" d="M643 430l9 5 11 12-9-7z"/>
<path fill="#0d24ed" d="M698 481l8 3 8 14-7-4z"/>
<path fill="#7a0ded" d="M752 535l5-5 6 11-5 5z"/>
<path fill="#0ded6d" d="M453 361l12 2 14 1-12-2z"/>
<path fill="#0ded70" d="M481 363l12 3 14 1-12-3z"/>
<path fill="#0ded6d" d="M467 362l12 2 14 2-12-3z"/>
<path fill="#0d52ed" d="M681 464l8 4 9 13-7-5z"/>
<path fill="#0d81ed" d="M663 447l8 4 10 13-8-6z"/>
<path fill="#340ded" d="M799 524l2-10 4-7-2 10z"/>
<path fill="#0ded65" d="M383 355l12 5 14-1-12-4z"/>
<path fill="#0ded95" d="M548 376l12 5 13 5-11-5z"/>
<path fill="#0d55ed" d="M813 487l1-9 4-11-2 8z"/>
<path fill="#0dedc2" d="M586 392l11 6 12 8-10-7z"/>
<path fill="#810ded" d="M763 541l4-8 5 9-4 7z"/>
<path fill="#0ded62" d="M397 355l12 4 14 1-13-5z"/>
<path class="e" d="M342 354L360 356"/>
<path fill="#6f0ded" d="M784 542l4-11 3 0-3 11z"/>
<path fill="#0ded88" d="M535 373l11 4 14 4-12-5z"/>
<path fill="#0ded62" d="M410 355l13 5 13 1-12-4z"/>
<path fill="#0dede4" d="M609 406l10 5 12 9-10-6z"/>
<path fill="#0ded66" d="M424 357l12 4 14 3-12-5z"/>
<path fill="#0d38ed" d="M809 498l2-10 3-10-1 9z"/>
<path fill="#410ded" d="M795 529l3-11 3-4-2 10z"/>
<path fill="#7a0ded" d="M772 542l4-10 4 6-4 10z"/>
<path fill="#0ded6b" d="M438 359l12 5 14 1-13-3z"/>
<path fill="#0dedad" d="M573 386l11 5 13 7-11-6z"/>
<path fill="#0ded7e" d="M521 370l12 3 13 4-11-4z"/>
<path fill="#0ded6c" d="M395 360l13 2 13 1-12-4z"/>
<path fill="#0dd0ed" d="M631 420l10 5 11 10-9-5z"/>
<path fill="#0ded6c" d="M451 362l13 3 14 1-13-3z"/>
<path fill="#0ded77" d="M507 367l12 3 14 3-12-3z"/>
<path fill="#0ded6d" d="M465 363l13 3 14 1-13-3z"/>
<path fill="#0da7ed" d="M652 435l9 4 10 12-8-4z"/>
<path fill="#0ded72" d="M493 366l12 2 14 2-12-3z"/>
<path fill="#0ded6f" d="M479 364l13 3 13 1-12-2z"/>
<path fill="#1a0ded" d="M721 499l7-2 6 15-6 1z"/>
<path class="e" d="M360 356L377 358"/>
<path fill="#3a0ded" d="M734 512l6-4 7 15-6 3z"/>
<path fill="#0d7ced" d="M671 451l9 3 9 14-8-4z"/>
<path fill="#0d27ed" d="M706 484l7 0 8 15-7-1z"/>
<path fill="#0d51ed" d="M689 468l8 1 9 15-8-3z"/>
<path class="m" d="M343 355l4-6 4 6z"/>
<path fill="#0ded69" d="M409 359l12 4 14 1-12-4z"/>
<path fill="#520ded" d="M747 523l5-6 5 13-5 5z"/>
<path fill="#0ded9b" d="M560 381l11 4 13 6-11-5z"/>
<path fill="#0d20ed" d="M805 507l2-11 4-8-2 10z"/>
<path fill="#0dedca" d="M597 398l10 4 12 9-10-5z"/>
<path fill="#0ded69" d="M423 360l12 4 14 1-13-4z"/>
<path fill="#0d95ed" d="M818 467l2-10 1-1 1-2z"/>
<path fill="#640ded" d="M780 538l4-11 4 4-4 11z"/>
<path fill="#5f0ded" d="M757 530l5-8 5 11-4 8z"/>
<path fill="#460ded" d="M791 531l3-12 4-1-3 11z"/>
<path fill="#0ded6c" d="M436 361l13 4 14 1-13-2z"/>
<path fill="#0ded8d" d="M546 377l12 3 13 5-11-4z"/>
<path fill="#0dedeb" d="M619 411l11 4 11 10-10-5z"/>
<path fill="#0ded6c" d="M450 364l13 2 13 1-12-2z"/>
<path class="e" d="M829 380L832 375"/>
<path fill="#5e0ded" d="M767 533l5-10 4 9-4 10z"/>
<path fill="#0d0eed" d="M801 514l3-12 3-6-2 11z"/>
<path fill="#0ded6d" d="M464 365l12 2 14 1-12-2z"/>
<path fill="#0ded82" d="M533 373l12 4 13 3-12-3z"/>
<path fill="#0dedb3" d="M584 391l11 4 12 7-10-4z"/>
<path class="e" d="M377 358L395 360"/>
<path fill="#0ded6c" d="M421 363l13 2 14 1-13-2z"/>
<path fill="#0dcbed" d="M641 425l10 3 10 11-9-4z"/>
<path fill="#0ded6e" d="M478 366l12 2 14 1-12-2z"/>
<path fill="#0d7aed" d="M814 478l2-10 4-11-2 10z"/>
<path fill="#0ded79" d="M519 370l12 3 14 4-12-4z"/>
<path fill="#0ded70" d="M492 367l12 2 14 2-13-3z"/>
<path fill="#0ded74" d="M505 368l13 3 13 2-12-3z"/>
<path fill="#0da4ed" d="M661 439l9 3 10 12-9-3z"/>
<path fill="#0ded6c" d="M435 364l13 2 13 1-12-2z"/>
<path fill="#430ded" d="M788 531l3-13 3 1-3 12z"/>
<path fill="#0d7ced" d="M680 454l8 1 9 14-8-1z"/>
<path fill="#0d55ed" d="M697 469l8 0 8 15-7 0z"/>
<path fill="#0deda0" d="M571 385l11 4 13 6-11-4z"/>
<path fill="#0d30ed" d="M713 484l7-2 8 15-7 2z"/>
<path fill="#0dedcf" d="M607 402l11 4 12 9-11-4z"/>
<path fill="#510ded" d="M776 532l4-12 4 7-4 11z"/>
<path fill="#0d0fed" d="M728 497l6-4 6 15-6 4z"/>
<path fill="#0ded6c" d="M449 365l12 2 14 1-12-2z"/>
<path fill="#250ded" d="M740 508l6-6 6 15-5 6z"/>
<path fill="#160ded" d="M798 518l3-13 3-3-3 12z"/>
<path fill="#0d5fed" d="M811 488l2-11 3-9-2 10z"/>
<path class="e" d="M395 360L412 362"/>
<path fill="#0ded6c" d="M463 366l12 2 14 1-13-2z"/>
<path fill="#360ded" d="M752 517l6-8 4 13-5 8z"/>
<path fill="#0ded90" d="M558 380l12 4 12 5-11-4z"/>
<path fill="#0deced" d="M630 415l10 2 11 11-10-3z"/>
<path fill="#0ded6d" d="M476 367l13 2 14 1-13-2z"/>
<path fill="#0ded84" d="M545 377l12 2 13 5-12-4z"/>
<path fill="#0dedb7" d="M595 395l11 3 12 8-11-4z"/>
<path fill="#0ded6e" d="M490 368l13 2 13 2-12-3z"/>
<path fill="#3c0ded" d="M762 522l5-10 5 11-5 10z"/>
<path fill="#0d49ed" d="M807 496l3-12 3-7-2 11z"/>
<path fill="#0ded7b" d="M531 373l12 3 14 3-12-2z"/>
<path fill="#0ded71" d="M504 369l12 3 14 2-12-3z"/>
<path fill="#0dcaed" d="M651 428l9 2 10 12-9-3z"/>
<path fill="#0ded6c" d="M448 366l13 2 13 1-13-2z"/>
<path fill="#0ded75" d="M518 371l12 3 13 2-12-3z"/>
<path fill="#370ded" d="M784 527l4-14 3 5-3 13z"/>
<path fill="#190ded" d="M794 519l3-13 4-1-3 13z"/>
<path fill="#0da6ed" d="M670 442l9 0 9 13-8-1z"/>
<path fill="#0ded6c" d="M461 367l13 2 14 1-13-2z"/>
<path fill="#0deda3" d="M582 389l12 2 12 7-11-3z"/>
<path class="e" d="M412 362L430 364"/>
<path fill="#0d82ed" d="M688 455l9 0 8 14-8 0z"/>
<path fill="#350ded" d="M772 523l4-12 4 9-4 12z"/>
<path fill="#0dedd2" d="M618 406l10 2 12 9-10-2z"/>
<path fill="#0d60ed" d="M705 469l8-2 7 15-7 2z"/>
<path fill="#0ded6c" d="M475 368l13 2 14 1-13-2z"/>
<path fill="#0d3aed" d="M804 502l2-13 4-5-3 12z"/>
<path fill="#0d40ed" d="M720 482l7-4 7 15-6 4z"/>
<path fill="#0d9ded" d="M816 468l2-11 1 0 1 0z"/>
<path fill="#0ded92" d="M570 384l11 2 13 5-12-2z"/>
<path fill="#0d25ed" d="M734 493l7-6 5 15-6 6z"/>
<path fill="#0ded6d" d="M489 369l13 2 13 1-12-2z"/>
<path fill="#0deced" d="M640 417l10 2 10 11-9-2z"/>
<path fill="#0ded6e" d="M503 370l12 2 14 2-13-2z"/>
<path fill="#0d11ed" d="M746 502l6-8 6 15-6 8z"/>
<path fill="#0ded86" d="M557 379l11 3 13 4-11-2z"/>
<path fill="#140ded" d="M791 518l3-14 3 2-3 13z"/>
<path fill="#0dedb8" d="M606 398l11 2 11 8-10-2z"/>
<path fill="#0ded71" d="M516 372l13 2 13 2-12-2z"/>
<path fill="#0ded7c" d="M543 376l12 3 13 3-11-3z"/>
<path fill="#0ded75" d="M530 374l12 2 13 3-12-3z"/>
<path fill="#230ded" d="M780 520l4-13 4 6-4 14z"/>
<path class="e" d="M430 364L448 366"/>
<path fill="#130ded" d="M758 509l5-10 4 13-5 10z"/>
<path fill="#0dcded" d="M660 430l9 0 10 12-9 0z"/>
<path fill="#0ded6c" d="M474 369l13 2 13 1-12-2z"/>
<path fill="#0d31ed" d="M801 505l2-13 3-3-2 13z"/>
<path fill="#0d87ed" d="M813 477l2-11 3-9-2 11z"/>
<path fill="#0deda3" d="M594 391l11 3 12 6-11-2z"/>
<path fill="#0daded" d="M679 442l9-1 9 14-9 0z"/>
<path fill="#0ded6c" d="M488 370l12 2 14 1-12-2z"/>
<path fill="#0dedd1" d="M628 408l11 2 11 9-10-2z"/>
<path fill="#130ded" d="M767 512l5-12 4 11-4 12z"/>
<path fill="#0d8eed" d="M697 455l8-3 8 15-8 2z"/>
<path fill="#0ded6d" d="M502 371l12 2 14 1-13-2z"/>
<path fill="#0ded93" d="M581 386l12 2 12 6-11-3z"/>
<path fill="#0d73ed" d="M810 484l2-12 3-6-2 11z"/>
<path fill="#0d70ed" d="M713 467l7-4 7 15-7 4z"/>
<path fill="#0d13ed" d="M788 513l3-14 3 5-3 14z"/>
<path fill="#0ded6e" d="M515 372l13 2 13 2-12-2z"/>
<path fill="#0d30ed" d="M797 506l3-14 3 0-2 13z"/>
<path class="e" d="M448 366L465 368"/>
<path fill="#0ded85" d="M568 382l12 2 13 4-12-2z"/>
<path fill="#0d56ed" d="M727 478l7-6 7 15-7 6z"/>
<path fill="#0ded71" d="M529 374l12 2 13 2-12-2z"/>
<path fill="#0dedeb" d="M650 419l9 0 10 11-9 0z"/>
<path fill="#0ded7c" d="M555 379l12 1 13 4-12-2z"/>
<path fill="#0ded75" d="M542 376l12 2 13 2-12-1z"/>
<path class="e" d="M826 386L829 380"/>
<path fill="#0dedb7" d="M617 400l10 1 12 9-11-2z"/>
<path fill="#0d12ed" d="M776 511l4-13 4 9-4 13z"/>
<path fill="#0d41ed" d="M741 487l6-8 5 15-6 8z"/>
<path fill="#0d66ed" d="M806 489l3-13 3-4-2 12z"/>
<path fill="#0dd4ed" d="M669 430l10-1 9 12-9 1z"/>
<path fill="#0ded6c" d="M500 372l13 2 13 1-12-2z"/>
<path fill="#0d34ed" d="M752 494l6-10 5 15-5 10z"/>
<path fill="#0deda2" d="M605 394l11 1 11 6-10-1z"/>
<path class="m" d="M444 367l4-6 4 6z"/>
<path fill="#0ded6d" d="M514 373l12 2 14 1-12-2z"/>
<path fill="#0dedcc" d="M639 410l10 0 10 9-9 0z"/>
<path fill="#0db9ed" d="M688 441l8-2 9 13-8 3z"/>
<path fill="#0d37ed" d="M794 504l3-15 3 3-3 14z"/>
<path class="e" d="M465 368L483 370"/>
<path fill="#0d2fed" d="M763 499l5-12 4 13-5 12z"/>
<path fill="#0d27ed" d="M784 507l4-15 3 7-3 14z"/>
<path fill="#0ded91" d="M593 388l11 1 12 6-11-1z"/>
<path fill="#0ded6e" d="M528 374l12 2 13 2-12-2z"/>
<path fill="#0daded" d="M815 466l2-12 1 2 0 1z"/>
<path fill="#0d9eed" d="M705 452l8-4 7 15-7 4z"/>
<path fill="#0ded70" d="M541 376l12 2 13 2-12-2z"/>
<path fill="#0d5fed" d="M803 492l3-14 3-2-3 13z"/>
<path fill="#0ded84" d="M580 384l12 1 12 4-11-1z"/>
<path fill="#0ded74" d="M554 378l12 2 13 2-12-2z"/>
<path fill="#0ded7a" d="M567 380l12 2 13 3-12-1z"/>
<path fill="#0dede3" d="M659 419l10-1 10 11-10 1z"/>
<path fill="#0d86ed" d="M720 463l8-6 6 15-7 6z"/>
<path fill="#0dedb3" d="M627 401l11 1 11 8-10 0z"/>
<path fill="#0d34ed" d="M772 500l5-13 3 11-4 13z"/>
<path fill="#0d71ed" d="M734 472l7-8 6 15-6 8z"/>
<path fill="#0ded6c" d="M526 375l13 2 13 1-12-2z"/>
<path fill="#0d9eed" d="M812 472l2-12 3-6-2 12z"/>
<path class="e" d="M483 370L501 372"/>
<path fill="#0de0ed" d="M679 429l9-2 8 12-8 2z"/>
<path fill="#0d44ed" d="M791 499l3-14 3 4-3 15z"/>
<path fill="#0ded9e" d="M616 395l11 0 11 7-11-1z"/>
<path fill="#0d62ed" d="M747 479l6-9 5 14-6 10z"/>
<path fill="#0d60ed" d="M800 492l3-14 3 0-3 14z"/>
<path fill="#0ded6d" d="M540 376l12 2 13 1-12-1z"/>
<path fill="#0dedc5" d="M649 410l10-1 10 9-10 1z"/>
<path fill="#0d42ed" d="M780 498l5-14 3 8-4 15z"/>
<path fill="#0ded8d" d="M604 389l11 1 12 5-11 0z"/>
<path fill="#0dc9ed" d="M696 439l9-4 8 13-8 4z"/>
<path fill="#0ded6e" d="M553 378l12 1 13 2-12-1z"/>
<path fill="#0d5aed" d="M758 484l5-10 5 13-5 12z"/>
<path fill="#0ded81" d="M592 385l11 1 12 4-11-1z"/>
<path fill="#0ded72" d="M566 380l12 1 13 2-12-1z"/>
<path fill="#0ded78" d="M579 382l12 1 12 3-11-1z"/>
<path fill="#0d92ed" d="M809 476l2-12 3-4-2 12z"/>
<path fill="#0db3ed" d="M713 448l7-5 8 14-8 6z"/>
<path fill="#0dedac" d="M638 402l10-1 11 8-10 1z"/>
<path fill="#0dedd8" d="M669 418l9-1 10 10-9 2z"/>
<path class="e" d="M501 372L519 375"/>
<path fill="#0d5aed" d="M768 487l5-12 4 12-5 13z"/>
<path fill="#0d68ed" d="M797 489l3-14 3 3-3 14z"/>
<path fill="#0da0ed" d="M728 457l7-7 6 14-7 8z"/>
<path fill="#0d59ed" d="M788 492l3-14 3 7-3 14z"/>
<path fill="#0ded6c" d="M552 378l13 2 12 1-12-2z"/>
<path fill="#0ded98" d="M627 395l10 0 11 6-10 1z"/>
<path fill="#0d8ded" d="M806 478l2-13 3-1-2 12z"/>
<path fill="#0dedeb" d="M688 427l8-3 9 11-9 4z"/>
<path fill="#0d91ed" d="M741 464l6-8 6 14-6 9z"/>
<path fill="#0d63ed" d="M777 487l4-14 4 11-5 14z"/>
<path fill="#0ded6d" d="M565 379l12 2 13 1-12-1z"/>
<path fill="#0ded88" d="M615 390l11 0 11 5-10 0z"/>
<path fill="#0dedbb" d="M659 409l9-1 10 9-9 1z"/>
<path fill="#0ded70" d="M578 381l12 1 12 2-11-1z"/>
<path fill="#0ded7c" d="M603 386l11 1 12 3-11 0z"/>
<path fill="#0ded75" d="M591 383l11 1 12 3-11-1z"/>
<path fill="#0dc4ed" d="M814 460l2-12 1 3 0 3z"/>
<path fill="#0d87ed" d="M753 470l6-10 4 14-5 10z"/>
<path class="e" d="M519 375L537 377"/>
<path fill="#0ddced" d="M705 435l8-4 7 12-7 5z"/>
<path fill="#0d76ed" d="M794 485l4-14 2 4-3 14z"/>
<path fill="#0d8fed" d="M803 478l3-13 2 0-2 13z"/>
<path fill="#0deda3" d="M648 401l10-1 10 8-9 1z"/>
<path fill="#0d73ed" d="M785 484l3-14 3 8-3 14z"/>
<path fill="#0dedca" d="M678 417l9-3 9 10-8 3z"/>
<path fill="#0d83ed" d="M763 474l6-12 4 13-5 12z"/>
<path class="e" d="M823 392L826 386"/>
<path fill="#0dcbed" d="M720 443l8-6 7 13-7 7z"/>
<path fill="#0ded90" d="M637 395l11 0 10 5-10 1z"/>
<path fill="#0dbded" d="M811 464l2-12 3-4-2 12z"/>
<path fill="#0ded6c" d="M577 381l12 2 12 1-11-2z"/>
<path fill="#0dbded" d="M735 450l6-8 6 14-6 8z"/>
<path fill="#0ded82" d="M626 390l10 0 12 5-11 0z"/>
<path fill="#0ded6d" d="M590 382l11 2 12 1-11-1z"/>
<path fill="#0d87ed" d="M773 475l4-13 4 11-4 14z"/>
<path class="e" d="M537 377L555 379"/>
<path fill="#0dedda" d="M696 424l9-4 8 11-8 4z"/>
<path fill="#0ded77" d="M614 387l11 0 11 3-10 0z"/>
<path fill="#0ded71" d="M602 384l11 1 12 2-11 0z"/>
<path fill="#0dedaf" d="M668 408l10-2 9 8-9 3z"/>
<path fill="#0d97ed" d="M800 475l3-13 3 3-3 13z"/>
<path fill="#0d89ed" d="M791 478l4-14 3 7-4 14z"/>
<path fill="#0db2ed" d="M747 456l6-9 6 13-6 10z"/>
<path fill="#0db8ed" d="M808 465l3-12 2-1-2 12z"/>
<path fill="#0dede8" d="M713 431l8-6 7 12-8 6z"/>
<path fill="#0ded98" d="M658 400l10-1 10 7-10 2z"/>
<path fill="#0d91ed" d="M781 473l4-13 3 10-3 14z"/>
<path fill="#0daded" d="M759 460l5-11 5 13-6 12z"/>
<path fill="#0dedbb" d="M687 414l9-3 9 9-9 4z"/>
<path fill="#0ded87" d="M648 395l10-1 10 5-10 1z"/>
<path class="e" d="M555 379L573 381"/>
<path fill="#0ded6c" d="M601 384l12 1 11 2-11-2z"/>
<path fill="#0de6ed" d="M728 437l7-7 6 12-6 8z"/>
<path fill="#0da4ed" d="M798 471l3-14 2 5-3 13z"/>
<path fill="#0ded7b" d="M636 390l11 0 11 4-10 1z"/>
<path fill="#0dbaed" d="M806 465l2-13 3 1-3 12z"/>
<path fill="#0ded6e" d="M613 385l11 2 12 1-11-1z"/>
<path fill="#0ded72" d="M625 387l11 1 11 2-11 0z"/>
<path fill="#0daded" d="M769 462l5-11 3 11-4 13z"/>
<path fill="#0da2ed" d="M788 470l4-14 3 8-4 14z"/>
<path fill="#0deda1" d="M678 406l9-3 9 8-9 3z"/>
<path fill="#0dedc6" d="M705 420l8-5 8 10-8 6z"/>
<path fill="#0de2ed" d="M813 452l3-12 0 4 0 4z"/>
<path class="m" d="M546 379l4-6 4 6z"/>
<path fill="#0ddbed" d="M741 442l7-8 5 13-6 9z"/>
<path fill="#0db3ed" d="M777 462l5-12 3 10-4 13z"/>
<path fill="#0ded8d" d="M668 399l9-2 10 6-9 3z"/>
<path class="e" d="M573 381L591 383"/>
<path fill="#0dd5ed" d="M753 447l6-10 5 12-5 11z"/>
<path fill="#0dc2ed" d="M803 462l3-12 2 2-2 13z"/>
<path fill="#0dedd1" d="M721 425l7-5 7 10-7 7z"/>
<path fill="#0db7ed" d="M795 464l3-13 3 6-3 14z"/>
<path fill="#0ded7e" d="M658 394l9-1 10 4-9 2z"/>
<path fill="#0dedaa" d="M696 411l9-4 8 8-8 5z"/>
<path fill="#0ded6c" d="M624 387l11 1 11 1-10-1z"/>
<path fill="#0de1ed" d="M811 453l2-11 3-2-3 12z"/>
<path fill="#0ded74" d="M647 390l10 1 10 2-9 1z"/>
<path fill="#0ded6e" d="M636 388l10 1 11 2-10-1z"/>
<path fill="#0dbeed" d="M785 460l4-12 3 8-4 14z"/>
<path fill="#0dd3ed" d="M764 449l5-10 5 12-5 11z"/>
<path fill="#0dedda" d="M735 430l7-7 6 11-7 8z"/>
<path fill="#0ded93" d="M687 403l9-2 9 6-9 4z"/>
<path fill="#0dedb2" d="M713 415l8-4 7 9-7 5z"/>
<path fill="#0dcfed" d="M801 457l2-12 3 5-3 12z"/>
<path fill="#0de3ed" d="M808 452l3-11 2 1-2 11z"/>
<path class="e" d="M591 383L610 385"/>
<path fill="#0dd5ed" d="M774 451l4-11 4 10-5 12z"/>
<path fill="#0dede0" d="M748 434l6-7 5 10-6 10z"/>
<path fill="#0dceed" d="M792 456l3-12 3 7-3 13z"/>
<path fill="#0ded82" d="M677 397l10-1 9 5-9 2z"/>
<path fill="#0ded6c" d="M646 389l11 2 10 1-10-1z"/>
<path fill="#0ded76" d="M667 393l10 0 10 3-10 1z"/>
<path fill="#0ded6f" d="M657 391l10 1 10 1-10 0z"/>
<path fill="#0dedb9" d="M728 420l7-6 7 9-7 7z"/>
<path fill="#0ded99" d="M705 407l8-3 8 7-8 4z"/>
<path fill="#0ddced" d="M782 450l4-11 3 9-4 12z"/>
<path fill="#0dede4" d="M759 437l6-8 4 10-5 10z"/>
<path class="m" d="M819 394l4-6 4 6z"/>
<path class="e" d="M820 397L823 392"/>
<path fill="#0deaed" d="M806 450l2-11 3 2-3 11z"/>
<path fill="#0de1ed" d="M798 451l3-11 2 5-2 12z"/>
<path fill="#0dedd8" d="M813 442l2-10 1 4 0 4z"/>
<path class="e" d="M610 385L628 387"/>
<path fill="#0ded85" d="M696 401l8-2 9 5-8 3z"/>
<path fill="#0dedbf" d="M742 423l6-6 6 10-6 7z"/>
<path fill="#0dede4" d="M769 439l5-9 4 10-4 11z"/>
<path fill="#0de7ed" d="M789 448l4-11 2 7-3 12z"/>
<path fill="#0ded9e" d="M721 411l7-4 7 7-7 6z"/>
<path fill="#0ded77" d="M687 396l8-1 9 4-8 2z"/>
<path fill="#0ded6d" d="M667 392l9 1 10 1-9-1z"/>
<path fill="#0ded6f" d="M677 393l9 1 9 1-8 1z"/>
<path fill="#0dede5" d="M803 445l3-10 2 4-2 11z"/>
<path fill="#0dedd5" d="M811 441l2-9 2 0-2 10z"/>
<path fill="#0dedc2" d="M754 427l6-8 5 10-6 8z"/>
<path fill="#0dede0" d="M778 440l4-10 4 9-4 11z"/>
<path fill="#0dede5" d="M795 444l3-10 3 6-3 11z"/>
<path fill="#0ded88" d="M713 404l7-3 8 6-7 4z"/>
<path fill="#0deda2" d="M735 414l7-5 6 8-6 6z"/>
<path class="e" d="M628 387L646 389"/>
<path fill="#0dedc4" d="M765 429l5-8 4 9-5 9z"/>
<path fill="#0dedd9" d="M786 439l4-10 3 8-4 11z"/>
<path fill="#0ded79" d="M704 399l8-1 8 3-7 3z"/>
<path fill="#0dedce" d="M808 439l3-9 2 2-2 9z"/>
<path fill="#0dedd5" d="M801 440l3-10 2 5-3 10z"/>
<path fill="#0ded6d" d="M686 394l9 1 9 1-9-1z"/>
<path fill="#0ded70" d="M695 395l9 1 8 2-8 1z"/>
<path fill="#0deda5" d="M748 417l6-6 6 8-6 8z"/>
<path fill="#0ded8b" d="M728 407l7-4 7 6-7 5z"/>
<path fill="#0dedc2" d="M774 430l5-9 3 9-4 10z"/>
<path fill="#0dedcf" d="M793 437l3-10 2 7-3 10z"/>
<path class="e" d="M646 389L665 392"/>
<path fill="#0dedb8" d="M813 432l2-8 0 4 0 4z"/>
<path fill="#0ded7b" d="M720 401l8-2 7 4-7 4z"/>
<path fill="#0dedc4" d="M806 435l2-8 3 3-3 9z"/>
<path fill="#0deda7" d="M760 419l5-6 5 8-5 8z"/>
<path fill="#0dedbe" d="M782 430l4-9 4 8-4 10z"/>
<path fill="#0ded8e" d="M742 409l6-4 6 6-6 6z"/>
<path fill="#0dedc4" d="M798 434l3-9 3 5-3 10z"/>
<path fill="#0ded70" d="M712 398l8 0 8 1-8 2z"/>
<path fill="#0ded6d" d="M704 396l8 1 8 1-8 0z"/>
<path fill="#0deda7" d="M770 421l4-7 5 7-5 9z"/>
<path fill="#0dedb8" d="M790 429l3-8 3 6-3 10z"/>
<path fill="#0dedb1" d="M811 430l2-8 2 2-2 8z"/>
<path fill="#0ded7c" d="M735 403l7-2 6 4-6 4z"/>
<path fill="#0ded8f" d="M754 411l6-4 5 6-5 6z"/>
<path fill="#0dedb7" d="M804 430l2-7 2 4-2 8z"/>
<path class="e" d="M665 392L683 394"/>
<path fill="#0deda5" d="M779 421l4-6 3 6-4 9z"/>
<path fill="#0ded71" d="M728 399l7 1 7 1-7 2z"/>
<path fill="#0dedb0" d="M796 427l3-7 2 5-3 9z"/>
<path fill="#0ded6d" d="M720 398l7 1 8 1-7-1z"/>
<path class="m" d="M651 391l4-6 4 6z"/>
<path fill="#0ded90" d="M765 413l5-5 4 6-4 7z"/>
<path fill="#0deda9" d="M808 427l3-7 2 2-2 8z"/>
<path fill="#0ded7d" d="M748 405l6-2 6 4-6 4z"/>
<path fill="#0deda2" d="M786 421l4-6 3 6-3 8z"/>
<path fill="#0deda7" d="M801 425l3-7 2 5-2 7z"/>
<path fill="#0ded71" d="M742 401l6 0 6 2-6 2z"/>
<path fill="#0ded8f" d="M774 414l5-5 4 6-4 6z"/>
<path fill="#0ded9b" d="M813 422l2-5 0 3 0 4z"/>
<path fill="#0ded6d" d="M735 400l6 1 7 0-6 0z"/>
<path fill="#0ded9d" d="M793 421l3-6 3 5-3 7z"/>
<path fill="#0ded7d" d="M760 407l5-3 5 4-5 5z"/>
<path class="e" d="M683 394L702 396"/>
<path class="e" d="M817 403L820 397"/>
<path fill="#0ded9d" d="M806 423l2-6 3 3-3 7z"/>
<path fill="#0ded8e" d="M783 415l3-5 4 5-4 6z"/>
<path fill="#0ded97" d="M799 420l2-6 3 4-3 7z"/>
<path fill="#0ded71" d="M754 403l5 0 6 1-5 3z"/>
<path fill="#0ded7d" d="M770 408l4-3 5 4-5 5z"/>
<path fill="#0ded93" d="M811 420l2-5 2 2-2 5z"/>
<path fill="#0ded6d" d="M748 401l6 1 5 1-5 0z"/>
<path fill="#0ded8b" d="M790 415l3-5 3 5-3 6z"/>
<path fill="#0ded91" d="M804 418l2-5 2 4-2 6z"/>
<path fill="#0ded7d" d="M779 409l4-3 3 4-3 5z"/>
<path fill="#0ded72" d="M765 404l5 0 4 1-4 3z"/>
<path class="e" d="M702 396L720 398"/>
<path fill="#0ded88" d="M796 415l3-5 2 4-2 6z"/>
<path fill="#0ded8a" d="M808 417l3-5 2 3-2 5z"/>
<path fill="#0ded6d" d="M759 403l6 0 5 1-5 0z"/>
<path fill="#0ded7c" d="M786 410l4-3 3 3-3 5z"/>
<path fill="#0ded84" d="M801 414l3-4 2 3-2 5z"/>
<path fill="#0ded71" d="M774 405l4 0 5 1-4 3z"/>
<path fill="#0ded83" d="M813 415l2-4 0 3 0 3z"/>
<path fill="#0ded6d" d="M770 404l4 0 4 1-4 0z"/>
<path fill="#0ded7a" d="M793 410l3-3 3 3-3 5z"/>
<path fill="#0ded80" d="M806 413l2-3 3 2-3 5z"/>
<path fill="#0ded71" d="M783 406l3 0 4 1-4 3z"/>
<path class="e" d="M720 398L739 400"/>
<path fill="#0ded79" d="M799 410l2-2 3 2-3 4z"/>
<path fill="#0ded7c" d="M811 412l1-2 3 1-2 4z"/>
<path fill="#0ded6d" d="M778 405l4 0 4 1-3 0z"/>
<path fill="#0ded71" d="M790 407l3 0 3 0-3 3z"/>
<path fill="#0ded77" d="M804 410l2-2 2 2-2 3z"/>
<path fill="#0ded6d" d="M786 406l4 0 3 1-3 0z"/>
<path fill="#0ded70" d="M796 407l2 0 3 1-2 2z"/>
<path fill="#0ded75" d="M808 410l2-1 2 1-1 2z"/>
<path fill="#0ded70" d="M801 408l2 0 3 0-2 2z"/>
<path fill="#0ded73" d="M812 410l2-1 1 1 0 1z"/>
<path fill="#0ded6d" d="M793 407l3 0 2 0-2 0z"/>
<path class="e" d="M739 400L757 402"/>
<path fill="#0ded6f" d="M806 408l2 0 2 1-2 1z"/>
<path fill="#0ded6d" d="M798 407l3 0 2 1-2 0z"/>
<path fill="#0ded6f" d="M810 409l2 0 2 0-2 1z"/>
<path fill="#0ded6d" d="M803 408l3 0 2 0-2 0z"/>
<path fill="#0ded6c" d="M808 408l2 1 2 0-2 0z"/>
<path fill="#0ded6c" d="M812 409l2 0 0 0 0 0z"/>
<path class="e" d="M757 402L776 405"/>
<path class="e" d="M814 409L817 403"/>
<path class="m" d="M757 404l4-6 4 6z"/>
<path class="e" d="M776 405L795 407"/>
<path class="e" d="M795 407L814 409"/>
</g>
<text x="61.8" y="166.0" class="three">3</text>
<text x="74.5" y="176.0" class="three">3</text>
<text x="123.0" y="181.5" class="three">3</text>
<text x="171.6" y="188.0" class="three">3</text>
<text x="221.8" y="192.5" class="three">3</text>
<text x="272.0" y="200.0" class="three">3</text>
<text x="323.0" y="206.0" class="three">3</text>
<text x="380.0" y="211.5" class="three">3</text>
<text x="411.9" y="207.0" class="three">3</text>
<text x="420.4" y="190.1" class="three">3</text>
<text x="427.8" y="175.3" class="three">3</text>
<text x="434.8" y="162.6" class="three">3</text>
<text x="441.1" y="149.4" class="three">3</text>
<text x="447.5" y="137.2" class="three">3</text>
<text x="454.8" y="126.2" class="three">3</text>
<text x="192.7" y="95.8" class="three">3</text>
<defs>
<linearGradient id="spBL" x1="0" y1="0" x2="0" y2="1"><stop offset="0" stop-color="#50f020"/><stop offset="0.45" stop-color="#30e0a0"/><stop offset="0.75" stop-color="#20c0f0"/><stop offset="1" stop-color="#2060e0"/></linearGradient>
<linearGradient id="spFR" x1="0" y1="0" x2="0" y2="1"><stop offset="0" stop-color="#c0ff20"/><stop offset="0.5" stop-color="#40f040"/><stop offset="1" stop-color="#20d0c0"/></linearGradient>
<linearGradient id="spFL" x1="0" y1="0" x2="0" y2="1"><stop offset="0" stop-color="#40d0d0"/><stop offset="1" stop-color="#708090"/></linearGradient>
</defs>
<path d="M173.6 114L175.4 51.6L178.8 114Z" fill="url(#spBL)" stroke="#6a8a8a" stroke-width="0.3"/>
<path d="M405.6 205L409.6 164.5L410.6 205Z" fill="url(#spFR)" stroke="#6a9a6a" stroke-width="0.3"/>
<path d="M52.4 150L54.2 203L55.4 150Z" fill="url(#spFL)"/>
<path d="M453.2 116L454.6 150L455.8 116Z" fill="#2a8a9a"/>
<path d="M268.6 135.6L272.4 130.2L276.2 135.6Z" fill="none" stroke="#5fd8d0" stroke-width="0.8"/>
<rect x="515.2" y="21.4" width="18.5" height="272.8" fill="url(#cbar)"/>
<g stroke="#000" stroke-opacity="0.5" stroke-width="0.9">
<line x1="515.2" y1="38.45" x2="533.7" y2="38.45"/>
<line x1="515.2" y1="55.50" x2="533.7" y2="55.50"/>
<line x1="515.2" y1="72.55" x2="533.7" y2="72.55"/>
<line x1="515.2" y1="89.60" x2="533.7" y2="89.60"/>
<line x1="515.2" y1="106.65" x2="533.7" y2="106.65"/>
<line x1="515.2" y1="123.70" x2="533.7" y2="123.70"/>
<line x1="515.2" y1="140.75" x2="533.7" y2="140.75"/>
<line x1="515.2" y1="157.80" x2="533.7" y2="157.80"/>
<line x1="515.2" y1="174.85" x2="533.7" y2="174.85"/>
<line x1="515.2" y1="191.90" x2="533.7" y2="191.90"/>
<line x1="515.2" y1="208.95" x2="533.7" y2="208.95"/>
<line x1="515.2" y1="226.00" x2="533.7" y2="226.00"/>
<line x1="515.2" y1="243.05" x2="533.7" y2="243.05"/>
<line x1="515.2" y1="260.10" x2="533.7" y2="260.10"/>
<line x1="515.2" y1="277.15" x2="533.7" y2="277.15"/>
</g>
<rect x="515.2" y="21.4" width="18.5" height="272.8" fill="none" stroke="#333" stroke-width="0.8"/>
<text x="508.4" y="25.80" fill="#ff0000" class="cb" text-anchor="end" textLength="27.4" lengthAdjust="spacingAndGlyphs">38684.</text>
<text x="508.4" y="42.78" fill="#ff5000" class="cb" text-anchor="end" textLength="27.4" lengthAdjust="spacingAndGlyphs">33848.</text>
<text x="508.4" y="59.76" fill="#ff9f00" class="cb" text-anchor="end" textLength="27.4" lengthAdjust="spacingAndGlyphs">29013.</text>
<text x="508.4" y="76.74" fill="#ffef00" class="cb" text-anchor="end" textLength="27.4" lengthAdjust="spacingAndGlyphs">24177.</text>
<text x="508.4" y="93.72" fill="#bfff00" class="cb" text-anchor="end" textLength="27.4" lengthAdjust="spacingAndGlyphs">19342.</text>
<text x="508.4" y="110.70" fill="#70ff00" class="cb" text-anchor="end" textLength="27.4" lengthAdjust="spacingAndGlyphs">14506.</text>
<text x="508.4" y="127.68" fill="#20ff00" class="cb" text-anchor="end" textLength="22.8" lengthAdjust="spacingAndGlyphs">9671.</text>
<text x="508.4" y="144.66" fill="#00ff30" class="cb" text-anchor="end" textLength="27.4" lengthAdjust="spacingAndGlyphs">4835.5</text>
<text x="508.4" y="161.64" fill="#00ff80" class="cb" text-anchor="end" textLength="9.1" lengthAdjust="spacingAndGlyphs">0.</text>
<text x="508.4" y="178.62" fill="#00ffcf" class="cb" text-anchor="end" textLength="32.0" lengthAdjust="spacingAndGlyphs">-4835.5</text>
<text x="508.4" y="195.60" fill="#00dfff" class="cb" text-anchor="end" textLength="27.4" lengthAdjust="spacingAndGlyphs">-9671.</text>
<text x="508.4" y="212.58" fill="#008fff" class="cb" text-anchor="end" textLength="32.0" lengthAdjust="spacingAndGlyphs">-14506.</text>
<text x="508.4" y="229.56" fill="#0040ff" class="cb" text-anchor="end" textLength="32.0" lengthAdjust="spacingAndGlyphs">-19342.</text>
<text x="508.4" y="246.54" fill="#1000ff" class="cb" text-anchor="end" textLength="32.0" lengthAdjust="spacingAndGlyphs">-24177.</text>
<text x="508.4" y="263.52" fill="#6000ff" class="cb" text-anchor="end" textLength="32.0" lengthAdjust="spacingAndGlyphs">-29013.</text>
<text x="508.4" y="280.50" fill="#af00ff" class="cb" text-anchor="end" textLength="32.0" lengthAdjust="spacingAndGlyphs">-33848.</text>
<text x="508.4" y="297.48" fill="#ff00ff" class="cb" text-anchor="end" textLength="32.0" lengthAdjust="spacingAndGlyphs">-38684.</text>
<text x="21.4" y="25.0" class="fe" textLength="15.9" lengthAdjust="spacingAndGlyphs">V: 1</text>
<text x="21.4" y="36.8" class="fe" textLength="14.1" lengthAdjust="spacingAndGlyphs">L: 1</text>
<text x="21.4" y="48.6" class="fe" textLength="15.9" lengthAdjust="spacingAndGlyphs">C: 1</text>
<path d="M45 262.5V250.5H44.2L46.9 241.2L49.6 250.5H48.8V262.5Z" fill="#6a6aff" stroke="#5a5ae8" stroke-width="0.4"/>
<path d="M47 261L62.5 262.2V260.3L68.2 264.3L62.3 266.6V264.7L47 264.2Z" fill="#ff6464" stroke="#e85050" stroke-width="0.4"/>
<circle cx="50.3" cy="258.8" r="2.4" fill="#22cc22"/>
<text x="44.6" y="239.5" class="tr">Z</text>
<text x="50.6" y="258.2" class="tr">Y</text>
<text x="70.8" y="269.8" class="tr">X</text>
<text x="22.0" y="273.4" class="fe" textLength="111.0" lengthAdjust="spacingAndGlyphs">Output Set: Case 1 Time 1.</text>
<text x="22.0" y="285.4" class="fe" textLength="188.0" lengthAdjust="spacingAndGlyphs">Deformed(38684.): Plate XY Membrane Force</text>
<text x="22.0" y="296.4" class="fe" textLength="189.0" lengthAdjust="spacingAndGlyphs">Elemental Contour: Plate XY Membrane Force</text>
<rect x="6.0" y="327.8" width="252.8" height="191.8" fill="#fff" stroke="#8c8c8c" stroke-width="1.3"/>
<g stroke="#d9d9d9" stroke-width="0.6" fill="none">
<path d="M40.1 484.6L97.5 445.4L218.5 456.5"/>
<path d="M39.6 471.6L97.2 434.6L218.5 445.1"/>
<path d="M39.1 458.4L96.9 423.7L218.5 433.6"/>
<path d="M38.5 445.2L96.6 412.7L218.6 422.1"/>
<path d="M38.0 431.9L96.3 401.7L218.6 410.5"/>
<path d="M37.5 418.6L96.1 390.6L218.6 398.8"/>
<path d="M36.9 405.1L95.8 379.5L218.7 387.0"/>
<path d="M36.4 391.5L95.5 368.3L218.7 375.2"/>
<path d="M35.8 377.9L95.2 357.0L218.7 363.4"/>
</g>
<style>.b0{fill:#ffc000;stroke:#ffc000}.b1{fill:#edb200;stroke:#edb200}.b2{fill:#5590c6;stroke:#5590c6}.b3{fill:#a5a5a5;stroke:#a5a5a5}.b4{fill:#68a142;stroke:#68a142}.b5{fill:#ed7d31;stroke:#ed7d31}.b6{fill:#999999;stroke:#999999}.b7{fill:#dba500;stroke:#dba500}.b8{fill:#4472c4;stroke:#4472c4}.b9{fill:#dc742e;stroke:#dc742e}.b10{fill:#8d8d8d;stroke:#8d8d8d}.b11{fill:#3a62a8;stroke:#3a62a8}.b12{fill:#cb6b2a;stroke:#cb6b2a}.b13{fill:#c89700;stroke:#c89700}.b14{fill:#ba6227;stroke:#ba6227}.b15{fill:#828282;stroke:#828282}.b16{fill:#355a9a;stroke:#355a9a}.b17{fill:#31518c;stroke:#31518c}.b18{fill:#a95923;stroke:#a95923}.b19{fill:#ffce00;stroke:#ffce00}.b20{fill:#767676;stroke:#767676}.b21{fill:#985020;stroke:#985020}.b22{fill:#6a6a6a;stroke:#6a6a6a}.b23{fill:#b68900;stroke:#b68900}.b24{fill:#a47b00;stroke:#a47b00}.b25{fill:#5b9bd5;stroke:#5b9bd5}.b26{fill:#4e85b7;stroke:#4e85b7}.b27{fill:#487aa7;stroke:#487aa7}.b28{fill:#416f98;stroke:#416f98}.b29{fill:#60943d;stroke:#60943d}.b30{fill:#507c33;stroke:#507c33}.b31{fill:#588838;stroke:#588838}.b32{fill:#486f2e;stroke:#486f2e}.b33{fill:#213a67;stroke:#213a67}.b34{fill:#1e355e;stroke:#1e355e}.b35{fill:#182c4d;stroke:#182c4d}.b36{fill:#1b3156;stroke:#1b3156}.b37{fill:#71330a;stroke:#71330a}.b38{fill:#7c390b;stroke:#7c390b}.b39{fill:#233f6f;stroke:#233f6f}.b40{fill:#873e0c;stroke:#873e0c}.b41{fill:#93430d;stroke:#93430d}.b42{fill:#9e480e;stroke:#9e480e}.b43{fill:#264478;stroke:#264478}.b44{fill:#a94d0f;stroke:#a94d0f}.b45{fill:#294981;stroke:#294981}.b46{fill:#70ad47;stroke:#70ad47}.b47{fill:#78b94c;stroke:#78b94c}.b48{fill:#62a6e4;stroke:#62a6e4}.b49{fill:#3b6489;stroke:#3b6489}.b50{fill:#662e09;stroke:#662e09}.b51{fill:#b1b1b1;stroke:#b1b1b1}.b52{fill:#fe8635;stroke:#fe8635}.b53{fill:#497ad2;stroke:#497ad2}</style><g transform="scale(0.5)" stroke-width="0.7" stroke-linejoin="round"><path class="b0" d="M194 810l3 6 1-12-3 0z"/>
<path class="b1" d="M192 804l2 6 1-6zM197 816l6-12-5 0z"/>
<path class="b1" d="M197 816l6 8 0-20z"/>
<path class="b2" d="M192 804l3 0-2-23-1 0z"/>
<path class="b3" d="M196 828l6 14 1-15-7 0z"/>
<path class="b0" d="M203 827l0-3-6-8-1 11z"/>
<path class="b3" d="M202 842l6 4 0-19-5 0z"/>
<path class="b0" d="M193 817l3 10 1-11-3-6zM208 827l0-1-5-2 0 3z"/>
<path class="b4" d="M193 781l-1-15 0 15z"/>
<path class="b1" d="M191 805l2 12 1-7-2-6zM203 824l5 2 1-21-6-1z"/>
<path class="b3" d="M195 842l7 0-6-14z"/>
<path class="b5" d="M200 863l6 7 1-20-6 0z"/>
<path class="b3" d="M207 850l1-4-6-4-1 8z"/>
<path class="b6" d="M208 846l5-1 1-17-6-1z"/>
<path class="b1" d="M214 828l0-3-6 1 0 1zM208 826l6-1 0-20-5 0z"/>
<path class="b5" d="M197 851l3 12 1-13zM206 870l6-3 1-16-6-1z"/>
<path class="b3" d="M195 842l2 9 4-1 1-8zM213 851l0-6-5 1-1 4z"/>
<path class="b6" d="M191 828l4 14 1-14 0-1zM213 845l6-6 0-11-5 0z"/>
<path class="b1" d="M191 825l0 3 5-1-3-10zM219 828l1-5-6 2 0 3zM214 825l6-2 0-18-6 0z"/>
<path class="b7" d="M188 806l5 11-2-12z"/>
<path class="b8" d="M201 875l3 4 1-5z"/>
<path class="b5" d="M198 871l3 4 4-1 1-4-6-7z"/>
<path class="b7" d="M188 806l3 19 2-8z"/>
<path class="b9" d="M193 852l5 19 2-8-3-12zM212 867l5-8 1-7-5-1z"/>
<path class="b6" d="M192 848l1 4 4-1-2-9zM218 852l1-13-6 6 0 6zM219 839l6-6 0-4-6-1z"/>
<path class="b1" d="M220 823l6-3 0-14-6-1zM225 829l1-9-6 3-1 5z"/>
<path class="b8" d="M204 879l6-3 0-1-5-1z"/>
<path class="b5" d="M210 875l2-8-6 3-1 4z"/>
<path class="b10" d="M189 829l3 19 3-6-4-14z"/>
<path class="b7" d="M188 828l1 1 2-1 0-3z"/>
<path class="b1" d="M226 820l6-3 0-11-6 0z"/>
<path class="b9" d="M217 859l4-6-3-1z"/>
<path class="b6" d="M221 853l2-4 2-16-6 6-1 13zM225 833l3-3-3-1z"/>
<path class="b11" d="M201 876l1 1 2 2-3-4z"/>
<path class="b12" d="M210 875l5-8 2-8-5 8zM196 869l5 7 0-1-3-4z"/>
<path class="b1" d="M228 830l2-2 2-11-6 3-1 9z"/>
<path class="b13" d="M186 807l2 21 3-3-3-19z"/>
<path class="b0" d="M232 817l6-2 0-8-6-1z"/>
<path class="b14" d="M192 853l4 16 2 2-5-19z"/>
<path class="b15" d="M190 847l2 6 1-1-1-4z"/>
<path class="b16" d="M202 877l0-1 7 0 1 0-6 3z"/>
<path class="b14" d="M202 876l5-2 2 2zM215 867l6-11 0-2 0-1-4 6z"/>
<path class="b6" d="M223 849l6-9 1-10-2 0-3 3z"/>
<path class="b1" d="M230 830l0-2-2 2zM230 828l7-6 1-7-6 2z"/>
<path class="b15" d="M221 854l2-5-2 4zM186 831l4 16 2 1-3-19z"/>
<path class="b0" d="M238 815l6-2 1-6-7 0zM237 822l6-4 1-5-6 2z"/>
<path class="b13" d="M186 829l0 2 3-2-1-1zM184 808l2 21 2-1-2-21z"/>
<path class="b17" d="M210 875l0 1-1 0z"/>
<path class="b18" d="M207 874l6-9 2 2-5 8-1 1zM193 862l6 7 2 7-5-7zM191 855l2 7 3 7-4-16z"/>
<path class="b0" d="M244 813l7-2 1-3-7-1zM243 818l7-3 1-4-7 2z"/>
<path class="b6" d="M229 840l6-8 0-1-5-1z"/>
<path class="b1" d="M235 831l2-9-7 6 0 2z"/>
<path class="b14" d="M221 856l1-2-1 0z"/>
<path class="b15" d="M222 854l5-9 2-5-6 9-2 5z"/>
<path class="b19" d="M251 811l7 0 1-3-7 0z"/>
<path class="b20" d="M187 843l4 12 1-2-2-6z"/>
<path class="b1" d="M235 831l6-6 2-7-6 4z"/>
<path class="b21" d="M213 865l5-9 1-1 2 1-6 11z"/>
<path class="b22" d="M218 856l0-1 1 0z"/>
<path class="b17" d="M202 876l0 1-1-1z"/>
<path class="b18" d="M199 869l6-3 2 8-5 2-1 0zM205 866l5-7 3 6-6 9z"/>
<path class="b15" d="M185 832l2 11 3 4-4-16zM227 845l6-9 2-4-6 8zM233 836l2-3 0-2 0 1z"/>
<path class="b13" d="M184 827l1 5 1-1 0-2zM181 809l3 18 2 2-2-21z"/>
<path class="b0" d="M250 815l7-2 1-2-7 0z"/>
<path class="b19" d="M258 811l8-1 1-1-8-1z"/>
<path class="b1" d="M241 825l7-5 2-5-7 3z"/>
<path class="b21" d="M222 854l-1 2-2-1zM194 857l2 2 3 10-6-7-2-6z"/>
<path class="b22" d="M218 855l6-10 3 0-5 9-3 1zM191 853l3 4-3-1z"/>
<path class="b0" d="M266 810l8 0 1-1-8 0z"/>
<path class="b0" d="M257 813l8-1 1-2-8 1zM265 812l8-1 1-1-8 0zM274 810l9 1 1-1-9-1z"/>
<path class="b13" d="M235 833l4-5 2-3-6 6z"/>
<path class="b1" d="M248 820l7-3 2-4-7 2z"/>
<path class="b18" d="M210 859l2-2 6-1-5 9zM191 856l2 6-2-7zM196 859l4-2 2 0 3 9-6 3z"/>
<path class="b20" d="M212 857l4-7 2 5 0 1zM185 838l6 15 0 3 0-1-4-12zM224 845l7-9 2 0-6 9zM231 836l1-2 3-1-2 3z"/>
<path class="b7" d="M239 828l7-5 2-3-7 5z"/>
<path class="b15" d="M183 834l2 4 2 5-2-11z"/>
<path class="b13" d="M181 825l2 9 2-2-1-5zM179 811l2 14 3 2-3-18z"/>
<path class="b0" d="M255 817l8-3 2-2-8 1zM273 811l9 0 1 0-9-1zM283 811l11 0 1 0-11-1zM263 814l8-1 2-2-8 1z"/>
<path class="b22" d="M216 850l6-9 2 4-6 10z"/>
<path class="b23" d="M232 834l5-5 2-1-4 5z"/>
<path class="b18" d="M210 857l0 2-5 7-3-9z"/>
<path class="b20" d="M202 857l6-6 2 6z"/>
<path class="b7" d="M246 823l7-4 2-2-7 3z"/>
<path class="b0" d="M282 811l11 1 1-1-11 0zM294 811l17 1 1 0-17-1zM271 813l9 0 2-2-9 0z"/>
<path class="b22" d="M222 841l5-6 2 0 2 1-7 9z"/>
<path class="b24" d="M227 835l1-1 1 1z"/>
<path class="b13" d="M237 829l7-6 2 0-7 5z"/>
<path class="b25" d="M311 812l1 0-17-1z"/>
<path class="b1" d="M253 819l8-3 2-2-8 3zM293 812l17 1 1-1-17-1zM261 816l8-1 2-2-8 1z"/>
<path class="b18" d="M212 857l-2 2 0-2z"/>
<path class="b20" d="M208 851l5-7 3 6-4 7-2 0zM183 835l5 10 3 8-6-15z"/>
<path class="b21" d="M196 857l0 2-2-2z"/>
<path class="b22" d="M188 845l5 4 3 8-2 0-3-4zM213 844l6-7 3 4-6 9z"/>
<path class="b15" d="M183 835l2 3-2-4z"/>
<path class="b13" d="M178 823l4 10 1 2 0-1-2-9zM176 812l2 11 3 2-2-14z"/>
<path class="b18" d="M200 857l-4 2 0-2z"/>
<path class="b20" d="M193 849l6-1 3 9-2 0-4 0zM232 834l-1 2-2-1zM199 848l6-5 3 8-6 6zM205 843l6-5 2 6-5 7zM184 837l1 1 3 7-5-10z"/>
<path class="b7" d="M244 823l7-3 2-1-7 4zM251 820l8-3 2-1-8 3z"/>
<path class="b23" d="M228 834l7-6 2 1-5 5-3 1zM179 829l5 8-1-2-1-2z"/>
<path class="b0" d="M280 813l11 0 2-1-11-1z"/>
<path class="b1" d="M311 812l18 1-17-1zM269 815l9-1 2-1-9 0z"/>
<path class="b2" d="M311 812l18 1-17-1z"/>
<path class="b13" d="M235 828l7-5 2 0-7 6zM175 821l4 8 3 4-4-10z"/>
<path class="b22" d="M219 837l1-1 7-1-5 6zM185 838l6 3 2 8-5-4zM191 841l5-1 3 8-6 1z"/>
<path class="b24" d="M220 836l6-5 2 3-1 1z"/>
<path class="b7" d="M242 823l7-3 2 0-7 3zM173 813l2 8 3 2-2-11z"/>
<path class="b26" d="M311 812l17-8 1 9z"/>
<path class="b1" d="M291 813l17 1 2-1-17-1zM259 817l8-1 2-1-8 1z"/>
<path class="b27" d="M310 813l17-10 1 1-17 8z"/>
<path class="b0" d="M278 814l11 0 2-1-11 0z"/>
<path class="b23" d="M226 831l6-5 3 2-7 6z"/>
<path class="b7" d="M249 820l8-2 2-1-8 3z"/>
<path class="b26" d="M328 804l11-5 0 15-10-1z"/>
<path class="b22" d="M211 838l0-1 8 0-6 7zM196 840l3-2 4 0 2 5-6 5z"/>
<path class="b24" d="M211 837l6-4 2 4zM199 838l3-1 1 1z"/>
<path class="b1" d="M267 816l9-1 2-1-9 1zM289 814l17 2 2-2-17-1zM257 818l8-1 2-1-8 1z"/>
<path class="b13" d="M232 826l7-3 3 0-7 5z"/>
<path class="b27" d="M308 814l17-11 2 0-17 10z"/>
<path class="b22" d="M211 838l-6 5-2-5z"/>
<path class="b24" d="M217 833l6-5 3 3-6 5-1 1zM202 837l6-4 3 5-8 0z"/>
<path class="b7" d="M239 823l8-3 2 0-7 3zM172 821l4 5 3 3-4-8zM170 815l2 6 3 0-2-8z"/>
<path class="b26" d="M339 799l9-5 1 21-10-1z"/>
<path class="b28" d="M327 803l11-6 1 2-11 5z"/>
<path class="b0" d="M276 815l11 1 2-2-11 0z"/>
<path class="b15" d="M185 837l0 1-1-1z"/>
<path class="b13" d="M176 826l6 6 3 5-1 0-5-8z"/>
<path class="b23" d="M223 828l7-3 2 1-6 5z"/>
<path class="b7" d="M247 820l7-1 3-1-8 2z"/>
<path class="b26" d="M348 794l4-2 5 1 0 22-8 0z"/>
<path class="b29" d="M352 792l5-2 0 3z"/>
<path class="b20" d="M189 838l2 3-6-3 0-1zM437 844l0 16-1-16z"/>
<path class="b23" d="M182 832l5 2 2 4-4-1z"/>
<path class="b1" d="M265 817l9 0 2-2-9 1zM287 816l17 1 2-1-17-2zM254 819l9-1 2-1-8 1z"/>
<path class="b28" d="M338 797l7-4 3-1 0 2-9 5zM325 803l11-7 2 1-11 6z"/>
<path class="b30" d="M345 793l2-2 1 1z"/>
<path class="b22" d="M196 838l0 2-5 1-2-3z"/>
<path class="b24" d="M208 833l6-4 3 4-6 4 0 1zM187 834l6 0 3 4-7 0z"/>
<path class="b26" d="M306 816l17-12 2-1-17 11zM365 793l0 23-8-1 0-22z"/>
<path class="b13" d="M230 825l7-3 2 1-7 3z"/>
<path class="b29" d="M357 790l8-4 0 7-8 0z"/>
<path class="b0" d="M274 817l11 0 2-1-11-1z"/>
<path class="b23" d="M214 829l7-3 2 2-6 5z"/>
<path class="b22" d="M199 838l-3 2 0-2z"/>
<path class="b24" d="M193 834l6-2 3 5-3 1-3 0zM199 832l6-3 3 4-6 4z"/>
<path class="b28" d="M352 792l-4 2 0-2zM336 796l3-2 6-1-7 4z"/>
<path class="b30" d="M347 791l9-5 1 4-5 2-4 0zM339 794l6-5 2 2-2 2z"/>
<path class="b7" d="M237 822l7-1 3-1-8 3zM167 817l2 3 3 1-2-6zM169 820l4 4 3 2-4-5z"/>
<path class="b26" d="M373 794l0 22-8 0 0-23z"/>
<path class="b29" d="M365 786l7-4 1 12-8-1z"/>
<path class="b13" d="M221 826l6-2 3 1-7 3zM173 824l6 4 3 4-6-6z"/>
<path class="b1" d="M263 818l9 0 2-1-9 0zM244 821l8-2 2 0-7 1zM285 817l17 1 2-1-17-1zM252 819l9 0 2-1-9 1z"/>
<path class="b26" d="M380 794l0 23-7-1 0-22z"/>
<path class="b29" d="M372 782l8-3 0 15-7 0z"/>
<path class="b30" d="M356 786l8-5 1 5-8 4zM345 789l9-5 2 2-9 5z"/>
<path class="b27" d="M323 804l11-8 2 0-11 7zM334 796l3-1 2-1-3 2z"/>
<path class="b7" d="M227 824l7-2 3 0-7 3zM234 822l8-1 2 0-7 1z"/>
<path class="b26" d="M304 817l17-12 2-1-17 12zM387 794l0 23-7 0 0-23z"/>
<path class="b23" d="M179 828l5 2 3 4-5-2zM205 829l6-2 3 2-6 4zM184 830l6-1 3 5-6 0zM190 829l6-1 3 4-6 2zM196 828l6-1 3 2-6 3zM437 821l0 23-1 0-1-23z"/>
<path class="b0" d="M272 818l11 0 2-1-11 0z"/>
<path class="b29" d="M380 779l7-4 0 19-7 0z"/>
<path class="b31" d="M364 781l7-4 1 5-7 4zM337 795l7-5 1-1-6 5zM371 777l8-4 1 6-8 3z"/>
<path class="b13" d="M211 827l7-2 3 1-7 3zM218 825l7-2 2 1-6 2zM202 827l7-2 2 2-6 2z"/>
<path class="b26" d="M394 795l0 23-7-1 0-23zM321 805l11-7 2-2-11 8zM302 818l18-11 1-2-17 12z"/>
<path class="b29" d="M387 775l6-3 1 23-7-1z"/>
<path class="b1" d="M261 819l9 0 2-1-9 0zM164 818l2 2 3 0-2-3zM283 818l17 2 2-2-17-1zM166 820l4 3 3 1-4-4zM242 821l8-1 2-1-8 2zM250 820l8 0 3-1-9 0z"/>
<path class="b32" d="M354 784l8-6 2 3-8 5zM362 778l8-5 1 4-7 4z"/>
<path class="b7" d="M170 823l5 2 4 3-6-4zM225 823l7-1 2 0-7 2z"/>
<path class="b26" d="M400 795l1 23-7 0 0-23z"/>
<path class="b29" d="M393 772l1 0 6 0 0 23-6 0z"/>
<path class="b33" d="M394 772l6-3 0 3z"/>
<path class="b31" d="M344 790l8-6 2 0-9 5zM379 773l1-1 6 0 1 3-7 4z"/>
<path class="b0" d="M270 819l11 1 2-2-11 0zM258 820l10 1 2-2-9 0zM161 820l2 1 3-1-2-2z"/>
<path class="b13" d="M175 825l6 1 3 4-5-2zM181 826l6 1 3 2-6 1zM209 825l6-1 3 1-7 2zM187 827l6-1 3 2-6 1zM193 826l6-1 3 2-6 1z"/>
<path class="b34" d="M380 772l6-4 0 4z"/>
<path class="b26" d="M407 796l0 23-6-1-1-23zM332 798l3-2 2-1-3 1z"/>
<path class="b29" d="M407 773l0 23-7-1 0-23zM335 796l7-5 2-1-7 5z"/>
<path class="b33" d="M400 769l7-2 0 6-7-1z"/>
<path class="b1" d="M232 822l7 0 3-1-8 1z"/>
<path class="b26" d="M413 796l0 23-6 0 0-23zM320 807l11-7 1-2-11 7zM300 820l18-11 2-2-18 11z"/>
<path class="b29" d="M413 773l0 23-6 0 0-23z"/>
<path class="b33" d="M407 767l6-2 0 8-6 0z"/>
<path class="b31" d="M393 772l-6 3-1-3zM352 784l8-6 2 0-8 6z"/>
<path class="b34" d="M386 768l7-3 0 7-7 0z"/>
<path class="b32" d="M370 773l1-1 7 0 1 1-8 4z"/>
<path class="b35" d="M371 772l6-4 1 4z"/>
<path class="b1" d="M281 820l17 1 2-1-17-2zM239 822l8 0 3-2-8 1z"/>
<path class="b7" d="M215 824l7 0 3-1-7 2z"/>
<path class="b26" d="M419 797l0 23-6-1 0-23z"/>
<path class="b29" d="M419 773l0 24-6-1 0-23zM342 791l9-6 1-1-8 6z"/>
<path class="b33" d="M413 765l6 0 0 8-6 0z"/>
<path class="b31" d="M360 778l8-5 1 0 1 0-8 5z"/>
<path class="b34" d="M393 765l6-4 1 8-6 3-1 0zM399 761l7-3 1 9-7 2z"/>
<path class="b1" d="M163 821l3 2 4 0-4-3zM166 823l6 1 3 1-5-2zM222 824l7-1 3-1-7 1zM247 822l9 0 2-2-8 0zM229 823l7 0 3-1-7 0z"/>
<path class="b28" d="M436 798l1 23-2 0 0-23z"/>
<path class="b30" d="M435 780l1 18-1 0z"/>
<path class="b32" d="M380 772l-1 1-1-1z"/>
<path class="b35" d="M377 768l7-4 2 4-6 4-2 0zM384 764l7-5 2 6-7 3z"/>
<path class="b26" d="M425 797l1 23-7 0 0-23zM433 797l2 24-4-1 0-23z"/>
<path class="b29" d="M425 774l0 23-6 0 0-24zM431 774l2 23-2 0z"/>
<path class="b33" d="M419 765l6 2 0 7-6-1z"/>
<path class="b0" d="M268 821l11 0 2-1-11-1zM256 822l9 0 3-1-10-1z"/>
<path class="b7" d="M199 825l6 0 4 0-7 2zM172 824l6 1 3 1-6-1zM205 825l7-1 3 0-6 1zM178 825l6 0 3 2-6-1zM184 825l6 0 3 1-6 1zM190 825l6 0 3 0-6 1zM196 825l6 0 3 0-6 0z"/>
<path class="b26" d="M431 797l0 23-5 0-1-23zM331 800l4-3 0-1-3 2zM318 809l11-7 2-2-11 7zM298 821l18-10 2-2-18 11z"/>
<path class="b29" d="M431 774l0 23-6 0 0-23zM335 797l5-3 2-3-7 5zM351 785l8-5 1-2-8 6zM340 794l9-6 2-3-9 6z"/>
<path class="b33" d="M425 767l6 6 0 1-6 0z"/>
<path class="b31" d="M371 772l-1 1-1 0z"/>
<path class="b34" d="M368 773l8-5 1 0-6 4-2 1z"/>
<path class="b27" d="M435 798l0 23-2-24z"/>
<path class="b31" d="M432 774l3 6 0 18-2-1-2-23z"/>
<path class="b34" d="M431 773l1 1-1 0zM406 758l6-2 1 9-6 2zM412 756l6 0 1 9-6 0zM376 768l7-5 1 1-7 4zM418 756l6 2 1 9-6-2z"/>
<path class="b1" d="M279 821l17 2 2-2-17-1zM236 823l8 0 3-1-8 0zM212 824l7 0 3 0-7 0z"/>
<path class="b36" d="M391 759l7-4 1 6-6 4z"/>
<path class="b28" d="M435 799l1 23 1-1-2-23z"/>
<path class="b30" d="M434 775l1 24 0-1z"/>
<path class="b29" d="M359 780l8-5 0-1 1-1-8 5z"/>
<path class="b28" d="M435 798l2 23-1-23z"/>
<path class="b30" d="M434 775l1 23 1 0-1-18z"/>
<path class="b36" d="M398 755l6-3 2 6-7 3zM424 758l6 7 1 8-6-6z"/>
<path class="b0" d="M265 822l11 1 3-2-11 0zM157 822l2 1 4-2-2-1z"/>
<path class="b26" d="M329 802l6-3 0-2-4 3zM316 811l11-6 2-3-11 7z"/>
<path class="b29" d="M335 799l3-3 2-2-5 3zM349 788l8-5 2-3-8 5zM338 796l9-5 2-3-9 6z"/>
<path class="b1" d="M159 823l4 0 3 0-3-2zM244 823l9 0 3-1-9 0zM219 824l7 0 3-1-7 1zM163 823l5 1 4 0-6-1zM226 824l8 0 2-1-7 0zM168 824l6 1 4 0-6-1z"/>
<path class="b34" d="M383 763l7-4 1 0-7 5z"/>
<path class="b30" d="M434 775l1 5-3-6z"/>
<path class="b36" d="M430 765l4 9 0 1-2-1-1-1zM404 752l3-1 4 0 1 5-6 2z"/>
<path class="b33" d="M367 774l7-4 2-2-8 5zM374 770l7-5 2-2-7 5z"/>
<path class="b37" d="M407 751l4-2 0 2z"/>
<path class="b2" d="M296 823l17-9 3-3-18 10z"/>
<path class="b0" d="M253 823l10 1 2-2-9 0z"/>
<path class="b27" d="M434 800l1 23 1-1-1-23z"/>
<path class="b31" d="M433 776l1 24 1-1-1-24z"/>
<path class="b34" d="M433 769l0 7 1-1 0-1zM390 759l6-5 2 1-7 4zM396 754l5-2 2-1 1 1-6 3z"/>
<path class="b1" d="M276 823l18 1 2-1-17-2zM202 825l7 0 3-1-7 1zM174 825l6 0 4 0-6 0zM234 824l8 0 2-1-8 0zM209 825l7 0 3-1-7 0zM180 825l6 0 4 0-6 0zM216 825l7 0 3-1-7 0zM186 825l6 1 4-1-6 0z"/>
<path class="b2" d="M327 805l8-5 0-1-6 3zM313 814l12-6 2-3-11 6z"/>
<path class="b29" d="M357 783l8-5 2-3-8 5zM365 778l3-2-1-2 0 1z"/>
<path class="b36" d="M417 751l1 5-6 0-1-5z"/>
<path class="b37" d="M411 749l6 0 0 2-6 0z"/>
<path class="b4" d="M335 800l1-1 2-3-3 3zM347 791l8-5 2-3-8 5zM336 799l9-5 2-3-9 5z"/>
<path class="b36" d="M423 752l1 6-6-2-1-5z"/>
<path class="b37" d="M417 749l6 2 0 1-6-1z"/>
<path class="b0" d="M263 824l11 1 2-2-11-1zM242 824l8 1 3-2-9 0zM153 824l2 0 4-1-2-1z"/>
<path class="b36" d="M423 752l6 7 1 6-6-7z"/>
<path class="b33" d="M381 765l7-5 2-1-7 4zM368 776l4-3 2-3-7 4zM388 760l7-4 1-2-6 5z"/>
<path class="b34" d="M429 759l4 10 1 5-4-9zM407 751l-3 1-1-1z"/>
<path class="b38" d="M403 751l6-3 2 1-4 2z"/>
<path class="b27" d="M433 801l0 24 2-2-1-23z"/>
<path class="b31" d="M432 777l1 24 1-1-1-24z"/>
<path class="b34" d="M431 768l1 9 1-1 0-7z"/>
<path class="b2" d="M294 824l17-8 2-2-17 9z"/>
<path class="b0" d="M155 824l3 1 5-2-4 0zM250 825l10 0 3-1-10-1z"/>
<path class="b4" d="M355 786l8-5 2-3-8 5z"/>
<path class="b39" d="M372 773l7-5 2-3-7 5zM379 768l7-4 2-4-7 5z"/>
<path class="b1" d="M274 825l17 1 3-2-18-1zM192 826l7 0 3-1-6 0zM158 825l6 0 4-1-5-1zM223 825l8 1 3-2-8 0zM164 825l6 1 4-1-6-1zM199 826l6 0 4-1-7 0zM170 826l6 0 4-1-6 0zM205 826l7 1 4-2-7 0zM176 826l6 1 4-2-6 0z"/>
<path class="b2" d="M325 808l9-5 2-2-1-1-8 5zM311 816l11-5 3-3-12 6z"/>
<path class="b40" d="M409 748l6 0 2 1-6 0z"/>
<path class="b4" d="M336 801l0-2-1 1zM345 794l8-4 2-4-8 5zM363 781l7-4-2-1-3 2z"/>
<path class="b33" d="M395 756l6-3 0-1-5 2z"/>
<path class="b40" d="M401 753l2-2-2 1zM415 748l7 2 1 1-6-2z"/>
<path class="b39" d="M370 777l1 0 1-4-4 3zM386 764l7-4 2-4-7 4zM371 777l7-5 1-4-7 5z"/>
<path class="b0" d="M231 826l8 0 3-2-8 0zM260 825l11 1 3-1-11-1zM239 826l8 1 3-2-8-1z"/>
<path class="b33" d="M424 753l4 5 1 1-6-7zM428 758l3 10 2 1-4-10z"/>
<path class="b40" d="M422 750l2 3-1-1 0-1z"/>
<path class="b41" d="M402 753l6-3 1-2-6 3-2 2z"/>
<path class="b27" d="M431 802l1 24 1-1 0-24z"/>
<path class="b31" d="M430 778l1 24 2-1-1-24z"/>
<path class="b34" d="M430 770l0 8 2-1-1-9z"/>
<path class="b2" d="M334 803l2-1 0-1z"/>
<path class="b4" d="M336 802l7-4 2-4-9 5 0 2zM353 790l8-5 2-4-8 5zM361 785l8-4 1-3 0-1-7 4zM343 798l9-4 1-4-8 4z"/>
<path class="b1" d="M212 827l8 0 3-2-7 0zM182 827l6 0 4-1-6-1zM188 827l7 1 4-2-7 0zM195 828l6 0 4-2-6 0z"/>
<path class="b2" d="M291 826l18-7 2-3-17 8zM322 811l10-5 2-3-9 5zM309 819l11-5 2-3-11 5zM332 806l6-2-2-2-2 1z"/>
<path class="b42" d="M408 750l6 0 1-2-6 0zM414 750l6 2 2-2-7-2z"/>
<path class="b0" d="M271 826l18 2 2-2-17-1zM247 827l10 0 3-2-10 0zM148 827l2 0 5-3-2 0zM220 827l7 0 4-1-8-1z"/>
<path class="b39" d="M393 760l7-3 1-4-6 3zM378 772l7-4 1-4-7 4zM370 778l1-1-1 0zM385 768l6-3 2-5-7 4z"/>
<path class="b43" d="M421 754l5 6 2-2-4-5zM400 757l6-3-4-1-1 0zM391 765l7-3 2-5-7 3z"/>
<path class="b42" d="M420 752l1 2 3-1-2-3zM406 754l2-4-6 3z"/>
<path class="b33" d="M426 760l4 10 1-2-3-10z"/>
<path class="b0" d="M150 827l4 0 4-2-3-1zM154 827l5 1 5-3-6 0zM257 827l11 1 3-2-11-1zM227 827l8 1 4-2-8 0zM159 828l6 0 5-2-6-1zM201 828l7 0 4-1-7-1zM235 828l9 1 3-2-8-1z"/>
<path class="b27" d="M430 804l1 24 1-2-1-24z"/>
<path class="b31" d="M429 780l1 24 1-2-1-24z"/>
<path class="b34" d="M429 774l0 6 1-2 0-8z"/>
<path class="b4" d="M369 781l4-2-3-1zM352 794l7-4 2-5-8 5zM338 804l3-2 2-4-7 4zM359 790l8-4 2-5-8 4zM341 802l8-4 3-4-9 4z"/>
<path class="b39" d="M373 779l3-2 2-5-7 5-1 1zM376 777l7-3 2-6-7 4z"/>
<path class="b44" d="M407 754l5 0 2-4-6 0-2 4z"/>
<path class="b1" d="M165 828l6 0 5-2-6 0z"/>
<path class="b2" d="M289 828l17-7 3-2-18 7zM320 814l10-4 2-4-10 5zM306 821l12-4 2-3-11 5zM330 810l9-4 1-1-2-1-6 2z"/>
<path class="b45" d="M415 755l4 1 0-2z"/>
<path class="b44" d="M412 754l3 1 4-1 1-2-6-2z"/>
<path class="b43" d="M419 756l6 8 1-4-5-6-2 0zM398 762l7-3 1-5-6 3zM383 774l7-4 1-5-6 3zM390 770l6-3 2-5-7 3z"/>
<path class="b42" d="M421 754l-1-2-1 2z"/>
<path class="b33" d="M425 764l4 10 1-4-4-10z"/>
<path class="b0" d="M268 828l18 1 3-1-18-2zM208 828l8 1 4-2-8 0zM171 828l6 1 5-2-6-1zM244 829l10 0 3-2-10 0zM216 829l7 1 4-3-7 0zM177 829l7 0 4-2-6 0zM254 829l11 1 3-2-11-1zM184 829l6 1 5-2-7-1zM223 830l9 0 3-2-8-1zM190 830l7 0 4-2-6 0zM232 830l9 1 3-2-9-1zM140 831l2 0 8-4-2 0z"/>
<path class="b25" d="M140 831l2 0 6-4z"/>
<path class="b27" d="M428 805l1 24 2-1-1-24z"/>
<path class="b31" d="M427 781l1 24 2-1-1-24z"/>
<path class="b34" d="M427 778l0 3 2-1 0-6z"/>
<path class="b4" d="M367 786l7-4 1-2-2-1-4 2zM349 798l8-3 2-5-7 4zM340 805l1-3-3 2zM357 795l8-4 2-5-8 4z"/>
<path class="b39" d="M375 780l1-3-3 2z"/>
<path class="b45" d="M405 759l6 0 1-4-5-1-1 0z"/>
<path class="b44" d="M412 755l0-1-5 0z"/>
<path class="b45" d="M411 759l6 2 2-5-4-1-3 0z"/>
<path class="b44" d="M415 755l-3-1 0 1z"/>
<path class="b46" d="M374 782l4-1-3-1z"/>
<path class="b43" d="M378 781l3-2 2-5-7 3-1 3zM417 761l6 8 2-5-6-8zM396 767l7-2 2-6-7 3zM381 779l7-3 2-6-7 4zM388 776l7-3 1-6-6 3z"/>
<path class="b39" d="M423 769l4 9 2-4-4-10z"/>
<path class="b1" d="M142 831l4 0 8-4-4 0z"/>
<path class="b2" d="M286 829l18-5 2-3-17 7zM339 806l2 0-1-1zM318 817l10-3 2-4-10 4z"/>
<path class="b4" d="M341 806l6-3 2-5-8 4-1 3z"/>
<path class="b27" d="M427 806l1 25 1-2-1-24z"/>
<path class="b31" d="M425 783l2 23 1-1-1-24-1 1z"/>
<path class="b34" d="M427 781l0-3-1 4z"/>
<path class="b0" d="M265 830l18 2 3-3-18-1zM197 830l7 1 4-3-7 0zM241 831l9 1 4-3-10 0zM204 831l7 1 5-3-8-1zM211 832l8 0 4-2-7-1zM250 832l12 0 3-2-11-1zM219 832l8 1 5-3-9 0z"/>
<path class="b45" d="M403 765l6 0 2-6-6 0zM409 765l6 2 2-6-6-2zM415 767l7 7 1-5-6-8z"/>
<path class="b46" d="M365 791l7-3 2-6-7 4zM347 803l8-3 2-5-8 3zM372 788l7-3 1-4-2 0-4 1zM355 800l8-3 2-6-8 4z"/>
<path class="b1" d="M146 831l5 1 8-4-5-1z"/>
<path class="b2" d="M328 814l9-3 2-5-9 4zM304 824l11-3 3-4-12 4z"/>
<path class="b43" d="M380 781l1-2-3 2zM395 773l6-2 2-6-7 2z"/>
<path class="b4" d="M425 782l0 1 1-1z"/>
<path class="b39" d="M422 774l3 8 1 0 1-4-4-9z"/>
<path class="b1" d="M151 832l6 0 8-4-6 0z"/>
<path class="b1" d="M157 832l6 1 8-5-6 0z"/>
<path class="b2" d="M283 832l18-4 3-4-18 5z"/>
<path class="b25" d="M337 811l8-3 0-1-4-1-2 0zM315 821l10-3 3-4-10 3z"/>
<path class="b46" d="M345 807l2-4-6 3zM379 785l6-2-5-2zM363 797l7-3 2-6-7 3z"/>
<path class="b43" d="M385 783l1-1 2-6-7 3-1 2zM386 782l7-2 2-7-7 3z"/>
<path class="b27" d="M425 808l1 24 2-1-1-25z"/>
<path class="b31" d="M424 788l1 20 2-2-2-23z"/>
<path class="b45" d="M401 771l7 0 1-6-6 0zM408 771l6 2 1-6-6-2zM414 773l6 7 2-6-7-7z"/>
<path class="b1" d="M163 833l7 0 7-4-6-1z"/>
<path class="b25" d="M345 808l1 0-1-1z"/>
<path class="b46" d="M346 808l7-3 2-5-8 3-2 4zM370 794l7-3 2-6-7 3zM353 805l8-2 2-6-8 3zM377 791l7-2 2-6-1 0-6 2zM361 803l7-3 2-6-7 3z"/>
<path class="b1" d="M170 833l6 1 8-5-7 0z"/>
<path class="b4" d="M422 783l2 5 1-5 0-1z"/>
<path class="b39" d="M420 780l2 3 3-1-3-8z"/>
<path class="b0" d="M262 832l18 2 3-2-18-2zM227 833l9 0 5-2-9-1zM236 833l10 1 4-2-9-1z"/>
<path class="b25" d="M325 818l9-2 3-5-9 3zM301 828l11-3 3-4-11 3zM334 816l9-3 2-5-8 3zM312 825l10-2 3-5-10 3z"/>
<path class="b43" d="M393 780l6-2 2-7-6 2zM386 783l0-1-1 1z"/>
<path class="b1" d="M176 834l7 0 7-4-6-1z"/>
<path class="b45" d="M399 778l7 0 2-7-7 0zM406 778l6 2 2-7-6-2z"/>
<path class="b27" d="M423 809l1 25 2-2-1-24z"/>
<path class="b31" d="M422 793l1 16 2-1-1-20z"/>
<path class="b1" d="M183 834l7 1 7-5-7 0zM132 835l10-4-2 0z"/>
<path class="b2" d="M132 835l10-4-2 0z"/>
<path class="b46" d="M384 789l7-2 1-3-6-1z"/>
<path class="b43" d="M392 784l1-4-7 2 0 1z"/>
<path class="b1" d="M190 835l7 0 7-4-7-1z"/>
<path class="b0" d="M246 834l12 1 4-3-12 0z"/>
<path class="b25" d="M280 834l18-3 3-3-18 4zM343 813l8-2 0-2-5-1-1 0zM322 823l10-2 2-5-9 2z"/>
<path class="b47" d="M417 785l1 1 1-2z"/>
<path class="b45" d="M412 780l5 5 2-1 1-4-6-7z"/>
<path class="b4" d="M418 786l4 7 2-5-2-5-3 1z"/>
<path class="b39" d="M422 783l-2-3-1 4z"/>
<path class="b46" d="M351 809l2-4-7 3zM368 800l7-2 2-7-7 3zM391 787l6-2 1 0-6-1z"/>
<path class="b43" d="M398 785l1-7-6 2-1 4z"/>
<path class="b1" d="M197 835l7 1 7-4-7-1z"/>
<path class="b25" d="M351 811l3-1-3-1z"/>
<path class="b46" d="M354 810l4-1 3-6-8 2-2 4zM375 798l7-2 2-7-7 2zM358 809l8-2 2-7-7 3zM382 796l7-2 2-7-7 2zM366 807l7-2 2-7-7 2zM373 805l7-2 2-7-7 2z"/>
<path class="b27" d="M134 825l3-2 9 8-4 0zM421 811l2 25 1-2-1-25z"/>
<path class="b47" d="M397 785l2 0-1 0z"/>
<path class="b45" d="M399 785l5 0 2-7-7 0-1 7z"/>
<path class="b1" d="M204 836l8 0 7-4-8 0z"/>
<path class="b31" d="M420 799l1 12 2-2-1-16z"/>
<path class="b0" d="M258 835l18 2 4-3-18-2z"/>
<path class="b25" d="M298 831l11-1 3-5-11 3zM332 821l8-2 3-6-9 3zM309 830l10-2 3-5-10 2zM340 819l8-2 3-6-8 2z"/>
<path class="b27" d="M137 823l6-1 8 10-5-1z"/>
<path class="b28" d="M132 835l2-10 8 6z"/>
<path class="b47" d="M406 786l4 1 1-1z"/>
<path class="b45" d="M404 785l2 1 5 0 1-6-6-2z"/>
<path class="b1" d="M212 836l8 1 7-4-8-1z"/>
<path class="b47" d="M410 787l6 5 2-6-1-1-6 1zM389 794l7-1 1-8-6 2zM396 793l6 0 2-7-5-1-2 0z"/>
<path class="b45" d="M417 785l-5-5-1 6zM404 786l0-1-5 0z"/>
<path class="b27" d="M143 822l6 0 8 10-6 0z"/>
<path class="b4" d="M416 792l4 7 2-6-4-7z"/>
<path class="b27" d="M149 822l6 1 8 10-6-1z"/>
<path class="b1" d="M220 837l9 1 7-5-9 0z"/>
<path class="b0" d="M229 838l10 1 7-5-10-1z"/>
<path class="b25" d="M276 837l18-1 4-5-18 3zM348 817l8-1 2-5-4-1-3 1zM319 828l10-1 3-6-10 2z"/>
<path class="b27" d="M155 823l7 1 8 9-7 0zM419 813l2 25 2-2-2-25z"/>
<path class="b46" d="M358 811l0-2-4 1zM380 803l7-1 2-8-7 2z"/>
<path class="b31" d="M419 805l0 8 2-2-1-12z"/>
<path class="b47" d="M402 793l6 1 2-7-4-1-2 0zM408 794l7 5 1-7-6-5zM387 802l6-1 3-8-7 1zM393 801l7 0 2-8-6 0zM400 801l6 1 2-8-6-1z"/>
<path class="b45" d="M406 786l-2-1 0 1z"/>
<path class="b27" d="M162 824l6 1 8 9-6-1z"/>
<path class="b25" d="M356 816l7-2 1-1-6-2zM329 827l8-1 3-7-8 2z"/>
<path class="b46" d="M364 813l2-6-8 2 0 2z"/>
<path class="b4" d="M415 799l4 6 1-6-4-7z"/>
<path class="b27" d="M168 825l7 2 8 7-7 0zM417 815l2 25 2-2-2-25z"/>
<path class="b0" d="M239 839l12 0 7-4-12-1z"/>
<path class="b25" d="M294 836l12-1 3-5-11 1zM363 814l5-1-4 0zM337 826l8-2 3-7-8 2zM306 835l10-1 3-6-10 2z"/>
<path class="b46" d="M368 813l3 0 2-8-7 2-2 6zM371 813l7-2 2-8-7 2z"/>
<path class="b26" d="M175 827l7 1 8 7-7-1z"/>
<path class="b28" d="M127 838l1-17 6 4-2 10zM128 821l4-3 5 5-3 2zM132 818l6-2 5 6-6 1zM138 816l6 0 5 6-6 0zM144 816l6 1 5 6-6-1z"/>
<path class="b26" d="M182 828l7 2 8 5-7 0z"/>
<path class="b31" d="M417 812l0 3 2-2 0-8z"/>
<path class="b0" d="M251 839l18 2 7-4-18-2z"/>
<path class="b25" d="M251 839l18 2 7-4zM345 824l8-1 3-7-8 1zM316 834l9 0 4-7-10 1zM353 823l8-1 2-8-7 2zM325 834l9-1 3-7-8 1z"/>
<path class="b26" d="M189 830l8 1 7 5-7-1z"/>
<path class="b47" d="M406 802l7 4 2-7-7-5zM378 811l6-1 3-8-7 1zM384 810l7 0 2-9-6 1z"/>
<path class="b46" d="M413 806l4 6 2-7-4-6z"/>
<path class="b26" d="M197 831l8 2 7 3-8 0z"/>
<path class="b48" d="M361 822l7-1 2-7-2-1-5 1z"/>
<path class="b47" d="M370 814l1-1-3 0zM391 810l7 0 2-9-7 0zM398 810l6 1 2-9-6-1z"/>
<path class="b0" d="M269 841l19 1-12-5z"/>
<path class="b25" d="M269 841l19 1 6-6-18 1z"/>
<path class="b26" d="M205 833l8 2 7 2-8-1z"/>
<path class="b27" d="M150 817l6 1 6 6-7-1z"/>
<path class="b48" d="M368 821l7 0 1-6-6-1zM334 833l8 0 3-9-8 2z"/>
<path class="b47" d="M376 815l2-4-7 2-1 1z"/>
<path class="b2" d="M213 835l9 2 7 1-9-1z"/>
<path class="b27" d="M414 819l3 23 2-2-2-25-2 1zM156 818l7 2 5 5-6-1zM163 820l7 2 5 5-7-2zM170 822l7 2 5 4-7-1z"/>
<path class="b31" d="M417 815l0-3-2 4z"/>
<path class="b47" d="M404 811l6 4 3-9-7-4z"/>
<path class="b28" d="M122 840l1-23 5 4-1 17z"/>
<path class="b25" d="M412 816l2 3 1-3z"/>
<path class="b46" d="M410 815l2 1 3 0 2-4-4-6z"/>
<path class="b48" d="M375 821l7-1 1-4-7-1zM342 833l8-1 3-9-8 1z"/>
<path class="b47" d="M383 816l1-6-6 1-2 4z"/>
<path class="b25" d="M288 842l12 1 6-8-12 1z"/>
<path class="b2" d="M222 837l10 2 7 0-10-1z"/>
<path class="b49" d="M123 817l2-2 3 0 4 3-4 3z"/>
<path class="b32" d="M125 815l2-1 1 1z"/>
<path class="b48" d="M382 820l6-1 1-2-6-1zM350 832l7 0 4-10-8 1z"/>
<path class="b47" d="M389 817l2-7-7 0-1 6z"/>
<path class="b25" d="M300 843l10 1 6-10-10 1z"/>
<path class="b28" d="M136 814l2 2-6 2-4-3z"/>
<path class="b30" d="M127 814l6-3 3 3-8 1z"/>
<path class="b2" d="M232 839l12 2 7-2-12 0z"/>
<path class="b48" d="M388 819l7 1 1-3-7 0zM357 832l8 0 3-11-7 1z"/>
<path class="b47" d="M396 817l2-7-7 0-2 7z"/>
<path class="b26" d="M177 824l7 2 5 4-7-2zM184 826l8 2 5 3-8-1zM192 828l8 3 5 2-8-2zM200 831l8 2 5 2-8-2z"/>
<path class="b48" d="M395 820l6 1 1-4-6 0zM365 832l7-1 3-10-7 0z"/>
<path class="b47" d="M402 817l2-6-6-1-2 7z"/>
<path class="b28" d="M142 815l2 1-6 0-2-2z"/>
<path class="b30" d="M133 811l6 0 3 4-6-1z"/>
<path class="b0" d="M263 845l6-4-18-2z"/>
<path class="b25" d="M310 844l9 1 6-11-9 0zM244 841l19 4 6-4-18-2z"/>
<path class="b48" d="M401 821l7 3 2-7-8 0z"/>
<path class="b47" d="M410 817l0-2-6-4-2 6z"/>
<path class="b27" d="M412 827l2 17 3-2-3-23z"/>
<path class="b28" d="M148 815l2 2-6-1-2-1z"/>
<path class="b30" d="M139 811l6 0 3 4-6 0z"/>
<path class="b25" d="M408 824l4 3 2-8-2-3-2 1z"/>
<path class="b46" d="M412 816l-2-1 0 2z"/>
<path class="b48" d="M319 845l9 1 6-13-9 1zM372 831l7 0 3-11-7 1zM379 831l6 0 3-12-6 1z"/>
<path class="b28" d="M118 842l1-25 2-1 2 1-1 23z"/>
<path class="b30" d="M119 817l0-3 2 2z"/>
<path class="b27" d="M154 816l2 2-6-1-2-2z"/>
<path class="b31" d="M145 811l7 2 2 3-6-1z"/>
<path class="b27" d="M160 817l3 3-7-2-2-2z"/>
<path class="b31" d="M152 813l6 2 2 2-6-1z"/>
<path class="b48" d="M328 846l8 0 6-13-8 0zM385 831l7 0 3-11-7-1z"/>
<path class="b49" d="M125 815l-2 2-2-1z"/>
<path class="b32" d="M119 814l3-4 5 4-2 1-4 1zM122 810l6-4 5 5-6 3z"/>
<path class="b27" d="M166 818l4 4-7-2-3-3z"/>
<path class="b31" d="M158 815l7 3 1 0-6-1z"/>
<path class="b0" d="M263 845l19 2 6-5-19-1z"/>
<path class="b25" d="M263 845l25-3-19-1z"/>
<path class="b2" d="M208 833l10 3 4 1-9-2zM218 836l10 3 4 0-10-2zM228 839l12 4 4-2-12-2z"/>
<path class="b48" d="M336 846l8 1 6-15-8 1zM392 831l7 1 2-11-6-1z"/>
<path class="b27" d="M168 819l4 1 5 4-7-2-4-4z"/>
<path class="b31" d="M165 818l3 1-2-1z"/>
<path class="b48" d="M344 847l8 0 5-15-7 0zM399 832l6 2 3-10-7-3z"/>
<path class="b30" d="M128 806l6-1 5 6-6 0z"/>
<path class="b26" d="M172 820l8 3 4 3-7-2z"/>
<path class="b26" d="M409 836l2 11 3-3-2-17zM180 823l7 3 5 2-8-2zM187 826l9 3 4 2-8-3zM196 829l8 3 4 1-8-2z"/>
<path class="b0" d="M282 847l12 1 6-5-12-1z"/>
<path class="b25" d="M405 834l4 2 3-9-4-3z"/>
<path class="b28" d="M114 844l0-25 5-2-1 25z"/>
<path class="b30" d="M114 819l1-8 4 3 0 3zM134 805l7 1 4 5-6 0z"/>
<path class="b48" d="M352 847l7 1 6-16-8 0z"/>
<path class="b31" d="M141 806l6 2 5 5-7-2zM147 808l7 3 4 4-6-2zM154 811l7 3 4 4-7-3z"/>
<path class="b48" d="M359 848l8 1 5-18-7 1z"/>
<path class="b0" d="M294 848l10 1 6-5-10-1z"/>
<path class="b25" d="M240 843l19 5 4-3-19-4z"/>
<path class="b32" d="M115 811l3-5 4 4-3 4zM118 806l6-5 4 5-6 4z"/>
<path class="b48" d="M367 849l7 0 5-18-7 0z"/>
<path class="b0" d="M304 849l9 0 6-4-9-1z"/>
<path class="b48" d="M374 849l6 1 5-19-6 0z"/>
<path class="b2" d="M204 832l9 3 5 1-10-3zM213 835l11 4 4 0-10-3z"/>
<path class="b27" d="M171 819l1 1-4-1z"/>
<path class="b31" d="M161 814l7 3 3 2-3 0-3-1z"/>
<path class="b30" d="M124 801l6 0 4 4-6 1z"/>
<path class="b48" d="M380 850l7 0 5-19-7 0z"/>
<path class="b0" d="M313 849l9 1 6-4-9-1zM259 848l18 2 5-3-19-2z"/>
<path class="b28" d="M110 846l0-25 4-2 0 25z"/>
<path class="b30" d="M110 821l1-13 4 3-1 8zM130 801l7 1 4 4-7-1z"/>
<path class="b26" d="M177 821l3 2-8-3-1-1z"/>
<path class="b29" d="M168 817l8 3 1 1-6-2z"/>
<path class="b48" d="M387 850l7 1 5-19-7-1z"/>
<path class="b2" d="M404 852l7-5-2-11zM224 839l12 5 4-1-12-4z"/>
<path class="b26" d="M180 822l3 1 4 3-7-3-3-2zM183 823l9 4 4 2-9-3zM192 827l8 4 4 1-8-3z"/>
<path class="b29" d="M176 820l4 2-3-1z"/>
<path class="b0" d="M322 850l9 1 5-5-8 0z"/>
<path class="b31" d="M137 802l6 2 4 4-6-2zM143 804l7 3 4 4-7-3zM150 807l7 3 4 4-7-3zM157 810l7 3 4 4-7-3z"/>
<path class="b48" d="M394 851l6 0 5-17-6-2z"/>
<path class="b32" d="M111 808l3-6 4 4-3 5zM114 802l6-5 4 4-6 5z"/>
<path class="b0" d="M331 851l8 0 5-4-8-1zM277 850l13 1 4-3-12-1z"/>
<path class="b48" d="M400 851l4 1 5-16-4-2z"/>
<path class="b0" d="M339 851l8 1 5-5-8 0z"/>
<path class="b25" d="M236 844l19 7 4-3-19-5z"/>
<path class="b1" d="M404 852l3 0 4-5z"/>
<path class="b2" d="M404 852l3 0 4-5zM200 831l10 4 3 0-9-3zM210 835l10 4 4 0-11-4zM220 839l12 6 4-1-12-5z"/>
<path class="b28" d="M106 848l1-25 3-2 0 25z"/>
<path class="b30" d="M107 823l0-17 4 2-1 13zM120 797l4-1 3 0 3 5-6 0z"/>
<path class="b36" d="M124 796l2 0 1 0z"/>
<path class="b0" d="M347 852l7 1 5-5-7-1zM290 851l10 1 4-3-10-1z"/>
<path class="b29" d="M164 813l8 4 4 3-8-3z"/>
<path class="b31" d="M131 797l2 0 4 5-7-1-3-5z"/>
<path class="b34" d="M126 796l5 1-4-1z"/>
<path class="b0" d="M354 853l7 0 6-4-8-1zM300 852l10 0 3-3-9 0zM255 851l19 1 3-2-18-2z"/>
<path class="b26" d="M182 823l1 0-3-1z"/>
<path class="b29" d="M172 817l8 4 2 2-2-1-4-2z"/>
<path class="b31" d="M133 797l6 3 4 4-6-2zM139 800l7 3 4 4-7-3zM146 803l7 3 4 4-7-3z"/>
<path class="b32" d="M107 806l3-8 4 4-3 6zM110 798l1-1 8-1 1 1-6 5z"/>
<path class="b0" d="M361 853l7 1 6-5-7 0zM310 852l9 1 3-3-9-1z"/>
<path class="b26" d="M187 825l1 0 4 2-9-4-1 0z"/>
<path class="b29" d="M180 821l7 4-5-2zM153 806l7 4 4 3-7-3zM160 810l8 5 4 2-8-4zM168 815l8 4 4 2-8-4z"/>
<path class="b0" d="M368 854l7 0 5-4-6-1zM274 852l12 1 4-2-13-1z"/>
<path class="b35" d="M111 797l5-4 3 3z"/>
<path class="b26" d="M188 825l9 5 3 1-8-4z"/>
<path class="b28" d="M103 850l0-26 4-1-1 25z"/>
<path class="b30" d="M103 824l0-21 4 3 0 17zM124 796l-4 1-1-1zM103 803l2-4 5-1-3 8z"/>
<path class="b0" d="M375 854l7 1 5-5-7 0zM319 853l8 1 4-3-9-1z"/>
<path class="b25" d="M232 845l19 8 4-2-19-7z"/>
<path class="b36" d="M116 793l6-1 4 4-2 0-5 0zM105 799l2-4 3 3z"/>
<path class="b2" d="M197 830l9 4 4 1-10-4zM206 834l11 6 3-1-10-4zM217 840l12 6 3-1-12-6z"/>
<path class="b0" d="M382 855l7 0 5-4-7-1zM327 854l8 1 4-4-8 0zM286 853l11 1 3-2-10-1z"/>
<path class="b34" d="M122 792l7 1 4 4-2 0-5-1z"/>
<path class="b0" d="M389 855l6 1 5-5-6 0zM335 855l8 0 4-3-8-1zM251 853l19 2 4-3-19-1z"/>
<path class="b31" d="M138 798l1 2-6-3z"/>
<path class="b34" d="M129 793l6 3 3 2-5-1z"/>
<path class="b0" d="M395 856l5 0 4-4-4-1zM297 854l9 1 4-3-10 0z"/>
<path class="b29" d="M176 819l8 5 3 1-7-4z"/>
<path class="b31" d="M143 799l3 4-7-3-1-2z"/>
<path class="b34" d="M135 796l7 3 1 0-5-1z"/>
<path class="b0" d="M400 856l2 0 5-4-3 0zM343 855l8 1 3-3-7-1zM306 855l9 1 4-3-9-1zM351 856l7 1 3-4-7 0zM270 855l13 1 3-3-12-1zM358 857l7 0 3-3-7-1zM315 856l9 1 3-3-8-1zM283 856l10 1 4-3-11-1zM365 857l7 1 3-4-7 0zM324 857l8 1 3-3-8-1z"/>
<path class="b25" d="M402 856l5-4-3 0zM229 846l19 9 3-2-19-8z"/>
<path class="b35" d="M107 795l5-6 4 4-5 4-1 1z"/>
<path class="b28" d="M99 852l0-26 4-2 0 26z"/>
<path class="b30" d="M99 826l0-25 4 2 0 21zM99 801l0-1 6-1-2 4z"/>
<path class="b2" d="M191 827l2 2 4 1-9-5-1 0zM193 829l10 5 3 0-9-4zM203 834l10 6 4 0-11-6zM213 840l13 7 3-1-12-6z"/>
<path class="b4" d="M184 824l7 3-4-2z"/>
<path class="b31" d="M144 800l5 3 4 3-7-3-3-4z"/>
<path class="b34" d="M142 799l2 1-1-1z"/>
<path class="b29" d="M149 803l8 4 3 3-7-4zM157 807l7 5 4 3-8-5zM164 812l8 5 4 2-8-4zM172 817l9 5 3 2-8-5z"/>
<path class="b36" d="M112 789l7-2 3 5-6 1zM99 800l4-8 4 3-2 4z"/>
<path class="b34" d="M119 787l6 2 4 4-7-1zM125 789l7 3 3 4-6-3z"/>
<path class="b27" d="M96 854l0-26 3-2 0 26z"/>
<path class="b31" d="M96 828l0-26 3-2 0 1 0 25z"/>
<path class="b34" d="M96 802l0-4 3 2zM132 792l7 3 3 4-7-3z"/>
<path class="b0" d="M248 855l19 2 3-2-19-2zM372 858l7 1 3-4-7-1zM293 857l10 1 3-3-9-1zM332 858l8 0 3-3-8 0zM379 859l7 0 3-4-7 0z"/>
<path class="b35" d="M103 792l6-7 3 4-5 6z"/>
<path class="b31" d="M147 801l2 2-5-3z"/>
<path class="b34" d="M139 795l7 5 1 1-3-1-2-1z"/>
<path class="b2" d="M192 828l1 1-2-2z"/>
<path class="b4" d="M181 822l9 5 2 1-1-1-7-3z"/>
<path class="b36" d="M109 785l6-2 4 4-7 2z"/>
<path class="b29" d="M149 802l4 3 4 2-8-4-2-2zM153 805l8 5 3 2-7-5zM161 810l8 5 3 2-8-5zM169 815l9 6 3 1-9-5z"/>
<path class="b33" d="M146 800l3 2-2-1z"/>
<path class="b0" d="M340 858l7 1 4-3-8-1zM303 858l9 1 3-3-9-1zM267 857l13 1 3-2-13-1zM386 859l6 0 3-3-6-1zM347 859l8 1 3-3-7-1zM392 859l4 1 4-4-5 0zM312 859l9 1 3-3-9-1zM396 860l3 0 3-4-2 0zM280 858l10 1 3-2-10-1zM355 860l7 1 3-4-7 0z"/>
<path class="b25" d="M226 847l19 11 3-3-19-9z"/>
<path class="b2" d="M193 829l6 4 4 1-10-5-1-1zM199 833l11 7 3 0-10-6zM210 840l13 8 3-1-13-7z"/>
<path class="b4" d="M190 827l3 2-1-1zM178 821l9 6 3 0-9-5z"/>
<path class="b34" d="M115 783l7 2 3 4-6-2zM122 785l6 3 4 4-7-3z"/>
<path class="b36" d="M96 798l3-9 4 3-4 8z"/>
<path class="b27" d="M92 855l0-26 4-1 0 26z"/>
<path class="b31" d="M92 829l0-26 4-1 0 26z"/>
<path class="b34" d="M92 803l0-6 4 1 0 4zM128 788l7 4 4 3-7-3z"/>
<path class="b35" d="M99 789l6-7 4 3-6 7z"/>
<path class="b0" d="M245 858l19 1 3-2-19-2zM321 860l8 1 3-3-8-1zM362 861l7 1 3-4-7-1zM290 859l10 1 3-2-10-1zM329 861l8 1 3-4-8 0z"/>
<path class="b33" d="M135 792l7 5 4 3-7-5z"/>
<path class="b36" d="M105 782l6-2 4 3-6 2zM92 797l4-10 3 2-3 9z"/>
<path class="b29" d="M151 803l2 2-4-3z"/>
<path class="b33" d="M142 797l8 5 1 1-2-1-3-2z"/>
<path class="b0" d="M369 862l7 1 3-4-7-1zM264 859l13 1 3-2-13-1zM300 860l9 1 3-2-9-1zM337 862l8 1 2-4-7-1zM376 863l7 0 3-4-7 0zM345 863l7 1 3-4-8-1zM383 863l7 0 2-4-6 0zM309 861l9 1 3-2-9-1zM277 860l11 1 2-2-10-1z"/>
<path class="b25" d="M223 848l19 12 3-2-19-11z"/>
<path class="b2" d="M194 832l2 1 3 0-6-4zM196 833l11 7 3 0-11-7zM207 840l12 8 4 0-13-8z"/>
<path class="b4" d="M187 827l7 5-1-3-3-2z"/>
<path class="b29" d="M153 804l5 3 3 3-8-5-2-2zM158 807l8 6 3 2-8-5zM166 813l8 6 4 2-9-6z"/>
<path class="b33" d="M150 802l3 2-2-1z"/>
<path class="b34" d="M111 780l7 1 4 4-7-2z"/>
<path class="b27" d="M89 857l0-26 3-2 0 26z"/>
<path class="b31" d="M89 831l0-26 3-2 0 26z"/>
<path class="b34" d="M89 805l0-9 3 1 0 6zM118 781l7 4 3 3-6-3z"/>
<path class="b35" d="M96 787l6-8 3 3-6 7z"/>
<path class="b33" d="M125 785l7 4 3 3-7-4zM132 789l7 5 3 3-7-5zM139 794l8 6 3 2-8-5z"/>
<path class="b0" d="M242 860l19 1 3-2-19-1zM390 863l4 0 2-3-4-1zM352 864l7 1 3-4-7-1zM318 862l8 2 3-3-8-1zM288 861l9 2 3-3-10-1z"/>
<path class="b4" d="M174 819l9 7 4 1-9-6z"/>
<path class="b1" d="M394 863l2-1 3-2-3 0z"/>
<path class="b2" d="M194 833l2 0-2-1z"/>
<path class="b36" d="M102 779l3-1 4 0 2 2-6 2zM89 796l3-11 4 2-4 10z"/>
<path class="b37" d="M105 778l3-1 1 1z"/>
<path class="b0" d="M326 864l8 1 3-3-8-1zM261 861l13 1 3-2-13-1zM297 863l10 1 2-3-9-1z"/>
<path class="b25" d="M219 848l20 14 3-2-19-12z"/>
<path class="b4" d="M183 826l10 7 1 0 0-1-7-5z"/>
<path class="b19" d="M359 865l7 2 3-5-7-1zM366 867l7 0 3-4-7-1zM334 865l8 2 3-4-8-1zM342 867l8 2 2-5-7-1zM350 869l7 2 2-6-7-1zM357 871l7 2 2-6-7-2z"/>
<path class="b29" d="M155 806l3 1-5-3z"/>
<path class="b33" d="M147 800l7 5 1 1-2-2-3-2z"/>
<path class="b34" d="M113 778l1 0 4 3-7-1-2-2z"/>
<path class="b38" d="M108 777l5 1-4 0z"/>
<path class="b28" d="M86 859l0-26 3-2 0 26z"/>
<path class="b30" d="M86 833l-1-27 4-1 0 26z"/>
<path class="b36" d="M85 806l0-10 4 0 0 9z"/>
<path class="b2" d="M195 834l9 6 3 0-11-7-2 0zM204 840l13 9 2-1-12-8z"/>
<path class="b4" d="M193 833l2 1-1-1z"/>
<path class="b29" d="M155 806l8 6 3 1-8-6z"/>
<path class="b33" d="M114 778l7 4 4 3-7-4zM121 782l7 5 4 2-7-4zM128 787l8 5 3 2-7-5zM136 792l7 6 4 2-8-6zM143 798l8 6 3 1-7-5z"/>
<path class="b35" d="M92 785l5-6 3-1 2 1-6 8z"/>
<path class="b50" d="M97 779l1-2 2 1z"/>
<path class="b0" d="M373 867l7 1 3-5-7 0zM239 862l20 1 2-2-19-1zM307 864l8 1 3-3-9-1zM274 862l11 2 3-3-11-1zM380 868l7-1 3-4-7 0zM315 865l9 2 2-3-8-2z"/>
<path class="b4" d="M163 812l8 6 3 1-8-6zM171 818l9 7 3 1-9-7zM180 825l10 7 3 1-10-7z"/>
<path class="b34" d="M105 778l-3 1-2-1z"/>
<path class="b38" d="M98 777l6-2 4 2-3 1-5 0z"/>
<path class="b0" d="M285 864l10 1 2-2-9-2zM259 863l12 1 3-2-13-1zM295 865l9 2 3-3-10-1z"/>
<path class="b25" d="M217 849l19 15 3-2-20-14z"/>
<path class="b28" d="M82 861l0-27 4-1 0 26z"/>
<path class="b30" d="M82 834l0-26 3-2 1 27z"/>
<path class="b36" d="M82 808l0-9 3-3 0 10z"/>
<path class="b35" d="M85 796l4-11 3 0-3 11z"/>
<path class="b1" d="M387 867l4-1 3-3-4 0zM391 866l3-1 2-3-2 1z"/>
<path class="b40" d="M104 775l7 2 3 1-1 0-5-1z"/>
<path class="b2" d="M194 836l7 5 3-1-9-6zM201 841l13 9 3-1-13-9z"/>
<path class="b19" d="M324 867l8 3 2-5-8-1zM364 873l7 1 2-7-7 0zM332 870l7 2 3-5-8-2zM371 874l7-1 2-5-7-1zM339 872l8 3 3-6-8-2z"/>
<path class="b4" d="M190 832l4 4 1-2-2-1zM156 808l3 2 4 2-8-6zM159 810l9 7 3 1-8-6zM168 817l9 8 3 0-9-7zM177 825l10 7 3 0-10-7z"/>
<path class="b39" d="M151 804l5 4-1-2-1-1z"/>
<path class="b33" d="M118 780l3 2-7-4z"/>
<path class="b40" d="M111 777l7 3-4-2z"/>
<path class="b36" d="M89 785l4-5 4-1-5 6z"/>
<path class="b37" d="M93 780l2-3 3 0-1 2z"/>
<path class="b33" d="M118 780l7 5 3 2-7-5z"/>
<path class="b0" d="M236 864l20 1 3-2-20-1zM271 864l11 2 3-2-11-2zM304 867l9 2 2-4-8-1z"/>
<path class="b39" d="M125 785l7 6 4 1-8-5zM132 791l8 6 3 1-7-6zM140 797l8 6 3 1-8-6z"/>
<path class="b40" d="M95 777l6-2 3 0-6 2z"/>
<path class="b28" d="M79 862l0-26 3-2 0 27z"/>
<path class="b30" d="M79 836l0-27 3-1 0 26z"/>
<path class="b36" d="M79 809l0-2 3-8 0 9zM82 799l4-10 3-4-4 11z"/>
<path class="b0" d="M378 873l7-2 2-4-7 1zM282 866l10 2 3-3-10-1zM256 865l13 2 2-3-12-1zM292 868l9 2 3-3-9-2z"/>
<path class="b25" d="M214 850l19 15 3-1-19-15z"/>
<path class="b19" d="M313 869l8 2 3-4-9-2zM347 875l7 3 3-7-7-2zM354 878l8 2 2-7-7-2zM321 871l8 3 3-4-8-3zM362 880l7 1 2-7-7-1zM329 874l8 4 2-6-7-2zM301 870l9 2 3-3-9-2zM369 881l7 0 2-8-7 1zM337 878l8 4 2-7-8-3zM345 882l7 4 2-8-7-3zM310 872l9 4 2-5-8-2zM352 886l7 3 3-9-8-2zM319 876l8 4 2-6-8-3zM359 889l7 2 3-10-7-1zM327 880l8 5 2-7-8-4z"/>
<path class="b41" d="M101 775l7 2 3 0-7-2z"/>
<path class="b28" d="M77 863l1-27 1 0 0 26z"/>
<path class="b30" d="M78 836l1-27 0 27z"/>
<path class="b1" d="M385 871l4-2 2-3-4 1z"/>
<path class="b2" d="M193 837l5 4 3 0-7-5z"/>
<path class="b4" d="M187 832l6 5 1-1-4-4zM156 810l3 0-3-2z"/>
<path class="b34" d="M86 789l5-8 2-1-4 5zM79 807l4-9 3-9-4 10z"/>
<path class="b38" d="M91 781l1 0 3-4-2 3z"/>
<path class="b42" d="M108 777l7 3 2 0 1 0-7-3z"/>
<path class="b39" d="M148 803l8 7 0-2-5-4z"/>
<path class="b23" d="M77 890l0-26 0-1z"/>
<path class="b28" d="M77 864l0-27 0 26z"/>
<path class="b13" d="M389 869l2-2 3-2-3 1z"/>
<path class="b15" d="M77 898l1-7-1-1z"/>
<path class="b13" d="M78 891l0-27-1 0 0 26z"/>
<path class="b27" d="M78 864l0-27-1 0 0 27z"/>
<path class="b31" d="M78 837l-1-20 0 20z"/>
<path class="b43" d="M116 782l6 3 3 0-7-5-1 0zM122 785l7 6 3 0-7-6zM129 791l8 6 3 0-8-6zM137 797l8 7 3-1-8-6z"/>
<path class="b42" d="M115 780l1 2 1-2zM92 781l6-2 3-4-6 2z"/>
<path class="b4" d="M156 810l9 7 3 0-9-7zM165 817l9 8 3 0-9-8z"/>
<path class="b25" d="M198 841l13 10 3-1-13-9z"/>
<path class="b0" d="M233 865l20 2 3-2-20-1zM269 867l11 1 2-2-11-2z"/>
<path class="b28" d="M77 863l0-26 1-1z"/>
<path class="b30" d="M77 837l0-20 2-8-1 27z"/>
<path class="b0" d="M280 868l10 2 2-2-10-2zM253 867l13 2 3-2-13-2zM290 870l9 3 2-3-9-2z"/>
<path class="b25" d="M211 851l20 16 2-2-19-15z"/>
<path class="b1" d="M376 881l6-4 3-6-7 2z"/>
<path class="b2" d="M78 864l4 0 0-27-2 0zM192 839l3 3 3-1-5-4z"/>
<path class="b4" d="M82 837l-1-27-1 27zM174 825l10 8 3-1-10-7zM184 833l8 6 1-2-6-5z"/>
<path class="b44" d="M98 779l7 1 3-3-7-2z"/>
<path class="b33" d="M83 798l6-7 2-10-5 8z"/>
<path class="b7" d="M382 877l5-4 2-4-4 2z"/>
<path class="b26" d="M78 864l2-27-2 0z"/>
<path class="b29" d="M80 837l1-27-1 0-3 7 1 20z"/>
<path class="b33" d="M81 810l0-1-1 1z"/>
<path class="b45" d="M109 783l3 1 1-2z"/>
<path class="b44" d="M105 780l4 3 4-1 2-2-7-3z"/>
<path class="b29" d="M77 817l3-7-1-1z"/>
<path class="b33" d="M80 810l1-1 2-11-4 9 0 2z"/>
<path class="b43" d="M145 804l8 7 2-1 1 0-8-7zM89 791l6-2 2-7-6-1z"/>
<path class="b2" d="M82 864l7 1-1-27-6-1z"/>
<path class="b4" d="M88 838l-1-27-6-1 1 27z"/>
<path class="b39" d="M87 811l0-9-6 7 0 1zM81 809l6-7 2-11-6 7z"/>
<path class="b45" d="M112 784l7 5 3-4-6-3-3 0zM119 789l7 5 3-3-7-6z"/>
<path class="b44" d="M116 782l-1-2-2 2z"/>
<path class="b42" d="M97 782l1-3-6 2-1 0z"/>
<path class="b46" d="M154 811l8 7 3-1-9-7-1 0zM162 818l9 8 3-1-9-8zM171 826l10 8 3-1-10-8z"/>
<path class="b43" d="M153 811l1 0 1-1z"/>
<path class="b25" d="M195 842l13 11 3-2-13-10z"/>
<path class="b23" d="M387 873l2-4 2-2-2 2z"/>
<path class="b0" d="M231 867l20 2 2-2-20-2zM266 869l11 1 3-2-11-1zM366 891l7-2 3-8-7 0z"/>
<path class="b2" d="M89 865l6 1-1-28-6 0z"/>
<path class="b4" d="M94 838l0-27-7 0 1 27z"/>
<path class="b39" d="M94 811l0-10-7 1 0 9z"/>
<path class="b45" d="M95 789l7 1 2-7-7-1zM126 794l8 6 3-3-8-6z"/>
<path class="b44" d="M104 783l1-3-7-1-1 3z"/>
<path class="b19" d="M299 873l9 3 2-4-9-2zM335 885l7 5 3-8-8-4zM342 890l8 6 2-10-7-4zM308 876l8 5 3-5-9-4z"/>
<path class="b1" d="M373 889l7-6 2-6-6 4z"/>
<path class="b2" d="M95 866l7 0-1-27-7-1z"/>
<path class="b4" d="M101 839l0-27-7-1 0 27z"/>
<path class="b39" d="M101 812l-1-10-6-1 0 10z"/>
<path class="b0" d="M277 870l10 3 3-3-10-2zM251 869l12 2 3-2-13-2zM287 873l9 3 3-3-9-3z"/>
<path class="b25" d="M208 853l20 16 3-2-20-16zM190 841l2 2 3-1-3-3z"/>
<path class="b43" d="M87 802l7-1 1-12-6 2z"/>
<path class="b45" d="M102 790l7 4 3-10-3-1-5 0zM134 800l8 7 3-3-8-7z"/>
<path class="b44" d="M109 783l-4-3-1 3z"/>
<path class="b2" d="M102 866l6 1 0-27-7-1z"/>
<path class="b4" d="M108 840l-1-28-6 0 0 27z"/>
<path class="b39" d="M107 812l0-7-7-3 1 10z"/>
<path class="b46" d="M181 834l9 7 2-2-8-6z"/>
<path class="b47" d="M149 812l1 2 2-2z"/>
<path class="b45" d="M142 807l7 5 3 0 1-1-8-7zM109 794l7 4 3-9-7-5z"/>
<path class="b51" d="M353 898l4 3 1-3z"/>
<path class="b19" d="M350 896l3 2 5 0 1-9-7-3zM316 881l8 5 3-6-8-4z"/>
<path class="b43" d="M94 801l6 1 2-12-7-1z"/>
<path class="b47" d="M150 814l9 7 3-3-8-7-2 1zM138 813l1 2 1-2z"/>
<path class="b45" d="M154 811l-1 0-1 1zM116 798l7 5 3-9-7-5zM123 803l8 6 3-9-8-6zM131 809l7 4 2 0 2-6-8-7z"/>
<path class="b2" d="M108 867l7 0 0-27-7 0z"/>
<path class="b4" d="M115 840l0-27-8-1 1 28z"/>
<path class="b39" d="M115 813l-1-4-7-4 0 7z"/>
<path class="b51" d="M357 901l7 2 1-5-7 0zM339 899l1 1 0-1z"/>
<path class="b19" d="M365 898l1-7-7-2-1 9zM324 886l8 7 3-8-8-5zM332 893l7 6 1 0 2-9-7-5zM296 876l9 4 3-4-9-3z"/>
<path class="b25" d="M192 843l13 11 3-1-13-11z"/>
<path class="b13" d="M380 883l4-5 3-5-5 4z"/>
<path class="b43" d="M100 802l7 3 2-11-7-4z"/>
<path class="b0" d="M228 869l20 2 3-2-20-2zM263 871l11 2 3-3-11-1z"/>
<path class="b46" d="M159 821l9 7 3-2-9-8zM168 828l10 9 3-3-10-8z"/>
<path class="b2" d="M115 867l8 1-1-27-7-1z"/>
<path class="b4" d="M122 841l0-27-1-1-6 0 0 27z"/>
<path class="b39" d="M121 813l-7-4 1 4z"/>
<path class="b24" d="M384 878l3-6 2-3-2 4z"/>
<path class="b3" d="M364 903l7-3-6-2z"/>
<path class="b0" d="M371 900l2-11-7 2-1 7zM274 873l11 2 2-2-10-3zM248 871l13 2 2-2-12-2z"/>
<path class="b43" d="M107 805l7 4 2-11-7-4z"/>
<path class="b25" d="M205 854l20 17 3-2-20-16zM186 842l4 4 2-3-2-2z"/>
<path class="b51" d="M340 900l8 8 1-10-9 1z"/>
<path class="b19" d="M349 898l1-2-8-6-2 9zM305 880l9 6 2-5-8-5z"/>
<path class="b46" d="M121 813l1 1 0-1zM178 837l8 5 4-1-9-7z"/>
<path class="b43" d="M114 809l7 4 1 0 1-10-7-5z"/>
<path class="b2" d="M123 868l7 1 0-28-8 0z"/>
<path class="b4" d="M130 841l0-23-8-4 0 27z"/>
<path class="b47" d="M139 815l9 6 2-7-1-2-9 1z"/>
<path class="b45" d="M149 812l-7-5-2 6z"/>
<path class="b51" d="M348 908l7 6 2-13-4-3-4 0zM355 914l7 3 2-14-7-2z"/>
<path class="b19" d="M353 898l-3-2-1 2zM314 886l8 7 2-7-8-5zM285 875l9 4 2-3-9-3zM322 893l8 8 2-8-8-7z"/>
<path class="b7" d="M372 900l6-9 2-8-7 6-2 11z"/>
<path class="b46" d="M122 814l8 4 0-5-8 0z"/>
<path class="b43" d="M130 813l1-4-8-6-1 10z"/>
<path class="b2" d="M130 869l8 0 0-27-8-1z"/>
<path class="b4" d="M138 842l0-19-8-5 0 23z"/>
<path class="b47" d="M148 821l8 6 3-6-9-7zM156 827l10 7 2-6-9-7z"/>
<path class="b46" d="M130 818l8 5 1-8-1-2-8 0z"/>
<path class="b43" d="M138 813l-7-4-1 4z"/>
<path class="b25" d="M190 846l12 10 3-2-13-11z"/>
<path class="b23" d="M378 891l4-8 2-5-4 5z"/>
<path class="b2" d="M138 869l8 1 0-28-8 0z"/>
<path class="b4" d="M146 842l0-13-8-6 0 19z"/>
<path class="b0" d="M225 871l20 2 3-2-20-2zM261 873l11 2 2-2-11-2z"/>
<path class="b3" d="M362 917l7-4 2-13-7 3z"/>
<path class="b51" d="M330 901l8 10 2-11-1-1z"/>
<path class="b19" d="M339 899l-7-6-2 8zM294 879l9 6 2-5-9-4zM303 885l9 7 2-6-9-6zM312 892l8 8 2-7-8-7z"/>
<path class="b47" d="M138 823l8 6 2-8-9-6zM166 834l10 8 2-5-10-9z"/>
<path class="b51" d="M338 911l8 10 2-13-8-8zM346 921l7 8 2-15-7-6z"/>
<path class="b0" d="M272 875l10 3 3-3-11-2zM245 873l13 1 3-1-13-2zM282 878l10 4 2-3-9-4z"/>
<path class="b25" d="M202 856l21 17 2-2-20-17z"/>
<path class="b24" d="M382 883l3-9 2-2-3 6z"/>
<path class="b2" d="M146 870l9 1 0-28-9-1z"/>
<path class="b4" d="M155 843l0-9-9-5 0 13z"/>
<path class="b47" d="M146 829l9 5 1-7-8-6z"/>
<path class="b48" d="M179 844l8 6 3-4-4-4z"/>
<path class="b47" d="M176 842l3 2 7-2-8-5zM155 834l9 6 2-6-10-7z"/>
<path class="b15" d="M369 913l6-11-3-2-1 0z"/>
<path class="b13" d="M375 902l1-2 2-9-6 9z"/>
<path class="b52" d="M355 930l5 3 0-3zM342 931l1 3 1-3z"/>
<path class="b51" d="M353 929l2 1 5 0 2-13-7-3zM322 902l6 8 2-9z"/>
<path class="b2" d="M155 871l9 1 0-28-9-1z"/>
<path class="b4" d="M164 844l0-4-9-6 0 9z"/>
<path class="b48" d="M187 850l13 9 2-3-12-10zM170 844l4 3 1-3z"/>
<path class="b19" d="M320 900l2 2 8-1-8-8zM292 882l9 7 2-4-9-6zM301 889l8 7 3-4-9-7z"/>
<path class="b47" d="M164 840l6 4 5 0 1-2-10-8z"/>
<path class="b9" d="M360 933l2-2-2-1z"/>
<path class="b6" d="M362 931l5-4 2-14-7 4-2 13z"/>
<path class="b51" d="M328 910l8 12 2-11-8-10zM336 922l6 9 2 0 2-10-8-10z"/>
<path class="b0" d="M223 873l20 2 2-2-20-2zM258 874l12 3 2-2-11-2z"/>
<path class="b2" d="M164 872l10 0 0-25-4-3-6 0z"/>
<path class="b4" d="M170 844l-6-4 0 4z"/>
<path class="b24" d="M376 900l4-11 2-6-4 8zM380 889l3-13 2-2-3 9z"/>
<path class="b52" d="M343 934l8 10 2-14-9 1z"/>
<path class="b51" d="M353 930l0-1-7-8-2 10z"/>
<path class="b48" d="M174 847l11 7 2-4-8-6-4 0z"/>
<path class="b47" d="M179 844l-3-2-1 2z"/>
<path class="b0" d="M270 877l10 3 2-2-10-3zM243 875l13 1 2-2-13-1z"/>
<path class="b25" d="M200 859l20 16 3-2-21-17z"/>
<path class="b52" d="M351 944l7 5 2-16-5-3-2 0z"/>
<path class="b51" d="M355 930l-2-1 0 1zM316 904l2 2 1-3z"/>
<path class="b2" d="M174 872l11 1 0-19-11-7z"/>
<path class="b15" d="M367 927l7-17 1-7 0-1-6 11z"/>
<path class="b13" d="M375 903l1-3-1 2z"/>
<path class="b48" d="M185 854l13 9 2-4-13-9z"/>
<path class="b19" d="M309 896l7 8 3-1 1-3-8-8z"/>
<path class="b9" d="M358 949l7-7 1-10-4-1-2 2z"/>
<path class="b6" d="M366 932l1-5-5 4z"/>
<path class="b3" d="M318 906l8 12 2-8-6-8-3 1zM326 918l8 14 2-10-8-12z"/>
<path class="b0" d="M322 902l-2-2-1 3zM280 880l9 5 3-3-10-4zM220 875l20 1 3-1-20-2z"/>
<path class="b25" d="M185 873l13 2 0-12-13-9z"/>
<path class="b5" d="M334 933l7 13 2-12-1-3z"/>
<path class="b3" d="M334 932l0 1 8-2-6-9zM312 906l4 4 2-4-2-2z"/>
<path class="b52" d="M341 946l8 12 2-14-8-10z"/>
<path class="b22" d="M374 910l1-5 0-2z"/>
<path class="b24" d="M375 905l3-10 2-6-4 11-1 3z"/>
<path class="b0" d="M256 876l11 2 3-1-12-3zM289 885l9 6 3-2-9-7z"/>
<path class="b25" d="M198 863l21 13 1-1-20-16z"/>
<path class="b53" d="M355 962l1 1 0-1z"/>
<path class="b52" d="M349 958l6 4 1 0 2-13-7-5z"/>
<path class="b0" d="M298 891l9 9 2-4-8-7z"/>
<path class="b25" d="M198 875l21 1-21-13z"/>
<path class="b18" d="M365 942l3-8-2-2z"/>
<path class="b20" d="M368 934l4-14 2-10-7 17-1 5z"/>
<path class="b11" d="M356 963l1 0-1-1z"/>
<path class="b12" d="M357 963l6-8 2-13-7 7-2 13z"/>
<path class="b23" d="M378 895l3-17 2-2-3 13z"/>
<path class="b0" d="M198 875l20 1 1 0zM267 878l10 3 3-1-10-3zM307 900l5 6 4-2-7-8zM240 876l13 2 3-2-13-1z"/>
<path class="b25" d="M198 875l20 1 1 0z"/>
<path class="b3" d="M316 910l8 13 2-5-8-12z"/>
<path class="b0" d="M219 876l20 1 1-1-20-1zM277 881l10 5 2-1-9-5zM253 878l12 2 2-2-11-2z"/>
<path class="b9" d="M330 935l2 2 1-3z"/>
<path class="b6" d="M324 923l6 12 3-1 1-2-8-14z"/>
<path class="b9" d="M332 937l7 15 2-6-7-13-1 1z"/>
<path class="b6" d="M334 933l0-1-1 2z"/>
<path class="b8" d="M346 964l1 1 0-1z"/>
<path class="b5" d="M339 952l7 12 1 0 2-6-8-12z"/>
<path class="b8" d="M347 965l7 5 2-7-1-1-8 2z"/>
<path class="b5" d="M355 962l-6-4-2 6z"/>
<path class="b22" d="M372 920l3-13 0-2-1 5z"/>
<path class="b24" d="M375 907l1-6 2-6-3 10z"/>
<path class="b21" d="M363 955l5-19 0-2-3 8z"/>
<path class="b22" d="M368 936l2-7 2-9-4 14zM370 929l4-20 1-2-3 13z"/>
<path class="b0" d="M218 876l20 2 1-1-20-1z"/>
<path class="b25" d="M218 876l20 2-19-2z"/>
<path class="b1" d="M287 886l9 6 2-1-9-6zM296 892l9 7 2 1-9-9zM265 880l10 2 2-1-10-3z"/>
<path class="b16" d="M354 970l4-5-1-2-1 0zM347 964l0 1-1-1z"/>
<path class="b14" d="M358 965l3-3 2-7-6 8zM331 936l1 1-2-2z"/>
<path class="b0" d="M239 877l13 2 1-1-13-2z"/>
<path class="b23" d="M376 901l3-21 2-2-3 17z"/>
<path class="b10" d="M313 908l0 1 3 1-4-4z"/>
<path class="b7" d="M305 899l8 9-1-2-5-6z"/>
<path class="b10" d="M313 909l9 11 2 3-8-13z"/>
<path class="b15" d="M322 920l7 13 2 3-1-1-6-12z"/>
<path class="b14" d="M332 938l5 9 2 5-7-15-1-1zM337 947l8 11 2 6-1 0-7-12z"/>
<path class="b15" d="M329 933l3 5-1-2z"/>
<path class="b24" d="M374 909l0-2 2-6-1 6z"/>
<path class="b1" d="M238 878l13 1 1 0-13-2zM275 882l10 3 2 1-10-5z"/>
<path class="b1" d="M252 879l11 1 2 0-12-2zM263 880l10 2 2 0-10-2zM251 879l11 1 1 0-11-1z"/>
<path class="b17" d="M353 966l1 4-7-5 0-1z"/>
<path class="b18" d="M345 958l7 5 1 3-6-2z"/>
<path class="b21" d="M361 962l6-23 1-3-5 19z"/>
<path class="b22" d="M367 939l1-5 2-5-2 7z"/>
<path class="b7" d="M285 885l9 4 2 3-9-6zM273 882l10 2 2 1-10-3z"/>
<path class="b17" d="M358 965l-4 5-1-4z"/>
<path class="b18" d="M352 963l7-7 2 6-3 3-5 1zM359 956l4-15 4-2-6 23zM336 939l1 8-5-9z"/>
<path class="b23" d="M374 907l3-25 2-2-3 21z"/>
<path class="b13" d="M294 889l9 5 2 5-9-7z"/>
<path class="b20" d="M368 934l4-22 2-3-4 20z"/>
<path class="b23" d="M303 894l8 7 2 7-8-9zM372 912l0-2 2-3 0 2z"/>
<path class="b7" d="M262 880l11 1 0 1-10-2z"/>
<path class="b20" d="M320 911l2 9-9-11 0-1z"/>
<path class="b23" d="M311 901l8 7 1 3-7-3z"/>
<path class="b20" d="M322 911l5 6 2 16-7-13-2-9zM363 941l3-10 2 3-1 5zM327 917l8 9 1 13-4-1-3-5z"/>
<path class="b23" d="M319 908l3 3-2 0zM283 884l9 2 2 3-9-4zM273 881l9 1 1 2-10-2zM372 910l3-26 2-2-3 25z"/>
<path class="b18" d="M343 940l2 18-8-11-1-8z"/>
<path class="b20" d="M335 926l8 8 0 6-7-1zM366 931l4-17 2-2-4 22z"/>
<path class="b14" d="M350 941l2 22-7-5-2-18z"/>
<path class="b15" d="M343 934l7 3 0 4-7-1z"/>
<path class="b24" d="M292 886l9 4 2 4-9-5z"/>
<path class="b23" d="M282 882l9 1 1 3-9-2zM301 890l9 3 1 8-8-7zM370 914l0-4 2 0 0 2zM310 893l8 5 1 10-8-7z"/>
<path class="b14" d="M358 942l1 14-7 7-2-22z"/>
<path class="b15" d="M350 937l7-5 1 10-8-1zM327 912l0 5-5-6z"/>
<path class="b12" d="M363 941l-4 15-1-14z"/>
<path class="b10" d="M357 932l9-1-3 10-5 1z"/>
<path class="b23" d="M291 883l9 1 1 6-9-4zM370 910l3-24 2-2-3 26z"/>
<path class="b13" d="M318 898l8 5 1 9-5-1-3-3z"/>
<path class="b15" d="M334 913l1 13-8-9 0-5z"/>
<path class="b13" d="M326 903l7 5 1 5-7-1zM300 884l9 0 1 9-9-3z"/>
<path class="b15" d="M341 914l2 20-8-8-1-13zM357 932l7-15 2 14zM364 917l0-2 6-1-4 17z"/>
<path class="b13" d="M333 908l8 4 0 2-7-1zM309 884l8 1 1 13-8-5zM364 915l4-12 2 7 0 4zM368 903l5-17-3 24z"/>
<path class="b10" d="M348 915l2 22-7-3-2-20z"/>
<path class="b7" d="M341 912l7 2 0 1-7-1zM317 885l8 1 1 17-8-5z"/>
<path class="b10" d="M356 916l1 16-7 5-2-22z"/>
<path class="b7" d="M348 914l8-2 0 4-8-1zM325 886l7 0 1 22-7-5z"/>
<path class="b7" d="M332 886l8 1 1 25-8-4z"/>
<path class="b10" d="M364 915l0 2-7 15-1-16z"/>
<path class="b7" d="M356 912l7-8 1 11-8 1zM340 887l7 1 1 26-7-2z"/>
<path class="b23" d="M368 903l3-15 2-2z"/>
<path class="b13" d="M363 904l4-7 1 6-4 12z"/>
<path class="b7" d="M347 888l8 0 1 24-8 2z"/>
<path class="b7" d="M355 888l8 16-7 8z"/>
<path class="b23" d="M367 897l3-8 1-1-3 15z"/>
<path class="b7" d="M355 888l7 1 1 15z"/>
<path class="b13" d="M362 889l4 0 1 8-4 7z"/>
<path class="b7" d="M366 889l4 0-3 8z"/>
<path class="b26" d="M366 889l2-28 1 0 1 28z"/>
<path class="b29" d="M368 861l1-14 0 14z"/></g>
<rect x="235.0" y="391.4" width="3.5" height="3.5" fill="#9e480e" stroke="#9e480e" stroke-opacity="0.6" stroke-width="0.4"/>
<text x="239.9" y="395.4" class="lg" textLength="8.0" lengthAdjust="spacingAndGlyphs">3-4</text>
<rect x="235.0" y="403.2" width="3.5" height="3.5" fill="#264478" stroke="#264478" stroke-opacity="0.6" stroke-width="0.4"/>
<text x="239.9" y="407.2" class="lg" textLength="8.0" lengthAdjust="spacingAndGlyphs">2-3</text>
<rect x="235.0" y="415.0" width="3.5" height="3.5" fill="#70ad47" stroke="#70ad47" stroke-opacity="0.6" stroke-width="0.4"/>
<text x="239.9" y="418.9" class="lg" textLength="8.0" lengthAdjust="spacingAndGlyphs">1-2</text>
<rect x="235.0" y="426.7" width="3.5" height="3.5" fill="#5b9bd5" stroke="#5b9bd5" stroke-opacity="0.6" stroke-width="0.4"/>
<text x="239.9" y="430.7" class="lg" textLength="8.0" lengthAdjust="spacingAndGlyphs">0-1</text>
<rect x="235.0" y="438.5" width="3.5" height="3.5" fill="#ffc000" stroke="#ffc000" stroke-opacity="0.6" stroke-width="0.4"/>
<text x="239.9" y="442.4" class="lg" textLength="11.1" lengthAdjust="spacingAndGlyphs">-1-0</text>
<rect x="235.0" y="450.2" width="3.5" height="3.5" fill="#a5a5a5" stroke="#a5a5a5" stroke-opacity="0.6" stroke-width="0.4"/>
<text x="239.9" y="454.2" class="lg" textLength="14.0" lengthAdjust="spacingAndGlyphs">-2--1</text>
<rect x="235.0" y="462.0" width="3.5" height="3.5" fill="#ed7d31" stroke="#ed7d31" stroke-opacity="0.6" stroke-width="0.4"/>
<text x="239.9" y="466.0" class="lg" textLength="14.0" lengthAdjust="spacingAndGlyphs">-3--2</text>
<rect x="235.0" y="473.8" width="3.5" height="3.5" fill="#4472c4" stroke="#4472c4" stroke-opacity="0.6" stroke-width="0.4"/>
<text x="239.9" y="477.7" class="lg" textLength="14.0" lengthAdjust="spacingAndGlyphs">-4--3</text>
<text x="30.2" y="380.2" class="ax" text-anchor="end">4</text>
<text x="30.8" y="393.8" class="ax" text-anchor="end">3</text>
<text x="31.3" y="407.4" class="ax" text-anchor="end">2</text>
<text x="31.9" y="420.9" class="ax" text-anchor="end">1</text>
<text x="32.4" y="434.2" class="ax" text-anchor="end">0</text>
<text x="32.9" y="447.5" class="ax" text-anchor="end">-1</text>
<text x="33.5" y="460.7" class="ax" text-anchor="end">-2</text>
<text x="34.0" y="473.9" class="ax" text-anchor="end">-3</text>
<text x="34.5" y="486.9" class="ax" text-anchor="end">-4</text>
<text class="mpa" transform="translate(22.2,429.5) rotate(-90)" text-anchor="middle">[MPa]</text>
<rect x="290.6" y="327.8" width="252.8" height="191.8" fill="#fff" stroke="#8c8c8c" stroke-width="1.3"/>
<g stroke="#d9d9d9" stroke-width="0.6" fill="none">
<path d="M332.4 491.6L387.3 452.0L503.2 461.3"/>
<path d="M331.9 478.0L387.0 440.6L503.2 449.2"/>
<path d="M331.3 464.2L386.7 429.0L503.2 437.1"/>
<path d="M330.7 450.3L386.4 417.4L503.3 424.9"/>
<path d="M330.1 436.3L386.1 405.7L503.3 412.6"/>
<path d="M329.5 422.2L385.7 393.9L503.3 400.3"/>
<path d="M328.9 408.1L385.4 382.1L503.4 387.8"/>
<path d="M328.3 393.8L385.1 370.2L503.4 375.3"/>
<path d="M327.7 379.4L384.7 358.2L503.4 362.7"/>
</g>
<style>.c0{fill:#ffc000;stroke:#ffc000}.c1{fill:#a5a5a5;stroke:#a5a5a5}.c2{fill:#ed7d31;stroke:#ed7d31}.c3{fill:#eab000;stroke:#eab000}.c4{fill:#4472c4;stroke:#4472c4}.c5{fill:#979797;stroke:#979797}.c6{fill:#d9732d;stroke:#d9732d}.c7{fill:#3e69b4;stroke:#3e69b4}.c8{fill:#d5a000;stroke:#d5a000}.c9{fill:#395fa3;stroke:#395fa3}.c10{fill:#c66829;stroke:#c66829}.c11{fill:#8a8a8a;stroke:#8a8a8a}.c12{fill:#335693;stroke:#335693}.c13{fill:#b25e25;stroke:#b25e25}.c14{fill:#2d4c83;stroke:#2d4c83}.c15{fill:#9e5321;stroke:#9e5321}.c16{fill:#ffd000;stroke:#ffd000}.c17{fill:#7c7c7c;stroke:#7c7c7c}.c18{fill:#6e6e6e;stroke:#6e6e6e}.c19{fill:#bf9000;stroke:#bf9000}.c20{fill:#5b9bd5;stroke:#5b9bd5}.c21{fill:#538ec3;stroke:#538ec3}.c22{fill:#aa8000;stroke:#aa8000}.c23{fill:#4474a0;stroke:#4474a0}.c24{fill:#3d678e;stroke:#3d678e}.c25{fill:#4c81b2;stroke:#4c81b2}.c26{fill:#5d903b;stroke:#5d903b}.c27{fill:#548235;stroke:#548235}.c28{fill:#203964;stroke:#203964}.c29{fill:#1d335a;stroke:#1d335a}.c30{fill:#233e6e;stroke:#233e6e}.c31{fill:#77360b;stroke:#77360b}.c32{fill:#679f41;stroke:#679f41}.c33{fill:#843c0c;stroke:#843c0c}.c34{fill:#91420d;stroke:#91420d}.c35{fill:#264478;stroke:#264478}.c36{fill:#9e480e;stroke:#9e480e}.c37{fill:#70ad47;stroke:#70ad47}.c38{fill:#294a82;stroke:#294a82}.c39{fill:#ab4e0f;stroke:#ab4e0f}.c40{fill:#79bb4d;stroke:#79bb4d}.c41{fill:#63a8e7;stroke:#63a8e7}.c42{fill:#4b732f;stroke:#4b732f}.c43{fill:#192d50;stroke:#192d50}.c44{fill:#b3b3b3;stroke:#b3b3b3}.c45{fill:#ff8735;stroke:#ff8735}.c46{fill:#4a7bd4;stroke:#4a7bd4}</style><g transform="scale(0.5)" stroke-width="0.7" stroke-linejoin="round"><path class="c0" d="M770 813l7-1-5-1zM775 827l7-15-5 0z"/>
<path class="c0" d="M770 813l5 14 2-15z"/>
<path class="c1" d="M780 837l1 1 0-1z"/>
<path class="c0" d="M775 827l5 10 1 0 1-25z"/>
<path class="c0" d="M781 837l6-25-5 0z"/>
<path class="c1" d="M781 838l5 8 0-9-5 0z"/>
<path class="c0" d="M786 837l1-25-6 25z"/>
<path class="c2" d="M781 862l4 9 0-10z"/>
<path class="c1" d="M779 857l2 5 4-1 1-15-5-8zM786 846l5 3 1-12-6 0z"/>
<path class="c0" d="M792 837l0-24-5-1-1 25z"/>
<path class="c2" d="M785 871l5 5 1-15-6 0z"/>
<path class="c1" d="M791 861l0-12-5-3-1 15zM774 839l7-1-1-1-6 0z"/>
<path class="c0" d="M780 837l-5-10-1 10z"/>
<path class="c1" d="M774 839l5 18 2-19zM791 849l5-2 1-10-5 0z"/>
<path class="c0" d="M797 837l1-24-6 0 0 24z"/>
<path class="c3" d="M768 814l7 13-5-14z"/>
<path class="c2" d="M790 876l5-3 1-11-5-1z"/>
<path class="c1" d="M796 862l0-15-5 2 0 12z"/>
<path class="c4" d="M783 889l5 7 1-10-6 0z"/>
<path class="c2" d="M789 886l1-10-5-5-2 15z"/>
<path class="c4" d="M782 886l1 3 0-3zM788 896l5-4 1-5-5-1zM781 897l5 7 2-8-5-7z"/>
<path class="c2" d="M777 872l5 14 1 0 2-15-4-9-2 0zM794 887l1-14-5 3-1 10z"/>
<path class="c1" d="M781 862l-2-5 0 5zM796 847l5-3 1-6-5-1z"/>
<path class="c5" d="M773 838l1 1 0-2z"/>
<path class="c3" d="M768 814l5 24 1-1 1-10z"/>
<path class="c0" d="M802 838l1-25-5 0-1 24z"/>
<path class="c6" d="M775 863l2 9 2-10zM795 873l5-5 0-5-4-1z"/>
<path class="c5" d="M772 848l3 15 4-1 0-5-5-18zM800 863l1-19-5 3 0 15z"/>
<path class="c1" d="M801 844l5-4 1-2-5 0z"/>
<path class="c0" d="M807 838l1-24-5-1-1 25z"/>
<path class="c7" d="M778 888l3 9 2-8-1-3zM793 892l3-4-2-1zM786 904l5-4 2-8-5 4z"/>
<path class="c6" d="M776 878l2 10 4-2-5-14zM796 888l2-4 2-16-5 5-1 14zM800 868l3-5-3 0zM772 864l4 14 1-6-2-9z"/>
<path class="c8" d="M766 815l7 23-5-24z"/>
<path class="c5" d="M803 863l2-3 1-20-5 4-1 19zM770 839l2 9 2-9-1-1zM770 852l2 12 3-1-3-15z"/>
<path class="c3" d="M766 815l4 24 3-1z"/>
<path class="c1" d="M806 840l2-2-1 0z"/>
<path class="c0" d="M808 838l3-3 2-21-5 0-1 24z"/>
<path class="c6" d="M798 884l5-10 1-10-1-1-3 5z"/>
<path class="c5" d="M804 864l1-4-2 3zM805 860l5-10 1-11-3-1-2 2z"/>
<path class="c9" d="M791 900l5-8 1-3-1-1-3 4zM779 894l5 7 2 3-5-7zM777 889l2 5 2 3-3-9z"/>
<path class="c10" d="M797 889l1-5-2 4zM773 876l4 13 1-1-2-10zM803 874l4-9-3-1zM771 865l2 11 3 2-4-14z"/>
<path class="c3" d="M811 839l0-4-3 3z"/>
<path class="c0" d="M811 835l6-4 1-17-5 0zM817 831l5-3 1-14-5 0zM822 828l5-4 2-9-6-1z"/>
<path class="c11" d="M768 840l2 12 2-4-2-9z"/>
<path class="c8" d="M764 816l4 24 2-1-4-24z"/>
<path class="c12" d="M784 901l5-4 2 3-5 4zM796 892l2-3-1 0z"/>
<path class="c5" d="M810 850l5-6 0-4-4-1z"/>
<path class="c3" d="M815 840l2-9-6 4 0 4z"/>
<path class="c11" d="M807 865l1-3 2-12-5 10-1 4zM767 851l4 14 1-1-2-12z"/>
<path class="c13" d="M798 889l3-8 2-7-5 10-1 5zM801 881l5-13 1-2 0-1-4 9z"/>
<path class="c14" d="M789 897l4-6 2-1 1 2-5 8zM780 891l2 3 2 7-5-7-1-4z"/>
<path class="c15" d="M793 891l1-2 1 1zM777 888l3 3-2-1z"/>
<path class="c5" d="M815 844l2-4-2 0z"/>
<path class="c3" d="M817 840l3-3 2-9-5 3-2 9z"/>
<path class="c16" d="M827 824l5-1 2-8-5 0z"/>
<path class="c11" d="M808 862l5-9 2-9-5 6zM766 841l1 10 3 1-2-12zM813 853l5-8 1-4-2-1-2 4z"/>
<path class="c17" d="M807 866l1-4-1 3z"/>
<path class="c0" d="M832 823l5-2 2-6-5 0zM837 821l5-2 2-3-5-1z"/>
<path class="c8" d="M761 817l5 24 2-1-4-24z"/>
<path class="c3" d="M820 837l5-6 2-7-5 4z"/>
<path class="c12" d="M778 890l1 4-2-5z"/>
<path class="c13" d="M771 872l6 16 1 2-1-1-4-13zM770 867l1 5 2 4-2-11z"/>
<path class="c14" d="M798 889l-2 3-1-2zM782 894l3-2 2-1 2 6-5 4z"/>
<path class="c15" d="M794 889l5-10 2 2-3 8-3 1zM785 892l2-2 0 1z"/>
<path class="c8" d="M819 841l1-4-3 3z"/>
<path class="c17" d="M765 849l5 18 1-2-4-14zM807 866l4-8 2-5-5 9z"/>
<path class="c0" d="M825 831l5-3 2-5-5 1z"/>
<path class="c16" d="M842 819l6 0 1-3-5 0z"/>
<path class="c14" d="M793 891l-4 6-2-6zM781 892l1 2-2-3z"/>
<path class="c15" d="M787 890l5-6 2 5-1 2-6 0zM799 879l4-11 2-1 1 1-5 13zM774 879l5 5 2 8-1-1-3-3zM792 884l5-10 2 5-5 10zM770 868l4 11 3 9-6-16z"/>
<path class="c18" d="M803 868l1-2 1 1z"/>
<path class="c11" d="M818 845l2-3-1-1zM764 843l1 6 2 2-1-10z"/>
<path class="c8" d="M820 842l3-5 2-6-5 6-1 4zM759 818l5 25 2-2-5-24z"/>
<path class="c3" d="M830 828l5-4 2-3-5 2zM835 824l5-3 2-2-5 2zM823 837l5-5 2-4-5 3zM828 832l5-4 2-4-5 4z"/>
<path class="c0" d="M848 819l5-1 2-2-6 0zM853 818l5 0 2-1-5-1zM858 818l5 1 2-2-5 0zM840 821l6 0 2-2-6 0zM863 819l5-1 2-1-5 0z"/>
<path class="c17" d="M811 858l5-10 2-3-5 8z"/>
<path class="c15" d="M807 866l-1 2-1-1z"/>
<path class="c18" d="M804 866l5-9 2 1-4 8-2 1z"/>
<path class="c12" d="M785 892l-3 2-1-2z"/>
<path class="c13" d="M779 884l6-3 2 9-2 2-4 0zM770 868l1 4-1-5zM785 881l5-6 2 9-5 6z"/>
<path class="c17" d="M763 846l6 19 1 3 0-1-5-18zM816 848l3-5 1-1-2 3z"/>
<path class="c19" d="M819 843l2-3 2-3-3 5z"/>
<path class="c20" d="M868 818l1 0 1-1z"/>
<path class="c3" d="M846 821l5-1 2-2-5 1zM833 828l6-4 1-3-5 3zM851 820l5-1 1-1 1 0-5 0z"/>
<path class="c15" d="M797 874l2-5 4-1-4 11zM772 870l2 9-4-11z"/>
<path class="c18" d="M799 869l3-6 2 3-1 2zM809 857l5-9 2 0-5 10zM802 863l5-8 2 2-5 9zM766 856l6 12 0 2-2-2-1-3z"/>
<path class="c11" d="M762 844l1 2 2 3-1-6z"/>
<path class="c8" d="M757 820l5 24 2-1-5-25zM821 840l5-5 2-3-5 5zM826 835l5-5 2-2-5 4z"/>
<path class="c0" d="M870 818l4 1 2-1-6-1zM874 819l5 2 2-3-5 0z"/>
<path class="c20" d="M869 818l1 0 0-1z"/>
<path class="c0" d="M857 819l5 1 1-1-5-1-1 0zM839 824l5 0 2-3-6 0z"/>
<path class="c20" d="M856 819l1 0 0-1z"/>
<path class="c13" d="M790 875l3-5 2 0 2 4-5 10z"/>
<path class="c17" d="M793 870l2-3 0 3zM762 845l4 11 3 9-6-19-1-2z"/>
<path class="c15" d="M775 870l2 2 2 12-5-5-2-9z"/>
<path class="c18" d="M772 868l3 2-3 0zM814 848l2-3 3-2-3 5z"/>
<path class="c3" d="M879 821l4-2 2-1-4 0zM862 820l3 0 3-2-5 1zM844 824l5-2 2-2-5 1z"/>
<path class="c21" d="M883 819l2 0 1-1-1 0zM865 820l2-1 2-1-1 0z"/>
<path class="c22" d="M816 845l3-6 2 1-2 3z"/>
<path class="c19" d="M760 841l2 4 0-1zM819 839l5-4 2 0-5 5z"/>
<path class="c13" d="M777 872l3-1 2 0 3 10-6 3zM799 869l-2 5-2-4z"/>
<path class="c17" d="M780 871l2-2 0 2zM795 867l5-9 2 5-3 6-4 1z"/>
<path class="c23" d="M885 819l5-5 2 4-6 0z"/>
<path class="c0" d="M873 819l1 0-4-1zM849 822l5-1 2-2-5 1z"/>
<path class="c20" d="M867 819l5 1 1-1-3-1-1 0z"/>
<path class="c8" d="M831 830l6-4 2-2-6 4z"/>
<path class="c8" d="M755 821l5 20 2 3-5-24z"/>
<path class="c18" d="M807 855l5-8 2 1-5 9zM812 847l1-1 3-1-2 3zM800 858l5-7 2 4-5 8zM764 851l5 8 3 9-6-12z"/>
<path class="c0" d="M873 820l5 2 1-1-5-2-1 0zM854 821l6 1 2-2-5-1-1 0zM860 822l4-1 1-1-3 0z"/>
<path class="c20" d="M872 820l1 0 0-1zM864 821l1 0 2-2-2 1zM865 821l5 0 2-1-5-1z"/>
<path class="c13" d="M789 870l1 5-5 6-3-10z"/>
<path class="c17" d="M782 869l5-4 2 5-7 1z"/>
<path class="c24" d="M890 814l5-4 2 9-5-1z"/>
<path class="c3" d="M837 826l5-1 2-1-5 0zM878 822l3-1 2-2-4 2zM842 825l5-2 2-1-5 2zM847 823l6-1 1-1-5 1z"/>
<path class="c19" d="M824 835l6-5 1 0-5 5z"/>
<path class="c21" d="M881 821l2-1 2-1-2 0z"/>
<path class="c22" d="M813 846l4-7 2 0-3 6z"/>
<path class="c23" d="M895 810l6-6 1 15-5 0zM883 820l5-5 2-1-5 5zM901 804l5-4 2 19-6 0zM888 815l6-6 1 1-5 4z"/>
<path class="c13" d="M793 870l-3 5-1-5z"/>
<path class="c17" d="M787 865l5-6 3 8-2 3-4 0zM762 847l2 4 2 5-4-11zM792 859l5-8 3 7-5 9z"/>
<path class="c19" d="M758 839l4 8 0-2-2-4zM817 839l5-4 2 0-5 4z"/>
<path class="c15" d="M777 871l0 1-2-2z"/>
<path class="c18" d="M769 859l6 4 2 8-2-1-3-2zM805 851l3-4 4-1 0 1-5 8z"/>
<path class="c8" d="M830 830l5-4 2 0-6 4zM752 822l6 17 2 2-5-20z"/>
<path class="c25" d="M906 800l5-3 2 23-5-1z"/>
<path class="c22" d="M808 847l2-3 2 2z"/>
<path class="c15" d="M780 871l-3 1 0-1z"/>
<path class="c18" d="M775 863l5-2 2 8-2 2-3 0zM813 846l-1 1 0-1zM797 851l4-3 2 0 2 3-5 7z"/>
<path class="c0" d="M871 821l5 2 2-1-5-2zM853 822l5 1 2-1-6-1z"/>
<path class="c20" d="M870 821l1 0 2-1-1 0z"/>
<path class="c3" d="M835 826l5 0 2-1-5 1zM876 823l3-1 2-1-3 1zM858 823l5-1 1-1-4 1zM840 826l5-2 2-1-5 2zM845 824l6-1 2-1-6 1z"/>
<path class="c21" d="M879 822l2-1 2-1-2 1zM863 822l2-1-1 0z"/>
<path class="c19" d="M822 835l6-4 2-1-6 5z"/>
<path class="c17" d="M780 861l5-3 2 7-5 4zM763 848l1 3-2-4z"/>
<path class="c22" d="M810 844l5-6 2 1-4 7-1 0zM801 848l2-2 0 2z"/>
<path class="c25" d="M917 797l2 23-6 0-2-23zM881 821l5-5 2-1-5 5z"/>
<path class="c26" d="M911 796l6-5 0 6-6 0z"/>
<path class="c24" d="M894 809l5-7 2 2-6 6z"/>
<path class="c20" d="M863 822l6 0 1-1-5 0z"/>
<path class="c8" d="M828 831l5-3 2-2-5 4z"/>
<path class="c18" d="M785 858l5-5 2 6-5 6z"/>
<path class="c19" d="M756 836l5 9 2 3-1-1-4-8zM815 838l5-3 2 0-5 4zM820 835l6-4 2 0-6 4z"/>
<path class="c18" d="M764 849l3 3 2 7-5-8-1-3zM767 852l5 2 3 9-6-4zM808 847l-3 4-2-3zM772 854l5-1 3 8-5 2zM790 853l3-4 3 0 1 2-5 8zM777 853l6-2 2 7-5 3z"/>
<path class="c22" d="M761 845l3 4-1-1zM803 846l5-6 2 4-2 3-5 1zM793 849l2-2 1 2zM808 840l5-5 2 3-5 6z"/>
<path class="c25" d="M923 797l1 23-5 0-2-23z"/>
<path class="c26" d="M917 791l5-2 1 8-6 0z"/>
<path class="c8" d="M750 823l6 13 2 3-6-17z"/>
<path class="c25" d="M928 797l1 24-5-1-1-23z"/>
<path class="c0" d="M869 822l5 3 2-2-5-2zM851 823l5 1 2-1-5-1z"/>
<path class="c20" d="M869 822l2-1-1 0z"/>
<path class="c3" d="M833 828l5-1 2-1-5 0zM874 825l4-2 1-1-3 1zM856 824l4-1 3-1-5 1zM838 827l5-2 2-1-5 2zM843 825l6-1 2-1-6 1z"/>
<path class="c23" d="M899 802l5-4 2 2-5 4zM886 816l6-5 2-2-6 6zM904 798l1 0 6-1-5 3zM892 811l5-6 2-3-5 7z"/>
<path class="c26" d="M922 789l6-4 0 12-5 0z"/>
<path class="c21" d="M878 823l1-1 2-1-2 1zM860 823l1 0 2-1z"/>
<path class="c27" d="M905 798l5-4 1 2 0 1zM910 794l5-6 2 3-6 5zM915 788l5-3 2 4-5 2z"/>
<path class="c25" d="M934 797l1 24-6 0-1-24z"/>
<path class="c26" d="M928 785l5-5 1 17-6 0z"/>
<path class="c23" d="M879 822l6-5 1-1-5 5zM885 817l5-6 2 0-6 5z"/>
<path class="c20" d="M861 823l6 0 2-1-6 0z"/>
<path class="c8" d="M826 831l5-3 2 0-5 3zM748 825l5 8 3 3-6-13z"/>
<path class="c18" d="M801 848l-4 3-1-2zM783 851l1-1 5 0 1 3-5 5zM766 849l1 3-3-3z"/>
<path class="c22" d="M795 847l5-4 3 3-2 2-5 1zM784 850l4-3 1 3z"/>
<path class="c25" d="M939 798l1 23-5 0-1-24zM897 805l6-4 1-3-5 4z"/>
<path class="c26" d="M933 780l5-2 1 20-5-1z"/>
<path class="c0" d="M867 824l5 2 2-1-5-3zM849 824l5 2 2-2-5-1z"/>
<path class="c20" d="M867 823l0 1 2-2z"/>
<path class="c19" d="M753 833l6 6 2 6-5-9zM813 835l5-2 2 2-5 3zM818 833l6-3 2 1-6 4z"/>
<path class="c22" d="M759 839l5 5 2 5-2 0-3-4zM800 843l6-4 2 1-5 6z"/>
<path class="c3" d="M831 828l5 0 2-1-5 1zM872 826l4-2 2-1-4 2zM854 826l5-1 1-2-4 1zM836 828l6-2 1-1-5 2zM842 826l5-1 2-1-6 1zM746 826l5 7 2 0-5-8z"/>
<path class="c18" d="M771 850l1 4-5-2-1-3zM793 849l-3 4-1-3z"/>
<path class="c22" d="M764 844l6 3 1 3-5-1zM788 847l5-5 2 5-2 2-4 1z"/>
<path class="c25" d="M945 798l1 24-6-1-1-23zM903 801l2-2 0-1-1 0z"/>
<path class="c26" d="M938 778l6-4 1 24-6 0zM905 799l3-2 2-3-5 4z"/>
<path class="c21" d="M876 824l2-1 1-1-1 1zM859 825l1-1 1-1-1 0z"/>
<path class="c18" d="M776 850l1 3-5 1-1-4z"/>
<path class="c22" d="M770 847l5-2 1 5-5 0z"/>
<path class="c25" d="M950 798l1 24-5 0-1-24zM878 823l5-5 2-1-6 5z"/>
<path class="c26" d="M944 774l6 0 0 24-5 0z"/>
<path class="c28" d="M944 774l5-5 1 5z"/>
<path class="c19" d="M806 839l5-4 2 0-5 5z"/>
<path class="c23" d="M890 811l5-7 2 1-5 6zM895 804l5-4 1 0 2 1-6 4zM883 818l5-6 2-1-5 6z"/>
<path class="c20" d="M860 824l5 1 2-2-6 0z"/>
<path class="c8" d="M824 830l5-2 2 0-5 3zM811 835l5-2 2 0-5 2zM751 833l5 4 3 2-6-6zM816 833l5-2 3-1-6 3z"/>
<path class="c27" d="M920 785l6-4 2 4-6 4zM900 800l1-1 0 1zM926 781l5-6 2 5-5 5z"/>
<path class="c18" d="M782 850l1 1-6 2-1-3z"/>
<path class="c22" d="M775 845l5-1 2 6-6 0zM793 842l5-2 2 3-5 4z"/>
<path class="c25" d="M956 798l1 24-6 0-1-24z"/>
<path class="c26" d="M955 774l1 24-6 0 0-24zM908 797l5-6 2-3-5 6z"/>
<path class="c28" d="M949 769l6-1 0 6-5 0z"/>
<path class="c0" d="M865 825l5 2 2-1-5-2zM847 825l5 2 2-1-5-2z"/>
<path class="c20" d="M865 825l2-1 0-1z"/>
<path class="c3" d="M829 828l5 0 2 0-5 0zM870 827l4-2 2-1-4 2zM852 827l5-1 2-1-5 1zM834 828l6-1 2-1-6 2zM840 827l4-1 2 0 1-1-5 1zM821 831l6-2 2-1-5 2zM743 827l6 5 2 1-5-7zM827 829l5 0 2-1-5 0z"/>
<path class="c19" d="M756 837l6 4 2 3-5-5zM762 841l5 2 3 4-6-3z"/>
<path class="c18" d="M784 850l-1 1-1-1z"/>
<path class="c22" d="M780 844l5-2 3 5-4 3-2 0zM798 840l5-3 3 2-6 4zM785 842l6-4 2 4-5 5zM767 843l6-1 2 3-5 2zM791 838l5-1 2 3-5 2zM773 842l5-1 2 3-5 1z"/>
<path class="c21" d="M874 825l2 0 2-2-2 1zM857 826l1 0 2-2-1 1zM844 826l1 0 1 0z"/>
<path class="c25" d="M961 799l1 24-5-1-1-24z"/>
<path class="c26" d="M961 774l0 25-5-1-1-24zM913 791l6-3 1-3-5 3z"/>
<path class="c28" d="M955 768l6-3 0 9-6 0z"/>
<path class="c23" d="M905 799l-2 2-2-1zM888 812l6-6 1-2-5 7z"/>
<path class="c27" d="M901 799l5-4 2 2-3 2-4 1zM931 775l2-1 4 0 1 4-5 2zM906 795l6-6 1 2-5 6z"/>
<path class="c25" d="M967 799l1 24-6 0-1-24zM876 825l5-5 2-2-5 5z"/>
<path class="c26" d="M966 775l1 24-6 0 0-25zM919 788l5-4 2-3-6 4z"/>
<path class="c28" d="M961 765l5-5 0 15-5-1z"/>
<path class="c29" d="M933 774l4-1 0 1z"/>
<path class="c20" d="M858 826l5 0 2-1-5-1z"/>
<path class="c19" d="M803 837l6-3 2 1-5 4z"/>
<path class="c0" d="M863 826l6 3 1-2-5-2zM846 827l4 1 2-1-5-2-1 1z"/>
<path class="c20" d="M845 826l1 1 0-1z"/>
<path class="c25" d="M973 799l0 24-5 0-1-24zM894 806l5-5 1-1-5 4zM881 820l6-6 1-2-5 6z"/>
<path class="c26" d="M972 775l1 24-6 0-1-24z"/>
<path class="c28" d="M966 760l6 2 0 13-6 0z"/>
<path class="c27" d="M944 774l-6 4-1-4zM912 789l5-4 2 3-6 3z"/>
<path class="c29" d="M937 773l5-4 2 5-7 0z"/>
<path class="c8" d="M809 834l5-1 2 0-5 2zM749 832l5 2 2 3-5-4zM814 833l5-2 2 0-5 2z"/>
<path class="c3" d="M869 829l4-2 1-2-4 2zM850 828l4-1 3-1-5 1zM832 829l6-1 2-1-6 1zM819 831l6-1 2-1-6 2zM741 828l5 3 3 1-6-5zM825 830l5 0 2-1-5 0z"/>
<path class="c21" d="M873 827l1-1 2-1-2 0zM854 827l2 0 2-1-1 0z"/>
<path class="c25" d="M978 799l1 25-6-1 0-24zM899 801l1 0 0-1z"/>
<path class="c26" d="M978 775l0 24-5 0-1-24zM924 784l6-5 1-4-5 6zM900 801l5-4 1-2-5 4-1 1z"/>
<path class="c28" d="M972 762l5-4 1 17-6 0z"/>
<path class="c19" d="M754 834l5 3 3 4-6-4zM778 841l5-2 2 3-5 2zM796 837l5-2 2 2-5 3zM759 837l6 2 2 4-5-2zM783 839l5-2 3 1-6 4zM801 835l6-3 2 2-6 3z"/>
<path class="c27" d="M917 785l6-4 1 3-5 4z"/>
<path class="c29" d="M942 769l6-6 1 6-5 5zM948 763l5-1 2 6-6 1zM953 762l6-5 2 8-6 3z"/>
<path class="c25" d="M984 800l0 24-5 0-1-25zM887 814l5-6 2-2-6 6zM874 826l5-5 2-1-5 5z"/>
<path class="c26" d="M983 775l1 25-6-1 0-24zM930 779l5-2 1-2-3-1-2 1z"/>
<path class="c28" d="M977 758l6-2 0 19-5 0zM936 775l1-2-4 1z"/>
<path class="c20" d="M856 827l5 0 2-1-5 0z"/>
<path class="c0" d="M838 828l5 0 1-1 0-1-4 1zM862 828l5 2 2-1-6-3z"/>
<path class="c20" d="M844 827l1-1-1 0zM861 827l1 1 1-2z"/>
<path class="c25" d="M989 800l1 24-6 0 0-24zM998 801l3 24-6 0 0-25zM892 808l5-4 2-3-5 5zM1004 801l3 24-6 0-1-24z"/>
<path class="c26" d="M989 776l0 24-5 0-1-25zM996 776l2 25-3-1-1-24zM905 797l5-6 2-2-6 6zM1001 776l3 25-4 0 0-25zM935 777l2-1-1-1z"/>
<path class="c28" d="M983 756l6 7 0 13-6-1zM994 760l2 16-2 0zM1000 768l1 8-1 0zM937 776l4-3 1-4-5 4-1 2z"/>
<path class="c22" d="M765 839l5-1 3 4-6 1z"/>
<path class="c0" d="M843 828l5 1 2-1-4-1-2 0zM848 829l5-1 1-1-4 1z"/>
<path class="c20" d="M846 827l-1-1-1 1zM853 828l1 0 2-1-2 0z"/>
<path class="c25" d="M995 800l0 25-5-1-1-24zM897 804l3-2 0-1-1 0zM1003 802l2 25 2-2-3-24z"/>
<path class="c26" d="M994 776l1 24-6 0 0-24zM910 791l6-3 1-3-5 4zM900 802l3-2 2-3-5 4zM1001 777l2 25 1-1-3-25z"/>
<path class="c28" d="M989 763l5-3 0 16-5 0zM1000 768l1 9 0-1zM941 773l5-6 2-4-6 6z"/>
<path class="c23" d="M879 821l6-6 2-1-6 6zM885 815l5-6 2-1-5 6z"/>
<path class="c8" d="M788 837l6-1 2 1-5 1zM807 832l5 0 2 1-5 1zM746 831l6 2 2 1-5-2zM752 833l5 2 2 2-5-3zM812 832l5-1 2 0-5 2zM794 836l5-1 2 0-5 2zM799 835l5-2 3-1-6 3z"/>
<path class="c19" d="M770 838l5 0 3 3-5 1zM775 838l6-1 2 2-5 2zM757 835l5 0 3 4-6-2zM781 837l5-2 2 2-5 2zM762 835l6 0 2 3-5 1zM768 835l5 0 2 3-5 0z"/>
<path class="c3" d="M867 830l4-2 2-1-4 2zM830 830l6-1 2-1-6 1zM836 829l5 0 1 0 1-1-5 0zM817 831l6-1 2 0-6 1zM823 830l5 1 2-1-5 0zM804 833l6 0 2-1-5 0z"/>
<path class="c21" d="M871 828l1-1 2-1-1 1z"/>
<path class="c27" d="M923 781l4-5 2 0 1 3-6 5z"/>
<path class="c29" d="M927 776l1-1 1 1zM959 757l6-5 1 8-5 5z"/>
<path class="c25" d="M872 827l6-4 1-2-5 5zM1000 801l1 24-3-24zM890 809l6-4 1-1-5 4zM878 823l5-5 2-3-6 6zM896 805l2-2 2-1-3 2zM883 818l6-7 1-2-5 6z"/>
<path class="c0" d="M856 829l3 0 1-1z"/>
<path class="c20" d="M854 828l2 1 4-1 1-1-5 0z"/>
<path class="c27" d="M935 776l0 1-5 2-1-3z"/>
<path class="c29" d="M928 775l6-3 1 4-6 0zM965 752l5 2 2 8-6-2z"/>
<path class="c26" d="M916 788l5-5 2-2-6 4zM1000 776l0 25-2 0-2-25zM903 800l5-6 2-3-5 6zM921 783l5-6 1-1-4 5zM898 803l3-2 2-1-3 2z"/>
<path class="c28" d="M994 760l6 8 0 8-4 0z"/>
<path class="c0" d="M859 829l6 2 2-1-5-2-2 0zM739 830l5 2 2-1-5-3zM841 829l6 1 1-1-5-1-1 1zM847 830l4 0 2-2-5 1z"/>
<path class="c20" d="M862 828l-1-1-1 1zM851 830l1 0 2-2-1 0z"/>
<path class="c30" d="M946 767l6-1 1-4-5 1z"/>
<path class="c27" d="M937 776l-2 1 0-1z"/>
<path class="c29" d="M934 772l5-4 2 5-4 3-2 0zM970 754l3-3 3 0 1 7-5 4zM939 768l6-6 1 5-5 6z"/>
<path class="c3" d="M865 831l4-2 2-1-4 2zM744 832l5 1 3 0-6-2zM828 831l6-1 2-1-6 1zM810 833l5-1 2-1-5 1zM749 833l6 2 2 0-5-2zM755 835l5 1 2-1-5 0zM815 832l6 0 2-2-6 1zM736 831l6 1 2 0-5-2zM760 836l5-1 3 0-6 0z"/>
<path class="c21" d="M869 829l1 0 2-2-1 1z"/>
<path class="c8" d="M786 835l6 0 2 1-6 1zM792 835l5-1 2 1-5 1zM773 835l6 0 2 2-6 1zM797 834l5-1 2 0-5 2zM779 835l5-1 2 1-5 2zM784 834l5 0 3 1-6 0zM789 834l6 0 2 0-5 1z"/>
<path class="c28" d="M952 766l6-4 1-5-6 5zM926 777l1 0 1-2-1 1z"/>
<path class="c31" d="M973 751l3-2 0 2z"/>
<path class="c32" d="M908 794l6-3 2-3-6 3zM914 791l5-4 2-4-5 5z"/>
<path class="c25" d="M1002 803l2 25 1-1-2-25zM870 829l6-5 2-1-6 4zM889 811l5-3 2-3-6 4zM876 824l5-4 2-2-5 5zM881 820l6-6 2-3-6 7z"/>
<path class="c26" d="M1000 778l2 25 1-1-3-25zM901 801l6-6 1-1-5 6z"/>
<path class="c28" d="M999 761l1 17 0-1zM958 762l5-5 2-5-6 5z"/>
<path class="c0" d="M854 830l4 0 1-1-3 0zM834 830l7-1-5 0z"/>
<path class="c20" d="M852 830l2 0 2-1-2-1zM834 830l5 0 2-1z"/>
<path class="c27" d="M1000 777l3 25-2-25z"/>
<path class="c29" d="M999 761l1 16 1 0-1-9zM982 751l1 5-6 2-1-7zM945 762l5-2 2 6-6 1zM950 760l6-4 2 6-6 4z"/>
<path class="c30" d="M927 777l5-2 2-3-6 3zM963 757l6 2 1-5-5-2z"/>
<path class="c31" d="M976 749l5-2 1 4-6 0z"/>
<path class="c0" d="M858 830l5 2 2-1-6-2zM841 830l4 1 2-1-6-1zM821 832l5 0 2-1-5-1zM845 831l3 0 3-1-4 0zM826 832l6 0 2-2-6 1z"/>
<path class="c28" d="M985 752l2 4 2 7-6-7-1-5zM932 775l6-4 1-3-5 4zM987 756l5-4 1 0 1 8-5 3z"/>
<path class="c33" d="M981 747l4 5-3-1z"/>
<path class="c20" d="M839 830l2 0 0-1zM848 831l2 0 2-1-1 0z"/>
<path class="c3" d="M863 832l4-1 2-2-4 2zM802 833l6 0 2 0-6 0zM742 832l5 1 2 0-5-1zM765 835l6 1 2-1-5 0zM808 833l5 0 2-1-5 1zM747 833l5 1 3 1-6-2zM771 836l5 0 3-1-6 0zM813 833l6-1 2 0-6 0zM795 834l5-1 2 0-5 1zM776 836l6-1 2-1-5 1z"/>
<path class="c21" d="M867 831l2-1 1-1-1 0zM894 808l4-3 0-2-2 2zM887 814l5-3 2-3-5 3z"/>
<path class="c26" d="M919 787l6-6 1-3 0-1-5 6zM907 795l5-3 2-1-6 3z"/>
<path class="c28" d="M926 778l1-1-1 0zM969 759l5-4 1-3-2-1-3 3zM938 771l5-6 2-3-6 6z"/>
<path class="c29" d="M993 752l6 9 1 7-6-8zM956 756l3-3 3 0 1 4-5 5z"/>
<path class="c31" d="M959 753l3-3 0 3z"/>
<path class="c32" d="M898 805l2-1 1-3-3 2zM925 781l6-2-5-1z"/>
<path class="c33" d="M975 752l1-3-3 2z"/>
<path class="c25" d="M869 830l5-4 2-2-6 5zM1001 804l2 25 1-1-2-25zM874 826l5-5 2-1-5 4zM879 821l6-5 2-2-6 6z"/>
<path class="c0" d="M853 831l3 1 2-2-4 0zM832 832l5 0 0-1-3-1z"/>
<path class="c20" d="M850 831l3 0 1-1-2 0zM837 831l2-1-5 0z"/>
<path class="c26" d="M998 779l3 25 1-1-2-25zM912 792l6-4 1-1-5 4zM900 804l5-6 2-3-6 6zM918 788l5-6 2-1-6 6z"/>
<path class="c28" d="M997 766l1 13 2-1-1-17z"/>
<path class="c30" d="M931 779l1-4-5 2-1 1zM974 755l6-2-5-1zM943 765l6-1 1-4-5 2z"/>
<path class="c8" d="M752 834l6 0 2 2-5-1zM758 834l5 0 2 1-5 1z"/>
<path class="c34" d="M980 753l1-6-5 2-1 3z"/>
<path class="c0" d="M856 832l5 2 2-2-5-2zM837 832l6 1 2-2-4-1-4 1zM734 832l5 1 3-1-6-1zM819 832l5 1 2-1-5 0z"/>
<path class="c20" d="M841 830l-2 0-2 1z"/>
<path class="c30" d="M980 753l6 8 1-5-2-4z"/>
<path class="c34" d="M980 753l5-1-4-5z"/>
<path class="c32" d="M905 798l6-2 1-4-5 3z"/>
<path class="c30" d="M931 779l5-4 2-4-6 4zM986 761l5-4 2-5-1 0-5 4z"/>
<path class="c29" d="M968 753l1 6-6-2-1-4z"/>
<path class="c31" d="M962 750l5 2 1 1-6 0z"/>
<path class="c3" d="M861 834l4-2 2-1-4 1zM800 833l6 1 2-1-6 0zM782 835l5 0 2-1-5 0zM739 833l3 0 3 0 2 0-5-1zM824 833l6 0 2-1-6 0zM763 834l6 1 2 1-6-1zM806 834l5-1 2 0-5 0z"/>
<path class="c21" d="M865 832l2 0 2-2-2 1zM742 833l2 0 1 0zM892 811l6-4 1-2-1 0-4 3z"/>
<path class="c0" d="M843 833l5-1 1 0-1-1-3 0z"/>
<path class="c20" d="M849 832l1-1-2 0z"/>
<path class="c32" d="M899 805l1-1-2 1zM923 782l5-2 2-1 1 0-6 2zM911 796l5-4 2-4-6 4z"/>
<path class="c28" d="M949 764l6-5 1-3-6 4z"/>
<path class="c29" d="M974 753l0 2-5 4-1-6z"/>
<path class="c31" d="M967 752l6-5 1 6-6 0z"/>
<path class="c30" d="M991 757l6 9 2-5-6-9zM936 775l6-5 1-5-5 6zM928 780l1 0 1-1z"/>
<path class="c25" d="M867 832l5-4 2-2-5 4zM999 805l2 25 2-1-2-25zM885 816l6-4 1-1-5 3zM872 828l6-4 1-3-5 5zM878 824l5-5 2-3-6 5z"/>
<path class="c3" d="M746 833l4 1 2 0-5-1-2 0zM787 835l6 0 2-1-6 0zM769 835l5 0 2 1-5 0zM811 833l3 0 3 0 2-1-6 1zM750 834l5 0 3 0-6 0zM793 835l5 0 2-2-5 1zM774 835l5 0 3 0-6 1zM755 834l6 0 2 0-5 0z"/>
<path class="c21" d="M744 833l2 0-1 0zM898 807l1-1 0-1z"/>
<path class="c0" d="M848 832l6 1 2-1-3-1-4 1zM830 833l1 0 6-1-5 0z"/>
<path class="c20" d="M853 831l-3 0-1 1zM831 833l4 0 2-1z"/>
<path class="c26" d="M997 780l2 25 2-1-3-25z"/>
<path class="c28" d="M996 760l1 20 1-1-1-13zM955 759l5-5-1-1-3 3zM929 780l6-5 1 0-5 4-1 0z"/>
<path class="c32" d="M899 806l4-4 2-4-5 6-1 1zM916 792l6-6 1-4-5 6zM903 802l6-3 2-3-6 2zM909 799l6-3 1-4-5 4z"/>
<path class="c0" d="M854 833l5 2 2-1-5-2zM836 833l5 1 2-1-6-1zM731 834l6 1 2-2-5-1zM819 833l3 1 2-1-5-1-2 1zM798 835l6 0 2-1-6-1zM841 834l5 0 2-2-5 1zM737 835l5 0 2-2-2 0-3 0zM822 834l4 0 3-1 1 0-6 0zM804 835l5 0 2-2-5 1z"/>
<path class="c33" d="M960 754l2-4-3 3z"/>
<path class="c29" d="M980 753l-6 2 0-2z"/>
<path class="c31" d="M973 747l6-2 1 8-6 0z"/>
<path class="c35" d="M942 770l5-1 2-5-6 1zM960 754l6 1 1-1z"/>
<path class="c20" d="M835 833l1 0 1-1zM826 834l2 0 1-1z"/>
<path class="c28" d="M984 754l2 7-6-8z"/>
<path class="c33" d="M979 745l5 9-4-1z"/>
<path class="c3" d="M859 835l5-2 1-1-4 2zM779 835l6 0 2 0-5 0zM761 834l5 1 3 0-6-1zM785 835l5 0 3 0-6 0zM766 835l6 0 2 0-5 0zM790 835l6 0 2 0-5 0zM729 835l5 0 3 0-6-1zM772 835l3 0 3 0 1 0-5 0z"/>
<path class="c21" d="M864 833l1 0 2-1-2 0zM891 812l5-3 2-2-6 4zM883 819l6-4 2-3-6 4zM729 835l5 0-3-1zM775 835l2 0 1 0z"/>
<path class="c36" d="M960 754l7 0 0-2-5-2z"/>
<path class="c30" d="M947 769l6-5 2-5-6 5zM953 764l6-5 1-5-5 5z"/>
<path class="c28" d="M991 754l0 3-5 4-2-7zM935 775l5-5 2 0-6 5z"/>
<path class="c33" d="M984 754l6-4 1 4z"/>
<path class="c28" d="M993 754l3 6 1 6-6-9 0-3z"/>
<path class="c33" d="M990 750l3 4-2 0z"/>
<path class="c25" d="M865 833l5-3 2-2-5 4zM998 806l2 26 1-2-2-25zM896 809l2-2 1-1-1 1zM870 830l6-4 2-2-6 4zM876 826l5-5 2-2-5 5z"/>
<path class="c34" d="M967 754l5-3 1-4-6 5zM972 751l5-3 2-3-6 2z"/>
<path class="c0" d="M742 835l6 1 2-2-4-1-2 0zM846 834l6 1 2-2-6-1zM831 833l-1 0-1 0zM809 835l5 0 2-1-2-1-3 0zM852 835l5 1 2-1-5-2z"/>
<path class="c20" d="M828 834l5 0 2-1-4 0-2 0zM816 834l1-1-3 0z"/>
<path class="c37" d="M922 786l5-2 2-4-1 0-5 2z"/>
<path class="c35" d="M959 759l5 2 2-6-6-1zM981 755l2 2 1-3zM964 761l6-4 1-2-4-1-1 1z"/>
<path class="c26" d="M996 781l2 25 1-1-2-25zM898 807l4-3 1-2-4 4z"/>
<path class="c28" d="M995 763l1 18 1-1-1-20z"/>
<path class="c0" d="M748 836l5 1 2-3-5 0zM835 834l4 1 2-1-5-1zM814 835l6 1 2-2-3-1-3 1zM753 837l5 0 3-3-6 0zM839 835l5 0 2-1-5 0z"/>
<path class="c30" d="M940 770l6-1 1 0-5 1z"/>
<path class="c32" d="M927 784l5-3-3-1zM915 796l5-5 2-5-6 6zM902 804l5-3 2-2-6 3zM907 801l6-3 2-2-6 3z"/>
<path class="c30" d="M932 781l1-1 2-5-6 5z"/>
<path class="c20" d="M833 834l2 0 1-1-1 0zM819 833l-2 0-1 1z"/>
<path class="c36" d="M977 748l4 7 3-1-5-9zM971 755l1-4-5 3z"/>
<path class="c3" d="M857 836l5-1 2-2-5 2zM796 835l5 1 3-1-6 0zM740 835l2 0-5 0-3 0zM780 835l3 1 2-1-6 0-1 0zM801 836l6 0 2-1-5 0z"/>
<path class="c21" d="M862 835l1-1 2-1-1 0zM889 815l5-3 2-3-5 3zM777 835l3 0-2 0zM863 834l5-3 2-1-5 3z"/>
<path class="c28" d="M946 769l6-5 1 0-6 5z"/>
<path class="c0" d="M820 836l6 0 1-2-1 0-4 0zM758 837l6 0 2-2-5-1zM844 835l6 1 2-1-6-1z"/>
<path class="c20" d="M827 834l1 0-2 0z"/>
<path class="c30" d="M983 757l3-2-2-1zM933 780l6-5 1-5-5 5z"/>
<path class="c34" d="M986 755l3-2 1-3-6 4z"/>
<path class="c37" d="M920 791l6-2 1-5-5 2z"/>
<path class="c3" d="M745 836l3 0-6-1-2 0zM783 836l3 0 2 0 2-1-5 0zM807 836l1 0 5 0 1-1-5 0z"/>
<path class="c21" d="M894 812l5-3-1-2-2 2zM808 836l4 0 1 0zM881 821l6-3 2-3-6 4z"/>
<path class="c30" d="M990 755l5 8 1-3-3-6z"/>
<path class="c34" d="M989 753l1 2 3-1-3-4z"/>
<path class="c25" d="M997 808l2 25 1-1-2-26zM868 831l6-3 2-2-6 4zM874 828l6-5 1-2-5 5z"/>
<path class="c26" d="M994 782l3 26 1-2-2-25z"/>
<path class="c28" d="M993 768l1 14 2-1-1-18zM952 764l5-5 2 0-6 5z"/>
<path class="c0" d="M826 836l5 0 1-1-5-1zM764 837l5 0 3-2-6 0zM850 836l5 1 2-1-5-1z"/>
<path class="c20" d="M832 835l1-1-5 0-1 0z"/>
<path class="c32" d="M899 809l1-1 2-4-4 3zM926 789l5-4 2-3-1-1-5 3zM913 798l5-5 2-2-5 5zM900 808l6-3 1-4-5 3z"/>
<path class="c35" d="M939 775l5-1 2-5-6 1zM970 757l3-2-2 0zM957 759l6 2 1 0-5-2z"/>
<path class="c36" d="M973 755l3-1 1-6-5 3-1 4z"/>
<path class="c30" d="M933 782l0-2-1 1zM944 774l6-4 2-6-6 5z"/>
<path class="c3" d="M751 836l2 1-5-1-3 0zM796 835l-6 0-2 1zM855 837l5-1 2-1-5 1z"/>
<path class="c21" d="M788 836l6 0 2-1zM860 836l1 0 2-2-1 1z"/>
<path class="c0" d="M831 836l6 1 2-2-4-1-3 1zM726 836l6 1 2-1-5-1zM769 837l6 0 2-2-2 0-3 0zM814 836l4 1 2-1-6-1-1 1zM798 837l1 0 2-1-5-1z"/>
<path class="c20" d="M835 834l-2 0-1 1zM726 836l8 0 0-1-5 0zM812 836l2 0-1 0zM794 836l4 1-2-2z"/>
<path class="c38" d="M977 756l5 7 1-6-2-2z"/>
<path class="c39" d="M976 754l1 2 4-1-4-7z"/>
<path class="c3" d="M757 836l1 1-5 0-2-1z"/>
<path class="c21" d="M751 836l5 0 1 0zM887 818l6-3 1-3-5 3z"/>
<path class="c0" d="M837 837l5 0 2-2-5 0zM732 837l3 0-1-1zM775 837l5 1 3-2-3-1-3 0zM818 837l5 0 1 0 2-1-6 0zM799 837l2 0 5-1 1 0-6 0zM842 837l6 1 2-2-6-1z"/>
<path class="c35" d="M982 763l5-4 1-3-2-1-3 2z"/>
<path class="c36" d="M988 756l1-3-3 2z"/>
<path class="c20" d="M735 837l2 0 3-2-6 0 0 1zM801 837l4 0 1-1zM737 837l6 0 2-1-5-1z"/>
<path class="c32" d="M931 785l3-2-1-1zM918 793l6-2 2-2-6 2zM906 805l5-3 2-4-6 3z"/>
<path class="c30" d="M934 783l3-3 2-5-6 5 0 2zM963 761l6-5 1 1-6 4zM950 770l6-4 1-7-5 5z"/>
<path class="c3" d="M762 837l2 0-6 0-1-1z"/>
<path class="c21" d="M756 836l6 1-5-1zM861 836l6-3 1-2-5 3zM893 815l5-4 1-2-5 3z"/>
<path class="c35" d="M987 759l6 9 2-5-5-8-2 1zM937 780l6-1 1-5-5 1z"/>
<path class="c36" d="M990 755l-1-2-1 3z"/>
<path class="c25" d="M995 809l3 25 1-1-2-25z"/>
<path class="c26" d="M993 783l2 26 2-1-3-26z"/>
<path class="c28" d="M992 768l1 15 1-1-1-14z"/>
<path class="c0" d="M780 838l6 0 2-2-2 0-3 0zM829 837l2-1-5 0-2 1zM808 836l-1 0-1 0zM848 838l5 1 2-2-5-1z"/>
<path class="c20" d="M823 837l6 0-5 0zM805 837l5 0 2-1-4 0-2 0zM743 837l5 1 3-2-6 0z"/>
<path class="c32" d="M924 791l6-4 1-2-5 4zM911 802l6-4 1-5-5 5zM930 787l4-3 0-1-3 2z"/>
<path class="c3" d="M767 837l2 0-5 0-2 0z"/>
<path class="c21" d="M880 823l5-3 2-2-6 3zM867 833l5-3 2-2-6 3z"/>
<path class="c30" d="M973 755l-3 2-1-1zM934 784l1-2 2-2-3 3z"/>
<path class="c34" d="M969 756l5-2 2 0-3 1z"/>
<path class="c0" d="M786 838l5 0 2-1-5-1zM829 837l6 1 2-1-6-1zM724 838l5 2 3-3-6-1zM814 838l2 0 2-1-4-1z"/>
<path class="c20" d="M793 837l1-1-6 0zM898 811l2-1-1-1zM810 837l4 1 0-2-2 0zM748 838l6 0 2-2-5 0z"/>
<path class="c38" d="M956 766l5 1 2-6-6-2z"/>
<path class="c35" d="M976 757l4 6 2 0-5-7zM943 779l5-3 2-6-6 4zM961 767l6-4 2-7-6 5zM948 776l6-5 2-5-6 4zM935 782l6 0 2-3-6 1z"/>
<path class="c36" d="M974 754l2 3 1-1-1-2z"/>
<path class="c37" d="M900 810l4-1 2-4-6 3-1 1zM917 798l5-2 2-5-6 2zM922 796l6-3 2-6-6 4z"/>
<path class="c3" d="M773 838l2-1-6 0-2 0zM853 839l5-2 2-1-5 1z"/>
<path class="c21" d="M858 837l1 0 2-1-1 0zM885 820l6-2 2-3-6 3zM872 830l6-4 2-3-6 5z"/>
<path class="c0" d="M791 838l6 1 2-2-1 0-5 0zM729 840l6 1 2-4-2 0-3 0zM835 838l5 0 2-1-5 0zM816 838l5 0 2-1-5 0z"/>
<path class="c20" d="M798 837l-4-1-1 1zM754 838l5 0 3-1-6-1z"/>
<path class="c30" d="M980 763l6-4 1 0-5 4zM986 759l6 9 1 0-6-9zM941 782l6-4 1-2-5 3z"/>
<path class="c3" d="M778 838l2 0-5-1-2 1z"/>
<path class="c21" d="M859 837l6-2 2-2-6 3zM891 818l5-4 2-3-5 4z"/>
<path class="c32" d="M904 809l5-3 2-4-5 3zM909 806l6-4 2-4-6 4z"/>
<path class="c0" d="M797 839l6 0 1-2-3 0-2 0zM840 838l6 1 2-1-6-1zM735 841l5 0 3-3-6-1zM823 838l4 1 2-2z"/>
<path class="c20" d="M804 837l1 0-4 0zM743 838l0-1-6 0zM821 838l2 0 6-1-6 0zM759 838l6 1 2-2-5 0z"/>
<path class="c25" d="M994 810l2 26 2-2-3-25z"/>
<path class="c26" d="M991 784l3 26 1-1-2-26z"/>
<path class="c28" d="M990 774l1 10 2-1-1-15z"/>
<path class="c3" d="M784 838l2 0-6 0-2 0z"/>
<path class="c21" d="M778 838l6 1 0-1zM878 826l5-2 2-4-5 3zM865 835l5-3 2-2-5 3z"/>
<path class="c35" d="M967 763l6-2 1-4-5-1z"/>
<path class="c36" d="M974 757l0-3-5 2z"/>
<path class="c0" d="M803 839l5 0 1-1-5-1zM846 839l6 1 1-1-5-1zM740 841l6 1 2-4-5 0zM827 839l6 1 2-2-6-1z"/>
<path class="c20" d="M809 838l1-1-5 0-1 0zM748 838l-5-1 0 1zM765 839l5 0 3-1-6-1z"/>
<path class="c38" d="M954 771l6 2 1-6-5-1zM973 761l6 8 1-6-4-6-2 0z"/>
<path class="c3" d="M790 839l1-1-5 0-2 0zM721 839l6 0 2 1-5-2zM852 840l4-1 2-2-5 2z"/>
<path class="c21" d="M784 839l5 0 1 0-6-1zM896 814l6-2-2-2-2 1zM721 839l6 0-3-1zM883 824l6-3 2-3-6 2zM856 839l1 0 2-2-1 0zM870 832l6-3 2-3-6 4zM857 839l6-2 2-2-6 2zM889 821l6-3 1-4-5 4zM876 829l6-2 1-3-5 2zM863 837l5-2 2-3-5 3zM882 827l5-3 2-3-6 3z"/>
<path class="c39" d="M976 757l-2-3 0 3z"/>
<path class="c32" d="M902 812l2-3-4 1zM928 793l6-4 1-5-1 0-4 3zM902 812l6-3 1-3-5 3z"/>
<path class="c0" d="M808 839l6 1 2-2-2 0-5 0zM746 842l5 0 2-4-5 0zM793 839l2 0 2 0-6-1-1 1zM833 840l5 0 2-2-5 0zM773 839l3 1 1-1z"/>
<path class="c20" d="M814 838l-4-1-1 1zM753 838l1 0-6 0zM789 839l4 0-3 0zM770 839l3 0 4 0 1-1-5 0z"/>
<path class="c30" d="M935 784l0-2-1 2zM947 778l6-4 1-3-6 5z"/>
<path class="c35" d="M979 769l6-4 1-6-6 4zM960 773l6-4 1-6-6 4zM985 765l5 9 2-6-6-9z"/>
<path class="c37" d="M915 802l6-1 1-5-5 2zM934 789l6-1 0-3-5-1zM921 801l6-3 1-5-6 3z"/>
<path class="c8" d="M733 839l2 2-6-1-2-1z"/>
<path class="c25" d="M727 839l5 0 1 0zM992 811l3 26 1-1-2-26z"/>
<path class="c0" d="M814 840l5 0 2-2-5 0zM751 842l6 0 2-3-6-1zM795 839l5 1 3-1-6 0zM838 840l6 1 2-2-6-1zM776 840l5 0 2-1-6 0z"/>
<path class="c20" d="M759 839l0-1-5 0-1 0zM783 839l1 0-6-1-1 1z"/>
<path class="c35" d="M940 785l1-3-6 0 0 2zM966 769l6-2 1-6-6 2zM953 774l5 1 2-2-6-2z"/>
<path class="c26" d="M990 785l2 26 2-1-3-26z"/>
<path class="c28" d="M989 779l1 6 1-1-1-10z"/>
<path class="c8" d="M739 840l1 1-5 0-2-2z"/>
<path class="c25" d="M732 839l6 0 1 1-6-1z"/>
<path class="c0" d="M819 840l6 1 2-2-4-1-2 0zM757 842l5 1 3-4-6 0zM800 840l6 0 2-1-5 0zM844 841l6 0 2-1-6-1zM781 840l6 1 1-1-5-1zM825 841l6 1 2-2-6-1z"/>
<path class="c20" d="M765 839l-6-1 0 1zM895 818l5-2 2-4-6 2zM788 840l1-1-5 0-1 0z"/>
<path class="c32" d="M908 809l5-4 2-3-6 4z"/>
<path class="c38" d="M972 767l5 7 2-5-6-8zM977 774l6-3 2-6-6 4z"/>
<path class="c8" d="M744 840l2 2-6-1-1-1z"/>
<path class="c25" d="M738 839l5 1 1 0-5 0z"/>
<path class="c37" d="M940 788l4-2-4-1zM927 798l5-4 2-5-6 4zM913 805l6-1 2-3-6 1z"/>
<path class="c35" d="M944 786l1-1 2-7-6 4-1 3zM958 775l6-4 2-2-6 4zM983 771l6 8 1-5-5-9zM945 785l6-4 2-7-6 4zM964 771l6-1 2-3-6 2z"/>
<path class="c0" d="M762 843l6 0 2-4-5 0zM806 840l6 1 2-1-6-1zM787 841l6 0 2-2-2 0-5 1zM831 842l5 0 2-2-5 0z"/>
<path class="c20" d="M793 839l-4 0-1 1zM900 816l6-2 0-1-4-1z"/>
<path class="c23" d="M719 841l5-6 3 4-6 0z"/>
<path class="c3" d="M850 841l4-1 2-1-4 1z"/>
<path class="c21" d="M854 840l1 0 2-1-1 0zM868 835l6-4 2-2-6 3zM887 824l6-3 2-3-6 3zM855 840l6-1 2-2-6 2zM874 831l6-2 2-2-6 2zM861 839l5-2 2-2-5 2z"/>
<path class="c8" d="M750 841l1 1-5 0-2-2z"/>
<path class="c25" d="M743 840l6 0 1 1-6-1z"/>
<path class="c37" d="M906 813l2-4-6 3zM932 794l6-1 2-5-6 1zM919 804l6-3 2-3-6 3z"/>
<path class="c0" d="M768 843l6 0 2-3-3-1-3 0zM812 841l5 0 2-1-5 0zM793 841l5 1 2-2-5-1zM836 842l6 0 2-1-6-1z"/>
<path class="c20" d="M906 814l1-1-1 0zM893 821l6-1 1-4-5 2zM880 829l5-2 2-3-5 3z"/>
<path class="c24" d="M724 835l6 0 2 4-5 0z"/>
<path class="c8" d="M755 841l2 1-6 0-1-1z"/>
<path class="c25" d="M749 840l5 0 1 1-5 0zM991 813l2 26 2-2-3-26z"/>
<path class="c26" d="M988 787l3 26 1-2-2-26z"/>
<path class="c28" d="M988 782l0 5 2-2-1-6z"/>
<path class="c0" d="M774 843l5 0 2-3-5 0zM817 841l6 1 2-1-6-1zM798 842l6 0 2-2-6 0zM842 842l6 1 2-2-6 0zM779 843l6 1 2-3-6-1zM823 842l5 1 3-1-6-1zM804 842l5 1 3-2-6-1zM785 844l5 0 3-3-6 0zM828 843l6 0 2-1-5 0zM809 843l6 0 2-2-5 0zM790 844l6 0 2-2-5-1zM834 843l6 0 2-1-6 0zM815 843l6 1 2-2-6-1zM796 844l6 1 2-3-6 0z"/>
<path class="c38" d="M951 781l6 1 1-7-5-1zM970 770l6 7 1-3-5-7z"/>
<path class="c37" d="M907 813l5-2 1-6-5 4-2 4zM938 793l6-3 1-4-1 0-4 2zM912 811l6-2 1-5-6 1z"/>
<path class="c23" d="M730 835l5 0 3 4-6 0z"/>
<path class="c35" d="M945 786l0-1-1 1zM976 777l6-3 1-3-6 3zM957 782l6-3 1-8-6 4z"/>
<path class="c8" d="M761 841l1 2-5-1-2-1z"/>
<path class="c25" d="M754 840l6 1 1 0-6 0z"/>
<path class="c32" d="M925 801l6-4 1-3-5 4z"/>
<path class="c24" d="M735 835l6 0 2 5-5-1z"/>
<path class="c8" d="M766 842l2 1-6 0-1-2z"/>
<path class="c25" d="M760 841l6 0 0 1-5-1z"/>
<path class="c24" d="M716 842l5-11 3 4-5 6zM741 835l5 1 3 4-6 0zM721 831l6-1 3 5-6 0zM727 830l5 1 3 4-5 0zM732 831l6-1 3 5-6 0z"/>
<path class="c37" d="M944 790l5-3-4-1zM931 797l5 0 2-4-6 1zM918 809l5-2 2-6-6 3z"/>
<path class="c35" d="M949 787l1 0 1-6-6 4 0 1zM982 774l6 8 1-3-6-8z"/>
<path class="c3" d="M848 843l5-1 1-2-4 1z"/>
<path class="c21" d="M853 842l0-1 2-1-1 0zM866 837l6-2 2-4-6 4zM885 827l6-3 2-3-6 3zM853 841l6-1 2-1-6 1zM859 840l6-1 1-2-5 2z"/>
<path class="c20" d="M899 820l5-2 2-4-6 2zM904 818l6-3-3-2-1 1zM872 835l6-2 2-4-6 2zM891 824l6-1 2-3-6 1zM878 833l6-2 1-4-5 2zM897 823l6-2 1-3-5 2zM884 831l5-2 2-5-6 3z"/>
<path class="c8" d="M772 842l2 1-6 0-2-1z"/>
<path class="c25" d="M766 841l5 1 1 0-6 0zM989 814l3 26 1-1-2-26z"/>
<path class="c38" d="M963 779l6-2 1-7-6 1z"/>
<path class="c26" d="M986 788l3 26 2-1-3-26z"/>
<path class="c28" d="M988 787l0-5-2 6z"/>
<path class="c40" d="M953 787l2 1 1-1z"/>
<path class="c38" d="M950 787l3 0 3 0 1-5-6-1zM969 777l5 7 2-7-6-7zM974 784l6-3 2-7-6 3z"/>
<path class="c37" d="M910 815l2-4-5 2zM936 797l6-3 2-4-6 3zM923 807l6-3 2-7-6 4zM910 815l6-1 2-5-6 2zM942 794l6-4 1-3-5 3zM929 804l6-1 1-6-5 0zM916 814l6-2 1-5-5 2z"/>
<path class="c23" d="M746 836l6 0 2 4-5 0zM752 836l5 1 3 4-6-1zM757 837l6 1 3 3-6 0z"/>
<path class="c8" d="M777 842l2 1-5 0-2-1z"/>
<path class="c25" d="M771 842l6 0-5 0z"/>
<path class="c35" d="M956 787l5-2 2-6-6 3zM980 781l6 7 2-6-6-8z"/>
<path class="c0" d="M840 843l6 1 2-1-6-1zM821 844l5 0 2-1-5-1zM802 845l5 0 2-2-5-1zM826 844l6 0 2-1-6 0zM807 845l6 0 2-2-6 0zM832 844l6 1 2-2-6 0zM813 845l6 0 2-1-6-1z"/>
<path class="c8" d="M783 843l2 1-6-1-2-1z"/>
<path class="c25" d="M777 842l5 1 1 0z"/>
<path class="c3" d="M846 844l5-1 2-1-5 1z"/>
<path class="c21" d="M851 843l2-2 0 1zM865 839l5-2 2-2-6 2zM851 843l6-1 2-2-6 1z"/>
<path class="c38" d="M961 785l6-2 2-6-6 2z"/>
<path class="c8" d="M788 843l2 1-5 0-2-1z"/>
<path class="c25" d="M782 843l6 0-5 0zM987 815l4 26 1-1-3-26z"/>
<path class="c24" d="M714 843l5-17 2 5-5 11zM738 830l6 0 2 6-5-1zM719 826l5-2 3 6-6 1zM744 830l5 2 3 4-6 0zM749 832l6 0 2 5-5-1zM724 824l6 1 2 6-5-1z"/>
<path class="c26" d="M985 794l2 21 2-1-3-26z"/>
<path class="c40" d="M948 790l6 2 1-4-2-1-4 0zM972 788l1 2 0-2z"/>
<path class="c38" d="M953 787l-3 0-1 0zM967 783l5 5 1 0 1-4-5-7z"/>
<path class="c23" d="M763 838l6 0 2 4-5-1zM769 838l5 1 3 3-6 0zM774 839l6 1 2 3-5-1z"/>
<path class="c3" d="M794 844l2 0-6 0-2-1z"/>
<path class="c20" d="M903 821l5-3 2-3-6 3zM870 837l6-1 2-3-6 2zM889 829l6-1 2-5-6 1zM857 842l6-1 2-2-6 1z"/>
<path class="c37" d="M935 803l6-2 1-7-6 3zM922 812l5-3 2-5-6 3zM954 792l5-3-3-2-1 1z"/>
<path class="c40" d="M973 790l2-2-2 0z"/>
<path class="c38" d="M975 788l4-1 1-6-6 3-1 4z"/>
<path class="c35" d="M959 789l1 0 1-4-5 2z"/>
<path class="c3" d="M800 844l2 1-6-1-2 0z"/>
<path class="c21" d="M794 844l5 0 1 0z"/>
<path class="c0" d="M838 845l5 0 3-1-6-1zM819 845l5 1 2-2-5 0zM824 846l6 0 2-2-6 0zM830 846l6 0 2-1-6-1z"/>
<path class="c20" d="M908 818l6 0 1-2-5-1zM876 836l6-1 2-4-6 2zM895 828l6-2 2-5-6 2zM863 841l5-1 2-3-5 2z"/>
<path class="c37" d="M915 816l1-2-6 1zM981 789l4 5 1-6zM941 801l6-3 1-8-6 4zM927 809l6-1 2-5-6 1z"/>
<path class="c35" d="M979 787l2 2 5-1-6-7zM960 789l6-2 1-4-6 2z"/>
<path class="c3" d="M805 844l2 1-5 0-2-1zM843 845l6-1 2-1-5 1z"/>
<path class="c21" d="M799 844l6 0-5 0z"/>
<path class="c20" d="M914 818l3-1-2-1zM882 835l5-2 2-4-5 2zM901 826l6-2 1-6-5 3zM849 844l6 0 2-2-6 1zM868 840l6-1 2-3-6 1zM887 833l6-1 2-4-6 1z"/>
<path class="c37" d="M917 817l3-1 2-4-6 2-1 2zM933 808l6-2 2-5-6 2z"/>
<path class="c40" d="M947 798l5 1 2-7-6-2zM968 789l4 4 1-3-1-2z"/>
<path class="c24" d="M711 845l5-22 3 3-5 17zM755 832l5 1 3 5-6-1zM730 825l5-2 3 7-6 1zM735 823l6 1 3 6-6 0zM716 823l5-3 3 4-5 2zM741 824l6 2 2 6-5-2zM747 826l5 0 3 6-6 0z"/>
<path class="c25" d="M780 840l6 1 2 2-6 0zM986 816l3 27 2-2-4-26zM786 841l5 0 3 3-6-1zM791 841l6 1 2 2-5 0z"/>
<path class="c38" d="M966 787l2 2 4-1-5-5z"/>
<path class="c26" d="M983 797l3 19 1-1-2-21z"/>
<path class="c3" d="M811 845l2 0-6 0-2-1z"/>
<path class="c40" d="M972 793l5-2 1-2-3-1-2 2z"/>
<path class="c38" d="M978 789l1-2-4 1z"/>
<path class="c37" d="M952 799l6-2 2-8-1 0-5 3zM920 816l6-3 1-4-5 3zM939 806l6-2 2-6-6 3zM977 791l6 6 2-3-4-5-3 0zM926 813l6 0 1-5-6 1z"/>
<path class="c35" d="M981 789l-2-2-1 2z"/>
<path class="c23" d="M760 833l6 1 3 4-6 0zM766 834l6 1 2 4-5-1zM772 835l6 2 2 3-6-1zM721 820l6 2 3 3-6-1zM778 837l5 1 3 3-6-1zM783 838l6 1 2 2-5 0z"/>
<path class="c3" d="M817 845l2 0-6 0-2 0zM836 846l5 0 2-1-5 0z"/>
<path class="c21" d="M811 845l5 0 1 0z"/>
<path class="c20" d="M907 824l5 0 2-6-6 0zM855 844l6 0 2-3-6 1zM874 839l6-1 2-3-6 1zM893 832l6-2 2-4-6 2zM912 824l6-2 2-5-3 0-3 1zM861 844l5-1 2-3-5 1z"/>
<path class="c40" d="M958 797l6-2 1-5-5-1zM945 804l6 1 1-6-5-1z"/>
<path class="c38" d="M965 790l1-3-6 2z"/>
<path class="c3" d="M822 846l2 0-5-1-2 0z"/>
<path class="c21" d="M816 845l6 1-5-1z"/>
<path class="c37" d="M920 817l0-1-3 1zM932 813l5-2 2-5-6 2zM951 805l6-2 1-6-6 2z"/>
<path class="c0" d="M841 846l6 0 2-2-6 1z"/>
<path class="c20" d="M880 838l6-2 1-3-5 2zM899 830l6-1 2-5-6 2zM866 843l6 0 2-4-6 1zM918 822l6-2 1-2-5-1zM847 846l6 0 2-2-6 0zM886 836l5 0 2-4-6 1zM905 829l6-1 1-4-5 0zM853 846l6 0 2-2-6 0zM872 843l6-1 2-4-6 1zM891 836l6-1 2-5-6 2zM911 828l6-1 1-5-6 2zM859 846l6 0 1-3-5 1zM878 842l6 0 2-6-6 2z"/>
<path class="c25" d="M797 842l6 1 2 1-6 0zM984 818l4 26 1-1-3-27zM803 843l5 1 3 1-6-1zM789 839l6 1 2 2-6-1z"/>
<path class="c40" d="M964 795l6 6 2-8-4-4-3 1zM970 801l6-3 1-7-5 2zM957 803l6-1 1-7-6 2z"/>
<path class="c38" d="M968 789l-2-2-1 3z"/>
<path class="c26" d="M982 804l2 14 2-2-3-19z"/>
<path class="c3" d="M828 846l2 0-6 0-2 0z"/>
<path class="c24" d="M708 846l5-26 3 3-5 22zM752 826l6 2 2 5-5-1zM727 822l5-2 1 0 2 3-5 2z"/>
<path class="c37" d="M925 818l1-5-6 3 0 1zM937 811l6-2 2-5-6 2zM976 798l6 6 1-7-6-6z"/>
<path class="c3" d="M834 846l2 0-6 0-2 0z"/>
<path class="c21" d="M828 846l6 1 0-1zM808 844l6 1 2 0-5 0z"/>
<path class="c23" d="M758 828l6 1 2 5-6-1zM735 820l3 1 3 3-6-1-2-3zM764 829l5 1 3 5-6-1zM738 821l6 2 3 3-6-2zM769 830l6 2 3 5-6-2z"/>
<path class="c41" d="M924 820l6 0 0-1-5-1zM884 842l6-1 1-5-5 0z"/>
<path class="c40" d="M930 819l2-6-6 0-1 5zM943 809l6 1 2-5-6-1zM963 802l6 4 1-5-6-6zM969 806l5-2 2-6-6 3z"/>
<path class="c3" d="M839 847l2-1-5 0-2 0z"/>
<path class="c21" d="M834 847l5 0-5-1zM814 845l6 1 2 0-6-1zM820 846l6 0 2 0-6 0zM826 846l5 1 3 0-6-1z"/>
<path class="c24" d="M721 820l-5 3-3-3z"/>
<path class="c42" d="M713 820l6-3 2 3z"/>
<path class="c20" d="M930 820l3-1-3 0z"/>
<path class="c37" d="M933 819l3-1 1-7-5 2-2 6zM949 810l6-2 2-5-6 2zM936 818l6-1 1-8-6 2z"/>
<path class="c0" d="M847 846l-6 0-2 1z"/>
<path class="c20" d="M839 847l6 0 2-1zM897 835l6-2 2-4-6 1zM917 827l5-2 2-5-6 2zM865 846l5 0 2-3-6 0zM845 847l6 1 2-2-6 0zM870 846l6 0 2-4-6 1zM851 848l6 0 2-2-6 0z"/>
<path class="c25" d="M982 819l4 27 2-2-4-26zM795 840l5 2 3 1-6-1zM800 842l6 1 2 1-5-1z"/>
<path class="c26" d="M980 810l2 9 2-1-2-14z"/>
<path class="c23" d="M726 820l1 2-6-2zM744 823l6 0 2 3-5 0zM775 832l6 2 2 4-5-1zM750 823l5 2 3 3-6-2zM781 834l5 1 3 4-6-1zM755 825l6 2 3 2-6-1zM786 835l6 2 3 3-6-1zM761 827l6 1 2 2-5-1z"/>
<path class="c27" d="M719 817l5 2 2 1-5 0z"/>
<path class="c24" d="M706 848l3-26 4-2-5 26zM732 820l-5 2-1-2z"/>
<path class="c42" d="M709 822l1-6 3 4zM724 819l6-3 3 4-1 0-6 0zM710 816l6-5 3 6-6 3z"/>
<path class="c37" d="M974 804l6 6 2-6-6-6z"/>
<path class="c41" d="M903 833l6 0 2-5-6 1zM922 825l6 0 2-5-6 0zM890 841l6 0 1-6-6 1zM896 841l5-1 2-7-6 2z"/>
<path class="c40" d="M955 808l6-1 2-5-6 1zM942 817l6 0 1-7-6-1zM961 807l6 4 2-5-6-4zM948 817l6-1 1-8-6 2zM967 811l6-2 1-5-5 2z"/>
<path class="c21" d="M806 843l6 1 2 1-6-1zM812 844l6 2 2 0-6-1zM818 846l6 1 2-1-6 0z"/>
<path class="c20" d="M909 833l6-1 2-5-6 1zM831 847l6 1 2-1-5 0zM928 825l6-1 1-4-2-1-3 1zM876 846l6 0 2-4-6 0zM857 848l6 0 2-2-6 0zM837 848l6 1 2-2-6 0zM915 832l6-1 1-6-5 2zM863 848l5 1 2-3-5 0z"/>
<path class="c37" d="M935 820l1-2-3 1z"/>
<path class="c27" d="M730 816l6 1 2 4-3-1-2 0z"/>
<path class="c25" d="M980 820l5 27 1-1-4-27zM792 837l6 2 2 3-5-2zM767 828l6 2 2 2-6-2zM798 839l6 2 2 2-6-1zM773 830l5 2 3 2-6-2zM804 841l6 2 2 1-6-1zM778 832l6 1 2 2-5-1zM784 833l6 3 2 1-6-2zM790 836l6 2 2 1-6-2z"/>
<path class="c26" d="M979 814l1 6 2-1-2-9z"/>
<path class="c23" d="M743 821l1 2-6-2z"/>
<path class="c27" d="M736 817l5 3 2 1-5 0z"/>
<path class="c41" d="M934 824l6-1 1-3-6 0zM882 846l6 0 2-5-6 1zM901 840l6 0 2-7-6 0zM921 831l6 0 1-6-6 0z"/>
<path class="c40" d="M941 820l1-3-6 1-1 2zM954 816l6-1 1-8-6 1z"/>
<path class="c37" d="M973 809l6 5 1-4-6-6z"/>
<path class="c0" d="M843 849l6 1 2-2z"/>
<path class="c20" d="M843 849l8-1-6-1zM868 849l6 0 2-3-6 0z"/>
<path class="c24" d="M703 849l3-26 3-1-3 26z"/>
<path class="c42" d="M706 823l2-9 2 2-1 6zM716 811l6 3 2 5-5-2zM722 814l5-4 3 6-6 3zM727 810l6 2 3 5-6-1zM708 814l5-5 3 2-6 5z"/>
<path class="c23" d="M749 822l1 1-6 0-1-2z"/>
<path class="c27" d="M741 820l6-1 2 3-6-1z"/>
<path class="c21" d="M824 847l5 1 2-1-5-1zM978 822l6 27 1-2-5-27zM810 843l5 2 3 1-6-2zM815 845l6 1 3 1-6-1z"/>
<path class="c41" d="M940 823l6 0 1-2-6-1zM888 846l6 0 2-5-6 0zM907 840l6-1 2-7-6 1zM927 831l6-1 1-6-6 1zM874 849l6 0 2-3-6 0z"/>
<path class="c40" d="M947 821l1-4-6 0-1 3zM960 815l6 4 1-8-6-4z"/>
<path class="c0" d="M849 850l6 0 2-2-6 0z"/>
<path class="c20" d="M829 848l6 1 2-1-6-1z"/>
<path class="c23" d="M753 823l2 2-5-2-1-1z"/>
<path class="c27" d="M747 819l6 3 0 1-4-1z"/>
<path class="c41" d="M946 823l6-1 0-1-5 0zM894 846l6-1 1-5-5 1zM913 839l6-1 2-7-6 1zM933 830l6-1 1-6-6 1zM880 849l6 1 2-4-6 0zM900 845l5 0 2-5-6 0z"/>
<path class="c40" d="M952 821l2-5-6 1-1 4zM966 819l6-2 1-8-6 2z"/>
<path class="c0" d="M855 850l6 1 1-2-5-1z"/>
<path class="c20" d="M862 849l1-1-6 0zM835 849l6 1 2-1-6-1z"/>
<path class="c32" d="M978 822l2-2-1-6z"/>
<path class="c23" d="M756 823l2 1 3 3-6-2-2-2zM758 824l6 1 3 3-6-1z"/>
<path class="c27" d="M753 822l3 1-3 0zM733 812l6 2 2 6-5-3z"/>
<path class="c40" d="M972 817l6 5 1-8-6-5z"/>
<path class="c41" d="M952 822l3 0-3-1zM919 838l6 0 2-7-6 0zM939 829l5 0 2-6-6 0z"/>
<path class="c40" d="M955 822l3 0 2-7-6 1-2 5z"/>
<path class="c0" d="M861 851l5 1 2-3-6 0zM842 850l5 1 2-1-6-1z"/>
<path class="c20" d="M868 849l-5-1-1 1zM841 850l1 0 1-1z"/>
<path class="c23" d="M700 851l3-27 3-1-3 26zM758 823l0 1-2-1z"/>
<path class="c27" d="M703 824l2-13 3 3-2 9zM713 809l6 3 3 2-6-3z"/>
<path class="c41" d="M959 822l5 3 1-3zM886 850l6 0 2-4-6 0zM905 845l6 0 2-6-6 1zM925 838l6 0 2-8-6 1zM944 829l6-1 2-6-6 1z"/>
<path class="c40" d="M958 822l1 0 6 0 1-3-6-4z"/>
<path class="c25" d="M764 825l6 3 3 2-6-2zM796 838l6 1 2 2-6-2zM770 828l6 2 2 2-5-2zM776 830l6 1 2 2-6-1zM782 831l5 3 3 2-6-3zM787 834l6 3 3 1-6-2z"/>
<path class="c0" d="M866 852l6 0 2-3-6 0zM847 851l6 1 2-2-6 0z"/>
<path class="c21" d="M821 846l6 3 2-1-5-1zM802 839l5 3 3 1-6-2zM976 827l6 23 2-1-6-27-1 0zM807 842l6 2 2 1-5-2zM813 844l6 2 2 0-6-1zM793 837l6 2 3 0-6-1z"/>
<path class="c42" d="M739 814l5 0 3 5-6 1zM705 811l5-5 3 3-5 5z"/>
<path class="c41" d="M964 825l6-1 0-2-5 0zM892 850l6 0 2-5-6 1zM911 845l6 0 2-7-6 1zM931 838l6-1 2-8-6 1z"/>
<path class="c40" d="M970 822l2-5-6 2-1 3z"/>
<path class="c0" d="M872 852l6 1 2-3-6-1zM853 852l6 1 2-2-6-1z"/>
<path class="c20" d="M880 850l0-1-6 0zM827 849l6 1 2-1-6-1zM833 850l6 2 2-2-6-1z"/>
<path class="c27" d="M744 814l6 3 3 5-6-3zM719 812l5-4 3 2-5 4zM750 817l6 3 2 3-2 0-3-1zM724 808l6 1 3 3-6-2z"/>
<path class="c41" d="M970 824l6 3 1-5-7 0zM950 828l6 0 2-6-3 0-3 0zM898 850l6 1 1-6-5 0zM917 845l6 0 2-7-6 0zM937 837l6 1 1-9-5 0z"/>
<path class="c40" d="M977 822l1 0-6-5-2 5z"/>
<path class="c0" d="M878 853l6 0 2-3-6 0zM859 853l5 0 2-1-5-1zM840 852l5 1 2-2-5-1z"/>
<path class="c20" d="M886 850l-6-1 0 1zM839 852l1 0 2-2-1 0z"/>
<path class="c41" d="M956 828l6 3 2-6-5-3-1 0zM904 851l6 0 1-6-6 0zM923 845l6 0 2-7-6 0zM943 838l6-1 1-9-6 1zM962 831l6-1 2-6-6 1zM910 851l6 0 1-6-6 0zM929 845l6 0 2-8-6 1z"/>
<path class="c23" d="M764 824l0 1-6-1 0-1z"/>
<path class="c27" d="M756 820l6 1 2 3-6-1z"/>
<path class="c0" d="M884 853l6 1 2-3-6-1zM864 853l6 0 2-1-6 0zM845 853l6 1 2-2-6-1z"/>
<path class="c20" d="M892 851l0-1-6 0zM819 846l6 3 2 0-6-3z"/>
<path class="c26" d="M730 809l6 3 3 2-6-2z"/>
<path class="c23" d="M698 852l2-26 3-2-3 27zM768 825l2 3-6-3 0-1z"/>
<path class="c27" d="M700 826l2-20 3 5-2 13zM762 821l5 3 1 1-4-1zM710 806l6 3 3 3-6-3zM736 812l6 0 2 2-5 0z"/>
<path class="c0" d="M890 854l6 0 1-3-5 0zM870 853l6 1 2-1-6-1zM851 854l6 0 2-1-6-1z"/>
<path class="c20" d="M897 851l1-1-6 0 0 1zM825 849l6 2 2-1-6-1z"/>
<path class="c21" d="M975 833l6 18 1-1-6-23zM799 839l6 3 2 0-5-3zM805 842l6 2 2 0-6-2zM811 844l6 3 2-1-6-2z"/>
<path class="c25" d="M771 825l2 2 3 3-6-2-2-3zM773 827l6 1 3 3-6-1zM779 828l6 4 2 2-5-3zM785 832l6 2 2 3-6-3zM791 834l6 3 2 2-6-2z"/>
<path class="c26" d="M767 824l4 1-3 0zM742 812l5 3 3 2-6-3zM747 815l6 3 3 2-6-3zM753 818l6 1 3 2-6-1zM759 819l6 4 2 1-5-3z"/>
<path class="c41" d="M968 830l7 3 1-6-6-3zM949 837l6 0 1-9-6 0zM916 851l6 1 1-7-6 0zM935 845l6 0 2-7-6-1zM955 837l6 2 1-8-6-3zM922 852l6 0 1-7-6 0zM941 845l6 0 2-8-6 1zM961 839l6 0 1-9-6 1z"/>
<path class="c0" d="M896 854l6 1 1-3-6-1zM876 854l6 0 2-1-6 0zM857 854l5 1 2-2-5 0z"/>
<path class="c20" d="M903 852l1-1-6-1-1 1zM831 851l6 2 2-1-6-2z"/>
<path class="c42" d="M716 809l6-5 2 4-5 4zM702 806l5-6 3 6-5 5z"/>
<path class="c0" d="M902 855l6 0 1-3-6 0zM837 853l6 2 2-2-5-1zM862 855l6-1 2-1-6 0zM843 855l6 0 2-1-6-1zM849 855l6 1 2-2-6 0z"/>
<path class="c20" d="M909 852l1-1-6 0-1 1zM837 853l3-1-1 0zM817 847l6 3 2-1-6-3zM823 850l6 2 2-1-6-2zM829 852l6 3 2-2-6-2z"/>
<path class="c3" d="M882 854l6 0 2 0-6-1zM888 854l6 0 2 0-6 0zM868 854l6 1 2-1-6-1zM894 854l6 1 2 0-6-1z"/>
<path class="c27" d="M722 804l5 2 3 3-6-1z"/>
<path class="c16" d="M908 855l6 1 1-4-6 0z"/>
<path class="c41" d="M915 852l1-1-6 0-1 1zM928 852l6 0 1-7-6 0zM947 845l6 1 2-9-6 0zM967 839l6 2 2-8-7-3z"/>
<path class="c23" d="M695 854l2-27 3-1-2 26z"/>
<path class="c27" d="M697 827l2-22 3 1-2 20zM727 806l6 3 3 3-6-3zM707 800l6 4 3 5-6-3zM733 809l6 0 3 3-6 0z"/>
<path class="c21" d="M973 841l6 12 2-2-6-18zM797 837l6 3 2 2-6-3zM803 840l6 3 2 1-6-2z"/>
<path class="c16" d="M914 856l6 0 1-3-6-1z"/>
<path class="c41" d="M921 853l1-1-6-1-1 1zM934 852l6 1 1-8-6 0zM953 846l6 1 2-8-6-2z"/>
<path class="c25" d="M772 826l1 1-2-2z"/>
<path class="c26" d="M765 823l6 3 1 0-1-1-4-1zM739 809l6 3 2 3-5-3z"/>
<path class="c0" d="M874 855l6 0 2-1-6 0zM855 856l5 0 2-1-5-1zM835 855l6 2 2-2-6-2zM860 856l6 0 2-2-6 1zM841 857l5 0 3-2-6 0zM866 856l6 0 2-1-6-1zM846 857l6 0 3-1-6-1z"/>
<path class="c16" d="M920 856l6 0 1-3-6 0z"/>
<path class="c41" d="M927 853l1-1-6 0-1 1zM940 853l6 0 1-8-6 0zM959 847l6 0 2-8-6 0z"/>
<path class="c25" d="M777 827l2 1-6-1-1-1z"/>
<path class="c26" d="M771 826l6 1-5-1zM745 812l6 3 2 3-6-3zM751 815l5 1 3 3-6-1zM756 816l6 5 3 2-6-4z"/>
<path class="c42" d="M713 804l4-4 2 0 3 4-6 5z"/>
<path class="c43" d="M717 800l2-2 0 2z"/>
<path class="c3" d="M900 855l6 0 2 0-6 0zM880 855l6 0 2-1-6 0zM906 855l6 0 2 1-6-1zM886 855l6 0 2-1-6 0zM912 855l6 1 2 0-6 0zM892 855l6 1 2-1-6-1z"/>
<path class="c21" d="M777 827l6 4 2 1-6-4zM809 843l6 3 2 1-6-3zM783 831l6 3 2 0-6-2zM815 846l6 4 2 0-6-3zM789 834l5 2 3 1-6-3zM794 836l6 4 3 0-6-3z"/>
<path class="c16" d="M926 856l6 1 1-3-6-1z"/>
<path class="c41" d="M933 854l1-2-6 0-1 1zM946 853l6 0 1-7-6-1zM965 847l6 1 2-7-6-2z"/>
<path class="c27" d="M725 800l2 6-5-2-3-4z"/>
<path class="c29" d="M719 798l5 2 1 0-6 0z"/>
<path class="c23" d="M692 855l2-27 3-1-2 27z"/>
<path class="c27" d="M694 828l2-26 3 3-2 22zM699 805l4-4 3-1 1 0-5 6zM725 800l5 4 3 5-6-3zM730 804l6-1 3 6-6 0zM736 803l6 4 3 5-6-3z"/>
<path class="c20" d="M971 848l7 6 1-1-6-12zM821 850l6 3 2-1-6-2zM827 853l5 3 3-1-6-3z"/>
<path class="c29" d="M703 801l1-2 2 1z"/>
<path class="c16" d="M932 857l6 0 1-3-6 0z"/>
<path class="c41" d="M939 854l1-1-6-1-1 2zM952 853l6 1 1-7-6-1z"/>
<path class="c26" d="M708 801l2 1 3 2-6-4-1 0zM762 821l6 3 3 2-6-3zM768 824l6 2 3 1-6-1z"/>
<path class="c28" d="M704 799l4 2-2-1z"/>
<path class="c16" d="M938 857l6 1 1-4-6 0z"/>
<path class="c41" d="M945 854l1-1-6 0-1 1zM958 854l6 0 1-7-6 0z"/>
<path class="c0" d="M872 856l6 1 2-2-6 0zM852 857l6 0 2-1-5 0zM833 856l5 2 3-1-6-2zM878 857l6 0 2-2-6 0z"/>
<path class="c3" d="M918 856l3 0 3 0 2 0-6 0zM898 856l2 0 5-1 1 0-6 0z"/>
<path class="c21" d="M800 840l6 3 3 0-6-3zM900 856l4 0 1-1z"/>
<path class="c16" d="M944 858l6 0 1-3-6-1z"/>
<path class="c41" d="M951 855l1-2-6 0-1 1zM964 854l6 1 1-7-6-1z"/>
<path class="c20" d="M832 856l1 0 2-1zM970 855l6 1 2-2-7-6z"/>
<path class="c27" d="M710 802l1-1 6-1-4 4zM742 807l6 4 3 4-6-3z"/>
<path class="c29" d="M711 801l5-5 3 2-2 2z"/>
<path class="c3" d="M930 856l2 1-6-1-2 0zM858 857l6 0 2-1-6 0z"/>
<path class="c21" d="M806 843l6 3 3 0-6-3z"/>
<path class="c25" d="M779 829l1 1 3 1-6-4z"/>
<path class="c26" d="M774 826l5 3-2-2z"/>
<path class="c0" d="M911 856l1-1-6 0-1 0zM838 858l6 0 2-1-5 0zM884 857l6 1 2-3-6 0z"/>
<path class="c20" d="M904 856l6 0 1 0-6-1zM812 846l6 5 3-1-6-4z"/>
<path class="c16" d="M950 858l6 0 1-3-6 0z"/>
<path class="c41" d="M957 855l1-1-6-1-1 2z"/>
<path class="c21" d="M780 830l6 3 3 1-6-3z"/>
<path class="c28" d="M716 796l6 3 2 1-5-2z"/>
<path class="c23" d="M689 857l2-27 3-2-2 27z"/>
<path class="c27" d="M691 830l2-27 3-1-2 26zM748 811l6 1 2 4-5-1zM710 801l0 1-2-1z"/>
<path class="c29" d="M693 803l0-5 3 4z"/>
<path class="c3" d="M936 857l2 0-6 0-2-1zM864 857l5 0 1 0 2-1-6 0z"/>
<path class="c21" d="M786 833l6 2 2 1-5-2z"/>
<path class="c42" d="M696 802l7-1-4 4z"/>
<path class="c43" d="M696 802l5-7 3 4-1 2z"/>
<path class="c0" d="M917 856l1 0-6-1-1 1zM844 858l6 0 2-1-6 0zM890 858l6 0 2-2-6-1z"/>
<path class="c20" d="M910 856l6 1 1-1-6 0zM818 851l6 3 3-1-6-3zM824 854l6 4 2-2-5-3z"/>
<path class="c26" d="M727 802l1 0 2 2-5-4zM754 812l6 5 2 4-6-5zM760 817l6 3 2 4-6-3z"/>
<path class="c28" d="M722 799l5 3-2-2-1 0z"/>
<path class="c16" d="M956 858l6 1 1-3-6-1z"/>
<path class="c41" d="M963 856l1-2-6 0-1 1z"/>
<path class="c3" d="M943 857l1 1-6-1-2 0zM871 857l5 1 2-1-6-1-2 1z"/>
<path class="c21" d="M936 857l6 0 1 0zM792 835l6 5 2 0-6-4z"/>
<path class="c29" d="M701 795l6 4 3 2-2 0-4-2z"/>
<path class="c26" d="M728 802l2 0 4 0 2 1-6 1zM766 820l6 3 2 3-6-2z"/>
<path class="c28" d="M730 802l3 0 1 0z"/>
<path class="c0" d="M921 856l-3 0-1 0zM850 858l6 1 2-2-6 0zM896 858l6 0 2-1-4-1-2 0zM831 858l5 2 2-2-5-2z"/>
<path class="c20" d="M916 857l6 0 2-1-3 0-4 0zM904 857l0-1-4 0zM830 858l1 0 2-2-1 0zM922 857l6 1 2-2-6 0z"/>
<path class="c16" d="M962 859l6 0 2-3-7 0z"/>
<path class="c41" d="M970 856l0-1-6-1-1 2z"/>
<path class="c3" d="M949 857l1 1-6 0-1-1zM876 858l3 0 4-1 1 0-6 0zM968 859l7-1 1-2-6 0zM856 859l6-1 1 0 1-1-6 0z"/>
<path class="c21" d="M942 857l6 0 1 0-6 0zM798 840l6 3 2 0-6-3zM879 858l3 0 1-1zM976 856l-6-1 0 1zM804 843l6 4 2-1-6-3z"/>
<path class="c26" d="M734 802l5 4 3 1-6-4z"/>
<path class="c42" d="M711 801l-1 1 0-1z"/>
<path class="c43" d="M707 799l6-7 3 4-5 5-1 0z"/>
<path class="c0" d="M902 858l6 1 2-2-6 0zM836 860l6 0 2-2-6 0zM869 857l-5 0-1 1z"/>
<path class="c20" d="M910 857l0-1-6 0 0 1zM928 858l7 0 1-1-6-1zM862 858l6 1 2-2-1 0-6 1z"/>
<path class="c25" d="M780 829l0 1-1-1z"/>
<path class="c26" d="M772 823l6 4 2 2-1 0-5-3zM739 806l6 4 3 1-6-4z"/>
<path class="c3" d="M955 858l1 0-6 0-1-1zM889 858l1 0-6-1-1 0z"/>
<path class="c21" d="M948 857l7 1-6-1zM882 858l6 0 1 0-6-1zM810 847l6 5 2-1-6-5z"/>
<path class="c23" d="M687 858l1-27 3-1-2 27z"/>
<path class="c27" d="M688 831l2-27 3-1-2 27z"/>
<path class="c29" d="M690 804l0-6 3 0 0 5zM713 792l6 3 3 4-6-3zM719 795l6 4 2 3-5-3z"/>
<path class="c25" d="M784 831l2 2-6-3 0-1z"/>
<path class="c26" d="M778 827l6 4-4-2zM745 810l6 1 3 1-6-1z"/>
<path class="c0" d="M908 859l7 1 1-3-6 0zM842 860l6 0 2-2-6 0zM893 859l1 0 2-1-6 0-1 0zM869 859l5 1 2-2-5-1z"/>
<path class="c20" d="M916 857l-6-1 0 1zM816 852l6 4 2-2-6-3zM888 858l5 1-4-1zM935 858l6 0 1-1-6 0zM822 856l6 3 2-1-6-4zM868 859l1 0 2-2-1 0z"/>
<path class="c3" d="M961 858l1 1-6-1-1 0z"/>
<path class="c21" d="M784 831l6 3 2 1-6-2zM790 834l6 5 2 1-6-5z"/>
<path class="c43" d="M693 798l5-8 3 5-5 7z"/>
<path class="c32" d="M751 811l6 5 3 1-6-5zM757 816l6 4 3 0-6-3zM763 820l6 2 3 1-6-3zM769 822l6 5 3 0-6-4zM775 827l6 4 3 0-6-4z"/>
<path class="c0" d="M915 860l6 0 1-2-6-1zM848 860l6 1 2-2-6-1zM829 859l5 3 2-2-5-2zM874 860l4-1 1-1-3 0z"/>
<path class="c20" d="M922 858l0-1-6 0zM828 859l1 0 2-1-1 0zM941 858l6 1 1-2-6 0zM878 859l2 0 2-1-3 0z"/>
<path class="c3" d="M963 858l4 1 1 0-6 0-1-1zM894 859l1 0 6 0 1-1-6 0zM967 859l6 0 2-1-7 1zM834 862l6-1 2-1-6 0zM840 861l6 0 2-1-6 0z"/>
<path class="c21" d="M895 859l5 0 1 0zM796 839l6 3 2 1-6-3zM802 842l6 4 2 1-6-4zM808 846l6 6 2 0-6-5zM785 833l2 1 3 0-6-3z"/>
<path class="c29" d="M698 790l6 4 3 5-6-4z"/>
<path class="c27" d="M730 802l-2 0-1 0z"/>
<path class="c29" d="M725 799l6-1 2 4-3 0-3 0z"/>
<path class="c0" d="M921 860l6 1 1-3-6 0zM854 861l6-1 2-1 0-1-6 1zM907 860l1-1-6-1-1 1zM885 860l1 0 1 0z"/>
<path class="c20" d="M928 858l-6-1 0 1zM900 859l7 1-6-1zM947 859l6 0 2-1-7-1zM880 859l5 1 2 0 1-2-6 0z"/>
<path class="c26" d="M737 804l2 2-5-4z"/>
<path class="c28" d="M731 798l6 5 0 1-3-2-1 0z"/>
<path class="c43" d="M704 794l6-7 3 5-6 7z"/>
<path class="c26" d="M738 804l5 3 2 3-6-4-2-2zM743 807l5 1 3 3-6-1zM748 808l7 6 2 2-6-5zM755 814l6 4 2 2-6-4zM761 818l6 2 2 2-6-2z"/>
<path class="c28" d="M737 803l1 1-1 0z"/>
<path class="c0" d="M927 861l6 0 1-3-6 0zM860 860l6 1 2-2-6 0zM909 860l4 0 2 0-7-1-1 1zM886 860l7 1 1-2-1 0-6 1z"/>
<path class="c20" d="M934 858l1 0-7 0zM868 859l-6-1 0 1zM814 852l6 4 2 0-6-4zM953 859l6 0 2-1-6 0zM893 859l-5-1-1 2z"/>
<path class="c23" d="M684 860l1-27 3-2-1 27z"/>
<path class="c27" d="M685 833l2-28 3-1-2 27z"/>
<path class="c29" d="M687 805l0-11 3 4 0 6zM710 787l6 2 3 6-6-3zM690 798l6-8 2 0-5 8zM716 789l6 5 3 5-6-4zM722 794l6-1 3 5-6 1zM728 793l6 5 3 5-6-5z"/>
<path class="c0" d="M933 861l6 0 1-2-6-1zM866 861l6 1 2-2-5-1-1 0zM846 861l6 1 2-1-6-1zM966 860l1-1-4-1zM893 861l6 0-4-2-1 0z"/>
<path class="c20" d="M940 859l1-1-6 0-1 0zM820 856l6 5 2-2-6-3zM959 859l6 1 1 0-3-2-2 0zM899 861l1-2-5 0z"/>
<path class="c32" d="M781 831l4 2-1-2zM767 820l6 6 2 1-6-5zM773 826l6 4 2 1-6-4z"/>
<path class="c3" d="M913 860l2 0 4 0 2 0-6 0zM852 862l4-1 3 0 1-1-6 1z"/>
<path class="c21" d="M787 834l6 5 3 0-6-5zM793 839l6 4 3-1-6-3zM856 861l2 0 1 0zM799 843l6 4 3-1-6-4zM786 833l1 1-2-1z"/>
<path class="c0" d="M939 861l6 1 2-3-7 0zM827 861l5 2 2-1-5-3zM872 862l6 0 2-2-2-1-4 1zM921 861l4 0 2 0-6-1-2 0zM971 861l2-2-6 0-1 1zM899 861l6 1 1-2zM832 863l6-1 2-1-6 1z"/>
<path class="c20" d="M947 859l-6-1-1 1zM826 861l1 0 2-2-1 0zM880 860l0-1-2 0zM965 860l6 1-5-1zM906 860l1 0-7-1-1 2z"/>
<path class="c28" d="M696 790l6 4 2 0-6-4z"/>
<path class="c0" d="M945 862l6 0 2-2-6-1zM878 862l6 0 2-2-1 0-5 0zM925 861l6 1 2-1-6 0zM865 861l1 0-6-1-1 1zM905 862l6 1 2-3-4 0-3 0z"/>
<path class="c20" d="M953 860l0-1-6 0zM885 860l-5-1 0 1zM805 847l6 6 3-1-6-6zM858 861l6 1 1-1-6 0zM909 860l-2 0-1 0z"/>
<path class="c29" d="M702 794l5-7 3 0-6 7z"/>
<path class="c26" d="M741 805l2 2-5-3z"/>
<path class="c28" d="M734 798l6 5 1 2-3-1-1-1zM707 787l6 2 3 0-6-2z"/>
<path class="c23" d="M681 861l1-27 3-1-1 27z"/>
<path class="c27" d="M682 834l1-27 4-2-2 28zM747 806l1 2-5-1-2-2z"/>
<path class="c29" d="M683 807l1-16 3 3 0 11zM740 803l6 1 1 2-6-1z"/>
<path class="c0" d="M951 862l6 1 2-3-6 0zM838 862l6 0 2-1-6 0zM884 862l7 1 2-2-7-1zM931 862l6 0 2-1-6 0zM866 862l4 1 2-1-6-1-1 0zM911 863l6 0 1-2-3-1-2 0z"/>
<path class="c20" d="M959 860l0-1-6 0 0 1zM811 853l7 5 2-2-6-4zM864 862l2 0-1-1zM818 858l6 4 2-1-6-5zM918 861l1-1-4 0z"/>
<path class="c43" d="M687 794l6-8 3 4-6 8z"/>
<path class="c32" d="M779 830l6 3 1 0-1 0-4-2z"/>
<path class="c0" d="M957 863l7 0 1-3-6 0zM844 862l6 1 2-1-6-1zM891 863l6 1 2-3-6 0zM937 862l6 1 2-1-6-1zM825 863l5 2 2-2-5-2zM870 863l4 0 3-1 1 0-6 0zM917 863l6 1 2-3-4 0-3 0z"/>
<path class="c20" d="M965 860l-6-1 0 1zM824 862l1 1 2-2-1 0zM874 863l2 0 1-1zM921 861l-2-1-1 1z"/>
<path class="c26" d="M747 806l5 4 3 4-7-6zM752 810l6 5 3 3-6-4zM758 815l6 2 3 3-6-2zM764 817l6 6 3 3-6-6z"/>
<path class="c30" d="M713 789l6 5 3 0-6-5z"/>
<path class="c21" d="M786 834l5 5 2 0-6-5-1-1zM791 839l6 4 2 0-6-4zM797 843l6 4 2 0-6-4zM803 847l6 6 2 0-6-6z"/>
<path class="c32" d="M785 833l1 1 0-1zM770 823l6 5 3 2-6-4zM776 828l6 3 3 2-6-3z"/>
<path class="c29" d="M693 786l6 4 3 4-6-4z"/>
<path class="c0" d="M964 863l6-1 1-1-6-1zM850 863l5 0 1-2-4 1zM897 864l6 1 2-3-6-1zM943 863l7 0 1-1-6 0zM879 863l4 0 1-1-6 0-1 0zM923 864l6 1 2-3-6-1zM860 863l2 1 1-1zM903 865l6 1 2-3-6-1z"/>
<path class="c20" d="M855 863l1 0 2-2-2 0zM876 863l3 0-2-1zM856 863l4 0 3 0 1-1-6-1zM809 853l6 6 3-1-7-5z"/>
<path class="c28" d="M719 794l6-1 3 0-6 1z"/>
<path class="c3" d="M830 865l6-1 2-2-6 1zM950 863l5 0 1 0 1 0-6-1z"/>
<path class="c30" d="M725 793l6 5 3 0-6-5zM731 798l6 5 3 0-6-5zM737 803l6 2 3-1-6-1z"/>
<path class="c43" d="M699 790l5-8 3 5-5 7z"/>
<path class="c23" d="M678 863l1-27 3-2-1 27z"/>
<path class="c27" d="M679 836l1-28 3-1-1 27z"/>
<path class="c29" d="M680 808l1-15 3-2-1 16zM704 782l6 3 3 4-6-2z"/>
<path class="c0" d="M836 864l6 0 2-2-6 0zM883 863l6 2 2-2-7-1zM929 865l7 0 1-3-6 0zM862 864l6 1 2-2-4-1-3 1zM909 866l6 0 2-3-6 0zM842 864l6 1 2-2-6-1zM889 865l6 0 2-1-6-1zM936 865l6 1 1-3-6-1z"/>
<path class="c20" d="M866 862l-2 0-1 1zM815 859l6 5 3-2-6-4z"/>
<path class="c3" d="M959 863l3 1 2-1-7 0-1 0z"/>
<path class="c21" d="M787 836l1 2 3 1-5-5z"/>
<path class="c43" d="M684 791l6-10 3 5-6 8z"/>
<path class="c0" d="M823 864l5 3 2-2-5-2zM868 865l6 0 2-2-2 0-4 0zM962 864l6 0 2-2-6 1zM848 865l6 0 1-1 0-1-5 0zM895 865l6 1 2-1-6-1zM942 866l6 0 2-3-7 0z"/>
<path class="c20" d="M821 864l2 0 2-1-1-1zM855 864l1-1-1 0z"/>
<path class="c32" d="M746 807l3 3 3 0-5-4zM782 831l5 5-1-2-1-1zM749 810l6 5 3 0-6-5zM755 815l6 3 3-1-6-2zM761 818l6 6 3-1-6-6zM767 824l7 5 2-1-6-5zM774 829l6 3 2-1-6-3z"/>
<path class="c30" d="M743 805l3 2 1-1-1-2z"/>
<path class="c28" d="M710 785l6 5 3 4-6-5z"/>
<path class="c16" d="M915 866l6 2 2-4-6-1zM921 868l7 1 1-4-6-1zM928 869l6 0 2-4-7 0zM934 869l6 1 2-4-6-1z"/>
<path class="c21" d="M788 838l6 4 3 1-6-4zM794 842l7 5 2 0-6-4zM801 847l6 7 2-1-6-6z"/>
<path class="c3" d="M828 867l6-2 2-1-6 1zM834 865l2 0 5-1 1 0-6 0z"/>
<path class="c29" d="M690 781l6 5 3 4-6-4zM716 790l6-1 3 4-6 1z"/>
<path class="c0" d="M874 865l7 1 2-3-4 0-3 0zM901 866l6 2 2-2-6-1zM854 865l6 1 2-2-2-1-5 1zM948 866l6 0 2-3-1 0-5 0z"/>
<path class="c20" d="M860 863l-4 0-1 1zM807 854l6 6 2-1-6-6zM813 860l6 5 2-1-6-5z"/>
<path class="c28" d="M722 789l6 6 3 3-6-5zM728 795l6 5 3 3-6-5zM734 800l6 1 3 4-6-2z"/>
<path class="c23" d="M675 864l1-27 3-1-1 27z"/>
<path class="c27" d="M676 837l1-28 3-1-1 28z"/>
<path class="c29" d="M677 809l1-19 3 3-1 15zM696 786l3-6 3-1 2 3-5 8zM681 793l6-9 3-3-6 10z"/>
<path class="c21" d="M836 865l4 0 1-1zM785 838l1 1 2-1-1-2z"/>
<path class="c0" d="M881 866l6 1 2-2-6-2zM860 866l6 1 2-2-6-1zM907 868l6 0 2-2-6 0zM954 866l6 0 2-2-3-1-3 0zM841 866l5 1 2-2-6-1-1 0zM887 867l6 1 2-3-6 0zM821 866l4 2 3-1-5-3zM913 868l7 2 1-2-6-2zM866 867l6 0 2-2-6 0z"/>
<path class="c31" d="M699 780l2-3 1 2z"/>
<path class="c20" d="M840 865l1 1 0-2zM819 865l2 1 2-2-2 0z"/>
<path class="c29" d="M707 780l3 5-6-3-2-3z"/>
<path class="c31" d="M701 777l6 3-5-1z"/>
<path class="c32" d="M780 832l5 6 2-2-5-5z"/>
<path class="c26" d="M747 809l2 1-3-3z"/>
<path class="c28" d="M740 801l6 7 1 1-1-2-3-2zM707 780l6 6 3 4-6-5z"/>
<path class="c0" d="M960 866l7-1 1-1-6 0zM940 870l6 0 2-4-6 0zM872 867l7 2 2-3-7-1z"/>
<path class="c3" d="M846 867l4-1 4-1-6 0zM825 868l6-1 3-2-6 2z"/>
<path class="c21" d="M850 866l2 0 2-1z"/>
<path class="c16" d="M893 868l6 2 2-4-6-1zM920 870l6 1 2-2-7-1zM899 870l6 2 2-4-6-2zM905 872l6 1 2-5-6 0z"/>
<path class="c20" d="M786 839l6 4 2-1-6-4zM792 843l6 5 3-1-7-5z"/>
<path class="c26" d="M748 809l5 4 2 2-6-5-2-1zM753 813l6 3 2 2-6-3z"/>
<path class="c28" d="M746 808l2 1-1 0z"/>
<path class="c30" d="M687 784l6 4 3-2-6-5z"/>
<path class="c29" d="M713 786l6-1 3 4-6 1z"/>
<path class="c0" d="M857 867l1 0 2-1-6-1zM946 870l7 0 1-4-6 0zM926 871l6 1 2-3-6 0zM879 869l6 1 2-3-6-1zM831 867l4 0 1-2-2 0z"/>
<path class="c20" d="M852 866l5 1-3-2zM798 848l6 7 3-1-6-7zM835 867l2 0 3-2-4 0zM804 855l7 6 2-1-6-6zM811 861l6 6 2-2-6-5z"/>
<path class="c32" d="M759 816l6 6 2 2-6-6zM765 822l6 5 3 2-7-5zM771 827l6 4 3 1-6-3z"/>
<path class="c23" d="M672 866l1-27 3-2-1 27z"/>
<path class="c27" d="M673 839l1-28 3-2-1 28z"/>
<path class="c29" d="M674 811l1-22 3 1-1 19zM678 790l4-8 3-1 2 3-6 9z"/>
<path class="c28" d="M719 785l6 6 3 4-6-6zM693 788l5-7 1-1-3 6zM725 791l6 5 3 4-6-5zM731 796l6 2 3 3-6-1zM737 798l7 7 2 3-6-7z"/>
<path class="c33" d="M698 781l0-1 3-3-2 3z"/>
<path class="c0" d="M858 867l6 1 2-1-6-1zM953 870l6-1 1-3-6 0zM885 870l6 1 2-3-6-1zM838 867l6 2 2-2-5-1zM818 868l5 2 2-2-4-2zM864 868l6 0 2-1-6 0z"/>
<path class="c16" d="M932 872l6 1 2-3-6-1zM911 873l7 2 2-5-7-2zM891 871l6 3 2-4-6-2zM918 875l6 2 2-6-6-1zM897 874l6 2 2-4-6-2zM924 877l6 1 2-6-6-1zM903 876l7 2 1-5-6-1z"/>
<path class="c20" d="M837 867l1 0 3-1-1-1zM817 867l1 1 3-2-2-1z"/>
<path class="c31" d="M682 782l2-2 1 1z"/>
<path class="c30" d="M701 781l3 2 3-3z"/>
<path class="c34" d="M698 780l3 1 6-1-6-3z"/>
<path class="c32" d="M777 831l6 7 2 0-5-6z"/>
<path class="c0" d="M938 873l7 0 1-3-6 0zM844 869l5-1 1-2-4 1zM870 868l7 2 2-1-7-2zM945 873l6-1 2-2-7 0z"/>
<path class="c3" d="M959 869l6-2 2-2-7 1zM823 870l6-2 2-1-6 1z"/>
<path class="c20" d="M849 868l1 0 2-2-2 0z"/>
<path class="c35" d="M704 783l7 5 2-2-6-6z"/>
<path class="c21" d="M785 839l5 4 2 0-6-4-1-1zM790 843l6 5 2 0-6-5zM796 848l6 8 2-1-6-7z"/>
<path class="c32" d="M783 838l2 1 0-1z"/>
<path class="c26" d="M750 811l3 2-5-4z"/>
<path class="c28" d="M744 805l6 5 0 1-2-2-2-1zM686 782l4 3 3 3-6-4-2-3z"/>
<path class="c33" d="M684 780l2 2-1-1z"/>
<path class="c0" d="M850 868l6 1 2-2-1 0zM877 870l6 2 2-2-6-1zM829 868l3 1 3-2-4 0z"/>
<path class="c20" d="M850 868l7-1-5-1zM832 869l3 0 2-2-2 0zM802 856l6 6 3-1-7-6zM808 862l7 6 2-1-6-6z"/>
<path class="c30" d="M711 788l5-1 3-2-6 1z"/>
<path class="c26" d="M751 811l5 2 3 3-6-3-3-2z"/>
<path class="c28" d="M750 810l1 1-1 0zM704 782l0 1-3-2z"/>
<path class="c24" d="M669 868l1-28 3-1-1 27z"/>
<path class="c42" d="M670 840l2-28 2-1-1 28z"/>
<path class="c43" d="M672 812l0-14 3-9-1 22z"/>
<path class="c32" d="M756 813l6 8 3 1-6-6zM762 821l6 5 3 1-6-5zM768 826l7 4 2 1-6-4zM775 830l6 7 2 1-6-7z"/>
<path class="c35" d="M716 787l7 6 2-2-6-6zM723 793l6 6 2-3-6-5zM729 799l6 1 2-2-6-2zM735 800l6 7 3-2-7-7z"/>
<path class="c29" d="M690 785l1-3 7-1-5 7zM675 789l3-6 4-1-4 8z"/>
<path class="c31" d="M691 782l4-6 3 4 0 1zM678 783l2-5 4 2-2 2z"/>
<path class="c0" d="M856 869l6 2 2-3-6-1zM951 872l6-1 2-2-6 1zM883 872l6 1 2-2-6-1zM836 869l5 1 3-1-6-2zM816 869l5 3 2-2-5-2zM862 871l6 0 2-3-6 0zM841 870l7 0 1-2-5 1zM868 871l6 2 3-3-7-2z"/>
<path class="c16" d="M930 878l7 2 1-7-6-1zM910 878l6 4 2-7-7-2zM937 880l6-1 2-6-7 0zM889 873l6 4 2-3-6-3zM916 882l6 2 2-7-6-2zM895 877l7 3 1-4-6-2zM922 884l7 2 1-8-6-1zM874 873l7 3 2-4-6-2zM902 880l6 3 2-5-7-2zM929 886l6 2 2-8-7-2zM908 883l6 4 2-5-6-4zM881 876l6 2 2-5-6-1z"/>
<path class="c20" d="M835 869l1 0 2-2-1 0zM815 868l1 1 2-1-1-1z"/>
<path class="c33" d="M695 776l6 3 3 3-3-1-3-1z"/>
<path class="c3" d="M957 871l6-2 2-2-6 2zM821 872l5-2 2-1 1-1-6 2z"/>
<path class="c21" d="M826 870l1 0 1-1zM785 841l2 2 3 0-5-4zM787 843l6 5 3 0-6-5zM793 848l7 8 2 0-6-8z"/>
<path class="c28" d="M706 783l2 2 3 3-7-5 0-1z"/>
<path class="c33" d="M701 779l5 4-2-1z"/>
<path class="c32" d="M781 837l4 4 0-2-2-1z"/>
<path class="c37" d="M747 812l0 1 2-2z"/>
<path class="c35" d="M741 807l6 5 2-1 1-1-6-5z"/>
<path class="c0" d="M943 879l6-2 2-5-6 1zM848 870l6 1 2-2-6-1-1 0zM832 869l-3-1-1 1zM854 871l6 2 2-2-6-2zM949 877l6-2 2-4-6 1z"/>
<path class="c20" d="M827 870l6 0 2-1-3 0-4 0zM800 856l6 7 2-1-6-6zM806 863l6 7 3-2-7-6z"/>
<path class="c30" d="M687 783l3 2-4-3z"/>
<path class="c34" d="M680 778l7 5-1-1-2-2z"/>
<path class="c28" d="M708 785l5-2 3 4-5 1z"/>
<path class="c23" d="M666 869l1-27 3-2-1 28z"/>
<path class="c27" d="M667 842l1-28 4-2-2 28z"/>
<path class="c29" d="M668 814l1-19 3 3 0 14zM691 782l-1 3-3-2z"/>
<path class="c37" d="M747 813l6 3 3-3-5-2-2 0zM753 816l7 7 2-2-6-8zM760 823l6 5 2-2-6-5zM766 828l6 4 3-2-7-4zM772 832l6 7 3-2-6-7z"/>
<path class="c35" d="M751 811l-1-1-1 1z"/>
<path class="c28" d="M713 783l7 7 3 3-7-6zM720 790l6 6 3 3-6-6zM672 798l6-9 1-5-1-1-3 6zM726 796l6 1 3 3-6-1z"/>
<path class="c33" d="M679 784l1-6-2 5z"/>
<path class="c31" d="M687 783l5-9 3 2-4 6z"/>
<path class="c0" d="M835 871l4 1 2-2-5-1zM814 871l4 3 3-2-5-3zM860 873l6 1 2-3-6 0zM839 872l5-1 3-1 1 0-7 0z"/>
<path class="c20" d="M833 870l2 1 1-2-1 0zM812 870l2 1 2-2-1-1zM844 871l1 0 2-1zM782 842l3 3 2-2-2-2z"/>
<path class="c16" d="M935 888l6-1 2-8-6 1zM914 887l6 4 2-7-6-2zM887 878l6 4 2-5-6-4zM920 891l7 2 2-7-7-2zM893 882l7 5 2-7-7-3zM866 874l6 3 2-4-6-2zM900 887l6 4 2-8-6-3zM927 893l6 3 2-8-6-2zM872 877l7 3 2-4-7-3zM906 891l6 6 2-10-6-4zM879 880l6 3 2-5-6-2z"/>
<path class="c23" d="M663 871l2-28 2-1-1 27z"/>
<path class="c27" d="M665 843l3-29-1 28z"/>
<path class="c3" d="M955 875l7-5 1-1-6 2zM818 874l6-2 2-2-5 2z"/>
<path class="c34" d="M692 774l6 3 3 2-6-3z"/>
<path class="c0" d="M941 887l6-4 2-6-6 2zM847 871l5 1 2-1-6-1-1 0zM852 872l6 3 2-2-6-2zM933 896l6-2 2-7-6 1z"/>
<path class="c21" d="M824 872l1 0 2-2-1 0z"/>
<path class="c30" d="M732 797l6 8 3 2-6-7zM706 784l2 1-2-2z"/>
<path class="c37" d="M778 839l4 3 3-1-4-4z"/>
<path class="c35" d="M678 789l6 4 3-10-8 1z"/>
<path class="c36" d="M687 783l-7-5-1 6z"/>
<path class="c34" d="M698 777l7 6 1 1 0-1-5-4z"/>
<path class="c30" d="M738 805l6 5 3 2-6-5z"/>
<path class="c20" d="M845 871l2 0 0-1zM785 845l6 5 2-2-6-5zM825 872l6 0 2-2-6 0zM791 850l6 8 3-2-7-8zM797 858l7 7 2-2-6-7zM804 865l6 6 2-1-6-7z"/>
<path class="c32" d="M751 814l2 2-6-3 0-1z"/>
<path class="c30" d="M744 810l7 4-4-2zM713 783l-5 2-2-1zM684 793l6-8-3-2z"/>
<path class="c34" d="M705 783l6-1 2 1-7 1zM690 785l2-11-5 9z"/>
<path class="c3" d="M947 883l7-4 1-4-6 2zM939 894l7-5 1-6-6 4z"/>
<path class="c32" d="M751 814l6 7 3 2-7-7zM757 821l6 6 3 1-6-5zM763 827l6 4 3 1-6-4zM769 831l7 8 2 0-6-7z"/>
<path class="c30" d="M713 785l4 4 3 1-7-7zM717 789l6 6 3 1-6-6zM723 795l6 1 3 1-6-1z"/>
<path class="c44" d="M917 901l2 1 0-1z"/>
<path class="c16" d="M912 897l5 4 2 0 1-10-6-4zM885 883l6 5 2-6-6-4z"/>
<path class="c0" d="M831 872l6 2 2-2-4-1zM858 875l6 0 2-1-6-1zM812 873l4 2 2-1-4-3zM837 874l6-1 1-1 0-1-5 1zM864 875l6 4 2-2-6-3z"/>
<path class="c20" d="M831 872l4-1-2-1zM810 871l2 2 2-2-2-1zM844 872l1-1-1 0z"/>
<path class="c34" d="M711 782l2 3 0-2z"/>
<path class="c23" d="M660 873l3-29 2-1-2 28z"/>
<path class="c27" d="M663 844l3-29-1 28z"/>
<path class="c29" d="M669 795l5-9 1 0 3 3-6 9z"/>
<path class="c31" d="M674 786l1-1 0 1z"/>
<path class="c44" d="M919 902l6 3 1-4-7 0z"/>
<path class="c16" d="M926 901l1-8-7-2-1 10zM891 888l7 6 2-7-7-5z"/>
<path class="c27" d="M665 843l1-28 2-1z"/>
<path class="c29" d="M666 815l0-9 3-11-1 19z"/>
<path class="c8" d="M954 879l6-7 2-2-7 5zM946 889l6-6 2-4-7 4z"/>
<path class="c38" d="M690 785l6 3 1-3z"/>
<path class="c39" d="M690 785l7 0 1-8-6-3z"/>
<path class="c44" d="M925 905l6 3 1-7-6 0zM906 902l4 5 2-6z"/>
<path class="c16" d="M932 901l1-5-6-3-1 8zM898 894l6 5 2-8-6-4zM904 899l2 3 6-1 0-4-6-6zM870 879l7 4 2-3-7-3z"/>
<path class="c3" d="M816 875l6-2 2-1-6 2z"/>
<path class="c21" d="M822 873l3-1-1 0zM781 844l1 1 3 0-3-3zM660 873l6 0 0-29-3 0z"/>
<path class="c38" d="M696 788l6 5 2-8-7 0z"/>
<path class="c39" d="M704 785l1-2-7-6-1 8z"/>
<path class="c30" d="M675 786l6 4 3 3-6-4z"/>
<path class="c32" d="M776 839l5 5 1-2-4-3zM666 844l0-29-3 29z"/>
<path class="c30" d="M729 796l6 8 3 1-6-8zM735 804l7 6 2 0-6-5zM742 810l6 3 3 1-7-4z"/>
<path class="c0" d="M843 873l6 2 3-3-5-1-3 1z"/>
<path class="c20" d="M847 871l-2 0-1 1zM822 873l6 1 3-2-6 0z"/>
<path class="c21" d="M782 845l6 5 3 0-6-5zM788 850l7 9 2-1-6-8z"/>
<path class="c1" d="M931 908l7-2 0-4-6-1z"/>
<path class="c0" d="M938 902l1-8-6 2-1 5zM849 875l7 3 2-3-6-3zM829 874l6 2 2-2-6-2zM856 878l6 1 2-4-6 0z"/>
<path class="c44" d="M910 907l7 7 2-12-2-1-5 0z"/>
<path class="c16" d="M917 901l-5-4 0 4zM877 883l6 4 2-4-6-3zM883 887l6 6 2-5-6-5zM889 893l7 8 2-7-7-6z"/>
<path class="c38" d="M702 793l6-1 2-7-6 0z"/>
<path class="c39" d="M710 785l1-3-6 1-1 2z"/>
<path class="c28" d="M681 790l2-4 7-1-6 8z"/>
<path class="c33" d="M683 786l4-5 3 4z"/>
<path class="c20" d="M795 859l6 7 3-1-7-7zM801 866l6 7 3-2-6-6zM828 874l1 0 2-2z"/>
<path class="c44" d="M917 914l6 4 2-13-6-3zM923 918l7 4 1-14-6-3zM898 903l4 4 1-5z"/>
<path class="c21" d="M666 873l6 1 0-29-4-1z"/>
<path class="c32" d="M672 845l0-29-1 0-3 28zM750 815l4 6 3 0-6-7z"/>
<path class="c30" d="M672 816l0-19-1 19zM748 813l2 2 1-1z"/>
<path class="c38" d="M708 792l6 6 3-9-4-4-3 0zM714 798l7 6 2-9-6-6zM721 804l6 2 2-10-6-1zM727 806l6 6 2-8-6-8z"/>
<path class="c39" d="M713 785l-2-3-1 3z"/>
<path class="c28" d="M666 806l6-9 3-11-1 0-5 9z"/>
<path class="c33" d="M675 786l0-1-1 1z"/>
<path class="c21" d="M666 873l2-29-2 0z"/>
<path class="c32" d="M668 844l3-28-5-1 0 29z"/>
<path class="c30" d="M671 816l1-19-6 9 0 9zM694 786l2 2-6-3z"/>
<path class="c5" d="M938 906l2-3-2-1z"/>
<path class="c3" d="M940 903l4-4 2-10-7 5-1 8z"/>
<path class="c37" d="M754 821l7 6 2 0-6-6zM761 827l6 4 2 0-6-4zM767 831l6 8 3 0-7-8z"/>
<path class="c0" d="M809 874l5 3 2-2-4-2zM835 876l6-1 2-2-6 1zM841 875l6 2 2-2-6-2zM847 877l7 3 2-2-7-3z"/>
<path class="c20" d="M807 873l2 1 3-1-2-2zM781 845l1 0-1-1z"/>
<path class="c19" d="M952 883l6-9 2-2-6 7z"/>
<path class="c34" d="M687 781l6 3 1 2-4-1z"/>
<path class="c16" d="M896 901l2 2 5-1 1-3-6-5zM862 879l6 4 2-4-6-4z"/>
<path class="c21" d="M672 874l6 0 0-29-6 0z"/>
<path class="c32" d="M678 845l0-29-6 0 0 29z"/>
<path class="c30" d="M678 816l0-15-6-4 0 19z"/>
<path class="c44" d="M902 907l7 10 1-10-4-5-3 0zM909 917l6 9 2-12-7-7zM915 926l6 5 2-13-6-4z"/>
<path class="c16" d="M906 902l-2-3-1 3zM868 883l7 5 2-5-7-4zM875 888l6 4 2-5-6-4zM881 892l6 9 2-8-6-6z"/>
<path class="c1" d="M930 922l6-4 2-12-7 2z"/>
<path class="c35" d="M695 787l4 3 3 3-6-5-2-2zM672 797l6 4 3-11-6-4z"/>
<path class="c36" d="M693 784l2 3-1-1z"/>
<path class="c3" d="M814 877l5-2 3-2-6 2z"/>
<path class="c21" d="M819 875l1 0 2-2zM678 874l6 0 0-28-6-1z"/>
<path class="c37" d="M773 839l7 6 1 0 0-1-5-5z"/>
<path class="c8" d="M944 899l6-10 2-6-6 6z"/>
<path class="c40" d="M738 816l1 2 1-2z"/>
<path class="c38" d="M733 812l5 4 2 0 2-6-7-6z"/>
<path class="c32" d="M684 846l0-29-6-1 0 29z"/>
<path class="c30" d="M684 817l0-24-6 8 0 15zM699 790l6-1 3 3-6 1zM678 801l6-8 1-6-2-1-2 4z"/>
<path class="c20" d="M780 846l6 5 2-1-6-5-1 0zM820 875l6 0 2-1-6-1zM786 851l6 9 3-1-7-9zM792 860l7 8 2-2-6-7zM799 868l6 7 2-2-6-7z"/>
<path class="c37" d="M780 845l0 1 1-1z"/>
<path class="c45" d="M925 934l3 2 0-3zM909 934l4 7 1-7z"/>
<path class="c44" d="M921 931l4 3 3-1 2-11-7-4zM890 905l4 5 1-6z"/>
<path class="c34" d="M685 787l2-6-4 5z"/>
<path class="c40" d="M739 818l6 3 2-5-7 0z"/>
<path class="c38" d="M747 816l1-3-6-3-2 6z"/>
<path class="c5" d="M936 918l6-9 1-5-3-1-2 3z"/>
<path class="c3" d="M943 904l1-5-4 4z"/>
<path class="c35" d="M705 789l6 6 3 3-6-6zM711 795l7 6 3 3-7-6z"/>
<path class="c21" d="M684 874l6 1 0-29-6 0z"/>
<path class="c32" d="M690 846l0-29-6 0 0 29z"/>
<path class="c30" d="M690 817l0-21-6-3 0 24z"/>
<path class="c40" d="M745 821l7 7 2-7-4-6-3 1zM752 828l6 5 3-6-7-6zM758 833l6 4 3-6-6-4z"/>
<path class="c38" d="M750 815l-2-2-1 3z"/>
<path class="c16" d="M887 901l3 4 5-1 1-3-7-8z"/>
<path class="c0" d="M828 876l4 1 3-1-6-2zM854 880l6 1 2-2-6-1zM807 876l4 3 3-2-5-3zM832 877l7-1 2-1-6 1zM860 881l6 5 2-3-6-4zM839 876l6 2 2-1-6-2z"/>
<path class="c20" d="M826 875l2 1 1-2-1 0zM805 875l2 1 2-2-2-1z"/>
<path class="c44" d="M894 910l6 9 2-12-4-4-3 1zM900 919l7 12 2-14-7-10zM907 931l2 3 5 0 1-8-6-9z"/>
<path class="c16" d="M898 903l-2-2-1 3zM866 886l7 6 2-4-7-5zM873 892l6 6 2-6-6-4z"/>
<path class="c2" d="M928 936l2-2-2-1z"/>
<path class="c1" d="M930 934l4-3 2-13-6 4-2 11z"/>
<path class="c35" d="M684 793l6 3 2-9-7 0zM718 801l6 2 3 3-6-2zM724 803l6 7 3 2-6-6z"/>
<path class="c36" d="M692 787l1-3-6-3-2 6z"/>
<path class="c22" d="M950 889l7-14 1-1-6 9z"/>
<path class="c3" d="M811 879l6-2 2-2-5 2z"/>
<path class="c21" d="M690 875l6 0 0-29-6 0zM817 877l1 0 2-2-1 0z"/>
<path class="c32" d="M696 846l0-29-6 0 0 29z"/>
<path class="c30" d="M696 817l0-16-6-5 0 21z"/>
<path class="c45" d="M913 941l7 8 1-16-7 1z"/>
<path class="c44" d="M921 933l0-2-6-5-1 8z"/>
<path class="c38" d="M690 796l6 5 3-11-4-3-3 0z"/>
<path class="c39" d="M695 787l-2-3-1 3z"/>
<path class="c37" d="M764 837l7 8 2-6-6-8z"/>
<path class="c45" d="M920 949l6 5 2-18-3-2-4-1zM905 943l7 12 1-14-4-7-3 1zM912 955l6 9 2-15-7-8z"/>
<path class="c44" d="M925 934l-4-3 0 2zM909 934l-2-3-1 4z"/>
<path class="c17" d="M942 909l2-4-1-1z"/>
<path class="c19" d="M944 905l5-9 1-7-6 10-1 5z"/>
<path class="c21" d="M696 875l6 1 0-29-6-1z"/>
<path class="c32" d="M702 847l0-29-6-1 0 29z"/>
<path class="c30" d="M702 818l0-18-6 1 0 16z"/>
<path class="c20" d="M774 847l3 3 2-4z"/>
<path class="c37" d="M771 845l3 2 5-1 1-1-7-6zM738 817l1 1-1-2z"/>
<path class="c35" d="M730 810l6 6 2 1 0-1-5-4zM696 801l6-1 3-11-6 1z"/>
<path class="c11" d="M934 931l7-12 1-10-6 9z"/>
<path class="c20" d="M777 850l6 5 3-4-6-5-1 0zM818 877l6 0 2-2-6 0zM783 855l7 8 2-3-6-9zM790 863l6 7 3-2-7-8zM796 870l7 7 2-2-6-7z"/>
<path class="c37" d="M780 846l0-1-1 1zM741 818l2 1 2 2-6-3-1-1z"/>
<path class="c2" d="M926 954l7-6 1-13-4-1-2 2zM902 936l3 7 1-8z"/>
<path class="c1" d="M934 935l0-4-4 3zM885 906l1 1 0-1z"/>
<path class="c21" d="M702 876l6 0 0-29-6 0z"/>
<path class="c32" d="M708 847l1-29-7 0 0 29z"/>
<path class="c30" d="M709 818l0-12-7-6 0 18z"/>
<path class="c35" d="M736 816l5 2-3-1z"/>
<path class="c0" d="M879 898l6 8 1 0 1-5-6-9z"/>
<path class="c1" d="M886 907l6 11 2-8-4-5-4 1zM898 928l4 8 4-1 1-4-7-12z"/>
<path class="c0" d="M890 905l-3-4-1 5zM845 878l6 4 3-2-7-3zM824 877l6 2 2-2-4-1zM851 882l7 1 2-2-6-1zM805 878l4 2 2-1-4-3zM858 883l6 6 2-3-6-5zM830 879l6 0 3-3-7 1z"/>
<path class="c38" d="M702 800l7 6 2-11-6-6z"/>
<path class="c44" d="M892 918l6 10 2-9-6-9z"/>
<path class="c37" d="M743 819l6 8 3 1-7-7zM749 827l6 5 3 1-6-5zM755 832l7 4 2 1-6-4zM762 836l6 8 3 1-7-8z"/>
<path class="c21" d="M708 876l6 1 1-29-7-1z"/>
<path class="c32" d="M715 848l0-30-6 0-1 29z"/>
<path class="c30" d="M715 818l0-7-6-5 0 12z"/>
<path class="c38" d="M709 806l6 5 3-10-7-6zM715 811l6 2 3-10-6-2z"/>
<path class="c46" d="M920 966l4 3 1-3z"/>
<path class="c45" d="M918 964l2 2 5 0 1-12-6-5z"/>
<path class="c20" d="M824 877l4-1-2-1zM803 877l2 1 2-2-2-1z"/>
<path class="c22" d="M949 896l6-19 2-2-7 14z"/>
<path class="c3" d="M809 880l6-2 2-1-6 2z"/>
<path class="c21" d="M714 877l7 0 0-29-6 0zM815 878l3-1-1 0z"/>
<path class="c32" d="M721 848l0-29-6-1 0 30z"/>
<path class="c30" d="M721 819l0-6-6-2 0 7z"/>
<path class="c17" d="M941 919l4-12-1-2-2 4z"/>
<path class="c19" d="M945 907l2-5 2-6-5 9z"/>
<path class="c10" d="M933 948l4-11-3-2z"/>
<path class="c11" d="M937 937l2-4 2-14-7 12 0 4z"/>
<path class="c7" d="M924 969l3-3-2 0z"/>
<path class="c6" d="M927 966l4-3 2-15-7 6-1 12z"/>
<path class="c38" d="M721 813l6 6 1 0 2-9-6-7z"/>
<path class="c0" d="M864 889l7 6 2-3-7-6zM871 895l6 6 2-3-6-6zM836 879l7 2 2-3-6-2z"/>
<path class="c20" d="M721 877l6 1 0-30-6 0zM773 849l1 1 3 0-3-3z"/>
<path class="c37" d="M727 848l1-29-1 0-6 0 0 29zM768 844l5 5 1-2-3-2z"/>
<path class="c35" d="M727 819l-6-6 0 6z"/>
<path class="c40" d="M728 819l6 5 2-6z"/>
<path class="c38" d="M736 818l0-2-6-6-2 9z"/>
<path class="c46" d="M911 967l5 9 2-10z"/>
<path class="c45" d="M910 965l1 2 7-1 0-2-6-9z"/>
<path class="c2" d="M903 952l7 13 2-10-7-12zM897 938l6 14 2-9-3-7z"/>
<path class="c20" d="M774 850l7 5 2 0-6-5z"/>
<path class="c1" d="M897 936l0 2 5-2-4-8zM881 908l2 4 3-5-1-1zM890 924l7 12 1-8-6-10z"/>
<path class="c0" d="M877 901l4 7 4-2-6-8zM843 881l6 3 2-2-6-4z"/>
<path class="c20" d="M727 878l6 0 0-29-6-1zM815 878l6 1 3-2-6 0zM781 855l6 9 3-1-7-8zM787 864l7 7 2-1-6-7z"/>
<path class="c37" d="M733 849l1-25-6-5-1 29z"/>
<path class="c46" d="M916 976l7 6 1-13-4-3-2 0z"/>
<path class="c45" d="M920 966l-2-2 0 2z"/>
<path class="c40" d="M734 824l6 3 3-8-2-1-5 0z"/>
<path class="c38" d="M741 818l-5-2 0 2z"/>
<path class="c1" d="M883 912l7 12 2-6-6-11z"/>
<path class="c40" d="M740 827l7 7 2-7-6-8zM747 834l6 5 2-7-6-5zM753 839l6 4 3-7-7-4zM759 843l7 7 2-6-6-8z"/>
<path class="c0" d="M822 879l6 2 2-2-6-2zM849 884l6 2 3-3-7-1z"/>
<path class="c20" d="M733 878l6 1 1-30-7 0zM794 871l6 7 3-1-7-7zM821 879l1 0 2-2z"/>
<path class="c37" d="M740 849l0-22-6-3-1 25z"/>
<path class="c13" d="M931 963l6-18 1-7-1-1-4 11z"/>
<path class="c17" d="M938 938l1-5-2 4z"/>
<path class="c7" d="M923 982l6-8 1-6-3-2-3 3z"/>
<path class="c6" d="M930 968l1-5-4 3z"/>
<path class="c18" d="M939 933l6-22 1-3-1-1-4 12z"/>
<path class="c22" d="M946 908l1-6-2 5zM947 902l6-23 2-2-6 19z"/>
<path class="c0" d="M802 879l5 3 2-2-4-2zM855 886l7 6 2-3-6-6zM828 881l6-1 2-1-6 0z"/>
<path class="c20" d="M800 878l2 1 3-1-2-1zM739 879l6 0 1-30-6 0z"/>
<path class="c37" d="M746 849l1-15-7-7 0 22z"/>
<path class="c0" d="M862 892l6 6 3-3-7-6zM868 898l7 7 2-4-6-6zM834 880l6 2 3-1-7-2z"/>
<path class="c20" d="M745 879l6 0 1-29-6-1z"/>
<path class="c37" d="M752 850l1-11-6-5-1 15z"/>
<path class="c4" d="M908 972l6 11 2-7-5-9-2 1z"/>
<path class="c2" d="M911 967l-1-2-1 3z"/>
<path class="c4" d="M906 969l2 3 1-4zM914 983l7 7 2-8-7-6z"/>
<path class="c2" d="M901 958l5 11 3-1 1-3-7-13z"/>
<path class="c3" d="M807 882l5-2 3-2-6 2z"/>
<path class="c21" d="M812 880l1 0 2-2z"/>
<path class="c41" d="M766 850l6 5 2-5-1-1z"/>
<path class="c40" d="M766 850l7-1-5-5z"/>
<path class="c6" d="M895 942l6 16 2-6-6-14-1 1z"/>
<path class="c5" d="M897 938l0-2-1 3z"/>
<path class="c2" d="M894 940l1 2 1-3z"/>
<path class="c1" d="M888 929l6 11 2-1 1-3-7-12zM881 916l7 13 2-5-7-12zM878 910l3 6 2-4-2-4z"/>
<path class="c0" d="M875 905l3 5 3-2-4-7zM840 882l7 3 2-1-6-3z"/>
<path class="c20" d="M751 879l7 1 1-30-7 0z"/>
<path class="c37" d="M759 850l0-7-6-4-1 11z"/>
<path class="c41" d="M772 855l6 5 3-5-7-5z"/>
<path class="c12" d="M929 974l2-5-1-1zM909 972l3 5 2 6-6-11-1-2z"/>
<path class="c13" d="M931 969l4-15 2-9-6 18-1 5zM906 967l3 5-2-2z"/>
<path class="c20" d="M778 860l7 8 2-4-6-9zM813 880l6 0 2-1-6-1z"/>
<path class="c9" d="M921 990l6-8 2-8-6 8z"/>
<path class="c15" d="M937 945l1-6 0-1z"/>
<path class="c18" d="M938 939l5-21 2-7-6 22-1 5zM945 911l1-2 0-1z"/>
<path class="c0" d="M821 881l4 1 3-1-6-2z"/>
<path class="c20" d="M758 880l6 0 2-30-7 0zM785 868l6 6 3-3-7-7zM791 874l7 6 2-2-6-7zM819 880l2 1 1-2-1 0z"/>
<path class="c37" d="M766 850l-7-7 0 7z"/>
<path class="c22" d="M946 909l6-28 1-2-6 23-1 6z"/>
<path class="c0" d="M847 885l6 2 2-1-6-2zM799 881l5 3 3-2-5-3zM853 887l7 5 2 0-7-6z"/>
<path class="c20" d="M764 880l6 1 2-26-6-5zM798 880l1 1 3-2-2-1z"/>
<path class="c20" d="M770 881l6 0 2-21-6-5z"/>
<path class="c3" d="M825 882l6 0 1-1 2-1-6 1zM804 884l6-2 2-1 0-1-5 2zM860 892l6 7 2-1-6-6zM866 899l7 6 2 0-7-7z"/>
<path class="c21" d="M812 881l1-1-1 0z"/>
<path class="c12" d="M907 970l1 2-2-3zM912 977l7 6 2 7-7-7z"/>
<path class="c13" d="M899 954l7 13 1 3-1-1-5-11z"/>
<path class="c14" d="M927 982l3-11 1-2-2 5z"/>
<path class="c15" d="M930 971l4-11 1-6-4 15zM935 954l3-13 0-2-1 6z"/>
<path class="c41" d="M776 881l7 1 2-14-7-8z"/>
<path class="c10" d="M894 942l5 12 2 4-6-16-1-2z"/>
<path class="c11" d="M893 939l1 3 0-2z"/>
<path class="c11" d="M886 927l7 12 1 1-6-11zM879 915l7 12 2 2-7-13z"/>
<path class="c0" d="M832 882l6 1 2-1-6-2-2 1zM810 882l5 0-3-1zM838 883l7 3 2-1-7-3z"/>
<path class="c20" d="M815 882l2 0 2-2-6 0-1 1z"/>
<path class="c18" d="M938 941l4-17 1-6-5 21zM943 918l2-7 1-2-1 2z"/>
<path class="c5" d="M877 912l2 3 2 1-3-6z"/>
<path class="c3" d="M873 905l4 7 1-2-3-5zM845 886l6 1 2 0-6-2z"/>
<path class="c41" d="M783 882l6 0 2-8-6-6z"/>
<path class="c12" d="M919 983l6-7 2 6-6 8zM925 976l1-3 4-2-3 11zM912 973l0 4-3-5z"/>
<path class="c22" d="M945 911l5-29 2-1-6 28z"/>
<path class="c0" d="M817 882l6 2 2-2-4-1zM823 884l6-1 2-1-6 0z"/>
<path class="c20" d="M789 882l6 1 3-3-7-6zM817 882l4-1-2-1z"/>
<path class="c3" d="M795 883l7 0 2 1-5-3zM851 887l6 4 3 1-7-5z"/>
<path class="c21" d="M795 883l7 0-3-2-1-1z"/>
<path class="c3" d="M802 883l6 1 2-2-6 2z"/>
<path class="c8" d="M857 891l7 5 2 3-6-7zM864 896l7 5 2 4-7-6z"/>
<path class="c15" d="M934 960l3-17 1-2-3 13zM900 945l4 6 2 16-7-13-1-10z"/>
<path class="c18" d="M937 943l3-14 2-5-4 17zM897 940l3 5-2-1z"/>
<path class="c13" d="M926 973l6-17 2 4-4 11zM904 951l6 7 2 15-3-1-3-5z"/>
<path class="c0" d="M829 883l7 2 2-2-6-1-1 0zM808 884l6 0 1-2-5 0zM836 885l6 2 3-1-7-3z"/>
<path class="c20" d="M832 882l0-1-1 1zM808 884l6 0 3-2-2 0z"/>
<path class="c17" d="M878 913l1 2-2-3z"/>
<path class="c19" d="M871 901l6 8 1 4-1-1-4-7z"/>
<path class="c17" d="M880 914l4 5 2 8-7-12-1-2z"/>
<path class="c19" d="M877 909l3 5-2-1z"/>
<path class="c15" d="M898 944l1 10-5-12z"/>
<path class="c18" d="M890 928l7 12 1 4-4-2-1-3zM942 924l1-11 2-2-2 7zM884 919l6 9 3 11-7-12z"/>
<path class="c22" d="M943 913l5-29 2-2-5 29z"/>
<path class="c12" d="M918 974l1 9-7-6 0-4z"/>
<path class="c13" d="M910 958l7 5 1 11-6-1zM932 956l2-11 3-2-3 17zM903 945l1 6-4-6z"/>
<path class="c3" d="M814 884l7 1 2-1-6-2zM842 887l7 0 2 0-6-1zM849 887l6 3 2 1-6-4z"/>
<path class="c21" d="M814 884l7 1-4-3z"/>
<path class="c9" d="M925 974l0 2-6 7-1-9z"/>
<path class="c10" d="M917 963l6-5 2 16-7 0z"/>
<path class="c0" d="M821 885l6 0 2-2-6 1z"/>
<path class="c17" d="M934 945l4-18 2 2-3 14z"/>
<path class="c8" d="M855 890l7 4 2 2-7-5z"/>
<path class="c3" d="M827 885l6 1 3-1-7-2z"/>
<path class="c18" d="M940 929l2-14 1-2-1 11zM883 915l1 4-4-5z"/>
<path class="c22" d="M942 915l4-29 2-2-5 29z"/>
<path class="c19" d="M862 894l6 2 3 5-7-5z"/>
<path class="c9" d="M926 973l-1 3 0-2z"/>
<path class="c10" d="M923 958l5-11 2 0 2 9-6 17-1 1z"/>
<path class="c11" d="M928 947l2-5 0 5z"/>
<path class="c3" d="M833 886l7 0 2 1-6-2z"/>
<path class="c22" d="M868 896l7 5 2 8-6-8zM875 901l6 6 2 8-3-1-3-5z"/>
<path class="c3" d="M840 886l6 1 3 0-7 0z"/>
<path class="c18" d="M889 916l1 12-6-9-1-4z"/>
<path class="c22" d="M881 907l7 5 1 4-6-1z"/>
<path class="c17" d="M893 917l2 3 2 20-7-12-1-12zM895 920l6 6 2 19-3 0-3-5z"/>
<path class="c19" d="M888 912l5 5-4-1z"/>
<path class="c13" d="M909 946l1 12-6-7-1-6zM934 945l-2 11-2-9z"/>
<path class="c17" d="M901 926l7 4 1 16-6-1zM930 942l6-22 2 7-4 18-4 2z"/>
<path class="c8" d="M846 887l7 0 2 3-6-3z"/>
<path class="c10" d="M916 947l1 16-7-5-1-12z"/>
<path class="c11" d="M908 930l6 3 2 14-7-1z"/>
<path class="c19" d="M853 887l6 1 3 6-7-4z"/>
<path class="c18" d="M938 927l2-10 2-2-2 14z"/>
<path class="c22" d="M940 917l4-29 2-2-4 29zM859 888l7 0 2 8-6-2z"/>
<path class="c10" d="M922 947l1 11-6 5-1-16z"/>
<path class="c11" d="M914 933l7-3 1 17-6 0z"/>
<path class="c22" d="M866 888l6 1 3 12-7-5z"/>
<path class="c19" d="M872 889l7 0 2 18-6-6z"/>
<path class="c10" d="M928 947l-5 11-1-11z"/>
<path class="c11" d="M921 930l7-9 2 21-2 5-6 0z"/>
<path class="c17" d="M936 920l0-1 4-2-2 10z"/>
<path class="c19" d="M936 919l8-31-4 29zM879 889l7 1 2 22-7-5z"/>
<path class="c11" d="M928 921l8-1-6 22zM894 918l1 2-2-3z"/>
<path class="c8" d="M886 890l6 0 2 28-1-1-5-5z"/>
<path class="c11" d="M901 918l0 8-6-6-1-2z"/>
<path class="c8" d="M892 890l7 1 2 27-7 0z"/>
<path class="c22" d="M936 919l7-29 1-2z"/>
<path class="c11" d="M907 919l1 11-7-4 0-8z"/>
<path class="c8" d="M899 891l6 0 2 28-6-1z"/>
<path class="c17" d="M928 921l0-1 8-1 0 1z"/>
<path class="c19" d="M928 920l6-11 2 10z"/>
<path class="c11" d="M914 920l0 13-6-3-1-11z"/>
<path class="c8" d="M905 891l7 1 2 28-7-1z"/>
<path class="c19" d="M934 909l9-19-7 29z"/>
<path class="c11" d="M920 920l1 10-7 3 0-13z"/>
<path class="c8" d="M912 892l7 0 1 28-6 0z"/>
<path class="c11" d="M927 920l1 1-7 9-1-10z"/>
<path class="c8" d="M919 892l8 28-7 0z"/>
<path class="c22" d="M934 909l7-17 2-2z"/>
<path class="c8" d="M925 893l9 16-6 11z"/>
<path class="c11" d="M928 920l0 1-1-1z"/>
<path class="c8" d="M919 892l6 1 3 27-1 0z"/>
<path class="c19" d="M932 893l9-1-7 17z"/>
<path class="c19" d="M925 893l7 0 2 16z"/>
<path class="c8" d="M932 893l7 1 2-2z"/></g>
<rect x="519.8" y="392.1" width="3.5" height="3.5" fill="#9e480e" stroke="#9e480e" stroke-opacity="0.6" stroke-width="0.4"/>
<text x="524.7" y="396.0" class="lg" textLength="8.0" lengthAdjust="spacingAndGlyphs">3-4</text>
<rect x="519.8" y="403.9" width="3.5" height="3.5" fill="#264478" stroke="#264478" stroke-opacity="0.6" stroke-width="0.4"/>
<text x="524.7" y="407.8" class="lg" textLength="8.0" lengthAdjust="spacingAndGlyphs">2-3</text>
<rect x="519.8" y="415.7" width="3.5" height="3.5" fill="#70ad47" stroke="#70ad47" stroke-opacity="0.6" stroke-width="0.4"/>
<text x="524.7" y="419.6" class="lg" textLength="8.0" lengthAdjust="spacingAndGlyphs">1-2</text>
<rect x="519.8" y="427.5" width="3.5" height="3.5" fill="#5b9bd5" stroke="#5b9bd5" stroke-opacity="0.6" stroke-width="0.4"/>
<text x="524.7" y="431.4" class="lg" textLength="8.0" lengthAdjust="spacingAndGlyphs">0-1</text>
<rect x="519.8" y="439.2" width="3.5" height="3.5" fill="#ffc000" stroke="#ffc000" stroke-opacity="0.6" stroke-width="0.4"/>
<text x="524.7" y="443.2" class="lg" textLength="11.1" lengthAdjust="spacingAndGlyphs">-1-0</text>
<rect x="519.8" y="451.1" width="3.5" height="3.5" fill="#a5a5a5" stroke="#a5a5a5" stroke-opacity="0.6" stroke-width="0.4"/>
<text x="524.7" y="455.0" class="lg" textLength="14.0" lengthAdjust="spacingAndGlyphs">-2--1</text>
<rect x="519.8" y="462.9" width="3.5" height="3.5" fill="#ed7d31" stroke="#ed7d31" stroke-opacity="0.6" stroke-width="0.4"/>
<text x="524.7" y="466.8" class="lg" textLength="14.0" lengthAdjust="spacingAndGlyphs">-3--2</text>
<rect x="519.8" y="474.7" width="3.5" height="3.5" fill="#4472c4" stroke="#4472c4" stroke-opacity="0.6" stroke-width="0.4"/>
<text x="524.7" y="478.6" class="lg" textLength="14.0" lengthAdjust="spacingAndGlyphs">-4--3</text>
<text x="322.1" y="381.7" class="ax" text-anchor="end">4</text>
<text x="322.7" y="396.1" class="ax" text-anchor="end">3</text>
<text x="323.3" y="410.4" class="ax" text-anchor="end">2</text>
<text x="323.9" y="424.5" class="ax" text-anchor="end">1</text>
<text x="324.5" y="438.6" class="ax" text-anchor="end">0</text>
<text x="325.1" y="452.6" class="ax" text-anchor="end">-1</text>
<text x="325.7" y="466.5" class="ax" text-anchor="end">-2</text>
<text x="326.3" y="480.3" class="ax" text-anchor="end">-3</text>
<text x="326.8" y="493.9" class="ax" text-anchor="end">-4</text>
<text class="mpa" transform="translate(311.6,433.0) rotate(-90)" text-anchor="middle">[MPa]</text>
<text x="45.2" y="345.9" class="tt" textLength="155.4" lengthAdjust="spacingAndGlyphs" fill="#595959" stroke="#595959">Excel generated Membrane Shear Stress</text>
<text x="207.3" y="345.7" class="tau" fill="#595959">τ</text><text x="211.9" y="348.6" class="sub" fill="#595959">xy</text>
<text x="336.9" y="345.2" class="tt" textLength="143.9" lengthAdjust="spacingAndGlyphs" fill="#262626" stroke="#262626">Fourier series calculated Shear Stress</text>
<text x="486.4" y="345.7" class="tau" fill="#262626">τ</text><text x="491.0" y="348.6" class="sub" fill="#262626">xy</text>
<text x="275.5" y="323.9" class="cap" text-anchor="middle">(<tspan font-weight="bold">a</tspan>)</text>
<text x="132.9" y="535.3" class="cap" text-anchor="middle">(<tspan font-weight="bold">b</tspan>)</text>
<text x="417.6" y="535.3" class="cap" text-anchor="middle">(<tspan font-weight="bold">c</tspan>)</text>
</svg></body></html>
